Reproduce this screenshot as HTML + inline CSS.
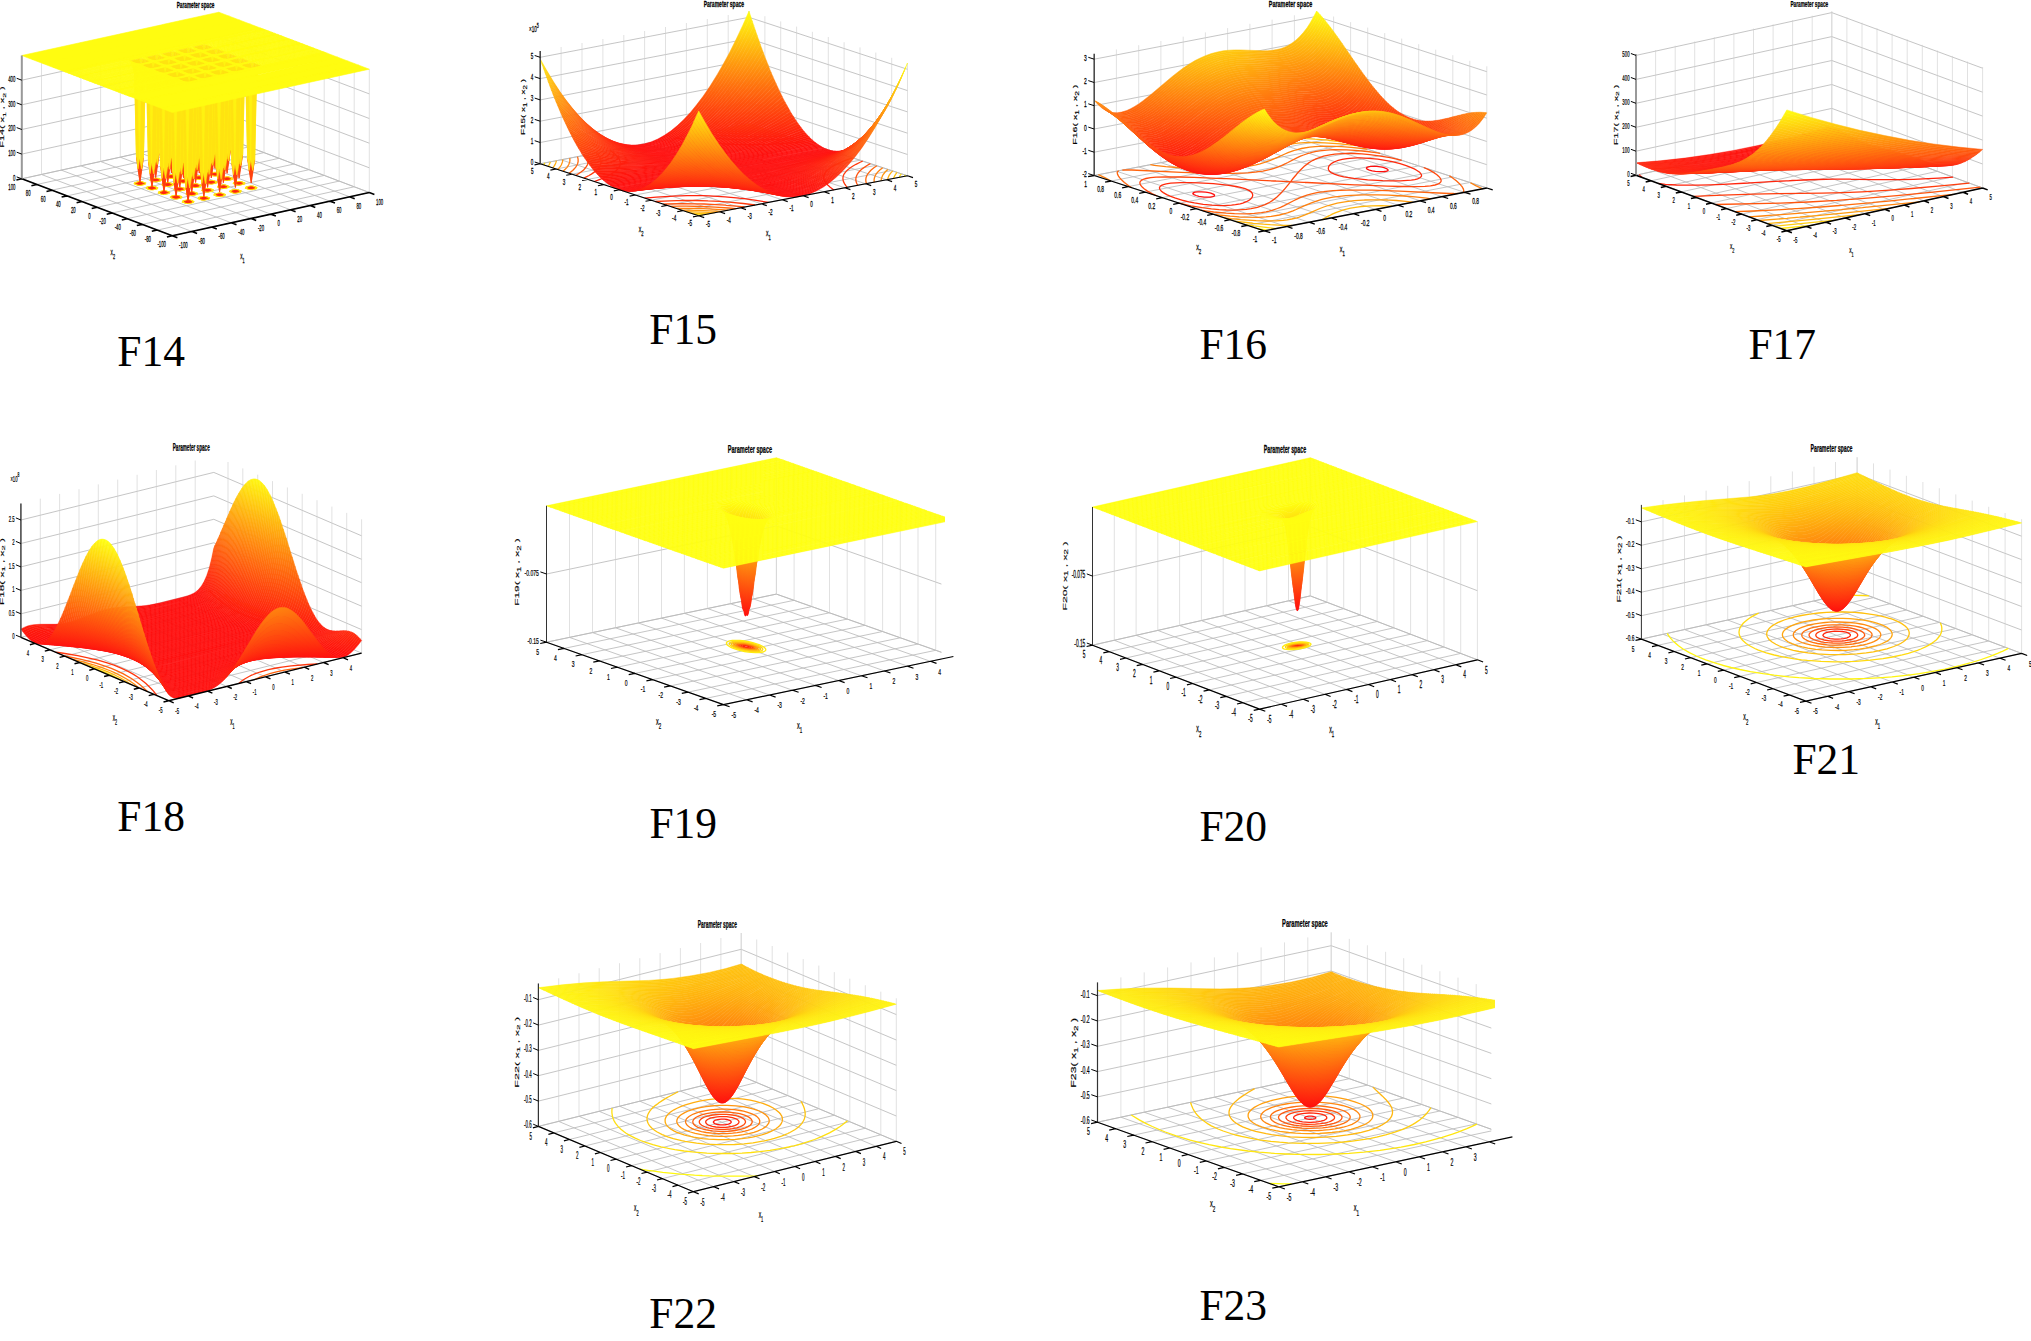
<!DOCTYPE html>
<html><head><meta charset="utf-8"><title>F14-F23</title>
<style>html,body{margin:0;padding:0;background:#fff;overflow:hidden}svg{display:block}
.g{fill:none;stroke:#bbb;stroke-width:.85}.v{fill:none;stroke:#ccc;stroke-width:.6}.a{fill:none;stroke:#000}.t{fill:none;stroke:#000;stroke-width:1}
.k{fill:none;stroke-width:13}path[class^=c]{stroke-width:6;stroke-linejoin:round}
text{font-family:"Liberation Sans",sans-serif;fill:#000;stroke:#000;stroke-width:.25}
.b{font-family:"Liberation Serif",serif;font-size:43.5px;stroke:none}
.c9{fill:#ff3d0e;stroke:#ff3d0e}.c10{fill:#ff420e;stroke:#ff420e}.c11{fill:#ff470e;stroke:#ff470e}.c42{fill:#ffe310;stroke:#ffe310}.c45{fill:#fff210;stroke:#fff210}.c47{fill:#fffc10;stroke:#fffc10}</style></head><body>
<svg width="2031" height="1341" viewBox="0 0 2031 1341">
<defs><linearGradient id="G15" gradientUnits="userSpaceOnUse" x1="6987" y1="2158" x2="6779" y2="1070"><stop offset="0" stop-color="#ff0d0d"/><stop offset="1" stop-color="#ffff10"/></linearGradient><linearGradient id="G16" gradientUnits="userSpaceOnUse" x1="12644" y1="2083" x2="12460" y2="1126"><stop offset="0" stop-color="#ff0d0d"/><stop offset="1" stop-color="#ffff10"/></linearGradient><linearGradient id="G17" gradientUnits="userSpaceOnUse" x1="17868" y1="2307" x2="17616" y2="1154"><stop offset="0" stop-color="#ff0d0d"/><stop offset="1" stop-color="#ffff10"/></linearGradient><linearGradient id="G18" gradientUnits="userSpaceOnUse" x1="1687" y1="7007" x2="1376" y2="5746"><stop offset="0" stop-color="#ff0d0d"/><stop offset="1" stop-color="#ffff10"/></linearGradient><linearGradient id="G19" gradientUnits="userSpaceOnUse" x1="7235" y1="6742" x2="7023" y2="5726"><stop offset="0" stop-color="#ff0d0d"/><stop offset="1" stop-color="#ffff10"/></linearGradient><clipPath id="gF19"><rect x="0" y="0" width="941.4" height="1341"/></clipPath><clipPath id="sF19"><rect x="0" y="0" width="945" height="1341"/></clipPath><linearGradient id="G20" gradientUnits="userSpaceOnUse" x1="12596" y1="6740" x2="12374" y2="5759"><stop offset="0" stop-color="#ff0d0d"/><stop offset="1" stop-color="#ffff10"/></linearGradient><linearGradient id="G21" gradientUnits="userSpaceOnUse" x1="18059" y1="6770" x2="17827" y2="5720"><stop offset="0" stop-color="#ff0d0d"/><stop offset="1" stop-color="#ffff10"/></linearGradient><linearGradient id="G22" gradientUnits="userSpaceOnUse" x1="6935" y1="11724" x2="6645" y2="10559"><stop offset="0" stop-color="#ff0d0d"/><stop offset="1" stop-color="#ffff10"/></linearGradient><linearGradient id="G23" gradientUnits="userSpaceOnUse" x1="12787" y1="11759" x2="12523" y2="10526"><stop offset="0" stop-color="#ff0d0d"/><stop offset="1" stop-color="#ffff10"/></linearGradient><clipPath id="gF23"><rect x="0" y="0" width="1491.3" height="1341"/></clipPath><clipPath id="sF23"><rect x="0" y="0" width="1495" height="1341"/></clipPath></defs>
<g id="F14"><path class="g" d="M172.3 235.8L21.8 178.8M192 231.5L41.5 174.5M211.7 227.1L61.2 170.1M231.4 222.8L80.9 165.8M251.1 218.5L100.6 161.5M270.8 214.2L120.3 157.2M290.5 209.8L140 152.8M310.2 205.5L159.7 148.5M329.9 201.2L179.4 144.2M349.6 196.8L199.1 139.8M369.3 192.5L218.8 135.5M172.3 235.8L369.3 192.5M157.2 230.1L354.2 186.8M142.2 224.4L339.2 181.1M127.2 218.7L324.2 175.4M112.1 213L309.1 169.7M97.1 207.3L294.1 164M82 201.6L279 158.3M67 195.9L264 152.6M51.9 190.2L248.9 146.9M36.8 184.5L233.8 141.2M21.8 178.8L218.8 135.5M21.8 178.8L218.8 135.5M218.8 135.5L369.3 192.5M21.8 154.1L218.8 110.8M218.8 110.8L369.3 167.8M21.8 129.5L218.8 86.2M218.8 86.2L369.3 143.2M21.8 104.8L218.8 61.5M218.8 61.5L369.3 118.5M21.8 80.2L218.8 36.9M218.8 36.9L369.3 93.9"/><path class="v" d="M21.8 178.8L21.8 55.5M41.5 174.5L41.5 51.2M61.2 170.1L61.2 46.8M80.9 165.8L80.9 42.5M100.6 161.5L100.6 38.2M120.3 157.2L120.3 33.9M140 152.8L140 29.5M159.7 148.5L159.7 25.2M179.4 144.2L179.4 20.9M199.1 139.8L199.1 16.5M218.8 135.5L218.8 12.2M369.3 192.5L369.3 69.2M354.2 186.8L354.2 63.5M339.2 181.1L339.2 57.8M324.2 175.4L324.2 52.1M309.1 169.7L309.1 46.4M294.1 164L294.1 40.7M279 158.3L279 35M264 152.6L264 29.3M248.9 146.9L248.9 23.6M233.8 141.2L233.8 17.9M218.8 135.5L218.8 12.2"/><g transform="scale(.1)"><g class="k" stroke-width="6"><path stroke="#ff250d" d="M1894 2022l-30-1 4-9 30 1-4 9M2051 1987l-28-1 4-8 27 1-3 8M2207 1952l-25-1 3-7 25 1-3 7M2364 1917l-23-1 3-7 23 1-3 7M2520 1882l-20-1 3-6 20 1-3 6M1774 1976l-30-1 4-8 29 1-3 8M1930 1941l-27-1 4-8 27 1-4 8M2087 1906l-25-1 3-7 25 1-3 7M2243 1871l-22-1 3-6 22 1-3 6M2399 1836l-19-1 3-5 19 0-3 6M1653 1931l-29-2 4-8 29 1-4 9M1809 1896l-26-2 3-7 27 1-4 8M1966 1860l-24-1 3-6 24 1-3 6M2122 1825l-21 0 3-7 21 1-3 6M2279 1790l-19 0 3-6 18 1-2 5M1532 1885l-28-1 4-9 28 2-4 8M1689 1850l-26-1 3-8 26 1-3 8M1845 1815l-23-1 3-7 23 1-3 7M2002 1780l-21-1 3-6 21 1-3 6M2158 1745l-18-1 2-5 19 0-3 6M1412 1839l-28-1 3-8 28 1-3 8M1568 1804l-25-1 3-7 26 1-4 7M1725 1769l-23-1 3-6 23 0-3 7M1881 1734l-20-1 3-6 20 1-3 6M2038 1699l-18-1 2-5 18 1-2 5"/><path stroke="#ff3d0e" d="M1898 2023l-22 4-17-5-12-6 0-1 40-8 16 5 12 6 0 1-17 4M2055 1989l-23 3-26-10 0-2 16-4 23-3 27 10-17 6M2213 1954l-17 3-7 0-24-10 1-2 14-4 24-2 14 4 10 5-1 2-14 4M2370 1919l-15 3-10 0-12-4-10-5 2-3 13-3 15-3 10 1 12 3 10 5-2 3-13 3M2528 1885l-14 2-12-1-12-3-8-4 2-3 11-4 14-2 12 0 20 8-2 3-11 4M1777 1978l-22 3-16-5-12-6 17-5 22-3 17 5 11 5 0 1-17 5M1935 1943l-23 3-15-5-11-5 0-1 16-5 18-3 20 5 11 5-1 2-15 4M2092 1908l-16 3-8 0-14-4-10-5 1-2 15-4 16-3 8 0 13 4 10 5-1 2-14 4M2250 1874l-15 2-11 0-21-8 1-3 13-4 15-2 11 0 21 8-1 3-13 4M2407 1839l-13 2-13 0-19-7 2-4 11-3 14-3 12 1 11 3 8 4-1 4-12 3M1657 1932l-23 3-15-4-12-6 0-1 17-5 22-3 16 5 12 6-17 5M1814 1897l-23 3-15-4-10-5 0-2 15-4 24-3 15 4 10 6 0 1-16 4M1972 1863l-17 3-8-1-13-4-10-5 1-2 14-4 17-3 8 1 13 4 10 5-1 2-14 4M2129 1828l-15 3-10-1-12-3-9-5 1-3 13-3 15-3 10 1 12 3 9 4-1 4-13 3M2287 1793l-13 3-14-1-10-3-8-4 1-4 12-3 13-2 13 0 19 7-2 4-11 3M1537 1886l-23 4-16-5-11-6 0-1 16-4 23-3 16 4 11 6 0 1-16 4M1694 1852l-24 3-25-10 1-2 15-4 24-3 25 10-1 2-15 4M1851 1817l-16 3-8 0-13-4-10-5 1-3 30-6 8 0 13 4 10 5-1 2-14 4M2009 1782l-15 3-11-1-12-3-8-4 1-3 12-4 15-2 11 0 21 8-2 3-12 3M2166 1748l-13 2-13-1-18-6 1-4 11-3 13-3 14 1 10 3 8 4-2 4-11 3M1416 1841l-23 3-27-10 17-6 23-3 27 10-17 6M1574 1806l-24 3-14-4-11-5 1-2 15-4 17-3 7 0 14 4 10 5-1 2-14 4M1731 1771l-16 3-9 0-13-4-9-5 1-2 13-4 16-3 9 1 23 8-2 3-13 3M1888 1737l-14 2-11 0-20-8 1-3 26-6 12 1 11 3 9 4-2 3-12 4M2046 1702l-13 2-14 0-10-3-8-4 2-4 11-3 12-2 15 0 10 3 7 4-1 4-11 3"/><path stroke="#ff550e" d="M1879 2028l-5 0-30-12 0-1 18-5 26-4 31 12-19 6-21 4M2036 1993l-5 0-17-5-13-6 1-2 18-5 26-3 17 5 13 6-19 6-21 4M2193 1958l-4 0-17-5-13-6 19-6 25-4 17 5 13 7 0 1-18 5-22 3M2351 1924l-4 0-30-12 0-1 19-5 21-4 21 6 13 6-19 6-21 4M2508 1889l-20-5-13-6 0-2 43-8 17 5 13 6 0 1-18 5-22 4M1758 1982l-5 0-17-5-13-6 1-2 18-5 26-3 17 5 13 6 0 2-40 8M1916 1948l-22-6-13-6 19-6 25-4 18 5 13 7-19 6-21 4M2073 1913l-4 0-30-12 0-1 19-5 21-4 21 6 13 6-19 6-21 4M2231 1878l-4 0-17-5-13-6 0-2 43-8 17 5 13 6 0 1-18 5-21 4M2388 1843l-4 0-17-5-13-6 19-6 25-4 30 12-19 6-21 3M1638 1937l-22-6-13-6 19-6 26-4 17 5 13 7-19 6-21 4M1795 1902l-4 0-30-12 0-1 18-5 22-4 21 6 13 6 0 1-19 5-21 4M1953 1867l-4 0-18-5-13-6 1-2 43-8 18 5 13 6-1 2-39 8M2110 1833l-21-6-13-6 19-6 25-4 30 12 0 1-19 5-21 4M2268 1798l-4 0-30-12 0-1 19-5 24-3 17 5 13 6 0 1-18 5-21 4M1517 1891l-4 0-17-5-13-7 0-1 18-5 22-4 21 6 13 6 0 1-19 5-21 4M1675 1856l-5 0-17-5-13-6 1-2 39-8 5 0 17 5 13 6-1 2-18 5-21 3M1832 1822l-21-6-13-6 19-6 25-4 30 12 0 1-19 5-21 4M1990 1787l-4 0-17-5-13-7 0-1 18-5 26-3 17 5 13 6-19 6-21 4M2147 1752l-20-5-13-6 0-1 18-5 25-4 17 5 13 7 0 1-40 8M1397 1845l-5 0-17-5-13-6 1-2 39-8 5 0 17 5 13 6-1 2-18 5-21 3M1554 1811l-4 0-30-12 0-1 19-5 25-4 30 12 0 1-18 5-22 4M1712 1776l-4 0-17-5-13-7 0-1 18-5 26-3 17 5 13 6-19 6-21 4M1869 1741l-21-5-13-6 19-6 25-4 17 5 13 7 0 1-19 5-21 3M2027 1707l-21-6-13-6 19-6 21-4 21 6 13 6-19 6-21 4"/><path stroke="#ff6e0e" d="M1881 2029l-10-1-17-5-13-6 1-3 39-9 10 1 17 5 13 6-1 3-18 5-21 4M2038 1994l-9 0-17-6-14-6 2-3 39-8 10 0 17 5 13 7-1 2-40 9M2196 1959l-10 0-16-5-14-6 1-3 19-5 21-4 9 0 30 12-1 3-39 8M2353 1925l-9-1-17-5-13-6 1-3 19-5 21-3 9 0 16 5 14 6-1 3-40 9M2511 1890l-9 0-30-12 1-2 18-5 21-4 9 0 30 12-1 2-18 5-21 4M1760 1983l-10 0-16-6-14-6 2-3 39-8 10 0 17 5 13 7-1 2-40 9M1918 1948l-10 0-16-5-14-6 1-3 19-5 21-4 9 1 17 5 13 6-1 3-39 8M2075 1914l-9-1-17-5-13-6 1-3 19-5 21-3 9 0 17 5 13 6-1 3-40 9M2233 1879l-9 0-30-12 1-2 18-5 21-4 9 0 30 12-1 2-18 5-21 4M2390 1844l-9 0-16-5-14-6 2-3 18-5 21-4 9 1 16 5 14 6-1 3-40 8M1640 1937l-10 0-17-5-13-6 1-3 40-9 9 1 17 5 14 6-2 3-18 5-21 3M1797 1903l-9-1-17-5-13-6 1-3 18-5 21-3 10 0 17 5 13 6-1 3-40 9M1955 1868l-9 0-31-12 2-2 18-5 21-4 9 0 31 12-2 2-18 5-21 4M2112 1833l-9 0-16-5-14-6 1-3 40-9 9 1 17 5 13 6-1 3-19 5-21 3M2270 1799l-9-1-17-5-13-6 1-3 40-8 8 0 17 5 13 6-1 3-18 5-21 4M1519 1892l-9-1-17-5-13-6 1-3 18-5 21-3 10 0 17 5 13 6-1 3-40 9M1677 1857l-10 0-30-12 2-2 18-5 21-4 10 0 30 12-2 2-18 5-21 4M1834 1822l-9 0-17-5-13-6 1-3 40-9 9 1 17 5 13 6-1 3-19 5-21 3M1992 1788l-9-1-17-5-13-6 1-3 39-8 9 0 17 5 14 7-2 2-18 5-21 4M2149 1753l-8 0-30-12 1-2 18-5 21-4 9 0 30 12-1 2-40 9M1399 1846l-10 0-30-12 2-2 18-5 21-4 10 0 30 12-2 3-39 8M1557 1812l-10-1-17-5-13-6 1-3 40-9 9 1 17 5 13 6-1 3-18 5-21 4M1714 1777l-9-1-17-5-13-6 1-3 39-8 10 0 16 5 14 7-2 2-18 5-21 4M1872 1742l-9 0-31-12 2-2 18-5 21-4 9 1 17 5 13 6-1 3-39 8M2029 1707l-9 0-16-5-14-6 1-3 19-5 21-3 9 0 16 5 14 6-2 3-18 5-21 3"/><path stroke="#ff860e" d="M1883 2029l-15 0-30-12 2-4 19-5 20-3 15 0 30 11-2 5-18 5-21 3M2040 1995l-14-1-17-5-13-6 2-4 18-5 21-4 15 0 30 12-2 4-40 9M2198 1960l-15 0-30-12 2-4 19-5 21-4 14 1 17 5 13 6-2 4-18 5-21 4M2355 1925l-14 0-30-12 2-4 39-8 15 0 30 12-2 4-40 8M2513 1891l-14-1-17-5-13-6 2-4 18-5 21-4 14 1 17 5 13 6-2 4-18 5-21 4M1762 1984l-14-1-17-5-13-6 2-4 18-5 21-4 15 0 30 12-2 4-40 9M1920 1949l-15 0-30-12 2-4 19-5 21-4 14 1 17 5 13 6-2 5-39 8M2078 1915l-15-1-16-5-14-6 2-5 39-8 15 0 30 12-2 4-39 9M2235 1880l-14-1-17-5-13-6 2-4 18-5 21-4 14 1 17 5 13 6-2 4-18 5-21 4M2393 1845l-15 0-30-12 2-4 19-5 21-4 14 1 16 5 14 6-2 5-39 8M1642 1938l-15 0-30-12 2-4 19-5 21-4 14 1 17 5 13 6-2 5-39 8M1800 1904l-15-1-16-5-14-6 2-5 39-8 15 0 30 12-2 4-39 9M1957 1869l-14-1-17-5-13-6 1-4 40-9 14 1 17 5 13 6-1 4-40 9M2115 1834l-15 0-30-12 2-4 19-5 21-4 14 1 16 5 14 6-2 5-39 8M2272 1800l-14-1-16-5-14-6 2-4 19-5 20-4 14 0 30 12-1 4-40 9M1522 1893l-15-1-17-5-13-6 2-5 39-8 15 0 30 12-2 4-39 9M1679 1858l-14-1-17-5-14-6 2-4 19-5 21-4 14 1 17 5 14 6-2 4-40 9M1837 1823l-15 0-30-12 2-4 19-5 21-3 14 0 16 5 14 6-2 5-39 8M1994 1789l-14-1-16-5-14-6 2-4 18-5 21-4 14 0 31 12-2 4-40 9M2152 1754l-14-1-17-5-13-6 1-4 40-9 14 1 16 5 14 6-2 4-39 9M1401 1847l-15-1-16-5-14-6 2-4 19-5 21-4 15 1 16 5 14 6-2 4-40 9M1559 1812l-15 0-30-12 2-4 19-5 20-3 15 0 30 11-2 5-39 8M1716 1778l-14-1-16-5-14-6 2-4 18-5 21-4 15 0 30 12-2 4-40 9M1874 1743l-14-1-17-5-14-6 2-4 19-5 21-4 14 1 16 5 14 6-2 4-18 5-21 4M2031 1708l-14 0-30-12 2-4 39-8 14 0 31 12-2 4-40 8"/><path stroke="#ff9e0f" d="M1885 2030l-20-1-16-5-14-6 3-6 39-8 20 0 30 12-3 6-39 8M2043 1996l-20-1-30-12 2-5 19-5 21-4 20 1 16 5 14 6-3 6-39 9M2200 1961l-20-1-16-5-14-6 3-6 19-5 20-4 20 1 30 12-2 5-40 9M2358 1926l-20 0-30-12 3-6 19-4 20-4 20 1 16 5 14 6-3 6-39 8M2515 1892l-19-1-30-12 2-5 19-5 21-4 19 1 16 5 14 6-2 6-40 9M1765 1985l-20-1-30-12 2-5 19-5 21-4 20 1 16 5 14 6-3 6-39 9M1922 1950l-20-1-16-5-14-6 3-6 39-9 20 1 30 12-2 5-40 9M2080 1915l-20 0-30-12 3-5 19-5 20-4 20 1 16 5 14 6-3 6-39 8M2237 1881l-19-1-30-11 2-6 19-5 21-4 19 1 16 5 14 6-2 6-40 9M2395 1846l-20-1-16-5-14-6 3-6 39-8 20 0 30 12-3 5-39 9M1644 1939l-20-1-16-5-14-6 3-6 39-9 20 1 30 12-2 5-40 9M1802 1904l-20 0-30-12 3-5 19-5 20-4 20 1 16 5 14 6-3 6-39 8M1959 1870l-19-1-30-11 2-6 19-5 21-4 19 1 30 11-2 6-40 9M2117 1835l-20-1-16-5-14-6 3-6 39-8 20 0 30 12-3 5-39 9M2274 1800l-19 0-30-12 3-5 19-5 20-4 19 1 16 5 14 6-2 6-40 8M1524 1893l-20 0-30-12 3-5 18-5 21-4 20 1 16 5 14 6-3 6-39 8M1681 1859l-19-1-16-5-14-6 2-6 19-5 21-4 19 1 30 11-2 6-40 9M1839 1824l-20-1-16-5-14-6 3-6 39-8 20 0 30 12-3 5-39 9M1996 1789l-19 0-30-12 3-5 18-5 21-4 19 1 16 5 14 6-2 6-40 8M2154 1755l-19-1-16-5-14-6 2-6 19-5 21-4 19 1 30 12-3 5-39 9M1403 1848l-19-1-31-11 3-6 19-5 21-4 19 1 31 11-3 6-40 9M1561 1813l-20-1-16-5-14-6 3-6 39-8 20 0 30 12-3 6-39 8M1719 1779l-20-1-30-12 2-5 19-5 21-4 19 1 31 11-3 6-39 9M1876 1744l-19-1-16-5-14-6 2-6 19-5 21-4 19 1 30 12-3 5-18 5-21 4M2034 1709l-20-1-16-5-14-6 3-6 39-8 19 1 17 5 14 6-3 6-39 8"/><path stroke="#ffb60f" d="M1887 2031l-25-1-30-11 4-7 19-5 20-4 25 1 16 5 14 6-3 7-40 9M2045 1996l-25-1-16-5-14-6 3-7 19-5 21-4 24 1 31 12-4 7-39 8M2202 1962l-24-1-31-12 4-7 19-4 20-4 25 1 16 5 14 6-3 7-40 9M2360 1927l-25-1-30-11 3-7 20-5 20-4 25 1 30 11-4 7-39 9M2518 1892l-25 0-30-12 3-7 19-5 20-4 25 1 30 12-3 7-39 8M1767 1986l-25-1-30-12 3-7 19-5 21-4 25 1 30 12-4 7-39 9M1924 1951l-24-1-31-12 4-7 19-4 20-4 25 1 16 5 14 6-3 7-40 9M2082 1916l-25-1-16-5-14-6 3-7 20-5 20-4 25 1 30 11-4 8-39 8M2240 1882l-25-1-30-12 3-7 39-9 25 1 30 12-3 7-39 9M2397 1847l-25-1-30-11 4-8 39-8 25 1 30 11-3 7-40 9M1646 1940l-25-1-30-11 4-8 39-8 25 1 16 5 14 6-3 7-40 9M1804 1905l-25-1-16-5-14-6 3-7 20-5 20-4 25 1 30 11-4 8-39 8M1962 1871l-25-1-30-12 3-7 39-9 25 1 30 12-3 7-39 9M2119 1836l-25-1-30-11 4-8 39-8 25 1 30 11-3 7-40 9M2277 1801l-25-1-16-5-14-6 3-7 19-5 21-4 24 1 30 12-3 7-39 8M1526 1894l-25-1-16-5-14-6 3-7 20-5 20-4 25 1 30 11-4 8-39 8M1684 1860l-25-1-30-12 3-7 39-9 25 1 30 12-3 7-39 9M1841 1825l-25-1-30-11 4-8 39-8 25 1 16 5 14 6-3 7-40 9M1999 1790l-25-1-16-5-14-6 3-7 19-5 21-4 24 1 30 12-3 7-39 8M2156 1756l-24-1-30-12 3-7 19-4 20-4 25 1 16 5 14 6-3 7-40 9M1406 1849l-25-1-30-12 3-7 39-9 25 1 30 12-3 7-39 9M1563 1814l-25-1-30-11 4-8 39-8 25 1 16 5 14 6-3 7-40 9M1721 1779l-25-1-16-5-14-6 3-7 19-5 21-4 24 1 30 12-3 7-39 8M1878 1745l-24-1-30-12 3-7 19-4 20-4 25 1 16 5 14 6-3 7-40 9M2036 1710l-25-1-30-11 4-7 19-5 20-4 24 1 31 11-4 7-39 9"/><path stroke="#ffcf0f" d="M1889 2032l-30-1-30-12 4-8 20-5 20-4 30 1 30 12-4 8-40 9M2047 1997l-30-1-30-11 4-9 39-9 30 2 16 5 14 6-4 9-39 8M2205 1963l-30-2-16-5-14-6 4-9 39-8 30 1 30 11-4 9-39 9M2362 1928l-30-1-30-12 4-8 20-5 20-4 30 1 30 12-4 8-40 9M2520 1893l-30-1-30-11 4-9 39-9 30 2 30 11-4 9-39 8M1769 1986l-30-1-30-11 4-9 39-9 30 2 16 5 14 6-4 9-39 8M1927 1952l-30-1-30-12 4-9 39-8 30 1 30 11-4 9-39 9M2084 1917l-30-1-30-12 4-8 20-5 20-4 30 1 30 12-4 8-40 9M2242 1882l-30-1-16-5-14-6 4-9 39-8 30 1 16 5 14 6-4 9-39 8M2399 1848l-29-1-31-12 4-8 20-5 20-4 30 1 30 11-4 9-40 9M1649 1941l-30-1-30-12 4-9 39-8 30 1 30 11-4 9-39 9M1806 1906l-30-1-30-11 4-9 20-5 20-4 30 1 30 12-4 8-40 9M1964 1871l-30-1-16-5-14-6 4-9 39-8 30 1 16 5 14 6-4 9-39 8M2121 1837l-30-1-30-12 4-8 20-5 20-4 30 1 30 12-4 8-40 9M2279 1802l-30-1-30-11 4-9 39-9 30 1 30 12-4 8-39 9M1528 1895l-30-1-30-11 4-9 20-5 20-4 30 1 30 12-4 8-40 9M1686 1860l-30-1-16-5-14-6 4-9 39-8 30 1 16 5 14 6-4 9-39 8M1843 1826l-30-1-30-12 4-8 20-5 20-4 30 1 30 12-4 8-40 9M2001 1791l-30-1-30-11 4-9 39-9 30 2 16 5 14 6-4 9-39 8M2159 1757l-30-2-16-5-14-6 4-9 39-8 30 1 30 11-4 9-39 9M1408 1850l-30-2-16-5-14-6 4-9 39-8 30 1 16 5 14 6-4 9-39 9M1565 1815l-30-1-30-12 4-8 20-5 20-4 30 1 30 12-4 8-40 9M1723 1780l-30-1-30-11 4-9 39-9 30 2 16 5 14 6-4 9-39 8M1881 1746l-30-2-16-5-14-6 4-9 39-8 30 1 30 11-4 9-39 9M2038 1711l-30-1-30-12 4-8 20-5 20-4 29 1 31 12-4 8-40 9"/><path stroke="#ffe710" d="M1893 2033l-38-1-31-13 6-10 40-8 37 1 31 13-4 8-2 1-39 9M2050 1998l-4 1-29-1-34-12-1-2 4-8 21-6 20-4 34 1 19 6 15 6 0 1-5 10-40 8M2208 1964l-34-1-19-6-15-6 0-1 5-10 44-9 33 2 30 11 1 2-4 8-2 1-39 9M2365 1929l-37-1-31-13 4-8 21-6 20-4 38 1 31 13-6 10-40 8M2523 1895l-34-1-34-13 4-9 2-1 39-9 34 1 19 6 15 7-4 9-2 1-39 9M1772 1988l-33-1-34-12-1-2 4-8 21-6 20-4 34 1 19 6 15 6 0 1-5 10-40 9M1930 1953l-34-1-19-6-15-6 0-1 5-10 44-9 33 2 30 11 1 2-4 8-2 1-39 9M2087 1918l-37-1-31-13 4-8 21-6 20-4 38 1 30 12 1 1-4 9-42 9M2245 1884l-34-1-19-6-15-7 4-9 2-1 39-9 34 1 19 6 15 7-4 9-2 1-39 9M2403 1849l-34-1-19-6-16-7 4-9 2-1 43-9 34 2 31 13-4 8-2 1-39 9M1652 1942l-34-1-19-6-15-6 0-1 5-10 44-9 33 2 30 11 1 2-4 8-2 1-39 9M1809 1907l-4 1-33-2-31-13 4-8 21-6 20-4 38 1 30 12 1 1-4 9-42 9M1967 1873l-34-1-19-6-15-7 4-9 2-1 39-9 34 1 19 6 15 7-4 9-2 1-39 9M2125 1838l-38-1-31-13 4-9 2-1 40-8 37 1 31 13-4 8-2 1-39 9M2282 1803l-4 1-33-2-31-13 4-8 21-6 20-4 34 1 19 6 15 6 0 1-5 10-40 8M1531 1896l-4 1-33-2-31-13 4-8 21-6 20-4 38 1 30 12 1 1-4 9-42 9M1689 1862l-34-1-19-6-15-7 4-9 2-1 39-9 34 1 19 6 15 7-4 9-2 1-39 9M1847 1827l-38-1-31-13 4-9 2-1 40-8 37 1 31 13-4 8-2 1-39 9M2004 1792l-4 1-33-2-30-11-1-2 4-8 21-6 20-4 34 1 19 6 15 6 0 1-5 10-40 8M2162 1758l-34-1-19-6-15-6 0-1 5-10 40-9 34 1 34 13-4 9-2 1-39 9M1411 1851l-34-1-19-6-15-7 4-9 2-1 39-9 34 1 34 13-4 9-2 1-39 9M1569 1816l-38-1-31-13 4-9 2-1 40-8 37 1 31 13-4 8-2 1-39 9M1726 1781l-4 1-33-2-30-11-1-2 4-8 21-6 20-4 34 1 19 6 15 6 0 1-5 10-40 8M1884 1747l-34-1-19-6-15-6 0-1 5-10 44-9 30 1 33 12 1 2-4 8-2 1-39 9M2041 1712l-37-1-31-13 4-8 2-1 39-9 38 1 30 12 0 1-5 9-40 9"/><path stroke="#ff3d0e" d="M1898 2023l-22 4-17-5-12-6 0-1 40-8 16 5 12 6 0 1-17 4M2055 1989l-23 3-26-10 0-2 16-4 23-3 27 10-17 6M2213 1954l-17 3-7 0-24-10 1-2 14-4 24-2 14 4 10 5-1 2-14 4M2370 1919l-15 3-10 0-12-4-10-5 2-3 13-3 15-3 10 1 12 3 10 5-2 3-13 3M2528 1885l-14 2-12-1-12-3-8-4 2-3 11-4 14-2 12 0 20 8-2 3-11 4M1777 1978l-22 3-16-5-12-6 17-5 22-3 17 5 11 5 0 1-17 5M1935 1943l-23 3-15-5-11-5 0-1 16-5 18-3 20 5 11 5-1 2-15 4M2092 1908l-16 3-8 0-14-4-10-5 1-2 15-4 16-3 8 0 13 4 10 5-1 2-14 4M2250 1874l-15 2-11 0-21-8 1-3 13-4 15-2 11 0 21 8-1 3-13 4M2407 1839l-13 2-13 0-19-7 2-4 11-3 14-3 12 1 11 3 8 4-1 4-12 3M1657 1932l-23 3-15-4-12-6 0-1 17-5 22-3 16 5 12 6-17 5M1814 1897l-23 3-15-4-10-5 0-2 15-4 24-3 15 4 10 6 0 1-16 4M1972 1863l-17 3-8-1-13-4-10-5 1-2 14-4 17-3 8 1 13 4 10 5-1 2-14 4M2129 1828l-15 3-10-1-12-3-9-5 1-3 13-3 15-3 10 1 12 3 9 4-1 4-13 3M2287 1793l-13 3-14-1-10-3-8-4 1-4 12-3 13-2 13 0 19 7-2 4-11 3M1537 1886l-23 4-16-5-11-6 0-1 16-4 23-3 16 4 11 6 0 1-16 4M1694 1852l-24 3-25-10 1-2 15-4 24-3 25 10-1 2-15 4M1851 1817l-16 3-8 0-13-4-10-5 1-3 30-6 8 0 13 4 10 5-1 2-14 4M2009 1782l-15 3-11-1-12-3-8-4 1-3 12-4 15-2 11 0 21 8-2 3-12 3M2166 1748l-13 2-13-1-18-6 1-4 11-3 13-3 14 1 10 3 8 4-2 4-11 3M1416 1841l-23 3-27-10 17-6 23-3 27 10-17 6M1574 1806l-24 3-14-4-11-5 1-2 15-4 17-3 7 0 14 4 10 5-1 2-14 4M1731 1771l-16 3-9 0-13-4-9-5 1-2 13-4 16-3 9 1 23 8-2 3-13 3M1888 1737l-14 2-11 0-20-8 1-3 26-6 12 1 11 3 9 4-2 3-12 4M2046 1702l-13 2-14 0-10-3-8-4 2-4 11-3 12-2 15 0 10 3 7 4-1 4-11 3"/><path stroke="#ff250d" d="M1894 2022l-30-1 4-9 30 1-4 9M2051 1987l-28-1 4-8 27 1-3 8M2207 1952l-25-1 3-7 25 1-3 7M2364 1917l-23-1 3-7 23 1-3 7M2520 1882l-20-1 3-6 20 1-3 6M1774 1976l-30-1 4-8 29 1-3 8M1930 1941l-27-1 4-8 27 1-4 8M2087 1906l-25-1 3-7 25 1-3 7M2243 1871l-22-1 3-6 22 1-3 6M2399 1836l-19-1 3-5 19 0-3 6M1653 1931l-29-2 4-8 29 1-4 9M1809 1896l-26-2 3-7 27 1-4 8M1966 1860l-24-1 3-6 24 1-3 6M2122 1825l-21 0 3-7 21 1-3 6M2279 1790l-19 0 3-6 18 1-2 5M1532 1885l-28-1 4-9 28 2-4 8M1689 1850l-26-1 3-8 26 1-3 8M1845 1815l-23-1 3-7 23 1-3 7M2002 1780l-21-1 3-6 21 1-3 6M2158 1745l-18-1 2-5 19 0-3 6M1412 1839l-28-1 3-8 28 1-3 8M1568 1804l-25-1 3-7 26 1-4 7M1725 1769l-23-1 3-6 23 0-3 7M1881 1734l-20-1 3-6 20 1-3 6M2038 1699l-18-1 2-5 18 1-2 5"/></g><path class="c47" d="M218 555l1399-307 19-5 552-121 105 40-1970 433zM323 595l1970-433 106 40-1832 402-138 31zM429 635l1970-433 105 40-1832 402-138 31zM534 675l1970-433 105 40-1832 402-138 31zM639 715l1970-433 15 5-1970 433zM654 720l1833-402 137-31 16 6-592 131-78 19-690 151-59 11-551 121zM670 726l590-129 40-7 729-161 59-15 552-121 15 6-572 126-19 6-40 18-20 6-59 12-19-1-20 1-20 8-19 9-40 10-39 7-40 1-19 7-20 10-59 14-20 3-20-1-19 2-20 7-20 9-19 6-59 12-20-1-20 1-20 8-19 9-59 14-20 3-39-1-40 7-414 90-137 31zM2044 440l20-9 19-6 572-126 15 5-572 127-19 6-20 14z"/><path class="c45" d="M2024 449l20-9 15 11-20 63z"/><path class="c42" d="M1945 467l59-12 20-6 15 65-19 65-20 6-20 3-20-57z"/><path class="c45" d="M1926 466l19 1 15 64-19-54z"/><path class="c47" d="M1886 475l20-8 20-1 15 11-20-3-20 12z"/><path class="c45" d="M1867 484l19-9 15 11-19 63z"/><path class="c42" d="M1788 501l39-7 40-10 15 65-20 65-20 6-19 2-20-56z"/><path class="c45" d="M1768 501l20 0 15 65-20-54z"/><path class="c47" d="M1729 509l19-7 20-1 15 11-20-4-19 13z"/><path class="c45" d="M1709 519l20-10 15 12-20 62z"/><path class="c42" d="M1630 536l20-3 59-14 15 64-20 66-19 6-20 2-20-56z"/><path class="c45" d="M1610 535l20 1 15 65-20-54z"/><path class="c47" d="M1571 544l20-7 19-2 15 12-19-4-20 12z"/><path class="c45" d="M1551 553l20-9 15 11-20 63z"/><path class="c42" d="M1473 571l59-12 19-6 15 65-19 65-20 6-20 3-19-57z"/><path class="c45" d="M1453 570l20 1 15 64-20-54z"/><path class="c47" d="M1413 579l20-8 20-1 15 11-20-4-20 13z"/><path class="c45" d="M1394 588l19-9 15 11-19 63z"/><path class="c42" d="M1315 605l39-7 40-10 15 65-20 65-20 6-19 3-20-57z"/><path class="c45" d="M1295 604l20 1 15 65-20-55z"/><path class="c47" d="M685 732l571-125 20-3 19 0 15 11-19-5-20 2-571 125zM2059 451l20-14 19-6 158-36 276-60 138-31 15 6-572 126-19 6-20 15z"/><path class="c42" d="M2039 514l20-63 15 6-20 123z"/><path class="c45" d="M2020 579l19-65 15 66-19 817z"/><path class="c42" d="M1980 588l20-3 20-6 15 818-20 107-20-98z"/><path class="c45" d="M1960 531l20 57 15 818-20-808z"/><path class="c42" d="M1941 477l19 54 15 67-19-114z"/><path class="c47" d="M1901 486l20-12 20 3 15 7-20-5-20 14z"/><path class="c42" d="M1882 549l19-63 15 7-19 122z"/><path class="c45" d="M1862 614l20-65 15 66-20 824z"/><path class="c42" d="M1823 622l19-2 20-6 15 825-20 109-19-100z"/><path class="c45" d="M1803 566l20 56 15 826-20-815z"/><path class="c42" d="M1783 512l20 54 15 67-20-114z"/><path class="c47" d="M1744 521l19-13 20 4 15 7-20-5-19 13z"/><path class="c42" d="M1724 583l20-62 15 6-20 123z"/><path class="c45" d="M1704 649l20-66 15 67-20 831z"/><path class="c42" d="M1665 657l20-2 19-6 15 832-19 110-20-101z"/><path class="c45" d="M1645 601l20 56 15 833-20-823z"/><path class="c42" d="M1625 547l20 54 15 66-19-114z"/><path class="c47" d="M1586 555l20-12 19 4 16 6-20-4-20 13z"/><path class="c42" d="M1566 618l20-63 15 7-20 123z"/><path class="c45" d="M1547 683l19-65 15 67-19 838z"/><path class="c42" d="M1507 692l20-3 20-6 15 840-20 112-20-103z"/><path class="c45" d="M1488 635l19 57 15 840-19-830z"/><path class="c42" d="M1468 581l20 54 15 67-20-114z"/><path class="c47" d="M1428 590l20-13 20 4 15 7-20-5-19 14z"/><path class="c42" d="M1409 653l19-63 16 7-20 123z"/><path class="c45" d="M1389 718l20-65 15 67-20 845z"/><path class="c42" d="M1350 727l19-3 20-6 15 847-20 114-19-105z"/><path class="c45" d="M1330 670l20 57 15 847-20-837z"/><path class="c42" d="M1310 615l20 55 15 67-20-115z"/><path class="c47" d="M700 737l571-125 20-2 19 5 15 7-19-6-20 2-296 64-275 61zM2074 457l20-15 19-6 572-126 15 6-572 126-19 6-20 15z"/><path class="c42" d="M2035 1397l19-817 20-123 15 6-20 125-19 917z"/><path class="c11" d="M1995 1406l20 98 20-107 15 108-20 132-20-123z"/><path class="c42" d="M1956 484l19 114 20 808 15 108-20-909-19-115z"/><path class="c47" d="M1916 493l20-14 20 5 15 6-20-5-20 13z"/><path class="c42" d="M1877 1439l20-824 19-122 15 5-19 125-20 926z"/><path class="c10" d="M1838 1448l19 100 20-109 15 110-20 134-19-125z"/><path class="c42" d="M1798 519l20 114 20 815 15 110-20-918-20-116z"/><path class="c47" d="M1759 527l19-13 20 5 15 5-19-4-20 13z"/><path class="c42" d="M1719 1481l20-831 20-123 15 6-20 125-20 935z"/><path class="c10" d="M1680 1490l20 101 19-110 15 112-19 136-20-128z"/><path class="c42" d="M1641 553l19 114 20 823 15 111-20-926-19-116z"/><path class="c47" d="M1601 562l20-13 20 4 15 6-20-5-20 14z"/><path class="c42" d="M1562 1523l19-838 20-123 15 6-19 124-20 945z"/><path class="c10" d="M1522 1532l20 103 20-112 15 114-20 139-20-131z"/><path class="c42" d="M1483 588l20 114 19 830 15 113-19-935-20-116z"/><path class="c47" d="M1444 597l19-14 20 5 15 6-20-5-19 13z"/><path class="c42" d="M1404 1565l20-845 20-123 15 5-20 125-20 954z"/><path class="c10" d="M1365 1574l19 105 20-114 15 116-19 141-20-133z"/><path class="c42" d="M1325 622l20 115 20 837 15 115-20-945-20-116z"/><path class="c47" d="M715 743l571-125 20-2 19 6 15 6-19-7-40 7-413 90-138 31zM2089 463l20-15 19-6 572-126 15 6-414 90-158 36-19 6-20 15z"/><path class="c42" d="M2050 1505l19-917 20-125 15 6-20 123-19 817z"/><path class="c11" d="M2010 1514l20 123 35-228-20 106-20-98z"/><path class="c42" d="M1971 490l19 115 20 909 15-97-19-808-20-113z"/><path class="c47" d="M1931 498l20-13 20 5 15 6-20-5-20 13z"/><path class="c42" d="M1892 1549l20-926 19-125 15 6-19 123-20 823z"/><path class="c10" d="M1853 1558l19 125 35-233-20 109-19-100z"/><path class="c42" d="M1813 524l20 116 20 918 15-99-20-815-20-114z"/><path class="c47" d="M1774 533l20-13 19 4 15 6-19-4-20 13z"/><path class="c42" d="M1734 1593l20-935 20-125 15 6-20 123-20 830z"/><path class="c10" d="M1695 1601l20 128 34-237-19 111-20-102z"/><path class="c42" d="M1656 559l19 116 20 926 15-100-20-822-19-114z"/><path class="c47" d="M1616 568l20-14 20 5 15 6-20-5-20 13z"/><path class="c42" d="M1577 1637l20-945 19-124 15 5-19 123-20 839z"/><path class="c10" d="M1537 1645l20 131 35-241-20 112-20-104z"/><path class="c42" d="M1498 594l20 116 19 935 15-102-19-829-20-115z"/><path class="c47" d="M1459 602l19-13 20 5 15 5-20-4-19 13z"/><path class="c42" d="M1419 1681l20-954 20-125 15 6-20 123-20 846z"/><path class="c10" d="M1380 1689l20 133 34-245-19 114-20-105z"/><path class="c42" d="M1340 628l20 116 20 945 15-103-20-838-20-115z"/><path class="c47" d="M730 749l571-125 20-3 34 12-19-6-40 7-413 90-138 31zM2104 469l20-15 19-6 158-36 414-90 15 5-572 127-19 6-20 14z"/><path class="c42" d="M2084 592l20-123 15 5-20 63z"/><path class="c45" d="M2065 1409l19-817 15-55-19 65z"/><path class="c42" d="M2025 1417l20 98 20-106 15-807-20 6-20 3z"/><path class="c45" d="M2006 609l19 808 15-806-19-57z"/><path class="c42" d="M1986 496l20 113 15-55-20-54z"/><path class="c47" d="M1946 504l20-13 35 9-20-3-19 12z"/><path class="c42" d="M1927 627l19-123 16 5-20 63z"/><path class="c45" d="M1907 1450l20-823 15-55-20 65z"/><path class="c42" d="M1868 1459l19 100 20-109 15-813-20 6-19 2z"/><path class="c45" d="M1848 644l20 815 15-814-20-56z"/><path class="c42" d="M1828 530l20 114 15-55-20-54z"/><path class="c47" d="M1789 539l20-13 19 4 15 5-19-4-20 13z"/><path class="c42" d="M1769 662l20-123 15 5-20 62z"/><path class="c45" d="M1749 1492l20-830 15-56-20 66z"/><path class="c42" d="M1710 1501l20 102 19-111 15-820-19 6-20 2z"/><path class="c45" d="M1690 679l20 822 15-821-20-56z"/><path class="c42" d="M1671 565l19 114 15-55-19-54z"/><path class="c47" d="M1631 573l20-13 20 5 15 5-20-4-20 12z"/><path class="c42" d="M1612 696l19-123 15 5-19 63z"/><path class="c45" d="M1592 1535l20-839 15-55-20 65z"/><path class="c42" d="M1552 1543l20 104 20-112 15-829-20 6-19 3z"/><path class="c45" d="M1533 714l19 829 16-828-20-57z"/><path class="c42" d="M1513 599l20 115 15-56-20-54z"/><path class="c47" d="M1474 608l19-13 20 4 15 5-20-3-19 12z"/><path class="c42" d="M1454 731l20-123 15 5-20 63z"/><path class="c45" d="M1434 1577l20-846 15-55-20 65z"/><path class="c42" d="M1395 1586l20 105 19-114 15-836-19 6-20 3z"/><path class="c45" d="M1375 748l20 838 15-836-20-57z"/><path class="c42" d="M1355 633l20 115 15-55-20-55z"/><path class="c47" d="M745 755l571-125 20-3 34 11-19-5-20 2-571 125zM2119 474l20-14 19-6 158-36 276-60 138-31 15 6-571 126-20 6-20 9z"/><path class="c45" d="M2099 537l20-63 15 0-20 10z"/><path class="c42" d="M2021 554l19 57 20-3 20-6 34-118-39 10-39 8z"/><path class="c45" d="M2001 500l20 54 15-52z"/><path class="c47" d="M1962 509l19-12 20 3 15 1-20 1-19 8z"/><path class="c45" d="M1942 572l20-63 15 1-20 9z"/><path class="c42" d="M1863 589l20 56 19-2 20-6 20-65 15-53-59 14-20 3z"/><path class="c45" d="M1843 535l20 54 15-53z"/><path class="c47" d="M1804 544l20-13 19 4 15 1-19 1-20 7z"/><path class="c45" d="M1784 606l20-62 15 0-20 10z"/><path class="c42" d="M1705 624l20 56 20-2 19-6 35-118-59 14-20 3z"/><path class="c45" d="M1686 570l19 54 15-53z"/><path class="c47" d="M1646 578l20-12 20 4 15 0-20 2-20 7z"/><path class="c45" d="M1627 641l19-63 15 1-19 9z"/><path class="c42" d="M1548 658l20 57 19-3 20-6 20-65 15-53-20 6-59 12z"/><path class="c45" d="M1528 604l20 54 15-52z"/><path class="c47" d="M1489 613l19-12 20 3 15 1-20 1-19 8z"/><path class="c45" d="M1469 676l20-63 15 1-20 9z"/><path class="c42" d="M1390 693l20 57 20-3 19-6 20-65 15-53-59 14-20 3z"/><path class="c45" d="M1370 638l20 55 15-53z"/><path class="c47" d="M760 760l571-125 20-2 19 5 16 1-20-1-40 7-551 121zM775 766l571-125 20-3 39 2 20-3 59-14 39-17 20-1 20 1 59-12 20-6 19-9 20-7 20-2 19 1 20-3 59-14 20-10 20-7 39-1 39-7 40-10 39-17 20-1 20 1 78-18 40-19 20-6 571-126 15 6-552 121-78 22-710 156-59 9-433 94-138 31zM790 772l571-125 59-9 710-156 78-22 552-121 15 5-552 122-39 11-20 9-19 10-60 14-19 3-40 1-19 7-20 10-79 17-20-1-19 1-40 17-39 10-39 7-40 1-20 8-19 9-59 14-20 3-20-1-19 2-20 7-20 9-20 6-39 8-20 3-39-1-39 6-552 121zM2164 486l20-9 39-11 552-122 15 6-571 126-20 6-20 14z"/><path class="c45" d="M2145 496l19-10 15 10-19 64z"/><path class="c42" d="M2066 513l19-3 60-14 15 64-20 65-20 6-20 2-19-56z"/><path class="c45" d="M2046 513l20 0 15 64-20-54z"/><path class="c47" d="M2007 521l19-7 20-1 15 10-20-3-19 12z"/><path class="c45" d="M1987 531l20-10 15 11-20 62z"/><path class="c42" d="M1908 548l59-12 20-5 15 63-20 66-19 6-20 2-20-56z"/><path class="c45" d="M1888 547l20 1 15 64-19-54z"/><path class="c47" d="M1849 556l20-8 19-1 16 11-20-4-20 13z"/><path class="c45" d="M1829 565l20-9 15 11-20 62z"/><path class="c42" d="M1751 582l39-7 39-10 15 64-19 65-20 7-20 2-19-57z"/><path class="c45" d="M1731 582l20 0 15 64-20-53z"/><path class="c47" d="M1691 591l20-8 20-1 15 11-20-4-19 12z"/><path class="c45" d="M1672 600l19-9 16 10-20 63z"/><path class="c42" d="M1593 617l20-3 59-14 15 64-20 65-20 6-19 3-20-57z"/><path class="c45" d="M1573 616l20 1 15 64-20-54z"/><path class="c47" d="M1534 625l20-7 19-2 15 11-19-4-20 13z"/><path class="c45" d="M1514 634l20-9 15 11-20 62z"/><path class="c42" d="M1435 651l59-11 20-6 15 64-19 66-20 6-20 2-20-56z"/><path class="c45" d="M1416 650l19 1 15 65-19-55z"/><path class="c47" d="M805 777l552-121 39-6 20 0 15 11-20-5-20 2-571 125zM2179 496l20-14 20-6 571-126 15 6-552 121-39 11-20 15z"/><path class="c42" d="M2160 560l19-64 15 7-19 123z"/><path class="c45" d="M2140 625l20-65 15 66-20 818z"/><path class="c42" d="M2100 633l20-2 20-6 15 819-20 107-19-98z"/><path class="c45" d="M2081 577l19 56 16 820-20-809z"/><path class="c42" d="M2061 523l20 54 15 67-20-114z"/><path class="c47" d="M2022 532l19-12 20 3 15 7-20-5-19 13z"/><path class="c42" d="M2002 594l20-62 15 6-20 123z"/><path class="c45" d="M1982 660l20-66 15 67-20 825z"/><path class="c42" d="M1943 668l20-2 19-6 15 826-19 109-20-100z"/><path class="c45" d="M1923 612l20 56 15 827-20-817z"/><path class="c42" d="M1904 558l19 54 15 66-19-114z"/><path class="c47" d="M1864 567l20-13 20 4 15 6-20-4-20 13z"/><path class="c42" d="M1844 629l20-62 15 6-20 123z"/><path class="c45" d="M1825 694l19-65 15 67-19 832z"/><path class="c42" d="M1785 703l20-2 20-7 15 834-20 111-20-102z"/><path class="c45" d="M1766 646l19 57 15 834-19-824z"/><path class="c42" d="M1746 593l20 53 15 67-20-114z"/><path class="c47" d="M1707 601l19-12 20 4 15 6-20-5-19 14z"/><path class="c42" d="M1687 664l20-63 15 7-20 123z"/><path class="c45" d="M1667 729l20-65 15 67-20 839z"/><path class="c42" d="M1628 738l19-3 20-6 15 841-20 113-19-104z"/><path class="c45" d="M1608 681l20 57 15 841-20-831z"/><path class="c42" d="M1588 627l20 54 15 67-20-114z"/><path class="c47" d="M1549 636l20-13 19 4 15 7-19-5-20 13z"/><path class="c42" d="M1529 698l20-62 15 6-20 123z"/><path class="c45" d="M1510 764l19-66 15 67-19 848z"/><path class="c42" d="M1470 772l20-2 20-6 15 849-20 114-20-106z"/><path class="c45" d="M1450 716l20 56 15 849-20-839z"/><path class="c42" d="M1431 661l19 55 15 66-19-114z"/><path class="c47" d="M820 783l571-125 20-2 20 5 15 7-20-7-39 7-414 90-138 31zM2194 503l20-15 39-11 552-121 15 5-552 122-39 11-20 15z"/><path class="c42" d="M2155 1444l20-818 19-123 15 6-19 124-20 920z"/><path class="c11" d="M2116 1453l19 98 20-107 15 109-20 132-19-124z"/><path class="c42" d="M2076 530l20 114 20 809 15 108-20-910-20-116z"/><path class="c47" d="M2037 538l19-13 20 5 15 5-19-4-20 13z"/><path class="c42" d="M1997 1486l20-825 20-123 15 6-20 124-20 928z"/><path class="c10" d="M1958 1495l20 100 19-109 15 110-19 135-20-126z"/><path class="c42" d="M1919 564l19 114 20 817 15 110-20-919-19-116z"/><path class="c47" d="M1879 573l20-13 20 4 15 6-20-5-20 14z"/><path class="c42" d="M1840 1528l19-832 20-123 15 6-19 124-20 937z"/><path class="c10" d="M1800 1537l20 102 20-111 15 112-20 137-20-128z"/><path class="c42" d="M1761 599l20 114 19 824 15 112-19-928-20-116z"/><path class="c47" d="M1722 608l19-14 20 5 15 6-20-5-19 13z"/><path class="c42" d="M1682 1570l20-839 20-123 15 5-20 125-20 946z"/><path class="c10" d="M1643 1579l19 104 20-113 15 114-19 140-20-131z"/><path class="c42" d="M1603 634l20 114 20 831 15 114-20-938-20-116z"/><path class="c47" d="M1564 642l20-13 34 10-19-4-20 13z"/><path class="c42" d="M1525 1613l19-848 20-123 15 6-20 125-19 955z"/><path class="c9" d="M1485 1621l20 106 20-114 15 115-20 142-20-133z"/><path class="c42" d="M1446 668l19 114 20 839 15 116-20-947-19-117z"/><path class="c47" d="M835 789l571-125 20-3 35 12-20-6-39 6-552 121zM2209 509l20-15 39-11 552-122 15 6-571 126-20 6-20 15z"/><path class="c42" d="M2170 1553l20-920 19-124 15 5-19 123-20 819z"/><path class="c11" d="M2131 1561l19 124 35-229-20 107-19-99z"/><path class="c42" d="M2091 535l20 116 20 910 15-97-20-809-20-114z"/><path class="c47" d="M2052 544l20-13 19 4 15 6-19-4-20 13z"/><path class="c42" d="M2012 1596l20-928 20-124 15 6-20 122-20 826z"/><path class="c10" d="M1973 1605l20 126 19-135 15-98-19 108-20-100z"/><path class="c42" d="M1934 570l19 116 20 919 15-99-20-816-19-114z"/><path class="c47" d="M1894 579l20-14 20 5 15 6-20-5-20 13z"/><path class="c42" d="M1855 1640l20-937 19-124 15 5-19 123-20 833z"/><path class="c10" d="M1815 1649l20 128 35-237-20 110-20-102z"/><path class="c42" d="M1776 605l20 116 19 928 15-101-19-824-20-114z"/><path class="c47" d="M1737 613l19-13 20 5 15 5-20-4-19 13z"/><path class="c42" d="M1697 1684l20-946 20-125 15 6-20 123-20 840z"/><path class="c10" d="M1658 1693l20 131 19-140 15-102-19 112-20-104z"/><path class="c42" d="M1618 639l20 116 20 938 15-103-20-831-20-114z"/><path class="c47" d="M1579 648l20-13 19 4 15 6-19-5-20 14z"/><path class="c42" d="M1540 1728l19-955 20-125 15 6-20 123-19 847z"/><path class="c9" d="M1500 1737l20 133 35-246-20 114-20-105z"/><path class="c42" d="M1461 673l19 117 20 947 15-104-19-839-20-115z"/><path class="c47" d="M850 794l552-121 39-6 20 6 15 6-20-6-20 2-571 125zM2224 514l20-15 20-6 571-126 15 6-571 126-20 6-19 14z"/><path class="c42" d="M2205 637l19-123 16 5-20 63z"/><path class="c45" d="M2185 1456l20-819 15-55-20 66z"/><path class="c42" d="M2146 1464l19 99 20-107 15-808-20 6-19 2z"/><path class="c45" d="M2126 655l20 809 15-808-20-56z"/><path class="c42" d="M2106 541l20 114 15-55-20-54z"/><path class="c47" d="M2067 550l20-13 19 4 15 5-19-4-20 13z"/><path class="c42" d="M2047 672l20-122 15 5-20 62z"/><path class="c45" d="M2027 1498l20-826 15-55-20 65z"/><path class="c42" d="M1988 1506l20 100 19-108 15-816-19 7-20 2z"/><path class="c45" d="M1968 690l20 816 15-815-20-56z"/><path class="c42" d="M1949 576l19 114 15-55-19-54z"/><path class="c47" d="M1909 584l20-13 20 5 15 5-20-4-20 12z"/><path class="c42" d="M1890 707l19-123 15 5-19 63z"/><path class="c45" d="M1870 1540l20-833 15-55-20 65z"/><path class="c42" d="M1830 1548l20 102 20-110 15-823-20 6-19 3z"/><path class="c45" d="M1811 724l19 824 16-822-20-57z"/><path class="c42" d="M1791 610l20 114 15-55-20-54z"/><path class="c47" d="M1752 619l19-13 20 4 15 5-20-3-19 12z"/><path class="c42" d="M1732 742l20-123 15 5-20 63z"/><path class="c45" d="M1712 1582l20-840 15-55-20 65z"/><path class="c42" d="M1673 1590l20 104 19-112 15-830-19 6-20 3z"/><path class="c45" d="M1653 759l20 831 15-829-20-57z"/><path class="c42" d="M1633 645l20 114 15-55-20-54z"/><path class="c47" d="M1594 654l20-14 34 10-19-4-20 13z"/><path class="c42" d="M1574 777l20-123 15 5-20 62z"/><path class="c45" d="M1555 1624l19-847 15-56-19 66z"/><path class="c42" d="M1515 1633l20 105 20-114 15-837-20 6-20 2z"/><path class="c45" d="M1496 794l19 839 15-838-19-57z"/><path class="c42" d="M1476 679l20 115 15-56-20-54z"/><path class="c47" d="M865 800l571-125 20-2 35 11-20-6-39 7-414 90-138 31zM2240 519l19-14 40-11 551-121 15 6-413 90-158 36-20 6-19 9z"/><path class="c45" d="M2220 582l20-63 15 1-20 10z"/><path class="c42" d="M2141 600l20 56 19-2 20-6 35-118-59 14-20 3z"/><path class="c45" d="M2121 546l20 54 15-53z"/><path class="c47" d="M2082 555l20-13 19 4 15 1-19 1-20 7z"/><path class="c45" d="M2062 617l20-62 15 0-20 10z"/><path class="c42" d="M1983 635l20 56 20-2 19-7 35-117-59 14-20 3z"/><path class="c45" d="M1964 581l19 54 15-53z"/><path class="c47" d="M1924 589l20-12 20 4 15 0-20 2-20 7z"/><path class="c45" d="M1905 652l19-63 15 1-19 9z"/><path class="c42" d="M1826 669l20 57 19-3 20-6 20-65 15-53-20 6-59 12z"/><path class="c45" d="M1806 615l20 54 15-52z"/><path class="c47" d="M1767 624l19-12 20 3 15 1-20 1-19 8z"/><path class="c45" d="M1747 687l20-63 15 1-20 9z"/><path class="c42" d="M1668 704l20 57 20-3 19-6 20-65 15-53-59 14-20 3z"/><path class="c45" d="M1648 650l20 54 15-53z"/><path class="c47" d="M1609 659l20-13 19 4 16 1-20 1-20 7z"/><path class="c45" d="M1589 721l20-62 15 0-20 10z"/><path class="c42" d="M1511 738l19 57 20-2 20-6 34-118-78 17z"/><path class="c45" d="M1491 684l20 54 15-52-20-2z"/><path class="c47" d="M880 806l572-125 19-3 20 6 15 0-20 0-39 7-414 90-138 31zM895 812l572-125 19-3 20 0 20 2 59-12 19-5 20-10 20-7 39-1 20-3 59-14 39-17 20-1 20 1 59-12 20-6 19-9 20-7 20-2 19 1 20-3 59-14 20-10 20-7 39-1 20-3 59-14 39-19 40-11 551-121 15 5-591 132-19 6-79 19-670 146-59 9-552 121zM910 817l552-121 59-9 79-16 670-149 19-6 40-10 551-122 15 6-571 126-20 6-39 19-39 10-40 8-20-1-19 1-40 17-39 10-39 7-40 1-20 7-19 10-59 14-20 3-20-1-19 2-20 7-20 9-20 6-59 12-19-1-20 1-20 8-19 9-60 14-19 3-40-2-39 7-552 121zM2285 531l19-9 20-6 571-126 15 6-571 126-20 6-19 14z"/><path class="c45" d="M2265 541l20-10 15 11-20 63z"/><path class="c42" d="M2186 559l40-8 39-10 15 64-20 65-19 7-20 2-20-56z"/><path class="c45" d="M2166 558l20 1 15 64-19-54z"/><path class="c47" d="M2127 567l20-8 19-1 16 11-20-4-20 12z"/><path class="c45" d="M2107 576l20-9 15 10-20 63z"/><path class="c42" d="M2029 593l39-7 39-10 15 64-19 65-20 6-20 3-19-57z"/><path class="c45" d="M2009 593l20 0 15 64-20-54z"/><path class="c47" d="M1969 601l20-7 20-1 15 10-20-3-19 12z"/><path class="c45" d="M1950 611l19-10 16 11-20 63z"/><path class="c42" d="M1871 628l20-3 59-14 15 64-20 65-20 6-19 3-20-57z"/><path class="c45" d="M1851 627l20 1 15 64-20-54z"/><path class="c47" d="M1812 636l20-7 19-2 15 11-19-4-20 13z"/><path class="c45" d="M1792 645l20-9 15 11-20 62z"/><path class="c42" d="M1713 663l59-12 20-6 15 64-19 66-20 6-20 2-20-56z"/><path class="c45" d="M1694 662l19 1 15 64-19-54z"/><path class="c47" d="M1654 671l20-8 20-1 15 11-20-4-20 12z"/><path class="c45" d="M1635 680l19-9 15 10-19 63z"/><path class="c42" d="M1556 697l19-3 60-14 15 64-20 66-20 6-20 2-19-57z"/><path class="c45" d="M1536 696l20 1 15 64-20-54z"/><path class="c47" d="M925 823l572-125 19-3 20 1 15 11-20-6-39 7-414 90-138 31zM2300 542l19-14 40-11 551-121 15 5-571 127-20 6-19 15z"/><path class="c42" d="M2280 605l20-63 15 7-20 123z"/><path class="c45" d="M2260 670l20-65 15 67-20 819z"/><path class="c42" d="M2221 679l20-2 19-7 15 821-19 108-20-99z"/><path class="c45" d="M2201 623l20 56 15 821-20-811z"/><path class="c42" d="M2182 569l19 54 15 66-19-114z"/><path class="c47" d="M2142 577l20-12 20 4 15 6-20-4-20 13z"/><path class="c42" d="M2122 640l20-63 15 7-20 123z"/><path class="c45" d="M2103 705l19-65 15 67-19 826z"/><path class="c42" d="M2063 714l20-3 20-6 15 828-20 109-20-100z"/><path class="c45" d="M2044 657l19 57 15 828-19-818z"/><path class="c42" d="M2024 603l20 54 15 67-20-114z"/><path class="c47" d="M1985 612l19-12 20 3 15 7-20-5-19 14z"/><path class="c42" d="M1965 675l20-63 15 7-20 122z"/><path class="c45" d="M1945 740l20-65 15 66-20 834z"/><path class="c42" d="M1906 749l19-3 20-6 15 835-20 111-19-102z"/><path class="c45" d="M1886 692l20 57 15 835-20-825z"/><path class="c42" d="M1866 638l20 54 15 67-20-114z"/><path class="c47" d="M1827 647l20-13 19 4 15 7-19-5-20 13z"/><path class="c42" d="M1807 709l20-62 15 6-20 123z"/><path class="c45" d="M1788 775l19-66 15 67-19 841z"/><path class="c42" d="M1748 783l20-2 20-6 15 842-20 113-20-104z"/><path class="c45" d="M1728 727l20 56 15 843-20-833z"/><path class="c42" d="M1709 673l19 54 15 66-19-114z"/><path class="c47" d="M1669 681l20-12 20 4 15 6-20-4-20 13z"/><path class="c42" d="M1650 744l19-63 15 7-19 123z"/><path class="c45" d="M1630 810l20-66 15 67-20 849z"/><path class="c42" d="M1590 818l20-2 20-6 15 850-20 114-19-106z"/><path class="c45" d="M1571 761l19 57 16 850-20-840z"/><path class="c42" d="M1551 707l20 54 15 67-20-115z"/><path class="c47" d="M940 829l572-125 19-3 20 6 15 6-20-6-19 2-572 125zM2315 549l19-15 40-11 414-91 137-31 15 6-571 126-19 6-20 15z"/><path class="c42" d="M2275 1491l20-819 20-123 15 5-20 125-20 921z"/><path class="c11" d="M2236 1500l20 99 19-108 15 109-19 133-20-124z"/><path class="c42" d="M2197 575l19 114 20 811 15 109-20-912-19-116z"/><path class="c47" d="M2157 584l20-13 20 4 15 6-20-5-20 14z"/><path class="c42" d="M2118 1533l19-826 20-123 15 6-20 124-19 930z"/><path class="c10" d="M2078 1542l20 100 20-109 15 111-20 135-20-127z"/><path class="c42" d="M2039 610l20 114 19 818 15 110-19-921-20-115z"/><path class="c47" d="M2000 619l19-14 20 5 15 6-20-5-19 13z"/><path class="c42" d="M1960 1575l20-834 20-122 15 5-20 125-20 939z"/><path class="c10" d="M1921 1584l19 102 20-111 15 113-19 137-20-129z"/><path class="c42" d="M1881 645l20 114 20 825 15 112-20-930-20-116z"/><path class="c47" d="M1842 653l20-13 34 10-19-4-20 13z"/><path class="c42" d="M1803 1617l19-841 20-123 15 6-20 125-19 948z"/><path class="c10" d="M1763 1626l20 104 20-113 15 115-20 140-20-132z"/><path class="c42" d="M1724 679l19 114 20 833 15 114-19-939-20-116z"/><path class="c47" d="M1684 688l20-13 20 4 15 6-20-5-20 14z"/><path class="c42" d="M1645 1660l20-849 19-123 15 6-19 124-20 958z"/><path class="c9" d="M1606 1668l19 106 20-114 15 116-20 142-19-134z"/><path class="c42" d="M1566 713l20 115 20 840 15 116-20-948-20-117z"/><path class="c47" d="M955 834l572-125 19-2 20 6 15 6-19-6-20 2-296 64-275 61zM2330 554l20-15 19-6 571-126 16 6-572 126-19 6-20 15z"/><path class="c42" d="M2290 1600l20-921 20-125 15 6-20 123-20 820z"/><path class="c11" d="M2251 1609l20 124 19-133 15-97-19 107-20-99z"/><path class="c42" d="M2212 581l19 116 20 912 15-98-20-810-19-114z"/><path class="c47" d="M2172 590l20-14 20 5 15 6-20-5-20 13z"/><path class="c42" d="M2133 1644l19-930 20-124 15 5-19 123-20 827z"/><path class="c10" d="M2093 1652l20 127 35-234-20 109-20-101z"/><path class="c42" d="M2054 616l20 115 19 921 15-99-19-818-20-114z"/><path class="c47" d="M2015 624l19-13 20 5 15 5-20-4-19 13z"/><path class="c42" d="M1975 1688l20-939 20-125 15 6-20 123-20 834z"/><path class="c10" d="M1936 1696l20 129 34-238-19 111-20-103z"/><path class="c42" d="M1896 650l20 116 20 930 15-101-20-825-20-114z"/><path class="c47" d="M1857 659l20-13 19 4 15 6-19-5-20 14z"/><path class="c42" d="M1818 1732l19-948 20-125 15 6-20 123-19 841z"/><path class="c10" d="M1778 1740l20 132 35-243-20 113-20-104z"/><path class="c42" d="M1739 685l20 116 19 939 15-102-19-833-20-114z"/><path class="c47" d="M1699 694l20-14 20 5 15 6-20-5-20 13z"/><path class="c42" d="M1660 1776l20-958 19-124 15 5-19 123-20 849z"/><path class="c9" d="M1621 1784l19 134 35-247-20 115-19-106z"/><path class="c42" d="M1581 719l20 117 20 948 15-104-20-841-20-114z"/><path class="c47" d="M971 840l571-125 20-2 19 6 15 6-19-7-40 7-414 90-137 31zM2345 560l20-15 19-6 572-126 15 5-572 127-19 6-20 14z"/><path class="c42" d="M2325 683l20-123 15 5-20 63z"/><path class="c45" d="M2305 1503l20-820 15-55-20 65z"/><path class="c42" d="M2266 1511l20 99 19-107 15-810-19 6-20 3z"/><path class="c45" d="M2246 701l20 810 15-809-20-56z"/><path class="c42" d="M2227 587l19 114 15-55-19-54z"/><path class="c47" d="M2187 595l20-13 20 5 15 5-20-4-20 12z"/><path class="c42" d="M2168 718l19-123 15 5-19 63z"/><path class="c45" d="M2148 1545l20-827 15-55-20 65z"/><path class="c42" d="M2108 1553l20 101 20-109 15-817-20 6-19 3z"/><path class="c45" d="M2089 735l19 818 16-816-20-57z"/><path class="c42" d="M2069 621l20 114 15-55-20-54z"/><path class="c47" d="M2030 630l19-13 20 4 15 5-20-3-19 12z"/><path class="c42" d="M2010 753l20-123 15 5-20 63z"/><path class="c45" d="M1990 1587l20-834 15-55-20 65z"/><path class="c42" d="M1951 1595l20 103 19-111 15-824-19 6-20 2z"/><path class="c45" d="M1931 770l20 825 15-824-20-56z"/><path class="c42" d="M1911 656l20 114 15-55-20-54z"/><path class="c47" d="M1872 665l20-14 34 10-19-4-20 13z"/><path class="c42" d="M1852 788l20-123 15 5-20 62z"/><path class="c45" d="M1833 1629l19-841 15-56-19 66z"/><path class="c42" d="M1793 1638l20 104 20-113 15-831-20 6-20 2z"/><path class="c45" d="M1774 805l19 833 15-832-19-56z"/><path class="c42" d="M1754 691l20 114 15-55-20-54z"/><path class="c47" d="M1714 699l20-13 20 5 15 5-20-4-19 12z"/><path class="c42" d="M1695 822l19-123 16 5-20 63z"/><path class="c45" d="M1675 1671l20-849 15-55-20 65z"/><path class="c42" d="M1636 1680l19 106 20-115 15-839-20 6-19 3z"/><path class="c45" d="M1616 839l20 841 15-839-20-57z"/><path class="c42" d="M1596 725l20 114 15-55-20-55z"/><path class="c47" d="M986 846l571-125 20-3 19 7 15 4-19-5-40 6-551 121zM2360 565l20-14 19-6 158-36 276-60 138-31 15 6-572 127-19 5-20 10z"/><path class="c45" d="M2340 628l20-63 15 1-20 9z"/><path class="c42" d="M2261 646l20 56 20-3 19-6 20-65 15-53-19 6-60 12z"/><path class="c45" d="M2242 592l19 54 15-53z"/><path class="c47" d="M2202 600l20-12 20 4 15 0-20 2-20 7z"/><path class="c45" d="M2183 663l19-63 15 1-19 9z"/><path class="c42" d="M2104 680l20 57 19-3 20-6 20-65 15-53-79 18z"/><path class="c45" d="M2084 626l20 54 15-52z"/><path class="c47" d="M2045 635l19-12 20 3 15 1-20 1-19 8z"/><path class="c45" d="M2025 698l20-63 15 1-20 9z"/><path class="c42" d="M1946 715l20 56 20-2 19-6 20-65 15-53-59 14-20 3z"/><path class="c45" d="M1926 661l20 54 15-53z"/><path class="c47" d="M1887 670l20-13 19 4 16 1-20 1-20 7z"/><path class="c45" d="M1867 732l20-62 15 0-20 10z"/><path class="c42" d="M1789 750l19 56 20-2 20-6 34-118-78 17z"/><path class="c45" d="M1769 696l20 54 15-53z"/><path class="c47" d="M1730 704l19-12 20 4 15 0-20 2-19 7z"/><path class="c45" d="M1710 767l20-63 15 1-20 9z"/><path class="c42" d="M1631 784l20 57 19-3 20-6 20-65 15-53-59 14-20 3z"/><path class="c45" d="M1611 729l20 55 15-53z"/><path class="c47" d="M1001 851l551-121 40-6 19 5 15 1-19 0-20 2-296 64-275 61zM1016 857l571-125 20-2 39 1 39-7 40-10 20-9 19-7 20-2 20 1 59-12 19-5 20-10 20-7 39-1 20-3 59-14 39-17 20-1 20 1 79-18 19-9 20-7 20-2 19 1 60-12 19-6 40-19 39-10 552-122 15 6-572 126-39 12-749 165-39 5-433 94-138 31zM1031 863l571-125 39-5 749-165 39-12 572-126 15 6-414 90-158 36-19 6-40 19-59 14-19 3-40 1-20 7-19 10-59 14-20 3-20-1-19 2-20 7-20 9-20 6-59 12-19-1-20 1-20 8-19 9-60 14-19 3-40 1-19 7-20 10-79 17-20-2-19 0-40 7-413 90-138 31zM2405 577l20-9 19-6 158-36 414-90 15 5-552 122-39 11-20 14z"/><path class="c45" d="M2385 587l20-10 15 11-20 63z"/><path class="c42" d="M2307 604l19-3 59-14 15 64-19 65-20 6-20 3-19-57z"/><path class="c45" d="M2287 604l20 0 15 64-20-54z"/><path class="c47" d="M2247 612l20-7 20-1 15 10-20-3-19 12z"/><path class="c45" d="M2228 622l19-10 16 11-20 63z"/><path class="c42" d="M2149 639l20-3 59-14 15 64-20 65-20 6-19 3-20-57z"/><path class="c45" d="M2129 638l20 1 15 64-20-54z"/><path class="c47" d="M2090 647l20-7 19-2 15 11-19-4-20 13z"/><path class="c45" d="M2070 656l20-9 15 11-20 62z"/><path class="c42" d="M1991 674l59-12 20-6 15 64-19 66-20 6-20 2-20-56z"/><path class="c45" d="M1972 673l19 1 15 64-19-54z"/><path class="c47" d="M1932 682l20-8 20-1 15 11-20-4-20 12z"/><path class="c45" d="M1913 691l19-9 15 10-19 63z"/><path class="c42" d="M1834 708l19-3 60-14 15 64-20 65-20 7-20 2-19-57z"/><path class="c45" d="M1814 708l20 0 15 64-20-54z"/><path class="c47" d="M1775 716l19-7 20-1 15 10-20-3-19 12z"/><path class="c45" d="M1755 726l20-10 15 11-20 63z"/><path class="c42" d="M1676 743l59-12 20-5 15 64-20 65-19 6-20 3-20-57z"/><path class="c45" d="M1656 741l20 2 15 64-19-55z"/><path class="c47" d="M1046 869l571-125 20-3 19 0 16 11-20-5-20 2-571 125zM2420 588l20-14 39-11 552-122 15 6-552 121-39 11-20 15z"/><path class="c42" d="M2400 651l20-63 15 6-20 123z"/><path class="c45" d="M2381 716l19-65 15 66-19 821z"/><path class="c42" d="M2341 725l20-3 20-6 15 822-20 108-20-99z"/><path class="c45" d="M2322 668l19 57 15 822-19-812z"/><path class="c42" d="M2302 614l20 54 15 67-20-114z"/><path class="c47" d="M2263 623l19-12 20 3 15 7-20-5-19 14z"/><path class="c42" d="M2243 686l20-63 15 7-20 122z"/><path class="c45" d="M2223 751l20-65 15 66-20 828z"/><path class="c42" d="M2184 760l19-3 20-6 15 829-20 110-19-101z"/><path class="c45" d="M2164 703l20 57 15 829-20-819z"/><path class="c42" d="M2144 649l20 54 15 67-20-114z"/><path class="c47" d="M2105 658l20-13 19 4 15 7-19-5-20 13z"/><path class="c42" d="M2085 720l20-62 15 6-20 123z"/><path class="c45" d="M2066 786l19-66 15 67-19 835z"/><path class="c42" d="M2026 794l20-2 20-6 15 836-20 112-20-103z"/><path class="c45" d="M2006 738l20 56 15 837-20-827z"/><path class="c42" d="M1987 684l19 54 15 66-19-114z"/><path class="c47" d="M1947 692l20-12 20 4 15 6-20-4-20 13z"/><path class="c42" d="M1928 755l19-63 15 7-19 123z"/><path class="c45" d="M1908 820l20-65 15 67-20 843z"/><path class="c42" d="M1868 829l20-2 20-7 15 845-20 113-19-105z"/><path class="c45" d="M1849 772l19 57 16 844-20-834z"/><path class="c42" d="M1829 718l20 54 15 67-20-114z"/><path class="c47" d="M1790 727l19-12 20 3 15 7-20-5-19 14z"/><path class="c42" d="M1770 790l20-63 15 7-20 123z"/><path class="c45" d="M1750 855l20-65 15 67-20 850z"/><path class="c42" d="M1711 864l20-3 19-6 15 852-19 115-20-106z"/><path class="c45" d="M1691 807l20 57 15 852-20-842z"/><path class="c42" d="M1672 752l19 55 15 67-19-115z"/><path class="c47" d="M1061 874l571-125 20-2 20 5 15 7-20-7-40 7-551 121zM2435 594l20-15 39-11 552-121 15 6-552 121-39 11-20 15z"/><path class="c42" d="M2396 1538l19-821 20-123 15 6-20 125-19 923z"/><path class="c11" d="M2356 1547l20 99 20-108 15 110-20 133-20-125z"/><path class="c42" d="M2317 621l20 114 19 812 15 109-19-914-20-115z"/><path class="c47" d="M2278 630l19-14 20 5 15 6-20-5-19 13z"/><path class="c42" d="M2238 1580l20-828 20-122 15 5-20 125-20 931z"/><path class="c10" d="M2199 1589l19 101 20-110 15 111-19 136-20-127z"/><path class="c42" d="M2159 656l20 114 20 819 15 111-20-923-20-116z"/><path class="c47" d="M2120 664l20-13 34 10-19-4-20 13z"/><path class="c42" d="M2081 1622l19-835 20-123 15 6-20 125-19 940z"/><path class="c10" d="M2041 1631l20 103 20-112 15 113-20 138-20-129z"/><path class="c42" d="M2002 690l19 114 20 827 15 113-20-932-19-116z"/><path class="c47" d="M1962 699l20-13 20 4 15 6-20-5-20 14z"/><path class="c42" d="M1923 1665l20-843 19-123 15 6-19 124-20 950z"/><path class="c10" d="M1884 1673l19 105 20-113 15 114-20 141-19-132z"/><path class="c42" d="M1844 725l20 114 20 834 15 115-20-941-20-116z"/><path class="c47" d="M1805 734l19-14 20 5 15 6-19-5-20 13z"/><path class="c42" d="M1765 1707l20-850 20-123 15 5-20 125-20 959z"/><path class="c9" d="M1726 1716l20 106 19-115 15 116-19 143-20-134z"/><path class="c42" d="M1687 759l19 115 20 842 15 116-20-951-19-116z"/><path class="c47" d="M1076 880l571-125 20-3 35 13-20-7-40 7-413 90-138 31zM2450 600l20-15 39-11 552-121 15 5-552 122-39 11-20 15z"/><path class="c42" d="M2411 1648l19-923 20-125 15 6-19 123-20 821z"/><path class="c11" d="M2371 1656l20 125 35-231-20 108-20-100z"/><path class="c42" d="M2332 627l20 115 19 914 15-98-19-812-20-114z"/><path class="c47" d="M2293 635l19-13 20 5 15 5-20-4-19 13z"/><path class="c42" d="M2253 1691l20-931 20-125 15 6-20 123-20 828z"/><path class="c10" d="M2214 1700l20 127 19-136 15-99-19 109-20-101z"/><path class="c42" d="M2174 661l20 116 20 923 15-100-20-819-20-114z"/><path class="c47" d="M2135 670l20-13 19 4 15 6-19-5-20 14z"/><path class="c42" d="M2096 1735l19-940 20-125 15 6-20 122-19 836z"/><path class="c10" d="M2056 1744l20 129 35-239-20 111-20-103z"/><path class="c42" d="M2017 696l19 116 20 932 15-102-19-826-20-114z"/><path class="c47" d="M1977 705l20-14 20 5 15 6-20-5-20 13z"/><path class="c42" d="M1938 1779l20-950 19-124 15 5-19 123-20 843z"/><path class="c10" d="M1899 1788l19 132 35-244-20 113-19-104z"/><path class="c42" d="M1859 731l20 116 20 941 15-103-20-834-20-115z"/><path class="c47" d="M1820 739l20-13 34 10-19-4-20 13z"/><path class="c42" d="M1780 1823l20-959 20-125 15 6-20 123-20 850z"/><path class="c9" d="M1741 1832l20 134 34-248-19 115-20-106z"/><path class="c42" d="M1702 765l19 116 20 951 15-105-20-842-19-115z"/><path class="c47" d="M1091 886l571-125 20-3 35 12-20-6-20 2-571 125zM2465 606l20-15 39-11 552-122 15 6-571 126-20 6-20 14z"/><path class="c42" d="M2446 729l19-123 15 4-19 64z"/><path class="c45" d="M2426 1550l20-821 15-55-20 65z"/><path class="c42" d="M2386 1558l20 100 20-108 15-811-20 6-19 3z"/><path class="c45" d="M2367 746l19 812 16-810-20-57z"/><path class="c42" d="M2347 632l20 114 15-55-20-54z"/><path class="c47" d="M2308 641l19-13 20 4 15 5-20-3-19 12z"/><path class="c42" d="M2288 764l20-123 15 5-20 62z"/><path class="c45" d="M2268 1592l20-828 15-56-20 66z"/><path class="c42" d="M2229 1600l20 101 19-109 15-818-19 6-20 2z"/><path class="c45" d="M2209 781l20 819 15-818-20-56z"/><path class="c42" d="M2189 667l20 114 15-55-19-54z"/><path class="c47" d="M2150 676l20-14 35 10-20-4-20 13z"/><path class="c42" d="M2130 798l20-122 15 5-20 62z"/><path class="c45" d="M2111 1634l19-836 15-55-19 65z"/><path class="c42" d="M2071 1642l20 103 20-111 15-826-20 7-20 2z"/><path class="c45" d="M2052 816l19 826 15-825-19-57z"/><path class="c42" d="M2032 702l20 114 15-56-20-53z"/><path class="c47" d="M1992 710l20-13 20 5 15 5-20-4-19 12z"/><path class="c42" d="M1973 833l19-123 16 5-20 63z"/><path class="c45" d="M1953 1676l20-843 15-55-20 65z"/><path class="c42" d="M1914 1685l19 104 20-113 15-833-20 6-19 3z"/><path class="c45" d="M1894 851l20 834 15-833-20-57z"/><path class="c42" d="M1874 736l20 115 15-56-20-54z"/><path class="c47" d="M1835 745l20-13 19 4 15 5-19-4-20 13z"/><path class="c42" d="M1815 868l20-123 15 5-20 63z"/><path class="c45" d="M1795 1718l20-850 15-55-20 65z"/><path class="c42" d="M1756 1727l20 106 19-115 15-840-19 6-20 3z"/><path class="c45" d="M1736 885l20 842 15-840-20-57z"/><path class="c42" d="M1717 770l19 115 15-55-19-55z"/><path class="c47" d="M1106 891l571-125 20-2 35 11-20-5-20 2-571 125zM2480 610l20-14 20-6 571-126 15 6-552 121-39 11-20 9z"/><path class="c45" d="M2461 674l19-64 15 1-19 10z"/><path class="c42" d="M2382 691l20 57 19-3 20-6 20-65 15-53-79 18z"/><path class="c45" d="M2362 637l20 54 15-52z"/><path class="c47" d="M2323 646l19-12 20 3 15 1-20 1-19 8z"/><path class="c45" d="M2303 708l20-62 15 1-20 9z"/><path class="c42" d="M2224 726l20 56 20-2 19-6 35-118-59 14-20 3z"/><path class="c45" d="M2205 672l19 54 15-53z"/><path class="c47" d="M2165 681l20-13 20 4 15 1-20 1-20 7z"/><path class="c45" d="M2145 743l20-62 15 0-20 10z"/><path class="c42" d="M2067 760l19 57 20-2 20-7 34-117-78 17z"/><path class="c45" d="M2047 707l20 53 15-52z"/><path class="c47" d="M2008 715l19-12 20 4 15 0-20 1-19 8z"/><path class="c45" d="M1988 778l20-63 15 1-20 9z"/><path class="c42" d="M1909 795l20 57 19-3 20-6 20-65 15-53-79 18z"/><path class="c45" d="M1889 741l20 54 15-52z"/><path class="c47" d="M1850 750l20-13 19 4 15 1-19 1-20 8z"/><path class="c45" d="M1830 813l20-63 15 1-20 9z"/><path class="c42" d="M1751 830l20 57 20-3 19-6 20-65 15-53-59 14-20 3z"/><path class="c45" d="M1732 775l19 55 15-53z"/><path class="c47" d="M1121 897l571-125 20-2 20 5 15 1-20-1-39 7-414 90-138 31zM1136 903l571-125 20-3 39 2 20-3 59-14 40-17 19-1 20 1 79-18 39-17 20-1 20 1 59-12 19-5 20-10 20-7 39-1 20-3 59-14 39-17 20-1 20 1 79-18 19-10 20-9 39-11 552-121 15 5-414 91-157 36-59 17-729 159-40 6-157 33-414 91zM1151 908l276-60 138-31 157-33 40-6 729-159 79-22 551-122 15 6-414 91-177 41-20 9-19 10-20 6-59 12-20-1-19 2-20 7-20 9-39 10-40 8-19-1-20 1-20 8-19 9-60 14-19 3-40 1-19 7-20 10-79 17-20-1-19 2-20 7-20 9-39 10-39 7-40-1-20 2-571 125zM2525 622l20-9 40-10 551-122 15 6-571 126-20 6-20 14z"/><path class="c45" d="M2506 632l19-10 15 11-19 63z"/><path class="c42" d="M2427 650l59-12 20-6 15 64-20 66-20 6-19 2-20-56z"/><path class="c45" d="M2407 649l20 1 15 64-20-54z"/><path class="c47" d="M2368 658l20-7 19-2 15 11-19-4-20 13z"/><path class="c45" d="M2348 667l20-9 15 11-20 62z"/><path class="c42" d="M2269 685l40-8 39-10 15 64-20 65-19 7-20 2-20-56z"/><path class="c45" d="M2250 684l19 1 15 64-19-54z"/><path class="c47" d="M2210 693l20-8 20-1 15 11-20-4-20 12z"/><path class="c45" d="M2191 702l19-9 15 10-19 63z"/><path class="c42" d="M2112 719l19-3 60-14 15 64-20 65-20 6-19 3-20-57z"/><path class="c45" d="M2092 719l20 0 15 64-20-54z"/><path class="c47" d="M2053 727l19-7 20-1 15 10-20-3-19 12z"/><path class="c45" d="M2033 737l20-10 15 11-20 63z"/><path class="c42" d="M1954 754l59-12 20-5 15 64-20 65-19 6-20 3-20-57z"/><path class="c45" d="M1934 753l20 1 15 64-19-54z"/><path class="c47" d="M1895 762l20-7 19-2 16 11-20-4-20 13z"/><path class="c45" d="M1875 771l20-9 15 11-20 62z"/><path class="c42" d="M1797 788l39-7 39-10 15 64-19 66-20 6-20 2-19-57z"/><path class="c45" d="M1777 787l20 1 15 64-20-54z"/><path class="c47" d="M1166 914l571-125 20-2 20 0 15 11-20-6-39 7-414 90-138 31zM2540 633l20-14 40-11 551-121 15 6-413 90-158 36-20 6-19 15z"/><path class="c42" d="M2521 696l19-63 16 7-20 123z"/><path class="c45" d="M2501 762l20-66 15 67-20 822z"/><path class="c42" d="M2462 770l19-2 20-6 15 823-20 109-19-100z"/><path class="c45" d="M2442 714l20 56 15 824-20-814z"/><path class="c42" d="M2422 660l20 54 15 66-20-113z"/><path class="c47" d="M2383 669l20-13 19 4 15 7-19-5-20 13z"/><path class="c42" d="M2363 731l20-62 15 6-20 123z"/><path class="c45" d="M2343 796l20-65 15 67-19 829z"/><path class="c42" d="M2304 805l20-2 19-7 16 831-20 110-20-101z"/><path class="c45" d="M2284 749l20 56 15 831-20-821z"/><path class="c42" d="M2265 695l19 54 15 66-19-114z"/><path class="c47" d="M2225 703l20-12 20 4 15 6-20-4-20 13z"/><path class="c42" d="M2206 766l19-63 15 7-19 123z"/><path class="c45" d="M2186 831l20-65 15 67-20 836z"/><path class="c42" d="M2147 840l19-3 20-6 15 838-20 112-19-103z"/><path class="c45" d="M2127 783l20 57 15 838-20-828z"/><path class="c42" d="M2107 729l20 54 15 67-20-114z"/><path class="c47" d="M2068 738l19-12 20 3 15 7-20-5-19 13z"/><path class="c42" d="M2048 801l20-63 15 6-20 123z"/><path class="c45" d="M2028 866l20-65 15 66-20 845z"/><path class="c42" d="M1989 875l20-3 19-6 15 846-19 113-20-105z"/><path class="c45" d="M1969 818l20 57 15 845-20-835z"/><path class="c42" d="M1950 764l19 54 15 67-19-115z"/><path class="c47" d="M1910 773l20-13 20 4 15 6-20-4-20 13z"/><path class="c42" d="M1890 835l20-62 15 6-20 123z"/><path class="c45" d="M1871 901l19-66 15 67-19 852z"/><path class="c42" d="M1831 909l20-2 20-6 15 853-20 115-20-106z"/><path class="c45" d="M1812 852l19 57 15 854-19-844z"/><path class="c42" d="M1792 798l20 54 15 67-20-115z"/><path class="c47" d="M1181 920l571-125 20-3 20 6 15 6-20-6-39 7-414 90-138 31zM2556 640l19-15 40-11 551-121 15 5-571 126-20 6-19 16z"/><path class="c42" d="M2516 1585l20-822 20-123 15 6-20 124-20 925z"/><path class="c10" d="M2477 1594l19 100 20-109 15 110-19 134-20-125z"/><path class="c42" d="M2437 667l20 113 20 814 15 110-20-916-20-116z"/><path class="c47" d="M2398 675l20-13 34 10-19-4-20 13z"/><path class="c42" d="M2359 1627l19-829 20-123 15 6-20 124-19 934z"/><path class="c10" d="M2319 1636l20 101 20-110 15 112-20 136-20-128z"/><path class="c42" d="M2280 701l19 114 20 821 15 111-20-924-19-116z"/><path class="c47" d="M2240 710l20-13 20 4 15 6-20-5-20 13z"/><path class="c42" d="M2201 1669l20-836 19-123 15 5-19 125-20 943z"/><path class="c10" d="M2162 1678l19 103 20-112 15 114-20 138-19-130z"/><path class="c42" d="M2122 736l20 114 20 828 15 113-20-934-20-116z"/><path class="c47" d="M2083 744l19-13 20 5 15 5-19-4-20 13z"/><path class="c42" d="M2043 1712l20-845 20-123 15 6-20 125-20 952z"/><path class="c10" d="M2004 1720l20 105 19-113 15 115-19 141-20-133z"/><path class="c42" d="M1965 770l19 115 20 835 15 115-20-943-19-116z"/><path class="c47" d="M1925 779l20-13 20 4 15 6-20-5-20 14z"/><path class="c42" d="M1886 1754l19-852 20-123 15 6-20 125-19 961z"/><path class="c9" d="M1846 1763l20 106 20-115 15 117-20 144-20-136z"/><path class="c42" d="M1807 804l20 115 19 844 15 116-19-952-20-117z"/><path class="c47" d="M1196 926l572-125 19-3 20 6 15 6-20-6-19 2-572 125zM2571 646l19-16 20-6 571-126 15 6-571 126-20 6-19 15z"/><path class="c42" d="M2531 1695l20-925 20-124 15 5-20 123-20 823z"/><path class="c10" d="M2492 1704l20 125 19-134 15-98-19 108-20-100z"/><path class="c42" d="M2452 672l20 116 20 916 15-99-20-813-20-114z"/><path class="c47" d="M2413 681l20-13 19 4 15 6-19-5-20 13z"/><path class="c42" d="M2374 1739l19-934 20-124 15 5-20 123-19 830z"/><path class="c10" d="M2334 1747l20 128 35-236-20 110-20-102z"/><path class="c42" d="M2295 707l19 116 20 924 15-100-19-821-20-114z"/><path class="c47" d="M2255 715l20-13 20 5 15 5-20-4-20 13z"/><path class="c42" d="M2216 1783l20-943 19-125 15 6-19 123-20 837z"/><path class="c10" d="M2177 1791l19 130 35-240-20 112-19-103z"/><path class="c42" d="M2137 741l20 116 20 934 15-101-20-829-20-114z"/><path class="c47" d="M2098 750l20-13 19 4 15 6-19-5-20 14z"/><path class="c42" d="M2058 1827l20-952 20-125 15 6-20 123-20 844z"/><path class="c10" d="M2019 1835l20 133 34-245-19 114-20-105z"/><path class="c42" d="M1980 776l19 116 20 943 15-103-20-836-19-114z"/><path class="c47" d="M1940 785l20-14 20 5 15 6-20-5-20 13z"/><path class="c42" d="M1901 1871l19-961 20-125 15 5-19 123-20 852z"/><path class="c9" d="M1861 1879l20 136 35-250-20 116-20-107z"/><path class="c42" d="M1822 810l20 117 19 952 15-105-19-843-20-115z"/><path class="c47" d="M1211 931l572-125 19-2 20 6 15 6-20-7-39 7-552 121zM2586 651l19-15 40-11 551-121 15 6-571 126-20 6-19 14z"/><path class="c42" d="M2566 774l20-123 15 5-20 63z"/><path class="c45" d="M2546 1597l20-823 15-55-20 65z"/><path class="c42" d="M2507 1605l20 100 19-108 15-813-19 6-20 3z"/><path class="c45" d="M2487 792l20 813 15-812-20-57z"/><path class="c42" d="M2467 678l20 114 15-56-19-54z"/><path class="c47" d="M2428 686l20-13 35 9-20-3-20 12z"/><path class="c42" d="M2408 809l20-123 15 5-20 63z"/><path class="c45" d="M2389 1639l19-830 15-55-19 65z"/><path class="c42" d="M2349 1647l20 102 20-110 15-820-20 6-20 3z"/><path class="c45" d="M2330 826l19 821 15-819-19-57z"/><path class="c42" d="M2310 712l20 114 15-55-20-54z"/><path class="c47" d="M2270 721l20-13 20 4 15 5-20-4-19 13z"/><path class="c42" d="M2251 844l19-123 16 5-20 62z"/><path class="c45" d="M2231 1681l20-837 15-56-20 66z"/><path class="c42" d="M2192 1690l19 103 20-112 15-827-20 6-19 3z"/><path class="c45" d="M2172 861l20 829 15-827-20-57z"/><path class="c42" d="M2152 747l20 114 15-55-20-54z"/><path class="c47" d="M2113 756l20-14 34 10-19-4-20 12z"/><path class="c42" d="M2093 879l20-123 15 4-20 63z"/><path class="c45" d="M2073 1723l20-844 15-56-20 66z"/><path class="c42" d="M2034 1732l20 105 19-114 15-834-19 6-20 2z"/><path class="c45" d="M2014 896l20 836 15-835-20-57z"/><path class="c42" d="M1995 782l19 114 15-56-19-54z"/><path class="c47" d="M1955 790l20-13 35 9-20-3-20 12z"/><path class="c42" d="M1936 913l19-123 15 5-19 63z"/><path class="c45" d="M1916 1765l20-852 15-55-20 65z"/><path class="c42" d="M1876 1774l20 107 20-116 15-842-20 7-19 2z"/><path class="c45" d="M1857 931l19 843 16-842-20-57z"/><path class="c42" d="M1837 816l20 115 15-56-20-55z"/><path class="c47" d="M1226 937l572-125 19-3 20 7 15 4-20-5-39 7-414 90-138 31zM2601 656l19-14 40-11 551-121 15 5-571 126-20 6-19 9z"/><path class="c45" d="M2581 719l20-63 15 0-20 10z"/><path class="c42" d="M2502 736l20 57 20-3 19-6 20-65 15-53-39 10-40 7z"/><path class="c45" d="M2483 682l19 54 15-53z"/><path class="c47" d="M2443 691l20-12 20 3 15 1-20 1-20 7z"/><path class="c45" d="M2423 754l20-63 15 0-20 10z"/><path class="c42" d="M2345 771l19 57 20-3 20-6 34-118-59 14-19 3z"/><path class="c45" d="M2325 717l20 54 15-53z"/><path class="c47" d="M2286 726l19-13 20 4 15 0-20 1-19 8z"/><path class="c45" d="M2266 788l20-62 15 0-20 9z"/><path class="c42" d="M2187 806l20 57 19-3 20-6 35-119-20 6-59 12z"/><path class="c45" d="M2167 752l20 54 15-53z"/><path class="c47" d="M2128 760l20-12 19 4 15 0-19 1-20 8z"/><path class="c45" d="M2108 823l20-63 15 1-20 9z"/><path class="c42" d="M2029 840l20 57 20-2 19-6 35-119-39 10-40 7z"/><path class="c45" d="M2010 786l19 54 15-53z"/><path class="c47" d="M1970 795l20-12 20 3 15 1-20 1-20 7z"/><path class="c45" d="M1951 858l19-63 15 0-19 10z"/><path class="c42" d="M1872 875l20 57 19-2 20-7 20-65 15-53-79 17z"/><path class="c45" d="M1852 820l20 55 15-53z"/><path class="c47" d="M1241 943l572-125 19-3 20 5 15 1-20-1-39 7-552 121zM1256 948l572-125 19-3 40 2 59-12 20-5 19-10 20-7 39-1 40-7 39-10 40-17 19-1 20 1 59-12 20-6 39-17 20-1 20 1 19-3 59-14 20-10 20-7 39-1 40-7 39-10 39-19 20-6 434-95 137-31 16 6-592 131-78 19-690 151-59 11-551 121zM1272 954l590-129 40-7 729-161 59-15 552-121 15 6-1833 402-137 31zM1287 960l1970-433 15 5-1970 433zM1302 965l1832-402 138-31 105 40-1970 433zM1407 1005l1832-402 138-31 105 40-1970 433zM1512 1045l1832-402 138-31 106 40-1970 433zM1618 1085l1970-433 105 40-1399 307-19 5-552 121z"/></g><path class="a" stroke-width="1.55" d="M172.3 235.8L369.3 192.5M172.3 235.8L21.8 178.8M172.3 235.8l5.1 1.9M192 231.5l5.1 1.9M211.7 227.1l5.1 1.9M231.4 222.8l5.1 1.9M251.1 218.5l5.1 1.9M270.8 214.2l5.1 1.9M290.5 209.8l5.1 1.9M310.2 205.5l5.1 1.9M329.9 201.2l5.1 1.9M349.6 196.8l5.1 1.9M369.3 192.5l5.1 1.9M172.3 235.8l-5.4 1.2M157.2 230.1l-5.4 1.2M142.2 224.4l-5.4 1.2M127.2 218.7l-5.4 1.2M112.1 213l-5.4 1.2M97.1 207.3l-5.4 1.2M82 201.6l-5.4 1.2M67 195.9l-5.4 1.2M51.9 190.2l-5.4 1.2M36.8 184.5l-5.4 1.2M21.8 178.8l-5.4 1.2"/><path fill="none" stroke="#999" stroke-width="2" d="M21.8 178.8L21.8 55.5"/><path class="t" d="M21.8 178.8l-5.1 -1.9M21.8 154.1l-5.1 -1.9M21.8 129.5l-5.1 -1.9M21.8 104.8l-5.1 -1.9M21.8 80.2l-5.1 -1.9"/><text transform="translate(195.55 7.7) scale(.48 1)" font-size="9.84" text-anchor="middle" font-weight="bold">Parameter space</text><text transform="translate(179.1 248) scale(.48 1)" font-size="8.94">-100</text><text transform="translate(198.8 243.67) scale(.48 1)" font-size="8.94">-80</text><text transform="translate(218.5 239.34) scale(.48 1)" font-size="8.94">-60</text><text transform="translate(238.2 235.01) scale(.48 1)" font-size="8.94">-40</text><text transform="translate(257.9 230.68) scale(.48 1)" font-size="8.94">-20</text><text transform="translate(277.6 226.35) scale(.48 1)" font-size="8.94">0</text><text transform="translate(297.3 222.02) scale(.48 1)" font-size="8.94">20</text><text transform="translate(317 217.69) scale(.48 1)" font-size="8.94">40</text><text transform="translate(336.7 213.36) scale(.48 1)" font-size="8.94">60</text><text transform="translate(356.4 209.03) scale(.48 1)" font-size="8.94">80</text><text transform="translate(376.1 204.7) scale(.48 1)" font-size="8.94">100</text><text transform="translate(166 247.2) scale(.48 1)" font-size="8.94" text-anchor="end">-100</text><text transform="translate(150.95 241.5) scale(.48 1)" font-size="8.94" text-anchor="end">-80</text><text transform="translate(135.9 235.8) scale(.48 1)" font-size="8.94" text-anchor="end">-60</text><text transform="translate(120.85 230.1) scale(.48 1)" font-size="8.94" text-anchor="end">-40</text><text transform="translate(105.8 224.4) scale(.48 1)" font-size="8.94" text-anchor="end">-20</text><text transform="translate(90.75 218.7) scale(.48 1)" font-size="8.94" text-anchor="end">0</text><text transform="translate(75.7 213) scale(.48 1)" font-size="8.94" text-anchor="end">20</text><text transform="translate(60.65 207.3) scale(.48 1)" font-size="8.94" text-anchor="end">40</text><text transform="translate(45.6 201.6) scale(.48 1)" font-size="8.94" text-anchor="end">60</text><text transform="translate(30.55 195.9) scale(.48 1)" font-size="8.94" text-anchor="end">80</text><text transform="translate(15.5 190.2) scale(.48 1)" font-size="8.94" text-anchor="end">100</text><text transform="translate(15.3 180.5) scale(.48 1)" font-size="8.94" text-anchor="end">0</text><text transform="translate(15.3 155.84) scale(.48 1)" font-size="8.94" text-anchor="end">100</text><text transform="translate(15.3 131.18) scale(.48 1)" font-size="8.94" text-anchor="end">200</text><text transform="translate(15.3 106.52) scale(.48 1)" font-size="8.94" text-anchor="end">300</text><text transform="translate(15.3 81.86) scale(.48 1)" font-size="8.94" text-anchor="end">400</text><text transform="translate(242.46 258.59) scale(.48 1)" font-size="9.84" text-anchor="middle">x<tspan dy="4.13" font-size="7.87">1</tspan></text><text transform="translate(112.76 255.09) scale(.48 1)" font-size="9.84" text-anchor="middle">x<tspan dy="4.13" font-size="7.87">2</tspan></text><text transform="translate(4.07 117) scale(.48 1) rotate(-90)" font-size="10.82" text-anchor="middle">F14( x<tspan dy="3.25" font-size="8.66">1</tspan><tspan dy="-3.25"> , x</tspan><tspan dy="3.25" font-size="8.66">2</tspan><tspan dy="-3.25"> )</tspan></text><text class="b" x="117.3" y="365.9">F14</text></g>
<g id="F15"><path class="g" d="M698.7 215.8L540.2 163.8M719.6 211.8L561.1 159.8M740.5 207.8L582 155.8M761.3 203.8L602.9 151.8M782.2 199.8L623.8 147.8M803.1 195.8L644.6 143.8M824 191.8L665.5 139.8M844.9 187.8L686.4 135.8M865.7 183.8L707.3 131.8M886.6 179.8L728.2 127.8M907.5 175.8L749 123.8M698.7 215.8L907.5 175.8M682.9 210.6L891.7 170.6M667 205.4L875.8 165.4M651.2 200.2L860 160.2M635.3 195L844.1 155M619.5 189.8L828.3 149.8M603.6 184.6L812.4 144.6M587.8 179.4L796.6 139.4M571.9 174.2L780.7 134.2M556.1 169L764.9 129M540.2 163.8L749 123.8M540.2 163.8L749 123.8M749 123.8L907.5 175.8M540.2 142.5L749 102.5M749 102.5L907.5 154.5M540.2 121.2L749 81.2M749 81.2L907.5 133.2M540.2 99.9L749 59.9M749 59.9L907.5 111.9M540.2 78.6L749 38.6M749 38.6L907.5 90.6M540.2 57.3L749 17.3M749 17.3L907.5 69.3"/><path class="v" d="M540.2 163.8L540.2 51M561.1 159.8L561.1 47M582 155.8L582 43M602.9 151.8L602.9 39M623.8 147.8L623.8 35M644.6 143.8L644.6 31M665.5 139.8L665.5 27M686.4 135.8L686.4 23M707.3 131.8L707.3 19M728.2 127.8L728.2 15M749 123.8L749 11M907.5 175.8L907.5 63M891.7 170.6L891.7 57.8M875.8 165.4L875.8 52.6M860 160.2L860 47.4M844.1 155L844.1 42.2M828.3 149.8L828.3 37M812.4 144.6L812.4 31.8M796.6 139.4L796.6 26.6M780.7 134.2L780.7 21.4M764.9 129L764.9 16.2M749 123.8L749 11"/><g transform="scale(.1)"><g class="k"><path stroke="#ff240d" d="M7686 2024l-140-23-103-14-51-5-1-1-139-13-159-9-70-2-152 0-136 4-171 10-117 10M8526 1578l-33 11-44 17-59 25-52 26-35 21-1 2-28 21-16 17-12 18-6 13-3 13 0 17 2 11 8 20 10 16 10 13 13 14 8 6 11 11 39 29M5942 1815l32-11 52-21 48-22 25-13 0-1 41-24 26-21 18-19 9-14 5-10 5-19-1-22-9-25-9-14-11-14-17-18-19-17-35-26M6754 1379l80 14 6 0 66 11 169 21 125 11 140 8 72 2 177 0 4-1 91-2 87-4 105-7 163-14"/><path stroke="#ff3b0e" d="M7550 2050l-117-15-142-14-97-7-115-5-2-1-125-3-132 0-4 1-48 0-71 2-145 7M8627 1611l-21 9-46 23-30 17-23 15-32 25-18 18-15 21-5 9-6 18-2 17 2 20 5 16 14 26 2 1 6 10 11 13 5 4M5838 1781l52-26 24-14 32-22 19-16 20-20 13-19 8-18 4-15 0-23-2-10-6-17-10-19-13-18-13-14M6889 1353l91 12 80 9 88 8 126 9 119 5 71 2 166 0 145-4 163-9"/><path stroke="#ff520e" d="M7446 2070l-83-9-102-8-2-1-146-9-71-3-72-1-4-1-148-1-156 3-30 2M8704 1636l-30 17-49 33-27 24-18 21-1 3-5 6-10 21-3 13-1 0-2 21 1 0 1 17 3 11 5 13 9 17M5758 1755l52-34 7-7 19-15 19-21 6-8 11-19 4-9 5-21 0-21-1-8-6-20-7-15-1 0-4-7M6993 1333l70 8 129 11 153 9 82 3 105 2 116 0 213-6"/><path stroke="#ff680e" d="M7359 2087l-74-7-132-9-134-6-157-3-67 0-95 2M8769 1658l-30 20-30 25-23 25-15 22-10 25-3 20 1 18 2 12 4 12M5690 1732l3-1 15-11 2-3 17-13 16-16 16-19 11-19 6-13 5-21 0-26-6-23M7081 1316l59 6 93 7 181 9 141 3 116 0 125-3"/><path stroke="#ff7f0e" d="M7282 2102l-69-6-177-9-108-3-47 0-5-1-117 0M8827 1677l-29 23-24 24-13 18-10 18-7 20-3 15 1 27M5631 1713l37-37 9-12 11-19 9-26 2-13-1-25M7158 1302l81 6 131 7 82 3 105 2 165 0 16-1"/><path stroke="#ff960f" d="M7212 2115l-112-7-129-5-158-2M8879 1694l-26 24-23 30-5 9-10 26-3 17 0 8M5577 1695l19-21 10-13 8-13 11-29 3-24M7228 1288l3 1 147 8 85 3 83 1 6 1 134 0"/><path stroke="#ffad0f" d="M7148 2127l-121-6-164-4M8927 1709l-16 17-13 17-5 9-1 0-11 24-5 20M5527 1679l14-17 9-15 8-18 6-22M7292 1276l68 4 104 4 175 3"/><path stroke="#ffc40f" d="M7088 2139l-51-3-128-4M8971 1724l-7 8-18 27-4 10-2 2-4 14M5481 1664l12-19 11-26M7352 1265l162 6 80 1"/><path stroke="#ffdb10" d="M7032 2149l-80-2M9013 1738l-15 22-6 14M5438 1650l10-21M7408 1254l144 4"/><path stroke="#fff110" d="M9052 1751l-7 13M7461 1244l52 1"/></g><g fill="url(#G15)" stroke="url(#G15)" stroke-width="5" stroke-linejoin="round"><path transform="translate(0 -819)" d="M5402 1408l63 112 70 116 62 96 63 88 63 80 69 79 63 64 69 61 63 47 63 40 62 31 70 26 63 14 34 5 35 3 63-2 69-11 63-18 70-30 69-39 63-43 63-52 62-59 70-75 62-76 63-83 70-102 69-112 63-108 63-117 62-124 70-148 62-141 16 50-62 136-70 142-69 133-63 111-63 104-62 97-70 99-63 80-69 81-63 65-63 57-69 55-70 46-62 33-63 25-63 18-69 11-63 2-63-5-69-15-63-21-62-29-70-41-63-44-69-59-63-60-63-69-69-84-63-84-62-91-63-99-70-119z"/><path transform="translate(0 -811)" d="M5418 1447l70 118 63 99 62 92 63 84 69 84 63 68 63 61 69 58 63 45 70 41 62 29 63 21 69 15 63 5 63-2 69-11 63-18 63-26 62-33 70-45 69-55 63-57 63-65 69-81 63-81 70-98 62-97 63-104 63-111 69-133 70-142 62-136 16 49-62 131-70 136-63 116-62 108-63 102-70 104-69 95-63 78-62 70-70 70-63 56-62 48-63 41-70 37-69 28-63 18-69 11-63 3-70-6-62-13-70-22-63-28-62-35-63-43-69-55-63-58-70-72-62-73-63-80-63-88-69-105-63-103z"/><path transform="translate(0 -803)" d="M5434 1484l63 103 69 105 63 87 63 81 62 72 70 73 63 58 69 55 63 43 62 35 63 28 70 22 62 13 70 6 63-3 69-11 63-18 69-28 70-37 63-41 62-48 63-56 70-70 62-71 63-78 69-95 70-104 63-101 62-108 63-116 70-137 62-131 16 49-70 139-62 118-63 112-62 104-70 108-63 90-69 91-63 76-63 68-69 68-63 53-62 47-70 44-63 32-69 28-63 17-63 11-62 3-70-4-62-11-70-20-63-25-62-33-70-44-63-47-69-61-63-61-62-69-63-75-70-92-69-101-63-98z"/><path transform="translate(0 -795)" d="M5450 1521l63 98 69 100 70 92 63 76 62 69 63 61 69 61 63 47 70 44 62 32 63 26 70 20 62 11 70 4 62-4 63-10 63-18 69-27 63-32 70-44 62-47 63-54 69-67 63-69 63-75 69-92 63-89 70-108 62-105 63-111 62-118 70-140 16 47-63 122-69 126-63 108-63 100-62 94-70 97-69 88-63 72-63 66-69 66-63 52-63 45-62 39-70 35-69 27-63 17-70 11-62 4-63-4-63-10-69-18-63-24-69-35-63-38-70-50-62-52-70-65-63-66-62-73-63-79-69-96-63-93z"/><path transform="translate(0 -786)" d="M5466 1557l63 93 69 96 63 79 62 73 63 66 70 65 62 52 70 50 63 38 69 34 63 24 69 19 63 10 63 4 62-4 70-11 63-17 69-27 70-36 62-38 63-46 63-51 69-66 63-66 63-72 69-89 70-96 62-94 63-101 63-107 69-127 63-121 16 46-70 129-63 110-62 103-63 97-62 90-70 93-70 85-62 70-63 64-70 63-62 50-63 44-62 37-70 35-70 26-62 17-70 12-63 3-62-2-70-11-62-16-63-22-70-33-62-35-70-48-63-49-69-62-63-63-62-69-63-75-70-91-62-89z"/><path transform="translate(0 -778)" d="M5482 1592l62 89 70 91 63 75 62 69 63 63 69 62 63 49 70 47 62 36 70 32 63 23 62 16 70 10 62 3 63-4 70-11 62-17 70-27 70-34 62-37 63-44 62-50 70-64 63-63 62-70 70-85 70-93 62-91 63-96 62-103 63-110 70-129 16 46-70 123-63 106-62 99-63 93-70 96-62 80-70 82-62 67-63 62-70 61-62 48-63 43-70 40-62 29-70 26-62 17-63 11-63 4-69-1-63-8-70-17-62-20-63-27-69-38-63-39-70-52-62-52-63-59-63-65-69-79-70-86-62-84z"/><path transform="translate(0 -770)" d="M5498 1627l62 84 70 86 69 79 63 65 63 59 62 52 70 51 63 40 69 37 63 27 62 21 70 16 63 8 69 2 63-4 63-11 62-17 70-26 62-30 70-40 63-42 62-49 70-61 63-61 62-67 70-82 62-80 70-97 63-93 62-99 63-105 70-124 15 45-62 107-70 113-62 95-63 89-63 84-69 86-70 79-63 64-69 66-63 52-62 47-63 41-63 36-69 32-63 23-70 19-62 11-63 5-63-1-69-8-70-14-62-20-70-28-63-32-69-42-63-44-69-55-63-56-63-62-62-68-70-82-63-80z"/><path transform="translate(0 -762)" d="M5513 1660l63 80 70 82 62 68 63 62 63 56 69 55 63 44 69 42 63 32 70 28 62 19 70 15 69 8 63 1 63-5 62-11 70-19 63-23 69-33 63-35 63-41 62-47 63-52 69-66 63-65 70-79 69-86 63-83 63-89 62-96 70-112 62-108 16 44-62 103-70 108-70 101-62 85-63 80-62 74-70 76-63 62-69 63-63 51-63 45-69 44-70 37-62 28-63 22-63 16-69 12-63 4-63 0-69-8-63-12-63-18-69-27-63-29-69-40-63-41-63-47-69-58-63-59-63-64-62-69-70-84z"/><path transform="translate(0 -754)" d="M5529 1693l70 83 62 70 63 64 63 58 69 59 63 47 63 41 69 40 63 29 69 27 63 18 63 12 69 7 63 1 63-5 69-11 63-17 63-22 62-27 70-37 69-44 63-45 63-51 69-63 63-62 70-76 62-74 63-80 62-85 70-101 70-108 62-103 16 42-63 99-69 104-63 87-62 83-63 77-70 79-69 73-63 60-63 55-69 55-63 43-62 39-63 33-70 31-69 24-63 16-63 11-62 6-70 0-62-6-70-12-63-17-69-24-63-28-69-37-63-39-70-49-62-50-63-55-63-60-69-74-63-71z"/><path transform="translate(0 -745)" d="M5545 1724l63 72 69 73 63 61 63 55 62 50 70 49 63 39 69 37 63 28 69 24 63 17 70 12 62 5 70 0 62-5 63-11 63-16 69-25 70-30 63-33 62-39 63-44 69-54 63-55 63-60 69-73 70-80 63-77 62-82 63-88 69-103 63-99 16 42-63 94-69 100-63 84-63 78-62 74-70 77-69 70-63 57-63 53-69 53-63 42-63 37-62 32-70 30-62 22-70 18-70 12-62 5-63 1-70-6-62-10-63-15-69-23-63-26-70-34-62-37-63-41-70-52-62-52-63-57-69-69-63-67z"/><path transform="translate(0 -737)" d="M5561 1755l63 68 69 69 63 57 62 52 70 52 63 41 62 37 70 34 63 26 69 23 63 15 62 10 70 5 63 0 62-5 70-12 70-18 62-22 70-30 62-32 63-37 63-42 69-53 63-53 63-58 69-70 70-76 62-74 63-79 63-84 69-99 63-94 16 40-63 91-69 95-63 80-63 76-62 71-70 73-70 67-62 56-70 56-62 45-63 41-63 36-62 31-70 29-70 23-62 16-70 12-62 6-70 0-63-4-62-9-63-14-70-21-62-24-70-32-62-34-70-43-63-44-62-49-63-54-70-65-62-63z"/><path transform="translate(0 -729)" d="M5577 1786l62 63 70 65 63 54 62 49 63 44 70 43 62 34 70 32 62 24 70 21 63 14 62 9 63 4 70-1 62-5 70-12 62-16 70-23 70-29 62-31 63-36 63-41 62-45 70-57 62-55 70-67 70-73 62-71 63-76 63-80 69-95 63-91 16 40-63 87-70 90-62 77-63 73-63 68-69 70-70 64-62 54-63 48-70 49-62 40-63 34-69 34-63 25-70 22-62 16-63 11-70 7-62 2-70-4-62-8-63-13-70-19-62-22-70-30-63-31-69-41-63-41-62-46-63-50-70-61-62-60z"/><path transform="translate(0 -721)" d="M5593 1815l62 60 70 61 63 50 62 46 63 41 69 40 63 32 70 30 62 22 70 19 63 13 62 8 70 3 62-1 70-7 63-11 62-16 70-23 63-25 69-33 63-35 62-39 70-49 63-49 62-53 70-64 69-71 63-67 63-73 62-77 70-91 63-86 15 39-69 91-63 78-62 74-63 69-70 72-62 60-70 62-63 51-62 47-70 47-62 38-63 34-70 32-62 24-70 22-63 16-62 11-63 7-69 2-63-2-70-7-62-12-63-15-70-22-62-25-70-32-62-34-63-38-63-42-69-52-70-57-63-57z"/><path transform="translate(0 -712)" d="M5608 1843l63 56 70 58 69 52 63 42 63 38 62 33 70 33 62 24 70 23 63 15 62 12 70 7 63 2 69-2 63-7 62-11 63-16 70-22 62-24 70-33 63-33 62-38 70-47 62-47 63-51 70-62 62-60 70-72 63-69 62-74 63-78 69-91 16 38-62 79-70 83-63 70-62 66-63 62-69 64-70 60-63 49-62 45-70 45-63 37-62 32-63 28-69 27-63 20-70 17-69 12-63 7-63 2-62-1-70-7-62-10-70-15-63-19-69-25-63-28-70-35-62-35-63-40-62-44-70-53-63-53z"/><path transform="translate(0 -704)" d="M5624 1871l63 52 70 54 62 44 63 39 62 36 70 35 63 27 69 26 63 18 70 16 62 10 70 7 62 1 63-3 63-6 69-12 70-18 63-19 69-27 63-28 62-33 63-36 70-45 62-45 63-49 70-60 69-64 63-62 62-66 63-71 70-83 62-78 16 37-62 75-70 79-63 67-62 63-63 60-70 61-69 57-63 47-62 43-70 44-63 35-62 31-63 28-70 26-69 21-63 15-69 12-63 7-63 3-62-1-63-4-70-10-69-14-63-17-69-23-63-25-63-29-69-37-63-37-63-40-69-50-63-49z"/><path transform="translate(0 -696)" d="M5640 1898l63 49 69 49 63 41 63 37 69 37 63 29 63 25 69 23 63 17 69 14 70 10 63 4 62 1 63-3 63-7 69-12 63-15 69-22 70-26 63-27 62-31 63-35 70-44 62-43 63-47 69-57 70-61 63-60 62-63 63-67 70-79 62-75 16 36-70 79-62 68-63 64-63 60-62 57-70 59-69 54-63 45-63 42-69 41-63 34-63 30-62 27-70 25-69 21-63 15-70 12-62 7-63 4-63 0-69-4-63-8-69-13-63-15-70-21-62-23-70-30-62-30-63-35-63-37-69-47-63-45z"/><path transform="translate(0 -688)" d="M5656 1924l63 45 69 46 63 38 63 34 62 31 70 30 62 23 70 21 63 15 69 13 63 8 69 4 63 0 63-4 62-7 70-12 63-15 69-21 70-25 62-27 63-30 63-34 69-42 63-41 63-45 69-54 70-59 62-57 63-60 63-64 62-68 70-79 16 35-63 68-69 72-63 61-63 58-62 54-70 56-69 52-63 43-70 44-62 36-63 32-63 29-62 26-70 25-69 20-63 15-63 11-62 8-70 5-63 0-69-3-63-6-69-11-63-14-70-19-62-21-70-28-63-28-62-31-63-35-69-43-63-42z"/><path transform="translate(0 -679)" d="M5672 1949l63 42 69 43 63 35 62 31 63 28 70 27 62 21 70 20 63 13 69 12 63 6 69 3 63 0 70-5 62-8 63-11 63-15 69-20 70-25 62-26 63-29 63-32 62-36 70-44 63-43 69-52 70-57 62-54 63-57 63-61 69-72 63-68 16 34-63 65-70 68-125 113-62 52-70 54-70 49-62 41-63 39-70 38-62 31-70 31-69 28-63 20-63 18-62 15-63 11-70 9-62 5-70 1-62-2-63-6-70-9-62-13-63-15-70-21-69-25-63-25-62-29-63-33-70-39-62-39z"/><path transform="translate(0 -671)" d="M5688 1973l62 39 70 39 63 32 62 29 63 26 69 25 70 21 63 15 62 12 70 10 63 5 62 3 70-2 62-4 70-9 63-11 62-15 63-18 63-21 69-27 70-31 62-31 70-39 63-38 62-41 70-50 70-53 62-52 125-113 70-68 63-65 16 34-70 68-63 58-125 108-63 49-69 51-70 47-62 40-70 40-63 33-62 30-70 30-70 27-62 20-63 17-62 15-63 11-63 9-69 5-63 2-70-1-62-4-70-9-62-10-70-16-63-17-62-20-70-26-63-26-62-29-70-37-62-35z"/><path transform="translate(0 -663)" d="M5704 1996l62 36 70 36 62 30 63 26 70 26 62 20 63 17 70 15 62 11 70 8 62 5 70 1 63-2 69-6 63-8 63-11 62-15 63-17 62-21 70-26 70-30 62-30 63-33 70-40 62-40 70-47 69-51 63-50 125-107 63-58 70-68 15 32-132 120-125 102-70 52-62 44-70 45-63 38-62 35-70 35-62 29-63 26-70 26-62 20-70 20-63 14-62 11-70 10-62 5-70 3-70-1-62-3-63-7-63-9-69-14-63-15-62-18-63-21-63-23-69-30-70-33-63-33z"/><path transform="translate(0 -655)" d="M5719 2019l63 33 70 33 69 29 63 24 63 21 62 18 63 15 69 14 63 9 63 6 62 4 70 1 70-3 62-6 70-9 62-11 63-15 70-19 62-20 70-26 63-26 62-29 70-35 62-35 63-38 70-45 62-44 70-52 125-102 132-120 16 32-132 114-125 97-63 44-70 47-69 43-63 36-62 33-70 34-63 28-62 25-63 23-70 22-69 19-63 14-62 11-63 9-70 7-62 3-63 1-70-3-69-5-63-8-62-11-70-14-63-17-69-20-63-22-63-24-69-30-63-30z"/><path transform="translate(0 -646)" d="M5735 2041l63 29 69 30 63 25 63 21 69 21 63 16 70 15 62 11 63 7 69 6 70 2 63 0 62-3 70-7 63-9 62-12 63-14 69-18 70-22 63-23 62-25 63-28 70-34 62-33 63-37 69-43 70-46 63-45 125-97 132-113 16 30-132 108-125 92-133 87-132 75-63 32-69 33-125 51-63 22-70 21-69 19-63 14-63 11-62 9-70 7-62 4-70 2-63-2-69-4-63-7-70-10-62-11-70-16-62-17-126-41-69-27-63-27z"/><path transform="translate(0 -638)" d="M5751 2061l63 27 69 28 126 41 62 17 70 15 62 12 70 10 63 7 69 4 63 1 70-1 62-4 70-7 62-9 63-12 63-13 69-19 70-21 63-22 125-51 69-33 63-32 132-75 133-87 125-92 132-108 16 30-132 102-126 88-132 82-132 72-132 62-126 49-62 21-70 21-69 18-63 14-125 20-70 8-63 5-69 2-63-1-69-3-63-5-70-8-62-10-63-13-70-16-125-37-132-48z"/><path transform="translate(0 -630)" d="M5767 2082l132 48 125 37 70 16 63 12 62 10 70 9 63 5 69 3 63 1 69-3 63-4 70-8 125-21 63-13 69-18 70-21 62-21 126-50 132-61 132-73 132-82 126-87 132-102 16 29-132 97-126 82-132 78-132 69-132 59-126 47-132 41-132 32-132 22-133 12-125 3-132-6-125-14-133-24-132-34-132-43z"/><path transform="translate(0 -622)" d="M5783 2101l132 43 132 34 133 24 125 14 132 6 125-3 133-13 132-22 132-31 132-41 126-47 132-59 132-69 132-78 126-83 132-96 16 28-133 91-132 82-125 70-132 66-133 56-132 48-132 40-125 29-126 21-132 14-132 5-132-4-133-12-132-21-125-28-132-38z"/><path transform="translate(0 -614)" d="M5799 2119l132 38 125 28 132 21 133 12 132 4 132-5 132-14 126-22 125-29 132-39 132-48 133-56 132-66 125-70 132-82 133-91 15 27-132 86-125 74-132 70-133 63-132 54-125 44-132 38-133 31-132 22-132 14-125 7-133-2-125-8-132-17-132-25-133-33z"/><path transform="translate(0 -605)" d="M5814 2137l133 33 132 25 132 17 125 8 133 1 125-6 132-14 132-23 133-30 132-39 125-44 132-54 133-62 132-70 125-74 132-86 16 26-132 81-125 70-132 67-133 59-132 52-125 42-132 38-133 30-132 22-132 16-125 7-133 1-132-6-125-13-132-21-133-28z"/><path transform="translate(0 -597)" d="M5830 2153l133 29 132 20 125 13 132 7 133-1 125-8 132-15 132-23 133-30 132-37 125-42 132-52 133-59 132-67 125-70 132-81 16 26-132 76-125 66-133 63-132 56-132 50-132 43-133 36-125 28-125 21-132 17-133 10-132 3-125-4-132-10-133-17-132-24z"/><path transform="translate(0 -589)" d="M5846 2169l132 24 133 17 132 10 125 3 132-3 133-9 132-17 125-22 125-28 133-36 132-42 132-50 132-56 133-63 125-66 132-77 16 25-132 72-126 62-132 60-132 53-132 48-126 39-132 35-132 30-125 22-133 17-132 11-132 5-125-1-133-7-132-13-132-20z"/><path transform="translate(0 -581)" d="M5862 2184l132 20 132 13 133 7 125 1 132-5 132-11 133-18 125-22 132-29 132-35 126-40 132-47 132-54 132-59 126-63 132-71 16 23-132 68-126 58-132 57-132 51-125 43-133 40-132 35-132 29-132 23-126 17-132 12-132 7-125 1-133-4-132-9-132-15z"/><path transform="translate(0 -572)" d="M5878 2198l132 16 132 9 133 4 125-1 132-7 132-12 126-17 132-24 132-29 132-34 133-40 125-43 132-51 132-57 126-59 132-67 16 23-133 63-125 56-132 53-132 48-133 44-125 36-132 34-132 28-133 24-132 18-125 13-132 9-133 4-132-2-132-6-125-11z"/><path transform="translate(0 -564)" d="M5894 2212l125 10 132 7 132 1 133-3 132-9 125-13 132-18 133-24 132-28 132-34 125-36 133-44 132-48 132-54 125-55 133-63 16 22-133 59-132 55-125 48-132 46-133 41-125 35-132 33-132 28-126 23-132 19-132 15-132 11-126 5-132 2-132-3-132-8z"/><path transform="translate(0 -556)" d="M5910 2224l132 8 132 3 132-2 126-6 132-10 132-15 132-19 126-23 132-28 132-33 125-35 133-42 132-46 125-47 132-55 133-60 15 21-132 56-125 49-132 48-133 44-132 40-125 34-132 32-133 27-125 23-132 20-132 16-133 12-132 8-125 4-132 0-133-4z"/><path transform="translate(0 -548)" d="M5925 2236l133 4 132 0 125-4 132-8 133-12 132-16 132-20 125-23 133-28 132-32 125-34 132-39 133-44 132-48 125-49 132-56 16 20-132 52-125 47-133 45-132 42-132 38-125 33-133 31-132 27-132 24-132 21-126 16-132 14-125 9-132 7-133 3-132-1z"/><path transform="translate(0 -539)" d="M5941 2247l132 0 133-3 132-6 125-10 132-13 126-16 132-21 132-24 132-27 133-32 125-32 132-39 132-41 133-46 125-46 132-52 16 19-132 49-125 44-133 42-132 40-132 37-125 32-133 30-132 27-132 25-125 20-133 18-132 15-125 11-132 9-133 5-132 3z"/><path transform="translate(0 -531)" d="M5957 2257l132-3 133-6 132-8 125-12 132-15 133-18 125-20 132-24 132-27 133-31 125-31 132-37 132-40 133-43 125-43 132-49 16 18-132 46-126 41-132 41-132 38-132 35-126 30-132 30-132 27-125 23-133 22-132 19-132 17-132 13-133 11-125 8-132 5z"/><path transform="translate(0 -523)" d="M5973 2266l132-6 125-7 133-11 132-14 132-16 132-19 133-22 125-23 132-27 132-30 126-31 132-35 132-38 132-40 126-41 132-46 16 17-258 82-264 75-258 63-264 56-258 46-264 37-258 28-264 18z"/><path transform="translate(0 -515)" d="M5989 2274l264-19 258-27 264-37 258-46 264-56 258-64 264-74 258-82 16 16-265 79-257 70-258 61-264 55-265 47-257 39-265 31-257 23z"/><path transform="translate(0 -506)" d="M6005 2282l257-23 265-32 257-38 265-47 264-55 258-62 257-69 265-79 15 16-264 74-258 66-264 61-258 53-257 47-265 41-257 34-265 27z"/><path transform="translate(0 -498)" d="M6020 2288l265-28 257-33 265-41 257-47 258-53 264-61 258-66 264-74 16 14-257 69-265 65-257 57-265 54-257 47-265 43-257 36-265 32z"/><path transform="translate(0 -490)" d="M6036 2294l265-32 257-36 265-43 257-47 265-54 257-58 265-65 257-68 16 14-257 65-265 62-264 57-258 52-257 48-265 44-257 39-265 35z"/><path transform="translate(0 -482)" d="M6052 2299l265-35 257-39 265-45 257-47 258-52 264-57 265-63 257-64 16 12-264 64-258 58-258 54-264 53-258 48-264 46-258 41-264 38z"/><path transform="translate(0 -474)" d="M6068 2303l264-39 258-41 264-45 258-48 264-53 258-55 258-58 264-63 16 12-258 59-264 57-258 54-264 52-258 48-264 47-258 43-264 42z"/><path transform="translate(0 -465)" d="M6084 2306l264-41 258-43 264-47 258-48 264-52 258-54 264-57 258-59 16 11-522 112-522 104-522 96-522 89z"/><path transform="translate(0 -457)" d="M6100 2309l522-89 522-96 522-104 522-112 16 10-522 108-522 103-522 98-522 92z"/><path transform="translate(0 -449)" d="M6116 2310l522-92 522-97 522-103 522-108 15 9-522 105-522 102-522 98-522 95z"/><path transform="translate(0 -441)" d="M6131 2311l522-95 522-98 522-102 522-105 16 8-1044 204-1044 196z"/><path transform="translate(0 -432)" d="M6147 2311l1044-196 1044-204 16 7-1044 202-1044 198z"/><path transform="translate(0 -424)" d="M6163 2310l1044-198 1044-202 16 6-2088 400z"/><path transform="translate(0 -416)" d="M6179 2308l2088-400 16 6-2088 400z"/><path transform="translate(0 -408)" d="M6195 2306l2088-400 16 4-2088 400z"/><path transform="translate(0 -399)" d="M6211 2302l2088-400 15 4-1044 202-1044 198z"/><path transform="translate(0 -391)" d="M6226 2298l1044-198 1044-202 16 3-1044 204-1044 196z"/><path transform="translate(0 -383)" d="M6242 2293l1044-196 1044-205 16 3-522 105-522 102-522 98-522 95z"/><path transform="translate(0 -375)" d="M6258 2287l522-95 522-98 522-102 522-106 16 1-522 109-522 103-522 97-522 92z"/><path transform="translate(0 -366)" d="M6274 2280l522-92 522-98 522-102 522-109 16 0-522 112-522 105-522 96-522 89z"/><path transform="translate(0 -358)" d="M6290 2272l522-88 522-97 522-104 522-112 16-1-258 59-264 58-258 53-264 53-265 49-257 46-265 44-257 40z"/><path transform="translate(0 -350)" d="M6306 2264l257-40 265-45 257-45 265-50 264-52 258-53 264-58 258-59 16-1-258 61-264 60-258 55-264 53-258 47-264 46-265 42-257 38z"/><path transform="translate(0 -342)" d="M6322 2255l257-38 265-42 264-46 258-48 264-52 258-55 264-60 258-62 15-2-257 65-265 62-257 56-265 54-264 48-258 43-257 39-265 36z"/><path transform="translate(0 -334)" d="M6337 2244l265-35 257-39 258-43 264-49 265-53 257-56 265-62 257-65 16-4-257 69-265 65-257 58-265 54-257 47-265 42-264 38-258 31z"/><path transform="translate(0 -325)" d="M6353 2233l258-31 264-37 265-43 257-47 265-54 257-57 265-65 257-69 16-4-257 72-265 68-257 60-265 54-264 48-258 40-257 34-265 28z"/><path transform="translate(0 -317)" d="M6369 2222l265-28 257-34 258-40 264-48 265-54 257-60 265-68 257-72 16-6-258 77-264 72-258 61-264 55-258 47-264 39-265 31-257 23z"/><path transform="translate(0 -309)" d="M6385 2209l257-23 265-31 264-40 258-46 264-55 258-62 264-71 258-77 16-6-258 82-264 75-258 63-264 56-265 47-257 36-265 28-257 19z"/><path transform="translate(0 -301)" d="M6401 2195l257-18 265-28 257-36 265-47 264-56 258-64 264-74 258-82 16-7-133 46-125 41-132 41-132 37-133 36-125 30-132 30-132 27-126 23-132 22-132 19-132 17-133 13-125 10-132 9-132 5z"/><path transform="translate(0 -292)" d="M6417 2181l132-6 132-8 125-10 133-14 132-16 132-19 132-22 126-23 132-27 132-30 125-31 133-35 132-38 132-40 125-41 133-46 15-8-132 49-125 43-132 43-133 40-132 37-125 31-132 31-133 27-125 23-132 22-132 18-133 15-125 11-132 9-132 5-133 3z"/><path transform="translate(0 -284)" d="M6432 2166l133-3 132-5 132-9 125-12 133-15 132-18 132-21 125-23 133-27 132-31 125-32 132-36 133-40 132-43 125-43 132-49 16-9-132 52-125 46-132 46-133 41-132 39-125 32-132 32-133 27-132 24-132 21-125 16-133 13-125 10-132 7-132 3-133-1z"/><path transform="translate(0 -276)" d="M6448 2150l133 0 132-3 132-6 125-10 133-13 125-16 132-21 132-24 133-28 132-31 125-33 132-38 133-42 132-45 125-46 132-52 16-10-132 56-132 51-133 48-125 41-132 40-125 34-133 32-132 28-125 23-132 20-133 16-132 12-125 8-132 4-133 0-132-4z"/><path transform="translate(0 -268)" d="M6464 2133l132 4 133 0 132-4 125-8 132-12 133-16 132-20 125-23 132-28 133-32 125-34 132-40 125-41 133-48 132-52 132-55 16-11-132 59-126 53-132 50-132 46-132 42-133 37-132 33-125 26-125 23-133 19-132 15-132 11-125 5-133 2-132-3-132-8z"/><path transform="translate(0 -259)" d="M6480 2115l132 8 132 3 133-2 125-6 132-10 132-15 133-19 125-23 125-27 132-32 133-37 132-42 132-46 132-51 126-52 132-59 16-12-132 64-126 55-132 53-132 49-132 43-126 37-132 34-132 28-132 24-133 18-132 14-125 8-132 3-133-1-125-6-132-11z"/><path transform="translate(0 -251)" d="M6496 2097l132 11 125 6 133 1 132-3 125-9 132-13 133-19 132-23 132-29 132-33 126-37 132-43 132-49 132-53 126-56 132-63 16-12-133 67-125 59-132 56-132 51-133 46-125 38-132 34-132 29-126 22-132 18-132 13-132 7-133 1-132-4-125-9-132-16z"/><path transform="translate(0 -243)" d="M6512 2077l132 15 125 10 132 4 133-1 132-7 132-13 132-18 126-22 132-29 132-35 125-37 133-46 132-51 132-56 125-59 133-68 15-13-132 72-125 62-132 60-133 54-132 47-125 39-132 36-133 29-125 22-132 17-132 12-133 5-125-1-132-7-132-13-133-20z"/><path transform="translate(0 -235)" d="M6527 2057l133 19 132 13 132 7 125 1 133-5 132-11 132-17 125-22 133-30 132-35 125-39 132-48 133-53 132-60 125-62 132-72 16-14-132 76-125 66-132 63-133 56-132 50-125 41-132 36-133 30-125 22-132 16-132 10-133 3-125-3-132-10-132-17-133-24z"/><path transform="translate(0 -226)" d="M6543 2036l133 24 132 16 132 11 125 3 133-3 132-10 132-16 125-22 133-30 132-36 125-41 132-50 133-56 132-63 125-66 132-77 16-15-132 81-125 70-133 67-132 59-132 52-132 45-133 37-125 28-125 22-132 15-133 9-132 1-132-7-132-14-126-20-132-28z"/><path transform="translate(0 -218)" d="M6559 2014l132 28 126 20 132 14 132 6 132-1 133-8 132-16 125-21 125-29 133-37 132-44 132-52 132-59 133-67 125-70 132-81 16-16-132 86-125 74-133 70-132 63-132 54-125 44-133 38-132 31-132 22-125 14-133 7-132-1-125-9-132-17-133-25-132-33z"/><path transform="translate(0 -210)" d="M6575 1991l132 33 133 25 132 17 125 9 132 1 133-7 125-14 132-22 132-31 133-38 125-44 132-55 132-62 133-70 125-74 132-86 16-17-132 91-126 78-132 74-132 66-132 57-126 45-132 40-132 31-132 22-133 14-125 4-132-3-132-12-126-20-132-29-132-38z"/><path transform="translate(0 -202)" d="M6591 1968l132 38 132 29 126 19 132 13 132 3 125-5 133-13 132-22 132-31 132-40 126-46 132-56 132-66 132-74 126-78 132-91 16-18-133 96-125 83-132 78-132 69-133 59-125 48-132 40-132 32-126 21-132 13-132 3-132-5-133-16-132-24-125-32-132-44z"/><path transform="translate(0 -194)" d="M6607 1943l132 43 125 32 132 25 133 15 132 6 132-3 132-13 126-21 132-32 132-41 125-47 133-59 132-69 132-78 125-83 133-96 16-19-133 102-125 87-132 83-132 72-133 62-125 49-63 21-69 21-70 18-62 14-126 21-69 7-63 5-70 2-62 0-70-4-62-5-70-8-63-10-69-14-63-15-125-36-132-49z"/><path transform="translate(0 -185)" d="M6623 1918l132 48 125 37 63 15 69 14 63 10 70 8 62 5 70 3 62 1 70-3 63-4 69-8 126-20 62-14 70-18 69-21 63-21 125-50 133-62 132-72 132-82 125-87 133-102 15-20-132 108-125 92-132 87-133 75-62 32-70 33-125 51-70 24-62 19-70 19-63 14-69 12-63 9-69 7-63 4-63 1-62-2-70-4-63-6-62-9-63-12-69-15-63-17-63-19-69-24-70-27-63-27z"/><path transform="translate(0 -177)" d="M6638 1892l63 27 70 27 69 24 63 19 63 17 69 15 63 11 62 9 63 7 70 4 62 2 63-2 63-3 69-7 63-9 69-13 63-14 70-18 62-19 70-24 125-51 70-33 62-32 133-76 132-86 125-92 132-108 16-21-132 114-125 97-63 45-70 46-69 43-63 36-69 37-63 31-63 28-62 25-63 23-70 22-69 19-63 14-62 11-63 9-70 7-62 3-70 1-63-3-62-5-70-8-69-12-63-13-63-16-69-21-63-22-63-24-69-30-63-30z"/><path transform="translate(0 -169)" d="M6654 1865l63 30 69 30 63 24 63 22 69 20 63 16 63 14 69 12 70 8 62 5 63 2 70 0 62-3 70-7 63-9 62-12 63-14 69-18 70-23 63-22 62-25 63-28 63-31 69-37 63-36 69-43 70-46 63-45 125-97 132-114 16-21-132 120-125 102-63 47-70 48-69 46-63 38-70 38-62 32-63 29-62 26-63 24-70 22-69 19-63 15-70 12-62 8-63 6-69 3-63-1-63-3-69-7-63-9-70-14-62-15-63-18-62-21-63-23-70-30-69-33-63-33z"/><path transform="translate(0 -161)" d="M6670 1837l63 33 69 33 70 29 63 24 62 21 63 18 62 15 70 14 63 9 69 7 63 3 63 1 69-3 63-6 62-8 70-13 63-14 69-19 70-23 63-23 62-26 63-29 62-32 70-39 63-37 69-46 70-48 63-47 125-103 132-120 16-22-63 62-69 65-126 107-62 49-70 51-69 48-63 39-70 41-62 33-63 30-70 30-69 26-63 21-62 17-63 15-63 11-62 8-70 6-63 2-69-1-63-4-69-9-63-10-70-16-62-17-63-20-70-26-62-26-63-29-69-37-63-35z"/><path transform="translate(0 -152)" d="M6686 1808l63 36 69 36 63 30 62 26 70 26 63 20 62 17 70 15 63 11 69 8 63 5 69 1 63-2 70-6 62-8 63-12 63-14 62-18 63-20 69-26 70-30 63-30 62-33 70-41 63-39 69-48 70-51 62-49 126-108 69-65 63-61 16-23-63 64-69 69-126 113-62 51-70 54-70 50-62 41-70 42-62 35-63 31-63 28-62 25-70 24-70 20-62 15-63 11-62 8-70 5-63 2-69-2-63-6-63-8-69-14-70-17-62-19-70-25-63-25-62-29-63-32-70-40-62-39z"/><path transform="translate(0 -144)" d="M6702 1779l62 39 70 39 63 32 62 29 63 26 70 25 62 19 70 17 69 13 63 9 63 5 69 3 63-2 70-5 62-8 63-12 62-14 70-20 70-24 62-25 63-28 63-32 62-34 70-42 62-42 70-49 70-54 62-52 126-112 69-69 63-65 16-24-63 68-70 72-62 61-63 58-63 54-69 56-70 52-62 43-70 44-63 36-62 33-63 29-63 26-69 24-70 21-62 14-70 13-63 7-62 5-70 0-69-4-63-6-63-11-62-13-70-20-63-20-69-28-63-28-62-31-63-35-70-43-62-42z"/><path transform="translate(0 -136)" d="M6718 1749l62 42 70 43 63 35 62 31 63 28 69 27 63 21 70 19 62 14 63 10 63 7 69 4 70-1 62-4 63-7 70-13 62-15 70-20 69-25 63-25 63-29 62-33 63-36 70-44 62-43 70-52 69-56 63-54 63-58 62-61 70-72 63-68 15-25-62 72-70 75-62 64-63 60-63 57-69 59-70 54-63 45-69 46-63 38-62 34-63 30-63 26-69 26-70 20-63 15-69 13-63 7-62 4-63 0-70-5-62-7-70-13-63-15-69-21-63-23-62-27-63-30-63-34-69-42-70-46-63-45z"/><path transform="translate(0 -128)" d="M6733 1718l63 45 70 46 69 42 63 34 63 30 62 26 63 23 69 22 63 15 70 13 62 7 70 4 63 0 62-3 63-8 69-12 63-15 70-21 69-25 63-26 63-31 62-33 63-38 69-46 63-45 70-54 69-59 63-57 63-60 62-64 70-76 62-71 16-26-62 75-70 79-63 67-62 64-63 59-69 61-70 57-63 47-69 48-63 39-63 35-62 32-63 27-69 26-70 21-63 15-62 12-63 7-70 4-62-1-70-5-62-9-70-14-63-17-69-23-63-25-70-33-62-33-63-37-62-41-70-49-63-49z"/><path transform="translate(0 -119)" d="M6749 1686l63 48 70 50 62 41 63 37 62 33 70 32 63 25 69 24 63 16 70 15 62 9 70 5 62 1 70-4 63-8 62-11 63-15 70-21 69-26 63-28 62-31 63-35 63-39 69-48 63-47 70-57 69-61 63-60 62-63 63-67 70-79 62-75 16-27-62 79-70 83-63 70-62 66-63 62-70 65-69 59-63 49-62 45-70 45-63 37-62 32-63 29-70 26-69 22-63 15-69 12-63 7-63 3-69-2-63-6-70-11-62-15-63-18-69-26-63-27-70-35-62-36-63-39-63-44-69-54-63-52z"/><path transform="translate(0 -111)" d="M6765 1653l63 52 69 54 63 43 63 40 62 36 70 35 63 27 69 25 63 19 62 14 70 12 63 6 69 2 63-3 63-7 69-12 63-15 69-22 70-27 63-28 62-32 63-37 70-45 62-45 63-49 69-60 70-64 63-62 62-66 63-71 70-83 62-78 16-28-63 82-69 87-70 82-62 69-63 64-63 60-69 62-63 51-70 52-62 42-63 38-69 37-70 32-63 24-62 20-63 15-70 12-62 7-63 2-69-3-63-7-63-11-69-18-63-20-70-27-62-30-63-33-69-43-63-42-63-47-62-52-70-62z"/><path transform="translate(0 -103)" d="M6781 1619l70 62 62 51 63 47 63 43 69 42 63 34 62 29 70 28 63 20 69 18 63 11 63 7 69 3 63-2 62-7 70-12 63-15 62-20 63-24 70-32 69-37 63-38 62-42 70-52 63-51 69-62 63-60 63-65 62-68 70-82 69-87 63-82 16-29-63 86-69 91-63 77-63 73-62 68-70 70-69 64-63 54-63 48-69 49-63 40-63 34-62 31-70 28-69 23-63 15-63 11-62 7-70 2-63-3-69-9-63-12-69-19-63-22-70-30-62-32-63-36-70-45-62-46-63-50-69-61-63-60z"/><path transform="translate(0 -95)" d="M6797 1585l63 59 69 61 63 51 62 45 70 46 63 36 62 32 70 29 63 22 69 20 63 12 69 9 63 3 70-2 62-7 63-11 63-16 69-22 70-29 62-30 63-35 63-39 69-49 63-49 63-53 69-64 70-71 62-68 63-72 63-77 69-91 63-86 16-30-63 91-70 95-62 80-63 76-62 71-70 73-70 67-62 56-70 56-63 45-62 41-63 36-62 31-70 29-70 23-62 16-70 12-63 6-62 1-70-5-69-10-63-14-63-19-62-24-70-32-63-34-69-44-63-44-62-48-63-54-70-65-62-64z"/><path transform="translate(0 -86)" d="M6813 1549l62 64 70 65 63 53 62 49 63 44 69 43 63 34 70 33 62 23 63 20 63 14 69 10 70 5 62-1 63-6 70-12 62-16 70-23 70-29 62-31 63-36 62-41 63-46 70-56 62-55 70-67 70-74 62-71 63-75 62-81 70-95 63-90 16-31-63 95-70 99-62 84-63 79-63 74-69 76-70 71-62 57-63 53-70 53-62 42-63 37-63 32-69 30-70 24-62 16-63 11-63 6-69 1-63-5-70-11-62-15-70-23-62-25-70-35-63-36-69-46-63-47-63-52-62-57-70-69-62-68z"/><path transform="translate(0 -78)" d="M6829 1513l62 68 70 69 62 57 63 52 63 46 69 47 63 36 70 34 62 26 70 23 62 15 70 11 63 5 69-1 63-6 63-11 62-16 70-24 69-30 63-32 63-37 62-42 70-53 63-53 62-58 70-70 69-76 63-74 63-79 62-84 70-99 63-95 15-31-62 99-70 103-62 88-63 82-63 77-69 80-70 73-63 60-69 60-63 49-62 44-63 39-63 33-69 31-70 24-63 16-69 12-63 5-62 0-70-6-63-12-62-16-70-25-63-27-69-37-63-39-69-49-63-50-63-55-62-61-70-73-63-72z"/><path transform="translate(0 -70)" d="M6844 1476l63 72 70 73 62 60 63 55 63 50 69 50 63 38 69 37 63 28 70 24 62 17 63 11 70 7 62 0 63-5 69-12 63-16 70-25 69-30 63-34 63-38 62-44 63-49 69-60 63-61 70-73 69-79 63-77 63-82 62-88 70-104 62-98 16-33-62 103-70 108-63 92-62 86-63 80-70 83-69 76-63 62-62 57-70 57-63 45-62 40-63 34-70 32-69 25-63 16-62 11-63 5-63 0-69-6-70-14-63-18-69-26-63-30-69-39-63-42-63-46-62-53-63-58-70-70-69-78-63-76z"/><path transform="translate(0 -62)" d="M6860 1438l63 76 69 77 70 71 63 58 62 52 63 47 63 41 69 40 63 29 69 27 63 18 70 13 69 7 63 0 63-5 62-11 63-17 69-24 70-32 63-34 62-40 63-45 70-57 62-57 63-63 69-76 70-82 63-81 62-85 63-92 70-108 62-103 16-33-63 107-69 113-63 95-62 90-63 83-70 86-69 79-63 65-70 65-62 53-63 47-62 41-63 36-70 32-69 25-63 17-70 12-62 4-70-2-62-8-63-13-63-20-69-28-63-32-70-41-62-44-63-50-69-62-63-62-63-67-69-82-63-80z"/><path transform="translate(0 -54)" d="M6876 1399l63 80 69 82 63 68 63 62 69 62 63 49 62 44 70 42 63 32 69 28 63 20 63 13 62 8 70 2 62-5 70-11 63-17 69-25 70-33 63-35 62-41 63-47 62-53 70-65 63-65 69-79 70-86 63-84 62-89 63-95 69-113 63-107 16-34-63 112-69 117-63 99-63 93-62 87-70 89-69 82-63 68-70 68-62 54-63 49-63 42-62 37-70 33-69 26-63 17-63 11-62 4-70-1-63-8-69-17-63-20-69-31-63-33-70-45-62-46-70-59-63-59-62-66-63-71-69-87-63-84z"/><path transform="translate(0 -45)" d="M6892 1360l63 84 69 87 63 71 62 65 63 60 70 58 62 47 70 44 63 34 69 30 63 21 69 16 63 8 70 2 62-5 63-10 63-17 69-26 70-33 62-37 63-42 63-49 62-55 70-67 63-68 69-82 70-89 62-87 63-93 63-99 69-118 63-111 16-35-63 116-69 122-63 103-63 97-62 90-70 93-70 86-62 69-63 64-69 63-63 51-63 43-62 38-70 34-63 24-69 20-70 11-62 4-70-3-63-10-69-18-63-23-63-30-62-35-70-48-62-49-70-62-63-62-62-69-63-76-70-91-62-88z"/><path transform="translate(0 -37)" d="M6908 1320l62 88 70 91 63 75 62 69 63 63 70 62 62 49 70 47 62 36 63 30 63 23 69 18 63 10 70 3 62-4 70-11 69-20 63-24 70-34 62-38 63-44 63-50 69-63 63-64 62-70 70-85 70-93 62-90 63-97 63-103 69-122 63-117 16-36-63 122-70 127-62 107-63 100-63 94-69 97-70 88-62 73-63 66-70 65-62 52-63 45-63 39-69 35-70 27-62 18-70 11-63 4-62-4-63-10-69-18-63-24-70-35-62-38-70-50-63-51-62-59-63-65-63-72-69-88-70-95-62-93z"/><path transform="translate(0 -29)" d="M6924 1278l62 94 70 95 69 88 63 72 63 65 62 58 63 52 70 50 62 38 70 34 63 24 69 19 63 10 62 3 63-3 70-11 62-18 70-27 69-35 63-39 63-45 62-52 70-65 63-66 62-73 70-88 69-97 63-94 63-100 62-108 70-127 63-121 15-36-62 125-70 132-62 112-63 104-63 98-69 100-70 92-63 75-62 68-70 68-62 54-63 46-63 40-69 36-70 28-63 18-69 11-63 3-69-5-63-11-63-19-62-26-70-36-63-40-69-53-63-55-69-68-63-70-63-76-62-83-70-101-63-97z"/><path transform="translate(0 -21)" d="M6939 1236l63 98 70 101 62 83 63 76 63 69 69 69 63 55 69 53 63 40 70 36 62 26 63 18 63 12 69 5 63-3 69-12 63-17 70-28 69-36 63-40 63-47 62-53 70-68 62-68 63-76 70-91 69-101 63-97 63-105 62-111 70-132 62-126 16-37-62 130-70 137-63 116-62 109-63 101-69 104-70 95-63 78-62 70-70 71-63 55-62 48-63 41-69 38-70 28-63 18-69 11-63 3-70-6-62-13-70-22-62-28-63-35-63-43-69-55-63-58-70-72-62-73-63-80-62-87-70-106-63-102z"/><path transform="translate(0 -12)" d="M6955 1193l63 103 70 105 62 88 63 80 62 72 70 73 63 57 69 56 63 42 63 36 62 27 70 23 62 13 70 5 63-2 69-12 63-17 70-29 69-37 63-41 62-48 63-56 70-70 62-70 63-78 70-96 69-104 63-101 62-108 63-116 70-137 62-131 16-38-62 136-70 142-63 120-62 112-63 105-70 108-69 99-63 80-62 74-70 72-63 57-62 50-63 42-70 39-69 29-63 18-69 11-63 2-63-5-69-15-70-24-63-30-62-37-63-45-69-58-63-61-70-76-62-76-63-84-63-91-69-111-63-107z"/><path transform="translate(0 -4)" d="M6971 1150l63 107 69 110 63 92 63 84 62 76 70 76 63 61 69 58 63 45 62 37 63 30 70 24 69 14 63 6 63-2 69-12 63-18 69-29 70-38 63-42 62-50 63-57 70-73 62-73 63-81 69-98 70-108 63-105 62-112 63-120 70-143 62-135 16-40-63 141-69 148-63 124-63 117-62 108-70 112-69 102-63 84-63 75-69 75-63 60-63 51-62 44-70 39-62 27-70 21-63 10-62 3-35-2-35-5-63-14-69-24-63-31-69-43-63-47-70-61-62-64-70-79-62-80-63-88-63-96-69-115-63-113z"/></g></g><path class="a" stroke-width="1.15" d="M698.7 215.8L907.5 175.8M698.7 215.8L540.2 163.8M698.7 215.8l5.5 1.8M719.6 211.8l5.5 1.8M740.5 207.8l5.5 1.8M761.3 203.8l5.5 1.8M782.2 199.8l5.5 1.8M803.1 195.8l5.5 1.8M824 191.8l5.5 1.8M844.9 187.8l5.5 1.8M865.7 183.8l5.5 1.8M886.6 179.8l5.5 1.8M907.5 175.8l5.5 1.8M698.7 215.8l-5.7 1.1M682.9 210.6l-5.7 1.1M667 205.4l-5.7 1.1M651.2 200.2l-5.7 1.1M635.3 195l-5.7 1.1M619.5 189.8l-5.7 1.1M603.6 184.6l-5.7 1.1M587.8 179.4l-5.7 1.1M571.9 174.2l-5.7 1.1M556.1 169l-5.7 1.1M540.2 163.8l-5.7 1.1"/><path fill="none" stroke="#444" stroke-width="1.5" d="M540.2 163.8L540.2 51"/><path class="t" d="M540.2 163.8l-5.5 -1.8M540.2 142.5l-5.5 -1.8M540.2 121.2l-5.5 -1.8M540.2 99.9l-5.5 -1.8M540.2 78.6l-5.5 -1.8M540.2 57.3l-5.5 -1.8"/><text transform="translate(723.88 6.88) scale(.56 1)" font-size="9.01" text-anchor="middle" font-weight="bold">Parameter space</text><text transform="translate(705.89 226.98) scale(.56 1)" font-size="8.19">-5</text><text transform="translate(726.77 222.98) scale(.56 1)" font-size="8.19">-4</text><text transform="translate(747.65 218.98) scale(.56 1)" font-size="8.19">-3</text><text transform="translate(768.53 214.98) scale(.56 1)" font-size="8.19">-2</text><text transform="translate(789.41 210.98) scale(.56 1)" font-size="8.19">-1</text><text transform="translate(810.29 206.98) scale(.56 1)" font-size="8.19">0</text><text transform="translate(831.17 202.98) scale(.56 1)" font-size="8.19">1</text><text transform="translate(852.05 198.98) scale(.56 1)" font-size="8.19">2</text><text transform="translate(872.93 194.98) scale(.56 1)" font-size="8.19">3</text><text transform="translate(893.81 190.98) scale(.56 1)" font-size="8.19">4</text><text transform="translate(914.69 186.98) scale(.56 1)" font-size="8.19">5</text><text transform="translate(692.04 226.24) scale(.56 1)" font-size="8.19" text-anchor="end">-5</text><text transform="translate(676.2 221.04) scale(.56 1)" font-size="8.19" text-anchor="end">-4</text><text transform="translate(660.35 215.84) scale(.56 1)" font-size="8.19" text-anchor="end">-3</text><text transform="translate(644.51 210.64) scale(.56 1)" font-size="8.19" text-anchor="end">-2</text><text transform="translate(628.66 205.44) scale(.56 1)" font-size="8.19" text-anchor="end">-1</text><text transform="translate(612.82 200.24) scale(.56 1)" font-size="8.19" text-anchor="end">0</text><text transform="translate(596.97 195.04) scale(.56 1)" font-size="8.19" text-anchor="end">1</text><text transform="translate(581.13 189.84) scale(.56 1)" font-size="8.19" text-anchor="end">2</text><text transform="translate(565.28 184.64) scale(.56 1)" font-size="8.19" text-anchor="end">3</text><text transform="translate(549.44 179.44) scale(.56 1)" font-size="8.19" text-anchor="end">4</text><text transform="translate(533.59 174.24) scale(.56 1)" font-size="8.19" text-anchor="end">5</text><text transform="translate(533.38 165.36) scale(.56 1)" font-size="8.19" text-anchor="end">0</text><text transform="translate(533.38 144.06) scale(.56 1)" font-size="8.19" text-anchor="end">1</text><text transform="translate(533.38 122.77) scale(.56 1)" font-size="8.19" text-anchor="end">2</text><text transform="translate(533.38 101.47) scale(.56 1)" font-size="8.19" text-anchor="end">3</text><text transform="translate(533.38 80.18) scale(.56 1)" font-size="8.19" text-anchor="end">4</text><text transform="translate(533.38 58.88) scale(.56 1)" font-size="8.19" text-anchor="end">5</text><text transform="translate(768.35 236.35) scale(.56 1)" font-size="9.01" text-anchor="middle">x<tspan dy="3.78" font-size="7.21">1</tspan></text><text transform="translate(641.15 231.95) scale(.56 1)" font-size="9.01" text-anchor="middle">x<tspan dy="3.78" font-size="7.21">2</tspan></text><text transform="translate(525.36 107) scale(.56 1) rotate(-90)" font-size="9.91" text-anchor="middle">F15( x<tspan dy="2.97" font-size="7.93">1</tspan><tspan dy="-2.97"> , x</tspan><tspan dy="2.97" font-size="7.93">2</tspan><tspan dy="-2.97"> )</tspan></text><text transform="translate(529.1 31.5) scale(.56 1)" font-size="8.19">×10<tspan dy="-3.69" font-size="6.55">5</tspan></text><text class="b" x="649.2" y="344">F15</text></g>
<g id="F16"><path class="g" d="M1264.4 230.8L1094.2 175.5M1286.6 226.5L1116.4 171.2M1308.9 222.2L1138.7 166.9M1331.1 218L1160.9 162.7M1353.4 213.7L1183.2 158.4M1375.6 209.4L1205.4 154.1M1397.8 205.1L1227.6 149.8M1420.1 200.8L1249.9 145.5M1442.3 196.6L1272.1 141.3M1464.6 192.3L1294.4 137M1486.8 188L1316.6 132.7M1264.4 230.8L1486.8 188M1247.4 225.3L1469.8 182.5M1230.4 219.7L1452.8 176.9M1213.3 214.2L1435.7 171.4M1196.3 208.7L1418.7 165.9M1179.3 203.2L1401.7 160.3M1162.3 197.6L1384.7 154.8M1145.3 192.1L1367.7 149.3M1128.2 186.6L1350.6 143.8M1111.2 181L1333.6 138.2M1094.2 175.5L1316.6 132.7M1094.2 175.5L1316.6 132.7M1316.6 132.7L1486.8 188M1094.2 152.2L1316.6 109.4M1316.6 109.4L1486.8 164.7M1094.2 129L1316.6 86.2M1316.6 86.2L1486.8 141.5M1094.2 105.7L1316.6 62.9M1316.6 62.9L1486.8 118.2M1094.2 82.5L1316.6 39.7M1316.6 39.7L1486.8 95M1094.2 59.2L1316.6 16.4M1316.6 16.4L1486.8 71.7"/><path class="v" d="M1094.2 175.5L1094.2 53.8M1116.4 171.2L1116.4 49.5M1138.7 166.9L1138.7 45.2M1160.9 162.7L1160.9 41M1183.2 158.4L1183.2 36.7M1205.4 154.1L1205.4 32.4M1227.6 149.8L1227.6 28.1M1249.9 145.5L1249.9 23.8M1272.1 141.3L1272.1 19.6M1294.4 137L1294.4 15.3M1316.6 132.7L1316.6 11M1486.8 188L1486.8 66.3M1469.8 182.5L1469.8 60.8M1452.8 176.9L1452.8 55.2M1435.7 171.4L1435.7 49.7M1418.7 165.9L1418.7 44.2M1401.7 160.3L1401.7 38.6M1384.7 154.8L1384.7 33.1M1367.7 149.3L1367.7 27.6M1350.6 143.8L1350.6 22.1M1333.6 138.2L1333.6 16.5M1316.6 132.7L1316.6 11"/><g transform="scale(.1)"><g class="k"><path stroke="#ff0f0d" d="M13848 1715l-14 2-40 0-40-3-32-5-29-8-21-9-7-7 0-6 4-5 15-6 23-4 15-1 47 1 53 8 18 5 24 9 11 6 5 5 1 6-4 4-10 5-7 2-12 1M12088 1972l-47-1-53-8-27-8-21-9-10-8-1-6 4-4 10-5 7-2 26-3 40 0 40 3 32 5 20 5 30 12 7 7 0 6-4 5-15 6-23 4-15 1"/><path stroke="#ff2b0d" d="M14113 1802l-110 7-98 0-78-2-151-9-138-14-100-16-51-12-43-14-32-16-17-14-8-12-3-8-1-10 5-18 7-10 11-11 16-12 24-13 19-8 17-6 40-10 47-8 26-3 75-4 37 0 82 4 89 9 88 14 56 11 79 20 61 19 32 12 49 21 23 13 30 21 16 19 3 12 0 6-2 5-13 13-24 11-28 7-35 6M12354 2047l-39 5-75 4-37 0-82-4-89-9-88-14-56-11-54-13-86-26-47-18-34-15-34-20-19-14-16-19-2-6-1-12 5-9 15-12 19-8 28-7 45-7 100-6 98 0 78 2 151 9 138 14 89 14 43 9 46 13 23 9 25 13 17 14 8 12 4 13 0 5-3 13-2 5-7 10-11 11-16 12-24 13-36 14-26 7-48 9"/><path stroke="#ff480e" d="M14237 1675l49 22 53 29 30 21 19 17 14 16 7 14 0 3 2 4 0 9-2 7-3 5-14 13-2 0-12 7-8 3-19 5-47 8-55 5-98 3-127-1-154-4-228-9-74-4-22 0-475-23-19 0-2-1-17 0-108-6-3 1-17-1-63 78-4 3-8 9-2 4-6 5-9 11-46 44-44 34-22 14-22 12-28 14-15 6-62 21-63 14-49 7-113 7-87-1-71-4-77-7-93-12-112-19-116-26M11573 1960l-49-22-53-29-30-21-19-17-14-16-7-14 0-3-2-4 0-9 2-7 3-5 14-13 2 0 12-7 8-3 19-5 47-8 55-5 98-3 127 1 154 4 228 9 74 4 22 0 475 23 19 0 2 1 17 0 108 6 3-1 17 2 25-33 30-35 8-11 4-3 8-9 2-4 6-5 9-11 46-44 44-34 22-14 22-12 28-14 15-6 62-21 63-14 49-7 113-7 87 1 71 4 77 7 93 12 112 19 65 14 51 13"/><path stroke="#ff640e" d="M14587 1934l-44 2-9-1-41 0-497-24-274-9-247-1-145 6-88 8 0 1-61 8-65 14-47 13-42 15-31 13-37 17 0 1-28 13-89 46-37 17-31 12-53 18-14 3-15 5-32 7-46 8-71 8-69 4-129-1-84-5-125-12-61-9-7 0-60-10M14494 1759l26 16 46 35 29 27 15 17 3 5 4 3 8 12 8 16 1 0 4 19-1 5-3 5-4 4-8 4M11316 1876l-26-16-46-35-29-27-15-17-3-5-4-3-8-12-8-16-1 0-4-19 1-5 3-5 4-4 8-4M11223 1701l44-2 9 1 41 0 497 24 274 9 247 1 145-6 88-8 0-1 61-8 65-14 47-13 42-15 31-13 37-17 0-1 28-13 89-46 37-17 31-12 53-18 14-3 15-5 32-7 46-8 71-8 69-4 129 1 84 5 125 12 61 9 7 0 60 10"/><path stroke="#ff800e" d="M14306 1988l-39-6-115-13-113-9-152-8-112-3-137 0-73 2-106 6-43 4-87 11-78 15-41 10-38 11-58 20-79 33-74 34-31 13-49 18-27 9-59 15-82 14-54 5-77 4-127-1-63-3-92-7-114-12-50-7M14704 1827l53 29 48 23 22 9M11106 1808l-53-29-48-23-22-9M11504 1647l39 6 115 13 113 9 152 8 112 3 137 0 73-2 106-6 43-4 87-11 78-15 41-10 38-11 58-20 79-33 74-34 31-13 49-18 27-9 59-15 82-14 54-5 77-4 127 1 63 3 92 7 114 12 50 7"/><path stroke="#ff9d0f" d="M14128 2022l-71-9-92-8-69-4-20 0-1-1-77-2-71 0-80 2-2 1-15 0-88 6-78 9-92 16-89 23-45 15-39 15-77 33-29 14-48 20-53 19-23 7-51 12-47 8-38 5-72 5-84 2-115-3-158-11-90-9-69-9M11682 1613l71 9 92 8 69 4 20 0 1 1 77 2 71 0 80-2 2-1 15 0 88-6 78-9 92-16 89-23 45-15 39-15 77-33 29-14 48-20 53-19 23-7 51-12 47-8 38-5 72-5 84-2 115 3 158 11 90 9 69 9"/><path stroke="#ffb90f" d="M12921 2255l-104-2-114-6-44-4-25-1-101-9-21-3-9 0-155-18M13920 2062l-100-5-107 1-98 7-26 3-83 14-41 9-39 11-47 16-28 11-29 13-28 15-14 6 0 1-62 34M11890 1573l100 5 107-1 98-7 26-3 83-14 41-9 39-11 47-16 28-11 29-13 28-15 14-6 0-1 62-34M12889 1380l104 2 114 6 44 4 25 1 101 9 21 3 9 0 155 18"/><path stroke="#ffd50f" d="M12759 2286l-220-28-24-4-30-3 0-1-31-4M13051 1349l220 28 24 4 30 3 0 1 31 4"/><path stroke="#fff210" d="M12675 2302l-100-16M13135 1333l100 16"/></g><g fill="url(#G16)" stroke="url(#G16)" stroke-width="5" stroke-linejoin="round"><path transform="translate(0 -876)" d="M10942 1879l37 42 37 33 37 24 37 16 37 8 45 2 44-7 52-16 37-17 37-21 45-28 44-32 82-65 207-175 60-47 59-44 59-39 52-31 52-26 52-23 59-21 60-16 59-12 59-6 52-3 59 0 223 9 52-1 44-4 45-7 37-9 37-13 37-17 44-27 37-28 37-35 38-41 37-48 29-45 37-65 30-58 17 18-37 72-37 62-37 53-37 46-37 38-45 37-44 29-52 25-37 13-37 9-45 7-44 4-82 0-207-9-60 0-59 4-59 8-52 11-52 14-52 19-59 26-60 32-59 36-59 41-111 86-223 186-52 41-44 31-45 29-37 20-37 17-37 12-44 9-37 2-37-5-38-12-37-19-29-21-37-35-30-34z"/><path transform="translate(0 -867)" d="M10959 1879l30 35 37 34 29 21 37 20 38 11 37 5 37-2 44-8 37-13 37-17 37-20 45-28 44-32 52-40 223-187 111-86 59-41 59-36 60-32 59-26 52-18 52-15 52-11 59-8 59-4 60 0 207 9 82 0 44-4 45-7 37-9 37-13 52-24 44-29 45-38 37-38 37-45 37-54 37-62 37-72 17 19-30 58-37 64-29 44-37 49-37 41-38 34-37 28-44 26-37 17-37 12-37 9-45 7-44 4-52 0-223-11-59 0-52 2-59 6-59 11-60 15-59 21-52 23-52 26-52 30-59 39-59 43-60 46-207 174-82 64-44 32-45 28-37 20-37 17-52 16-44 6-45-2-37-9-37-16-37-24-37-33-37-43z"/><path transform="translate(0 -859)" d="M10976 1880l37 42 37 33 37 24 37 16 37 9 45 2 44-6 52-16 37-17 37-20 45-28 44-32 82-64 207-173 60-47 59-43 59-39 52-30 52-26 52-23 59-20 60-16 59-10 59-7 52-2 59 1 223 10 52 0 44-4 45-7 37-9 37-12 37-17 44-26 37-28 38-34 37-41 37-48 29-45 37-64 30-58 17 19-37 72-37 62-37 53-37 45-37 38-45 37-44 28-52 25-37 12-37 9-45 7-44 3-82 0-207-12-60 0-59 4-59 7-52 11-52 14-52 18-59 26-60 31-59 35-59 41-111 85-223 185-52 39-44 32-45 28-37 20-37 16-37 12-44 9-37 1-37-5-38-12-37-19-29-22-37-35-30-34z"/><path transform="translate(0 -850)" d="M10993 1881l30 35 37 34 29 22 37 19 38 12 37 5 37-1 44-8 37-13 37-16 37-20 45-28 44-31 52-40 223-185 111-85 59-40 59-36 60-31 59-26 52-18 52-14 52-11 59-7 59-3 60 0 207 11 82 0 44-3 45-7 37-9 37-12 52-24 44-29 45-37 37-38 37-45 37-53 37-62 37-71 17 19-30 58-37 64-29 44-37 48-37 41-37 34-38 27-44 26-37 16-37 13-37 8-45 7-44 3-52 0-222-12-60-1-52 1-59 6-59 10-60 15-59 20-52 22-52 26-52 30-59 38-59 43-60 46-207 172-82 63-44 31-45 28-37 20-37 16-52 16-44 6-45-3-37-9-37-16-37-25-37-33-37-43z"/><path transform="translate(0 -841)" d="M11010 1882l37 43 37 33 37 25 37 16 37 9 45 3 44-6 52-16 37-16 37-20 45-27 44-32 82-63 207-172 60-46 59-42 59-39 52-30 52-26 52-22 59-20 60-15 59-10 59-5 52-2 60 1 222 12 52 0 44-3 45-6 37-9 37-12 37-17 44-26 38-27 37-34 37-41 37-48 29-44 37-64 30-57 17 20-37 71-37 62-37 52-37 45-37 38-45 36-44 29-52 24-37 12-37 8-45 7-44 2-82-1-207-13-60 0-59 3-59 7-52 10-52 13-52 18-59 25-60 31-59 35-59 40-111 84-223 183-52 40-44 31-45 27-37 20-37 16-37 12-44 8-37 1-37-6-37-12-38-19-29-22-37-35-30-35z"/><path transform="translate(0 -832)" d="M11027 1885l30 35 37 35 29 22 38 19 37 13 37 5 37-1 44-8 37-12 37-16 37-20 45-27 44-31 52-40 223-183 111-84 59-40 59-35 60-30 59-26 52-17 52-14 52-10 59-7 59-3 60 1 207 13 82 1 44-3 45-7 37-8 37-12 52-24 44-28 45-37 37-38 37-44 37-53 37-62 37-71 17 21-37 71-37 61-37 53-37 45-37 37-45 37-44 28-52 23-37 12-37 9-45 6-44 3-82-2-207-14-60 0-59 2-59 7-52 10-52 13-52 18-59 25-59 30-60 35-59 39-111 84-223 182-52 39-44 31-45 28-37 19-37 16-37 12-44 8-37 0-37-5-37-12-38-20-29-22-37-35-30-36z"/><path transform="translate(0 -823)" d="M11044 1888l30 35 37 35 29 22 38 20 37 12 37 6 37-1 44-8 37-12 37-16 37-19 45-28 44-30 52-40 223-182 111-83 59-40 60-35 59-30 59-25 52-18 52-13 52-10 59-7 59-2 60 1 207 13 82 2 44-3 45-6 37-8 37-12 52-24 44-28 45-37 37-37 37-45 37-52 37-62 37-71 17 22-37 71-37 61-37 52-37 45-37 37-45 36-44 28-52 24-37 11-37 9-45 6-44 2-82-2-207-14-60-1-59 2-59 7-52 9-52 13-52 18-59 24-59 30-60 35-59 39-111 84-223 181-52 39-44 30-45 28-37 19-37 16-37 12-44 7-37 1-37-6-37-12-37-20-30-22-37-36-30-35z"/><path transform="translate(0 -815)" d="M11061 1891l30 35 37 36 30 22 37 20 37 12 37 6 37-1 44-7 37-12 37-16 37-19 45-27 44-31 52-39 223-181 111-83 59-40 60-34 59-30 59-25 52-17 52-14 52-9 59-7 59-2 60 1 207 15 82 1 44-2 45-6 37-8 37-12 52-24 44-28 45-36 37-37 37-45 37-52 37-61 37-71 17 22-29 57-38 63-29 44-37 47-37 40-37 34-37 27-45 25-37 15-37 12-37 8-45 6-44 2-52 0-222-17-60-2-52 1-59 5-59 9-60 14-59 19-52 21-52 25-52 29-59 38-59 41-59 45-208 169-82 62-44 30-45 27-37 19-37 16-52 15-44 5-45-3-37-10-37-17-37-25-37-34-37-43z"/><path transform="translate(0 -806)" d="M11078 1895l37 43 37 34 37 25 37 17 37 10 45 3 44-5 52-15 37-15 37-20 45-27 44-30 82-62 208-169 59-44 59-42 59-37 52-29 52-25 52-22 59-19 60-14 59-9 59-5 52 0 60 2 222 16 52 0 44-2 45-6 37-8 37-11 37-16 45-25 37-27 37-33 37-40 37-48 29-44 38-63 29-57 17 22-37 71-37 61-37 52-37 44-37 37-45 36-44 28-52 23-37 11-37 8-45 6-44 2-82-3-207-16-60-2-59 2-59 6-52 9-52 13-52 17-59 24-59 30-60 34-59 39-111 82-223 179-52 39-44 30-44 27-38 19-37 16-37 11-44 7-37 1-37-6-37-13-37-21-30-22-37-36-30-35z"/><path transform="translate(0 -797)" d="M11095 1899l30 36 37 35 30 23 37 20 37 13 37 6 37 0 44-8 37-11 37-16 38-19 44-27 44-30 52-38 223-180 111-82 59-39 60-34 59-29 59-25 52-17 52-12 52-9 59-6 59-2 60 1 207 17 82 2 44-2 45-6 37-8 37-11 52-23 44-28 45-36 37-37 37-44 37-52 37-61 37-70 17 22-29 57-38 63-29 44-37 47-37 40-37 32-37 27-45 25-37 15-37 12-37 7-45 6-44 2-52-1-222-19-60-2-52 1-59 4-59 8-59 14-60 18-52 21-52 25-51 28-60 37-59 41-59 45-208 166-82 62-44 30-44 26-38 19-37 16-52 14-44 5-44-4-38-10-37-17-37-26-37-34-37-43z"/><path transform="translate(0 -788)" d="M11112 1904l37 43 37 34 37 26 37 17 38 10 44 4 44-5 52-14 37-15 38-19 44-27 44-30 82-62 208-166 59-44 59-42 60-36 51-29 52-25 52-20 60-19 59-14 59-8 59-4 52-1 60 3 222 18 52 1 44-2 45-5 37-8 37-11 37-16 45-25 37-26 37-33 37-40 37-47 29-44 38-62 29-57 17 23-37 70-37 61-37 52-37 43-37 37-45 36-44 27-52 22-37 11-37 8-45 5-44 2-82-3-207-18-59-2-60 1-59 6-52 8-52 13-52 16-59 24-59 29-60 34-59 38-111 81-223 178-52 38-44 30-44 26-38 19-37 15-37 11-44 7-37 0-37-6-37-13-37-21-30-22-37-37-30-35z"/><path transform="translate(0 -779)" d="M11129 1909l30 36 37 36 30 22 37 21 37 13 37 6 37 0 44-7 37-11 37-15 38-19 44-26 44-30 52-38 223-177 111-82 59-38 60-34 59-29 59-24 52-16 52-12 52-9 59-6 60-1 59 2 207 18 82 3 44-2 45-5 37-7 37-11 52-23 44-27 45-36 37-36 37-44 37-52 37-61 37-70 17 24-29 56-37 63-30 43-37 47-37 39-37 33-37 26-45 25-37 15-37 11-37 7-45 5-44 2-52-2-222-20-60-3-52 0-59 4-59 8-59 13-60 18-52 21-52 24-51 28-60 36-59 41-59 44-208 165-81 60-45 30-44 26-38 19-37 15-51 14-45 4-44-4-37-10-38-18-37-26-37-34-37-44z"/><path transform="translate(0 -770)" d="M11146 1914l37 44 37 35 37 25 38 18 37 10 44 4 45-4 51-14 37-15 38-19 44-26 45-30 81-60 208-165 59-44 59-41 60-36 51-28 52-24 52-21 60-18 59-13 59-8 59-4 52 0 60 3 222 20 52 2 44-2 45-5 37-7 37-11 37-15 45-25 37-26 37-33 37-39 37-47 30-43 37-62 29-57 17 24-37 69-37 61-37 51-37 44-37 36-45 35-44 27-52 22-37 11-37 7-45 5-44 2-82-4-207-20-59-2-60 0-59 5-52 9-52 12-52 16-59 23-59 28-60 34-59 37-111 81-223 175-51 38-45 30-44 26-37 18-38 15-37 11-44 6-37 0-37-7-37-13-37-21-30-23-37-36-30-36z"/><path transform="translate(0 -762)" d="M11163 1920l30 36 37 36 30 23 37 21 37 13 37 7 37 1 44-7 37-11 38-15 37-18 44-26 45-30 51-37 223-176 111-80 59-38 60-34 59-28 59-23 52-16 52-12 52-8 59-5 60-1 59 2 207 20 82 4 44-2 45-4 37-8 37-10 52-23 44-27 45-35 37-36 37-44 37-51 37-60 37-70 17 24-37 69-37 61-37 51-37 44-37 36-45 35-44 26-52 22-37 11-37 7-45 5-44 1-82-4-207-21-59-3-60 1-59 5-52 8-52 11-52 16-59 23-59 28-60 33-59 38-111 80-223 175-51 37-45 29-44 26-37 19-38 14-37 11-44 6-37 0-37-7-37-14-37-21-30-23-37-36-30-36z"/><path transform="translate(0 -753)" d="M11180 1926l30 36 37 37 30 22 37 22 37 13 37 7 37 1 44-7 37-10 38-15 37-19 44-25 45-30 51-37 223-175 111-80 59-37 60-33 59-29 59-23 52-15 52-12 52-8 59-5 60-1 59 3 207 21 82 4 44-1 45-5 37-7 37-11 52-22 44-26 45-35 37-36 37-44 37-51 37-60 37-70 17 24-37 70-37 60-37 51-37 43-37 36-45 35-44 27-52 21-37 11-37 7-45 4-44 1-82-4-207-22-59-3-60 1-59 4-52 8-52 11-52 16-59 23-59 28-60 33-59 37-111 79-223 174-51 37-45 29-44 26-37 18-38 15-37 10-44 7-37-1-37-7-37-14-37-21-30-23-37-37-30-36z"/><path transform="translate(0 -744)" d="M11197 1932l30 36 37 37 30 23 37 21 37 14 37 7 37 1 44-6 37-11 38-15 37-18 44-25 45-30 51-37 223-173 111-80 59-37 60-33 59-28 59-23 52-15 52-12 52-8 59-4 60-1 59 3 207 22 82 4 44-1 45-4 37-7 37-10 52-22 44-27 45-34 37-36 37-44 37-51 37-60 37-70 17 25-37 69-37 60-37 51-37 43-37 36-44 35-45 26-52 22-37 10-37 7-44 4-45 1-82-5-207-22-59-4-60 1-59 4-52 7-52 12-52 15-59 23-59 27-60 33-59 37-111 79-223 173-51 37-45 29-44 25-37 18-37 15-38 10-44 6-37-1-37-7-37-14-37-21-30-23-37-37-30-37z"/><path transform="translate(0 -735)" d="M11214 1938l30 37 37 37 30 23 37 21 37 14 37 7 37 1 44-6 38-10 37-15 37-18 44-25 45-29 51-37 223-173 111-79 59-37 60-33 59-27 59-23 52-15 52-11 52-8 59-4 60 0 59 3 207 22 82 5 45-1 44-4 37-7 37-10 52-22 45-26 44-34 37-36 37-43 37-52 37-59 37-70 17 25-37 69-37 60-37 51-37 43-37 35-44 35-45 26-52 21-37 10-37 7-44 4-45 1-81-5-208-24-59-3-60 0-59 4-52 7-52 11-52 15-59 22-59 28-60 32-59 37-111 79-222 171-52 37-45 29-44 25-37 18-37 14-38 11-44 5-37-1-37-7-37-14-37-21-30-24-37-37-30-36z"/><path transform="translate(0 -726)" d="M11231 1945l30 36 37 38 30 23 37 21 37 14 37 8 37 1 44-6 38-10 37-15 37-17 44-26 45-29 52-36 222-172 111-79 59-37 60-32 59-27 59-23 52-15 52-11 52-7 59-4 60 0 59 3 208 24 81 5 45-1 44-4 37-6 37-11 52-21 45-26 44-34 37-36 37-43 37-51 37-60 37-69 17 25-29 56-37 61-30 43-37 46-37 38-37 32-37 25-45 23-37 15-37 10-37 6-44 4-45 1-52-3-222-26-60-4-51-2-60 3-59 6-59 12-60 16-52 19-51 23-52 27-60 35-59 39-59 43-208 159-81 59-45 29-44 25-37 17-37 14-52 13-45 3-44-5-37-11-37-19-38-26-37-36-37-45z"/><path transform="translate(0 -718)" d="M11248 1952l37 44 37 36 38 26 37 19 37 11 44 6 45-4 52-12 37-14 37-18 44-25 45-29 81-59 208-159 59-43 59-39 60-35 52-26 51-23 52-19 60-17 59-12 59-6 60-2 51 1 60 4 222 26 52 3 45-1 44-4 37-6 37-10 37-14 45-24 37-25 37-32 37-38 37-46 30-43 37-61 29-56 17 25-37 69-37 59-37 51-37 42-37 36-44 34-45 25-52 21-37 10-37 7-44 3-45 0-81-5-208-25-59-4-60-1-59 4-52 6-52 11-52 15-59 22-59 26-60 32-59 37-111 77-222 170-52 37-45 28-44 25-37 18-37 13-38 10-44 6-37-2-37-7-37-14-37-22-30-24-37-37-30-37z"/><path transform="translate(0 -709)" d="M11265 1958l30 37 37 37 30 24 37 22 37 14 37 8 37 1 44-6 38-9 37-14 37-18 44-25 45-28 52-37 222-169 111-78 59-36 60-32 59-27 59-22 52-15 52-10 52-7 59-4 60 1 59 4 208 25 81 6 45-1 44-3 37-7 37-10 52-21 45-25 44-34 37-36 37-42 37-51 37-59 37-69 17 25-29 55-37 62-30 42-37 46-37 38-37 31-37 25-45 23-37 14-37 10-37 6-44 3-45 0-52-3-222-27-59-5-52-2-60 2-59 6-59 11-60 16-51 19-52 22-52 27-60 34-59 39-59 41-208 158-81 58-45 29-44 24-37 18-37 14-52 12-45 3-44-6-37-12-37-19-37-26-38-36-37-45z"/><path transform="translate(0 -700)" d="M11282 1965l37 45 38 36 37 27 37 19 37 11 44 6 45-3 52-12 37-14 37-17 44-25 45-28 81-58 208-158 59-42 59-39 60-34 52-27 52-22 51-19 60-16 59-11 59-6 60-2 52 2 59 5 222 27 52 4 45 0 44-4 37-6 37-10 37-14 45-23 37-25 37-31 37-38 37-46 30-42 37-61 29-56 17 25-37 68-37 59-37 51-37 42-37 35-44 34-45 25-52 20-37 10-37 6-44 3-45 0-81-6-208-27-59-4-60-2-59 3-52 7-52 10-52 14-59 22-59 26-59 31-60 36-111 77-222 168-52 36-45 28-44 25-37 17-37 14-37 9-45 5-37-2-37-7-37-15-37-22-30-24-37-38-30-37z"/><path transform="translate(0 -691)" d="M11299 1972l30 37 37 37 30 24 37 22 37 15 37 8 37 1 45-5 37-9 37-14 37-17 44-25 45-28 52-36 222-168 111-77 60-35 59-32 59-26 59-21 52-15 52-10 52-6 59-3 60 1 59 4 208 27 81 7 45 0 44-4 37-6 37-9 52-21 45-25 44-34 37-35 37-42 37-51 37-59 37-68 17 24-29 56-37 61-30 42-37 45-37 38-37 31-37 25-45 22-37 14-37 9-37 6-44 3-45 0-52-3-222-30-59-5-52-2-60 1-59 5-59 11-60 16-51 18-52 22-52 26-60 34-59 38-59 41-208 156-81 58-45 28-44 24-37 17-37 14-52 11-45 3-44-6-37-12-37-19-37-28-37-36-38-45z"/><path transform="translate(0 -682)" d="M11316 1978l38 46 37 36 37 27 37 19 37 12 44 6 45-2 52-12 37-14 37-17 44-24 45-28 81-57 208-157 59-41 59-38 60-34 52-26 52-22 51-18 60-16 59-10 59-6 60-1 52 2 59 5 222 30 52 3 45 1 44-3 37-6 37-10 37-13 45-23 37-25 37-31 37-37 37-46 30-42 37-61 29-55 17 24-29 56-37 60-30 42-37 46-37 37-37 31-37 25-45 22-37 13-37 10-37 5-44 3-45 0-52-4-222-30-59-6-52-2-60 1-59 5-59 10-60 16-51 18-52 22-52 25-60 34-59 38-59 41-208 155-81 57-45 28-44 24-37 17-37 13-52 12-45 2-44-6-37-12-37-19-37-28-37-36-38-46z"/><path transform="translate(0 -674)" d="M11333 1985l38 45 37 36 37 28 37 19 37 12 44 6 45-2 52-11 37-14 37-17 44-24 45-28 81-57 208-155 59-41 59-38 60-34 52-25 52-22 51-18 60-15 59-11 59-5 60-1 52 2 59 6 222 30 52 4 45 1 44-3 37-6 37-9 37-14 45-22 37-25 37-31 37-37 37-45 30-42 37-61 29-56 17 25-29 55-37 61-30 42-37 45-37 37-37 31-37 24-45 22-37 14-37 9-37 5-44 3-45 0-52-5-222-31-59-6-52-2-60 1-59 5-59 10-60 15-51 18-52 21-52 26-60 33-59 38-59 41-208 154-81 57-45 27-44 24-37 17-37 13-52 12-45 2-44-7-37-12-37-20-37-27-37-36-38-46z"/><path transform="translate(0 -665)" d="M11350 1991l38 46 37 36 37 28 37 19 37 13 44 6 45-2 52-12 37-13 37-17 44-24 45-27 81-57 208-154 59-41 59-38 60-33 52-26 52-21 51-18 60-15 59-10 59-5 60-1 52 3 59 5 222 32 52 4 45 0 44-2 37-6 37-9 37-13 45-23 37-24 37-31 37-37 37-45 30-42 37-61 29-55 17 24-29 56-37 60-30 42-37 45-37 37-37 30-37 25-45 22-37 13-37 9-37 5-44 3-45-1-52-4-222-32-59-7-52-2-60 0-59 5-59 10-60 15-51 17-52 22-52 25-59 33-60 37-59 41-208 154-81 56-45 27-44 24-37 17-37 13-52 11-45 2-44-7-37-12-37-20-37-28-37-36-37-46z"/><path transform="translate(0 -656)" d="M11368 1997l37 46 37 37 37 27 37 20 37 13 44 6 45-2 52-11 37-13 37-17 44-24 45-27 81-56 208-154 59-40 60-38 59-33 52-25 52-22 51-17 60-15 59-10 59-5 60 0 52 3 59 6 222 32 52 4 45 1 44-3 37-5 37-9 37-13 45-22 37-24 37-31 37-37 37-45 30-42 37-60 29-55 18 24-30 55-37 60-30 42-37 44-37 37-37 31-37 24-45 22-37 13-37 9-37 5-44 2-45-1-52-4-222-33-59-7-52-3-60 0-59 5-59 10-59 14-52 18-52 21-52 25-59 33-60 37-59 40-208 153-81 56-45 27-44 24-37 16-37 13-52 11-45 2-44-7-37-13-37-19-37-28-37-37-37-46z"/><path transform="translate(0 -647)" d="M11385 2003l37 46 37 37 37 28 37 20 37 12 44 7 45-2 52-11 37-13 37-16 44-24 45-27 81-56 208-153 59-40 60-37 59-33 52-25 52-21 52-17 59-15 59-10 59-4 60-1 52 4 59 6 222 33 52 4 45 1 44-2 37-5 37-9 37-13 45-22 37-24 37-30 37-37 37-45 30-42 37-60 30-55 17 24-38 67-37 59-37 49-37 41-37 35-44 32-45 24-52 19-37 9-37 5-44 2-45-1-81-8-208-32-59-6-59-3-60 2-52 5-52 9-51 13-60 19-59 25-59 30-60 35-111 74-222 162-52 35-45 27-44 23-37 16-37 13-37 9-45 4-37-3-37-9-37-15-37-23-30-25-37-38-29-38z"/><path transform="translate(0 -638)" d="M11402 2009l29 38 37 38 30 25 37 23 37 15 37 9 37 3 45-4 37-9 37-12 37-17 44-23 45-27 52-35 222-162 111-74 60-35 59-29 59-25 60-20 51-13 52-9 52-5 60-2 59 3 59 6 208 32 81 8 45 2 44-3 37-5 37-8 52-20 45-24 44-32 37-34 37-42 37-49 37-58 38-68 17 23-38 68-37 58-37 49-37 42-37 34-44 32-45 24-52 19-37 8-37 5-44 2-45-1-81-9-208-33-59-6-59-3-60 1-52 5-52 9-51 13-60 19-59 25-59 30-60 34-111 73-222 162-52 34-45 27-44 23-37 16-37 13-37 8-45 4-37-3-37-9-37-15-37-24-30-24-37-39-29-38z"/><path transform="translate(0 -630)" d="M11419 2014l29 38 37 39 30 25 37 23 37 16 37 9 37 2 45-3 37-9 37-12 37-17 44-23 45-27 52-34 222-162 111-73 60-34 59-30 59-25 60-19 51-13 52-9 52-4 60-2 59 3 59 6 208 33 81 9 45 2 44-3 37-4 37-9 52-19 45-24 44-32 37-34 37-42 37-49 37-58 38-67 17 23-37 67-38 58-37 49-37 41-37 34-44 32-45 24-52 19-37 8-37 5-44 2-45-2-81-9-208-34-59-6-59-3-60 1-52 4-52 9-51 13-60 19-59 24-59 30-60 33-111 74-222 160-52 34-45 27-44 23-37 16-37 12-37 9-45 3-37-3-37-9-37-16-37-23-30-25-37-39-29-38z"/><path transform="translate(0 -621)" d="M11436 2019l29 38 37 39 30 25 37 24 37 15 37 10 37 2 45-3 37-8 37-13 37-16 44-23 45-26 52-35 222-160 111-73 60-34 59-30 59-24 60-19 51-13 52-8 52-5 60-1 59 3 59 6 208 34 81 9 45 2 44-2 37-5 37-8 52-19 45-24 44-32 37-33 37-42 37-49 38-58 37-67 17 23-37 67-38 58-37 49-37 41-37 33-44 32-45 24-52 19-37 8-37 4-44 2-45-2-81-9-208-35-59-7-59-3-60 1-52 4-52 9-51 12-60 19-59 24-59 29-60 34-111 72-222 160-52 34-45 26-44 23-37 16-37 12-37 9-45 3-37-3-37-9-37-16-37-24-30-25-37-39-29-38z"/><path transform="translate(0 -612)" d="M11453 2024l29 38 37 39 30 25 37 24 37 16 37 9 37 3 45-3 37-8 37-13 37-15 44-23 45-27 52-34 222-159 111-73 60-34 59-29 59-24 60-19 51-12 52-8 52-5 60-1 59 4 59 6 208 35 81 9 45 2 44-1 37-5 37-8 52-19 45-23 44-32 37-34 37-41 37-49 38-58 37-67 17 23-30 54-37 59-30 41-37 44-37 37-37 29-37 24-45 21-37 12-37 8-37 4-44 2-45-2-52-6-222-37-59-8-52-4-59-1-60 3-59 8-59 14-52 16-52 20-52 24-59 32-60 36-59 39-208 148-81 54-45 27-44 22-37 16-37 12-52 10-45 1-44-8-37-13-37-21-37-28-37-38-37-47z"/><path transform="translate(0 -603)" d="M11470 2029l37 46 37 38 37 28 37 21 37 13 44 8 45-1 52-10 37-12 37-15 44-23 45-26 81-55 208-148 59-39 60-36 59-32 52-24 52-20 52-16 59-13 59-9 60-3 59 1 52 4 59 8 222 37 52 6 45 2 44-1 37-5 37-8 37-12 45-21 37-24 37-29 37-36 37-44 30-41 37-60 30-54 17 22-37 67-37 57-38 49-37 40-37 34-44 31-45 24-52 18-37 8-37 4-44 1-45-2-81-10-208-37-59-7-59-4-60 1-52 4-51 8-52 12-60 18-59 24-59 28-60 33-111 72-222 158-52 33-45 26-44 23-37 16-37 11-37 8-45 3-37-3-37-10-37-16-37-24-30-25-37-39-29-39z"/><path transform="translate(0 -594)" d="M11487 2032l29 39 37 39 30 25 37 24 37 17 37 9 37 4 45-4 37-7 37-12 37-16 44-22 45-26 52-34 222-158 111-71 60-33 59-29 59-24 60-18 52-12 51-8 52-4 60 0 59 3 59 8 208 36 81 10 45 2 44-1 37-4 37-8 52-18 45-23 44-32 37-33 37-41 38-49 37-57 37-67 17 22-30 54-37 59-30 41-37 43-37 36-37 30-37 23-44 20-38 12-37 8-37 4-44 1-45-2-52-6-222-40-59-8-52-4-59-2-60 3-59 8-59 13-52 15-52 20-52 24-59 31-60 35-59 39-208 146-81 54-45 26-44 22-37 15-37 12-52 10-45 0-44-8-37-13-37-21-37-29-37-38-37-47z"/><path transform="translate(0 -586)" d="M11504 2036l37 47 37 38 37 29 37 21 37 13 44 8 45 0 52-10 37-11 37-16 44-22 45-26 81-53 208-147 59-39 60-35 59-31 52-24 52-19 52-16 59-13 59-8 60-3 59 2 52 4 59 8 222 40 52 6 45 2 44-1 37-4 37-8 38-12 44-20 37-23 37-29 37-37 37-43 30-41 37-59 30-54 17 21-37 66-37 58-38 48-37 40-37 33-44 31-45 23-52 18-37 8-37 4-44 1-45-3-81-11-208-38-59-8-59-4-60 0-52 3-51 8-52 11-60 18-59 23-59 29-60 32-111 71-222 156-52 33-45 26-44 22-37 15-37 12-37 7-45 3-37-4-37-10-37-16-37-25-30-25-37-40-29-38z"/><path transform="translate(0 -577)" d="M11521 2039l29 39 37 39 30 26 37 24 37 16 37 10 37 4 45-3 37-7 37-12 37-15 44-22 45-26 52-33 222-156 111-71 60-32 59-28 59-24 60-18 52-11 51-7 52-4 60 0 59 4 59 8 208 38 81 11 45 3 44-1 37-4 37-8 52-17 45-23 44-32 37-33 37-40 38-48 37-57 37-67 17 21-37 66-37 57-38 48-37 40-37 33-44 31-45 23-51 17-38 8-37 4-44 0-45-2-81-12-208-39-59-7-59-5-60 0-52 3-51 7-52 11-60 18-59 23-59 28-60 32-111 71-222 155-52 33-45 25-44 22-37 15-37 11-37 8-45 2-37-4-37-10-37-16-37-25-30-25-37-40-29-39z"/><path transform="translate(0 -568)" d="M11538 2041l29 39 37 40 30 25 37 25 37 17 37 10 37 4 45-3 37-7 37-12 37-15 44-22 45-25 52-33 222-155 111-70 60-33 59-28 59-23 60-17 52-12 51-7 52-3 60 0 59 5 59 8 208 39 81 11 45 3 44-1 37-4 38-7 51-18 45-23 44-31 37-32 37-41 38-48 37-57 37-66 17 20-37 66-37 57-37 48-38 40-37 33-44 31-45 22-51 17-38 8-37 3-44 1-45-3-81-12-208-40-59-8-59-5-60 0-51 3-52 7-52 11-60 17-59 23-59 28-60 32-111 70-222 154-52 33-44 25-45 22-37 14-37 12-37 7-45 2-37-4-37-10-37-17-37-24-30-26-37-40-29-39z"/><path transform="translate(0 -559)" d="M11555 2043l29 39 37 40 30 26 37 24 37 17 37 10 37 4 45-2 37-7 37-11 37-15 45-22 44-25 52-33 222-154 111-70 60-32 59-28 59-22 60-18 52-11 52-7 51-3 60 1 59 4 59 9 208 39 81 12 45 3 44-1 37-3 38-8 51-17 45-22 44-31 37-33 38-40 37-48 37-57 37-66 17 20-37 66-37 56-37 48-38 40-37 33-44 30-45 23-51 17-38 7-37 3-44 1-45-3-81-12-208-41-59-9-59-5-60-1-51 3-52 7-52 11-60 17-59 23-59 27-59 32-112 69-222 153-52 33-44 25-45 22-37 14-37 11-37 8-45 2-37-5-37-10-37-17-37-25-30-25-37-40-29-40z"/><path transform="translate(0 -550)" d="M11572 2045l29 39 37 40 30 26 37 24 37 17 37 11 37 4 45-2 37-7 37-11 37-15 45-22 44-25 52-32 222-153 112-70 59-32 59-27 59-23 60-17 52-11 52-6 51-3 60 1 59 5 59 8 208 41 81 12 45 3 44-1 37-3 38-7 51-17 45-23 44-30 37-33 38-40 37-48 37-56 37-66 17 19-37 66-37 56-37 48-38 39-37 33-44 30-45 22-51 17-37 7-38 4-44 0-45-3-81-13-208-41-59-9-59-5-60-1-51 2-52 7-52 10-60 17-59 23-59 27-59 31-112 69-222 152-52 33-44 25-45 21-37 15-37 11-37 7-45 1-37-4-37-10-37-18-37-24-30-26-37-41-29-39z"/><path transform="translate(0 -542)" d="M11589 2045l29 40 37 40 30 26 37 25 37 17 37 10 37 5 45-2 37-7 37-11 37-15 45-21 44-25 52-32 222-152 112-69 59-32 59-27 59-22 60-17 52-11 52-7 51-2 60 1 59 5 59 9 208 41 81 13 45 3 44 0 38-4 37-7 51-16 45-22 44-31 37-32 38-40 37-48 37-56 37-66 17 18-37 66-37 56-37 48-37 39-38 33-44 30-45 22-51 16-37 7-38 3-44 0-45-3-81-13-208-42-59-9-59-6-60-1-51 3-52 6-52 10-60 17-59 22-59 27-59 31-112 69-222 151-52 32-44 25-45 21-37 14-37 11-37 7-45 2-37-5-37-10-37-18-37-25-30-26-37-40-29-40z"/><path transform="translate(0 -533)" d="M11606 2046l29 39 37 40 30 26 37 25 37 18 37 10 37 5 45-2 37-7 37-11 37-14 45-21 44-25 52-32 222-151 112-69 59-31 59-27 59-22 60-17 52-10 52-6 51-3 60 2 59 5 59 9 208 43 81 12 45 4 44 0 38-4 37-6 51-17 45-22 44-30 38-32 37-40 37-48 37-56 37-66 17 18-30 53-37 58-30 40-37 43-37 35-37 28-37 22-44 19-37 11-37 7-38 3-44-1-44-3-52-8-223-46-59-10-52-6-59-3-60 1-59 6-59 11-52 15-52 18-52 22-59 29-59 34-60 37-207 140-82 52-44 24-45 21-37 14-37 11-52 8-44-1-45-9-37-15-37-22-37-30-37-39-37-48z"/><path transform="translate(0 -524)" d="M11623 2045l37 48 37 39 37 30 37 22 37 15 45 9 44 1 52-8 37-10 37-15 45-21 44-24 82-51 207-141 60-37 59-34 59-29 52-22 52-18 52-14 59-12 59-6 60-1 59 3 52 6 59 10 223 46 52 8 44 4 44 0 38-3 37-7 37-11 44-19 37-22 37-28 37-35 37-43 30-40 37-58 30-53 17 17-37 66-37 56-37 47-37 39-38 32-44 30-44 21-52 17-37 6-37 3-45 0-44-4-82-13-208-45-59-9-59-6-59-2-52 2-52 6-52 10-59 16-60 22-59 26-59 31-112 67-222 150-52 31-44 25-45 21-37 14-37 10-37 7-45 1-37-5-37-11-37-17-37-26-29-26-38-41-29-39z"/><path transform="translate(0 -515)" d="M11640 2044l29 40 38 40 29 26 37 26 37 18 37 11 37 4 45-1 37-7 37-10 37-14 45-21 44-24 52-32 222-149 112-68 59-31 59-26 60-22 59-16 52-10 52-6 52-2 59 2 59 6 59 10 208 44 82 13 44 4 45 0 37-3 37-6 52-16 44-22 44-30 38-32 37-39 37-47 37-56 37-66 17 17-37 65-37 56-37 47-37 39-37 32-45 29-44 22-52 16-37 6-37 3-45-1-44-4-82-13-208-45-59-10-59-6-59-3-52 2-52 6-52 10-59 16-60 21-59 26-59 31-112 67-222 148-52 32-44 24-45 21-37 13-37 11-37 6-45 1-37-5-37-11-37-18-37-25-29-26-38-41-29-40z"/><path transform="translate(0 -506)" d="M11657 2042l29 40 38 41 29 26 37 26 37 17 37 12 37 5 45-2 37-6 37-10 37-14 45-21 44-24 52-32 222-148 112-67 59-31 59-26 60-21 59-16 52-10 52-5 52-2 59 2 59 6 59 10 208 45 82 14 44 4 45 0 37-3 37-6 52-16 44-21 45-30 37-32 37-39 37-47 37-56 37-65 17 15-30 53-37 58-30 39-37 43-37 34-37 28-37 21-44 19-37 10-37 6-37 3-45-1-44-4-52-8-223-49-59-11-52-6-59-4-60 0-59 5-59 11-52 13-52 18-52 21-59 29-59 33-60 36-207 138-82 50-44 24-45 21-37 14-37 10-52 7-44-1-45-10-37-15-37-23-37-30-37-40-37-48z"/><path transform="translate(0 -498)" d="M11674 2040l37 48 37 40 37 30 37 23 37 15 45 10 44 1 52-7 37-10 37-14 45-21 44-24 82-50 207-138 60-36 59-33 59-28 52-22 52-17 52-14 59-10 59-6 60 0 59 4 52 7 59 10 223 49 52 8 44 5 45 0 37-2 37-7 37-10 44-19 37-21 37-28 37-34 37-42 30-40 37-57 30-53 17 15-30 52-37 58-29 39-38 42-37 34-37 28-37 21-44 19-37 10-37 6-37 3-45-1-44-5-52-8-223-50-59-11-52-7-59-4-60 0-59 5-59 10-52 14-52 17-52 21-59 29-59 32-60 36-207 137-82 50-44 24-45 20-37 14-37 10-52 7-44-2-45-10-37-15-37-23-37-30-37-40-37-49z"/><path transform="translate(0 -489)" d="M11691 2037l37 48 37 40 37 31 37 22 37 16 45 10 44 1 52-7 37-10 37-14 45-20 44-24 82-50 207-137 60-36 59-32 59-29 52-21 52-17 52-13 59-11 59-5 60 0 59 4 52 7 59 11 223 50 52 8 44 5 45 1 37-3 37-6 37-10 44-18 37-22 37-27 37-35 38-42 29-39 37-57 30-53 17 14-37 65-37 55-37 47-37 38-37 32-45 29-44 21-52 15-37 6-37 2-45-1-44-4-82-15-207-48-60-10-59-7-59-3-52 1-52 5-52 9-59 15-60 21-59 25-59 30-112 66-222 146-52 30-44 24-45 20-37 13-37 10-37 6-44 1-38-6-37-11-37-19-37-25-29-27-37-41-30-41z"/><path transform="translate(0 -480)" d="M11708 2033l30 40 37 41 29 27 37 26 37 18 37 12 38 5 44-1 37-5 37-10 37-14 45-20 44-24 52-30 222-146 112-66 59-29 59-26 60-20 59-16 52-9 52-5 52-1 59 3 59 7 60 10 207 48 82 15 44 4 45 2 37-3 37-6 52-15 44-21 45-29 37-31 37-39 37-47 37-55 37-65 17 14-30 52-37 57-29 39-38 42-37 34-37 27-37 21-44 19-37 9-37 6-37 2-45-1-44-5-52-9-223-51-59-12-52-7-59-5-59 0-60 4-59 10-52 13-52 17-52 21-59 28-59 32-60 35-207 136-82 49-44 23-45 20-37 13-37 10-52 7-44-2-45-11-37-15-37-23-37-31-37-40-37-49z"/><path transform="translate(0 -471)" d="M11725 2028l37 49 37 40 37 31 37 23 37 16 45 10 44 2 52-7 37-9 37-14 45-20 44-23 82-49 207-136 60-35 59-32 59-28 52-21 52-17 52-13 59-9 60-5 59 0 59 5 52 8 59 11 223 52 52 8 44 5 45 2 37-3 37-5 37-10 44-18 37-21 37-28 37-34 38-41 29-40 37-57 30-52 17 13-37 64-37 55-37 47-37 38-37 31-45 29-44 20-52 15-37 6-37 2-45-2-44-5-82-15-207-50-60-11-59-7-59-3-52 0-52 5-52 9-59 14-60 20-59 25-59 30-111 64-223 144-52 30-44 24-45 19-37 14-37 9-37 6-44 0-37-6-38-12-37-18-37-27-29-26-37-42-30-40z"/><path transform="translate(0 -462)" d="M11742 2023l30 40 37 42 29 27 37 26 37 19 38 11 37 6 44 0 37-6 37-9 37-13 45-20 44-23 52-31 223-143 111-65 59-30 59-24 60-20 59-15 52-9 52-4 52-1 59 3 59 8 60 11 207 49 82 15 44 5 45 2 37-2 37-6 52-15 44-20 45-29 37-31 37-38 37-47 37-55 37-64 17 12-37 64-37 55-37 46-37 39-37 30-45 29-44 20-52 15-37 5-37 2-45-2-44-5-82-15-207-51-60-11-59-8-59-3-52 0-52 5-52 8-59 15-60 19-59 25-59 29-111 64-223 143-52 30-44 23-45 20-37 13-37 9-37 6-44 0-37-6-38-12-37-19-37-26-29-27-37-42-30-41z"/><path transform="translate(0 -453)" d="M11759 2017l30 40 37 42 29 27 37 26 37 19 38 12 37 6 44 0 37-5 37-10 37-13 45-19 44-23 52-31 223-142 111-65 59-29 59-24 60-20 59-15 52-8 52-4 52-1 59 4 59 7 60 12 207 50 82 16 44 5 45 1 37-1 37-6 52-15 44-20 45-28 37-31 37-38 37-47 37-55 37-64 17 11-30 53-37 56-29 39-37 41-38 34-37 26-37 21-44 18-37 9-37 5-37 2-45-2-44-5-52-10-223-54-59-12-52-8-59-6-59-1-60 4-59 9-52 12-52 16-52 20-59 28-59 31-60 35-207 133-82 48-44 22-45 20-37 13-37 9-52 6-44-3-45-10-37-17-37-23-37-32-37-40-37-49z"/><path transform="translate(0 -445)" d="M11776 2010l37 50 37 40 37 31 37 24 37 16 45 11 44 2 52-6 37-9 37-13 45-19 44-23 82-48 207-133 60-35 59-31 59-27 52-20 52-17 52-12 59-9 60-4 59 1 59 6 52 8 59 12 223 54 52 10 44 5 45 2 37-2 37-5 37-9 44-18 37-20 37-27 38-34 37-41 29-39 37-56 30-52 17 10-37 64-37 55-37 46-37 38-37 30-45 28-44 20-52 14-37 6-37 1-45-2-44-6-82-16-207-52-60-12-59-8-59-4-52 0-52 4-52 8-59 14-60 19-59 25-59 28-111 63-223 141-52 30-44 23-45 19-37 13-37 9-37 5-44 0-37-7-37-12-38-19-37-27-29-27-37-42-30-41z"/><path transform="translate(0 -436)" d="M11793 2002l30 41 37 42 29 27 37 27 38 19 37 13 37 6 44 0 37-5 37-9 37-13 45-19 44-23 52-29 223-141 111-64 59-28 59-24 60-20 59-14 52-8 52-4 52 0 59 4 59 9 60 11 207 52 82 17 44 5 45 2 37-1 37-5 52-15 44-20 45-28 37-30 37-38 37-46 37-55 37-64 17 10-30 52-37 56-29 39-37 41-37 33-38 26-37 21-44 17-37 9-37 5-37 1-45-2-44-6-52-10-223-56-59-12-52-9-59-6-59-1-60 3-59 8-52 12-52 16-52 20-59 26-59 31-60 34-207 131-82 48-44 22-45 19-37 13-37 9-52 5-44-3-45-11-37-16-37-24-37-32-37-40-37-50z"/><path transform="translate(0 -427)" d="M11810 1994l37 50 37 40 37 32 37 24 37 16 45 12 44 3 52-6 37-9 37-12 45-19 44-23 82-47 207-131 60-35 59-30 59-27 52-20 52-16 52-11 59-9 60-3 59 1 59 6 52 9 59 12 223 57 52 10 44 5 45 3 37-2 37-5 37-9 44-17 37-20 38-27 37-33 37-41 29-38 37-57 30-52 17 9-30 52-37 56-29 39-37 40-37 34-38 26-37 20-44 17-37 9-37 5-37 1-45-2-44-6-52-11-223-57-59-13-52-8-59-7-59-1-60 3-59 8-52 12-52 15-52 20-59 26-59 31-60 34-207 130-82 47-44 22-45 19-37 12-37 9-52 6-44-4-45-11-37-17-37-24-37-31-37-41-37-50z"/><path transform="translate(0 -418)" d="M11827 1985l37 50 37 41 37 32 37 24 37 16 45 12 44 3 52-6 37-8 37-13 45-19 44-22 82-47 207-130 60-34 59-31 59-26 52-20 52-15 52-12 59-8 60-3 59 2 59 6 52 9 59 12 223 58 52 10 44 6 45 2 37-1 37-5 37-9 44-17 37-20 38-26 37-33 37-41 29-39 37-56 30-51 17 8-30 52-37 56-29 38-37 40-37 33-38 26-37 20-44 17-37 9-37 5-37 1-45-3-44-6-52-10-223-58-59-13-52-9-59-7-59-2-60 3-59 8-52 11-52 16-52 19-59 26-59 30-60 34-207 129-82 47-44 22-45 19-37 12-37 9-52 5-44-3-45-12-37-17-37-24-37-32-37-41-37-50z"/><path transform="translate(0 -409)" d="M11844 1975l37 50 37 41 37 32 37 24 37 17 45 12 44 3 52-5 37-9 37-12 45-19 44-22 82-46 207-130 60-33 59-31 59-26 52-19 52-16 52-11 59-8 60-3 59 2 59 7 52 9 59 13 223 58 52 10 44 6 45 3 37-1 37-5 37-8 44-17 37-20 38-26 37-33 37-41 29-38 37-56 30-52 17 8-37 63-37 54-37 45-37 38-37 30-45 27-44 19-52 14-37 4-37 1-45-3-44-6-82-18-207-55-60-13-59-9-59-5-52-1-52 3-52 7-59 13-60 18-59 24-59 27-111 62-223 137-52 29-44 22-45 18-37 12-37 9-37 4-44-1-37-7-37-13-37-19-38-28-29-28-37-42-30-42z"/><path transform="translate(0 -401)" d="M11861 1965l30 41 37 43 29 27 38 28 37 19 37 13 37 7 44 1 37-4 37-9 37-12 45-18 44-22 52-29 223-137 111-62 59-27 59-23 60-19 59-13 52-7 52-3 52 1 59 5 59 9 60 13 207 55 82 18 44 6 45 3 37-1 37-4 52-14 44-19 45-27 37-30 37-37 37-46 37-54 37-63 17 7-30 51-37 56-29 38-37 40-37 33-37 26-38 19-44 17-37 8-37 5-37 0-45-3-44-6-52-11-222-60-60-14-52-9-59-7-59-2-60 2-59 7-52 11-52 15-52 19-59 26-59 30-60 33-207 127-82 46-44 22-45 18-37 12-37 9-52 4-44-3-45-12-37-17-37-25-37-32-37-41-37-51z"/><path transform="translate(0 -392)" d="M11878 1953l37 51 37 41 37 32 37 25 37 17 45 12 44 4 52-5 37-8 37-12 45-19 44-21 82-46 207-128 60-33 59-30 59-26 52-19 52-14 52-11 59-8 60-2 59 2 59 7 52 10 60 13 222 60 52 11 44 7 45 3 37-1 37-5 37-8 44-17 38-19 37-26 37-33 37-40 29-38 37-56 30-51 17 6-37 63-37 54-37 45-37 37-37 29-45 27-44 19-52 13-37 4-37 1-45-3-44-7-82-18-207-58-60-13-59-9-59-6-52-1-52 2-52 7-59 13-59 17-60 23-59 27-111 61-223 135-52 29-44 21-45 18-37 12-37 8-37 4-44-1-37-7-37-13-37-21-38-27-29-28-37-43-30-42z"/><path transform="translate(0 -383)" d="M11895 1941l30 42 37 43 29 28 38 28 37 20 37 13 37 7 44 1 37-4 37-8 37-12 45-18 44-21 52-29 223-135 111-61 59-27 60-22 59-18 59-13 52-6 52-3 52 1 59 6 59 10 60 13 207 57 82 18 44 7 45 3 37 0 37-5 52-13 44-18 45-27 37-30 37-37 37-45 37-54 37-63 17 6-37 63-37 53-37 45-37 37-37 29-45 27-44 19-52 12-37 4-37 1-45-3-44-7-82-19-207-58-60-13-59-11-59-5-52-2-52 3-52 6-59 12-59 18-60 22-59 27-111 60-223 135-52 28-44 21-45 18-37 12-37 8-37 4-44-2-37-7-37-13-37-21-37-28-30-28-37-43-30-41z"/><path transform="translate(0 -374)" d="M11912 1929l30 41 37 44 30 28 37 27 37 21 37 13 37 7 44 2 37-4 37-8 37-12 45-18 44-21 52-28 223-134 111-61 59-26 60-23 59-17 59-13 52-6 52-3 52 2 59 6 59 10 60 13 207 58 82 19 44 7 45 3 37 0 37-4 52-13 44-19 45-27 37-29 37-37 37-45 37-53 37-63 17 5-29 51-38 55-29 38-37 39-37 33-37 25-37 19-45 16-37 8-37 4-37 0-45-3-44-7-52-12-222-63-60-14-52-10-59-8-59-3-60 2-59 6-52 11-52 14-52 18-59 25-59 29-59 33-208 125-82 45-44 21-45 17-37 12-37 8-52 4-44-4-45-13-37-18-37-24-37-33-37-42-37-51z"/><path transform="translate(0 -365)" d="M11929 1915l37 51 37 42 37 33 37 25 37 17 45 13 44 4 52-4 37-8 37-11 45-18 44-21 82-45 208-125 59-33 59-29 59-25 52-18 52-14 52-10 59-7 60-2 59 3 59 8 52 10 60 15 222 62 52 12 44 7 45 3 37 0 37-4 37-8 45-16 37-19 37-25 37-32 37-40 29-38 38-55 29-51 17 4-29 51-38 55-29 37-37 40-37 32-37 25-37 19-45 16-37 8-37 4-37 0-45-4-44-7-52-12-222-64-60-14-52-10-59-8-59-4-60 1-59 7-52 10-52 14-51 18-60 25-59 29-59 32-208 124-82 45-44 21-45 17-37 11-37 8-52 4-44-4-44-13-38-18-37-25-37-33-37-42-37-51z"/><path transform="translate(0 -357)" d="M11946 1901l37 52 37 41 37 33 37 25 38 18 44 13 44 4 52-4 37-7 37-12 45-17 44-21 82-45 208-124 59-32 59-29 60-25 51-18 52-14 52-10 59-6 60-2 59 4 59 8 52 10 60 15 222 63 52 12 44 7 45 4 37 0 37-4 37-8 45-15 37-20 37-25 37-32 37-39 29-38 38-55 29-51 17 3-37 63-37 53-37 44-37 37-37 29-45 26-44 18-52 12-37 4-37 0-45-4-44-8-82-19-207-61-60-14-59-11-59-7-52-2-52 2-52 6-59 11-59 17-60 22-59 26-111 59-223 131-52 28-44 21-44 17-38 11-37 8-37 3-44-2-37-8-37-13-37-21-37-28-30-29-37-44-30-42z"/><path transform="translate(0 -348)" d="M11963 1887l30 41 37 44 30 29 37 28 37 21 37 14 37 7 44 2 37-3 37-8 38-11 44-17 44-21 52-27 223-132 111-59 59-26 60-22 59-16 59-12 52-6 52-2 52 3 59 6 59 11 60 14 207 61 82 20 44 7 45 4 37 0 37-4 52-12 44-18 45-26 37-29 37-36 37-45 37-53 37-62 17 2-29 51-37 55-30 37-37 39-37 32-37 25-37 19-45 15-37 8-37 3-37 0-45-4-44-8-52-12-222-66-60-15-52-10-59-9-59-4-59 1-60 6-52 10-52 13-51 18-60 24-59 28-59 32-208 123-81 44-45 20-44 17-38 11-37 8-51 3-45-5-44-13-38-18-37-25-37-33-37-42-37-52z"/><path transform="translate(0 -339)" d="M11980 1871l37 52 37 42 37 33 37 25 38 18 44 14 45 4 51-3 37-7 38-11 44-18 45-20 81-44 208-123 59-31 59-29 60-24 51-17 52-14 52-10 60-6 59-1 59 5 59 8 52 11 60 15 222 65 52 12 44 8 45 4 37 0 37-3 37-8 45-15 37-19 37-25 37-31 37-40 30-37 37-55 29-50 17 2-37 62-37 53-37 44-37 36-37 28-45 26-44 18-52 12-37 3-37 0-45-5-44-8-82-20-207-62-59-15-60-11-59-7-52-3-52 1-52 6-59 11-59 16-60 21-59 26-52 26-59 32-223 130-51 27-45 20-44 17-38 11-37 7-37 3-44-2-37-8-37-14-37-21-37-29-30-29-37-44-30-42z"/><path transform="translate(0 -330)" d="M11997 1855l30 42 37 44 30 29 37 29 37 21 37 14 37 8 44 2 37-3 37-7 38-11 44-17 45-20 51-27 223-130 59-32 52-26 59-25 60-22 59-16 59-11 52-5 52-2 52 3 59 7 60 11 59 15 207 62 82 21 44 7 45 5 37 0 37-3 52-12 44-18 45-25 37-29 37-36 37-44 37-53 37-62 17 1-29 51-37 54-30 37-37 39-37 32-37 24-37 19-45 15-37 7-37 3-37 0-45-5-44-8-52-12-222-68-60-15-52-12-59-9-59-4-59 0-60 6-52 9-52 13-51 17-60 24-59 28-59 31-208 121-81 43-45 20-44 17-37 11-38 7-51 3-45-5-44-14-37-18-38-26-37-33-37-43-37-52z"/><path transform="translate(0 -321)" d="M12014 1839l37 51 37 43 37 33 38 26 37 18 44 14 45 5 51-3 38-7 37-11 44-17 45-20 81-43 208-121 59-31 59-28 60-24 51-17 52-13 52-9 60-6 59 0 59 5 59 9 52 11 60 15 222 68 52 12 44 8 45 5 37 0 37-3 37-7 45-15 37-19 37-24 37-32 37-39 30-37 37-54 29-51 17 1-29 51-37 54-30 37-37 39-37 31-37 24-37 19-45 15-37 7-37 3-37-1-45-5-44-8-52-13-222-68-60-16-51-11-60-9-59-5-59 0-60 5-52 9-52 13-51 17-60 24-59 27-59 31-208 120-81 43-45 20-44 16-37 11-38 7-51 3-45-6-44-13-37-19-38-26-37-33-37-43-37-52z"/><path transform="translate(0 -313)" d="M12031 1821l37 52 37 43 37 34 38 25 37 19 44 14 45 5 51-3 38-7 37-10 44-17 45-20 81-43 208-120 59-31 59-27 60-24 51-17 52-13 52-9 60-5 59 0 59 5 60 9 51 11 60 16 222 69 52 12 44 8 45 5 37 1 37-3 37-7 45-15 37-18 37-25 37-31 37-39 30-37 37-54 29-50 17 0-29 50-37 54-30 37-37 39-37 31-37 24-37 18-45 15-37 7-37 3-37-1-44-5-45-8-52-13-222-70-60-16-51-11-60-10-59-5-59 0-60 5-52 9-51 13-52 16-60 23-59 28-59 31-208 118-81 43-45 20-44 16-37 11-38 7-51 2-45-5-44-14-37-19-37-26-38-34-37-42-37-53z"/><path transform="translate(0 -304)" d="M12048 1804l37 52 37 42 38 34 37 26 37 19 44 14 45 5 51-2 38-7 37-10 44-17 45-20 81-42 208-119 59-31 59-27 60-24 52-16 51-13 52-9 60-5 59 0 59 5 60 10 51 11 60 16 222 70 52 13 45 8 44 5 37 1 37-3 37-7 45-15 37-18 37-24 37-31 37-39 30-37 37-54 29-50 17 0-29 50-37 54-30 37-37 38-37 31-37 24-37 18-45 15-37 6-37 3-37-1-44-5-45-8-52-14-222-70-60-16-51-12-60-10-59-5-59 0-60 4-52 9-51 13-52 16-60 23-59 27-59 31-208 118-81 42-45 20-44 16-37 10-37 7-52 2-45-6-44-14-37-19-37-26-38-34-37-43-37-52z"/><path transform="translate(0 -295)" d="M12065 1785l37 53 37 42 38 34 37 27 37 18 44 14 45 6 52-2 37-7 37-10 44-16 45-20 81-42 208-118 59-31 59-27 60-23 52-16 51-13 52-8 60-5 59 0 59 6 60 9 51 12 60 16 222 71 52 13 45 8 44 5 37 1 37-2 37-7 45-15 37-18 37-24 37-31 37-38 30-37 37-54 29-50 17-1-29 50-37 54-30 37-37 38-37 31-37 24-37 18-45 14-37 6-37 3-37-1-44-5-45-9-52-13-222-72-60-16-51-12-60-10-59-6-59 0-60 4-52 9-51 12-52 16-60 23-59 27-59 30-208 117-81 42-45 20-44 16-37 10-37 6-52 2-45-6-44-14-37-19-37-26-38-34-37-43-37-53z"/><path transform="translate(0 -286)" d="M12082 1766l37 53 37 43 38 34 37 26 37 19 44 14 45 6 52-2 37-6 37-10 44-16 45-20 81-42 208-117 59-30 59-27 60-23 52-16 51-12 52-9 60-4 59 1 59 5 60 10 51 12 60 17 222 71 52 13 45 9 44 5 37 1 37-2 37-7 45-14 37-18 37-24 37-31 37-38 30-37 37-53 29-50 17-2-29 50-37 54-30 36-37 38-37 31-37 24-37 18-45 14-37 6-37 2-37-1-44-5-45-9-52-14-222-72-60-17-51-12-60-10-59-6-59-1-60 5-52 8-51 12-52 16-60 22-59 27-59 30-208 116-81 42-45 19-44 16-37 10-37 6-52 2-45-6-44-14-37-20-37-26-38-34-37-43-37-53z"/><path transform="translate(0 -277)" d="M12099 1747l37 53 37 43 38 34 37 27 37 19 44 14 45 6 52-2 37-6 37-10 44-16 45-19 81-42 208-116 59-30 59-27 60-22 52-16 51-12 52-8 60-5 59 1 59 6 60 10 51 13 60 16 222 72 52 14 45 9 44 5 37 2 37-3 37-6 45-14 37-18 37-24 37-30 37-39 30-36 37-54 29-49 17-2-37 61-37 52-37 43-37 34-37 28-44 25-45 16-52 10-37 2-37-1-44-6-45-9-81-23-208-68-59-16-60-13-59-9-52-4-52 0-52 3-59 10-59 14-60 20-59 24-52 24-59 30-222 123-52 26-45 19-44 16-37 10-37 6-37 2-45-4-37-9-37-15-37-22-37-30-30-30-37-45-30-43z"/><path transform="translate(0 -269)" d="M12116 1727l30 43 37 45 30 30 37 30 37 22 37 15 37 9 45 4 37-2 37-6 37-10 44-16 45-19 52-25 222-124 59-30 52-24 59-24 60-19 59-15 59-9 52-4 52 0 52 4 59 9 60 13 59 16 208 69 81 23 45 9 44 5 37 2 37-3 52-10 45-16 44-25 37-27 37-35 37-43 37-52 37-61 17-2-37 61-37 51-37 43-37 35-37 27-44 25-45 16-52 10-37 2-37-2-44-5-45-10-81-23-208-69-59-17-60-13-59-9-52-4-52-1-52 4-59 9-59 14-60 19-59 24-52 24-59 30-222 123-52 25-45 19-44 15-37 10-37 6-37 2-45-4-37-9-37-16-37-22-37-30-30-30-37-45-30-43z"/><path transform="translate(0 -260)" d="M12133 1707l30 43 37 46 30 29 37 30 37 22 37 16 37 9 45 4 37-2 37-6 37-10 44-15 45-19 52-25 222-123 59-30 52-24 59-23 60-20 59-14 59-9 52-4 52 1 52 4 59 9 60 13 59 17 208 69 81 24 45 9 44 6 37 1 37-2 52-10 45-16 44-24 37-28 37-35 37-42 37-52 37-61 17-2-37 61-37 51-37 42-37 35-37 27-44 25-45 16-52 9-37 2-37-2-44-6-45-9-81-24-208-70-59-17-60-13-59-9-52-5-52 0-52 3-59 9-59 14-60 19-59 23-52 24-59 30-222 121-52 25-45 19-44 15-37 10-37 6-37 2-45-5-37-9-37-16-37-22-37-30-30-30-37-45-30-44z"/><path transform="translate(0 -251)" d="M12150 1687l30 43 37 45 30 30 37 30 37 22 37 16 37 10 45 4 37-2 37-6 37-9 44-16 45-18 52-26 222-121 59-30 52-24 59-23 60-19 59-14 59-9 52-3 52 0 52 5 59 9 60 14 59 16 208 71 81 23 45 10 44 6 37 1 37-1 52-10 45-16 44-24 37-28 37-34 37-43 37-51 37-61 17-3-37 61-37 51-37 42-37 35-37 27-44 24-45 16-52 9-37 2-37-2-44-6-45-10-81-24-208-71-59-17-60-13-59-10-52-5-52-1-52 4-59 8-59 14-59 19-60 23-52 23-59 30-222 121-52 24-45 19-44 15-37 9-37 6-37 2-45-5-37-9-37-16-37-23-37-30-30-30-37-45-30-44z"/><path transform="translate(0 -242)" d="M12167 1666l30 43 37 46 30 30 37 30 37 22 37 16 37 10 45 4 37-2 37-5 37-10 44-15 45-18 52-25 222-121 59-29 52-24 60-23 59-19 59-14 59-8 52-3 52 0 52 5 59 10 60 13 59 18 208 71 81 24 45 9 44 6 37 2 37-2 52-9 45-16 44-24 37-27 37-34 37-43 37-51 37-61 17-3-37 61-37 51-37 42-37 34-37 27-44 24-45 16-52 9-37 2-37-3-44-6-45-10-81-24-208-72-59-17-60-14-59-10-52-5-52-1-52 3-59 8-59 14-59 18-60 23-52 24-59 29-222 120-52 24-45 19-44 14-37 10-37 5-37 2-45-5-37-10-37-16-37-22-37-31-30-30-37-45-30-44z"/><path transform="translate(0 -233)" d="M12184 1644l30 44 37 46 30 30 37 30 37 23 37 16 37 9 45 5 37-2 37-5 37-9 44-15 45-19 52-24 222-120 59-29 52-24 60-22 59-19 59-13 59-9 52-3 52 1 52 5 59 10 60 14 59 17 208 72 81 25 45 9 44 7 37 2 37-2 52-9 45-16 44-24 37-27 37-34 37-42 37-51 37-61 17-3-37 60-37 51-37 42-37 34-37 27-44 24-45 15-52 9-37 2-37-2-44-7-45-10-81-25-208-72-59-18-60-14-59-10-52-5-52-2-52 3-59 8-59 14-59 18-60 22-52 23-59 30-222 118-52 25-45 18-44 15-37 9-37 5-37 1-45-4-37-10-37-16-37-23-37-31-30-30-37-46-30-43z"/><path transform="translate(0 -225)" d="M12201 1623l30 43 37 46 30 30 37 31 37 23 37 16 37 10 45 5 37-2 37-5 37-9 44-15 45-18 52-25 222-118 59-29 52-23 60-23 59-18 59-14 59-8 52-2 52 1 52 5 59 10 60 14 59 18 208 73 81 24 45 10 44 7 37 2 37-1 52-9 45-16 44-24 37-27 37-34 37-42 37-51 37-60 17-4-37 60-37 51-37 42-37 34-37 27-44 23-45 16-52 8-37 2-37-3-44-6-45-11-81-24-208-74-59-18-60-14-59-11-52-5-52-2-52 3-59 8-59 13-59 18-60 22-52 23-59 29-222 118-52 24-45 18-44 14-37 9-37 6-37 1-45-5-37-10-37-16-37-24-37-30-30-31-37-46-29-43z"/><path transform="translate(0 -216)" d="M12219 1601l29 44 37 46 30 30 37 31 37 23 37 16 37 10 45 5 37-1 37-6 37-8 44-15 45-18 52-24 222-118 59-29 52-23 60-22 59-18 59-13 59-8 52-2 52 1 52 5 59 11 60 14 59 18 208 74 81 25 45 10 44 7 37 2 37-1 52-9 45-15 44-24 37-27 37-34 37-42 37-50 37-61 18-4-30 49-37 53-30 35-37 37-37 30-37 22-37 17-45 12-37 5-37 1-37-2-44-7-45-10-52-16-222-79-59-19-52-14-60-12-59-8-59-3-59 3-52 6-52 10-52 14-59 21-60 25-59 28-208 109-81 39-45 18-44 14-37 9-37 5-52 0-45-8-44-15-37-21-37-28-37-35-37-44-37-54z"/><path transform="translate(0 -207)" d="M12236 1579l37 54 37 44 37 36 37 27 37 21 44 16 45 7 52 0 37-5 37-9 44-14 45-18 81-39 208-109 59-28 60-25 59-20 52-15 52-10 52-6 59-3 59 3 59 8 60 12 52 14 59 19 222 80 52 15 45 10 44 7 37 3 37-1 37-6 45-12 37-17 37-22 37-30 37-37 30-35 37-52 30-49 17-4-38 60-37 50-37 42-37 33-37 27-44 23-45 15-52 8-37 1-37-3-44-7-45-10-81-26-208-75-59-19-59-15-60-11-52-5-52-2-51 2-60 7-59 13-59 17-60 22-52 23-59 28-222 116-52 24-45 17-44 15-37 8-37 5-37 1-45-5-37-11-37-16-37-24-37-31-30-30-37-47-29-44z"/><path transform="translate(0 -198)" d="M12253 1557l29 44 37 46 30 31 37 31 37 23 37 16 37 11 45 5 37-1 37-5 37-8 44-14 45-18 52-24 222-116 59-28 52-23 60-21 59-18 59-12 60-8 51-2 52 2 52 6 60 11 59 15 59 18 208 75 81 26 45 10 44 8 37 2 37-1 52-8 45-15 44-23 37-27 37-33 37-42 37-50 38-60 17-4-38 59-37 51-37 41-37 34-37 26-44 23-45 14-52 9-37 0-37-2-44-8-45-10-81-26-208-77-59-18-59-15-60-12-52-5-52-3-51 2-60 7-59 13-59 17-60 22-52 22-59 28-222 115-52 23-45 18-44 14-37 8-37 5-37 1-45-6-37-10-37-17-37-23-37-32-30-30-37-47-29-44z"/><path transform="translate(0 -189)" d="M12270 1534l29 44 37 47 30 31 37 31 37 23 37 17 37 10 45 6 37-1 37-5 37-8 44-14 45-17 52-24 222-115 59-28 52-22 60-22 59-17 59-12 60-8 51-1 52 2 52 6 60 11 59 15 59 19 208 76 81 26 45 11 44 7 37 3 37-1 52-8 45-15 44-23 37-26 37-34 37-41 37-51 38-59 17-5-37 60-38 50-37 41-37 34-37 26-44 23-45 14-52 8-37 1-37-3-44-8-45-11-81-26-208-77-59-19-59-15-60-12-52-6-52-2-51 1-60 7-59 12-59 17-60 22-52 22-59 28-222 114-52 23-45 17-44 14-37 8-37 5-37 0-45-5-37-11-37-17-37-23-37-32-30-30-37-47-29-44z"/><path transform="translate(0 -181)" d="M12287 1512l29 44 37 47 30 31 37 31 37 23 37 17 37 11 45 6 37-1 37-5 37-8 44-14 45-17 52-23 222-114 59-28 52-22 60-21 59-17 59-12 60-7 51-2 52 2 52 6 60 12 59 15 59 19 208 77 81 27 45 11 44 7 37 3 37-1 52-8 45-14 44-23 37-26 37-33 37-42 38-50 37-59 17-5-30 49-37 51-30 35-37 37-37 28-37 22-37 16-45 12-37 5-37 0-37-3-44-8-45-11-52-16-222-83-59-20-52-15-59-13-60-9-59-4-59 2-52 5-52 10-52 13-59 19-60 24-59 27-208 106-81 38-45 17-44 13-37 8-37 5-52-1-45-8-44-17-37-21-37-28-37-36-37-45-37-55z"/><path transform="translate(0 -172)" d="M12304 1489l37 55 37 45 37 36 37 28 37 21 44 17 45 8 52 1 37-5 37-8 44-13 45-17 81-38 208-106 59-27 60-23 59-20 52-13 52-10 52-5 59-2 59 4 60 9 59 13 52 15 59 20 222 83 52 16 45 11 44 8 37 3 37 0 37-5 45-12 37-15 37-22 37-29 37-37 30-35 37-51 30-49 17-4-30 48-37 52-30 35-37 36-37 28-37 22-37 16-44 12-38 4-37 0-37-3-44-8-45-11-52-17-222-84-59-20-52-15-59-13-60-9-59-4-59 1-52 5-52 9-52 13-59 20-60 23-59 27-208 105-81 37-45 17-44 13-37 8-37 5-52-1-45-9-44-17-37-21-37-28-37-37-37-45-37-54z"/><path transform="translate(0 -163)" d="M12321 1467l37 54 37 46 37 36 37 28 37 21 44 17 45 9 52 1 37-5 37-7 44-14 45-17 81-37 208-105 59-27 60-23 59-19 52-14 52-9 52-5 59-1 59 4 60 9 59 13 52 15 59 20 222 85 52 16 45 11 44 8 37 3 37 0 38-4 44-12 37-16 37-21 37-29 37-36 30-35 37-52 30-48 17-4-30 48-37 51-30 35-37 36-37 28-37 22-37 16-44 11-38 4-37 1-37-4-44-8-45-11-52-17-222-85-59-20-52-16-59-13-60-10-59-4-59 1-52 5-52 9-52 13-59 19-60 23-59 27-208 104-81 37-45 16-44 14-37 7-37 4-52-1-45-8-44-17-37-22-37-28-37-37-37-45-37-55z"/><path transform="translate(0 -154)" d="M12338 1444l37 55 37 45 37 37 37 28 37 22 44 17 45 8 52 2 37-5 37-7 44-14 45-16 81-37 208-104 59-27 60-23 59-19 52-13 52-9 52-5 59-1 59 5 60 9 59 14 52 15 59 20 222 85 52 17 45 11 44 8 37 4 37 0 38-5 44-11 37-16 37-21 37-29 37-36 30-35 37-51 30-48 17-4-37 59-37 49-38 41-37 32-37 26-44 22-45 14-52 7-37 0-37-4-44-8-45-12-81-27-208-81-59-20-59-16-60-13-52-7-51-3-52 1-60 6-59 11-59 16-60 20-51 21-60 27-222 111-52 22-45 17-44 13-37 7-37 4-37 0-45-6-37-11-37-18-37-24-37-32-30-31-37-48-29-44z"/><path transform="translate(0 -145)" d="M12355 1422l29 45 37 47 30 31 37 32 37 24 37 18 37 11 45 6 37 1 37-4 37-8 44-13 45-17 52-22 222-110 60-27 51-21 60-21 59-16 59-11 60-6 52-1 51 4 52 7 60 12 59 16 59 20 208 81 81 28 45 11 44 8 37 4 37 0 52-7 45-14 44-22 37-25 37-33 38-41 37-49 37-59 17-5-37 59-37 50-38 40-37 33-37 25-44 22-45 14-52 6-37 0-37-3-44-9-45-12-81-28-208-81-59-20-59-17-60-13-52-7-51-3-52 0-60 6-59 11-59 15-60 21-51 21-60 26-222 110-52 22-45 16-44 13-37 7-37 4-37 0-45-6-37-12-37-18-37-24-37-32-30-31-37-48-29-45z"/><path transform="translate(0 -136)" d="M12372 1399l29 45 37 48 30 31 37 32 37 25 37 17 37 12 45 6 37 1 37-4 37-8 44-13 45-16 52-22 222-110 60-26 51-21 60-20 59-16 59-11 60-5 52-1 51 3 52 8 60 12 59 17 59 20 208 81 81 28 45 12 44 9 37 3 37 1 52-7 45-14 44-22 37-25 37-33 38-40 37-49 37-59 17-4-30 47-37 51-30 35-37 35-37 28-37 21-37 15-44 11-37 4-38 0-37-4-44-9-45-12-51-17-223-88-59-21-52-16-59-14-60-10-59-5-59 0-52 4-52 9-52 12-59 18-60 23-59 25-207 102-82 36-44 16-45 13-37 7-37 4-52-2-44-10-45-17-37-22-37-29-37-37-37-46-37-55z"/><path transform="translate(0 -128)" d="M12389 1377l37 55 37 46 37 37 37 29 37 22 45 18 44 9 52 2 37-4 37-7 45-13 44-16 82-36 207-101 59-26 60-23 59-18 52-12 52-9 52-4 59 0 59 5 60 10 59 14 52 16 59 21 223 88 51 18 45 12 44 8 37 4 38 0 37-3 44-11 37-15 37-22 37-28 37-35 30-34 37-52 30-47 17-4-37 58-37 49-37 41-38 32-37 25-44 21-45 14-51 6-38 0-37-4-44-9-45-12-81-29-208-83-59-21-59-17-60-13-51-8-52-4-52 0-60 6-59 10-59 15-60 20-51 20-60 26-222 108-52 22-44 16-45 12-37 7-37 4-37-1-45-7-37-11-37-18-37-25-37-32-30-32-37-48-29-45z"/><path transform="translate(0 -119)" d="M12406 1355l29 45 37 48 30 32 37 32 37 25 37 18 37 12 45 6 37 1 37-4 37-7 45-12 44-16 52-22 222-107 60-27 51-20 60-20 59-15 59-10 60-5 52-1 52 4 51 8 60 13 59 17 59 21 208 83 81 29 45 12 44 9 37 4 38 0 51-6 45-13 44-22 37-25 38-32 37-40 37-49 37-59 17-4-37 59-37 49-37 40-38 32-37 25-44 21-45 13-51 6-38 0-37-5-44-9-45-12-81-29-208-84-59-21-59-17-60-14-51-8-52-4-52 0-60 5-59 10-59 15-59 20-52 20-60 26-222 106-52 22-44 16-45 12-37 7-37 3-37 0-45-7-37-12-37-18-37-25-37-33-30-32-37-48-29-45z"/><path transform="translate(0 -110)" d="M12423 1333l29 46 37 47 30 32 37 33 37 25 37 18 37 12 45 7 37 1 37-4 37-7 45-12 44-16 52-22 222-106 60-26 52-20 59-20 59-15 59-10 60-5 52 0 52 5 51 7 60 14 59 17 59 21 208 84 81 29 45 13 44 9 37 4 38 0 51-6 45-13 44-21 37-25 38-32 37-40 37-49 37-58 17-4-37 58-37 49-37 40-38 32-37 25-44 21-45 13-51 6-37-1-38-5-44-9-45-12-81-30-208-85-59-21-59-17-60-14-51-8-52-4-52-1-60 5-59 10-59 14-59 20-52 20-60 25-222 106-52 21-44 16-45 12-37 7-37 3-37-1-45-7-37-12-37-18-37-25-37-33-30-32-37-48-29-45z"/><path transform="translate(0 -101)" d="M12440 1312l29 45 37 48 30 32 37 33 37 25 37 18 37 12 45 8 37 0 37-3 37-7 45-12 44-15 52-22 222-105 60-26 52-20 59-19 59-15 59-10 60-4 52 0 52 4 51 8 60 14 59 17 59 22 208 85 81 29 45 12 44 10 38 4 37 1 51-6 45-13 44-21 37-25 38-32 37-40 37-49 37-58 17-3-37 58-37 49-37 40-37 31-38 25-44 21-45 12-51 6-37-1-38-4-44-10-44-12-82-30-208-86-59-21-59-18-60-14-51-8-52-5-52 0-60 4-59 10-59 14-59 19-52 20-60 25-222 105-52 21-44 16-45 12-37 6-37 3-37-1-45-7-37-12-37-19-37-25-37-33-29-32-38-48-29-46z"/><path transform="translate(0 -92)" d="M12457 1291l29 45 38 48 29 32 37 33 37 25 37 19 37 12 45 7 37 2 37-4 37-6 45-12 44-16 52-21 222-105 60-25 52-20 59-19 59-14 59-10 60-4 52 0 52 5 51 8 60 14 59 18 59 21 208 86 82 30 44 13 44 9 38 4 37 1 51-5 45-13 44-21 38-24 37-32 37-40 37-49 37-58 17-3-37 58-37 49-37 39-37 32-38 25-44 20-44 13-52 5-37-1-38-5-44-9-44-13-82-30-208-87-59-21-59-18-60-15-51-8-52-5-52-1-60 5-59 9-59 14-59 19-52 19-60 26-222 103-52 21-44 16-45 11-37 7-37 3-37-1-45-8-37-13-37-18-37-25-37-33-29-33-38-48-29-46z"/><path transform="translate(0 -84)" d="M12474 1270l29 45 38 49 29 32 37 33 37 25 37 19 37 12 45 8 37 1 37-3 37-7 45-11 44-15 52-21 222-104 60-25 52-20 59-19 59-14 59-9 60-4 52 0 52 5 51 9 60 14 59 18 59 21 208 87 82 30 44 13 44 10 38 4 37 1 52-5 44-13 44-20 38-25 37-31 37-40 37-48 37-58 17-3-30 47-37 50-30 34-37 35-37 27-37 20-37 14-44 10-37 3-37-2-38-4-44-10-44-13-52-19-223-93-59-23-52-17-59-16-60-11-59-7-59-1-52 3-52 7-52 11-59 17-59 20-60 25-207 96-82 34-44 15-45 11-37 7-37 3-52-4-44-10-45-19-37-22-37-30-37-38-37-47-37-56z"/><path transform="translate(0 -75)" d="M12491 1249l37 56 37 47 37 38 37 30 37 23 45 18 44 11 52 3 37-3 37-6 45-12 44-15 82-34 207-96 60-24 59-21 59-17 52-11 52-7 52-3 59 1 59 7 60 11 59 16 52 17 59 23 223 93 52 19 44 13 44 10 38 5 37 1 37-3 44-10 37-14 37-20 37-27 37-35 30-33 37-51 30-47 17-2-37 58-37 48-37 39-37 32-37 24-45 20-44 12-52 5-37-1-37-5-45-10-44-13-82-31-208-88-59-22-59-19-59-15-52-9-52-5-52-1-59 4-60 9-59 13-59 18-52 20-60 24-222 102-52 21-44 15-45 11-37 6-37 3-37-2-45-8-37-12-37-19-37-26-37-33-29-33-38-48-29-46z"/><path transform="translate(0 -66)" d="M12508 1229l29 46 38 48 29 33 37 33 37 26 37 19 37 12 45 9 37 1 37-3 37-6 45-11 44-15 52-21 222-102 60-24 52-19 59-19 59-13 60-9 59-4 52 1 52 6 52 9 59 14 59 19 59 22 208 88 82 31 44 13 45 10 37 5 37 2 52-5 44-13 45-20 37-24 37-31 37-40 37-48 37-57 17-2-37 57-37 48-37 40-37 31-37 24-45 20-44 12-52 5-37-2-37-5-45-10-44-14-82-31-208-89-59-22-59-19-59-15-52-9-52-6-52-1-59 3-60 9-59 13-59 18-52 19-60 25-222 101-52 20-44 15-45 11-37 6-37 2-37-1-44-8-38-13-37-19-37-26-37-33-29-33-37-49-30-46z"/><path transform="translate(0 -57)" d="M12525 1209l30 46 37 49 29 33 37 33 37 26 37 19 38 13 44 8 37 2 37-3 37-6 45-11 44-15 52-20 222-101 60-24 52-19 59-18 59-14 60-8 59-4 52 2 52 5 52 9 59 15 59 19 59 22 208 90 82 31 44 13 45 10 37 5 37 2 52-5 44-12 45-20 37-24 37-31 37-39 37-48 37-58 17-1-37 57-37 48-37 39-37 31-37 24-45 20-44 12-52 4-37-1-37-6-45-10-44-14-82-31-208-90-59-23-59-19-59-15-52-9-52-6-52-2-59 4-60 8-59 13-59 18-52 19-60 24-222 100-52 20-44 14-45 11-37 6-37 3-37-2-44-9-38-13-37-19-37-26-37-33-29-33-37-49-30-46z"/><path transform="translate(0 -48)" d="M12542 1190l30 46 37 49 29 33 37 33 37 26 37 20 38 13 44 8 37 2 37-2 37-6 45-11 44-15 52-20 222-100 60-24 52-19 59-18 59-13 60-8 59-3 52 1 52 6 52 9 59 15 59 20 59 22 208 90 82 32 44 13 45 11 37 5 37 2 52-5 44-12 45-20 37-24 37-31 37-39 37-47 37-58 17 0-37 57-37 47-37 39-37 31-37 24-45 20-44 11-52 5-37-2-37-6-45-10-44-14-82-32-208-91-59-23-59-19-59-15-52-10-52-6-52-2-59 3-60 8-59 13-59 18-52 18-60 24-222 99-52 20-44 15-45 10-37 6-37 2-37-2-44-8-38-13-37-20-37-26-37-34-29-32-37-50-30-46z"/><path transform="translate(0 -40)" d="M12559 1171l30 47 37 49 29 33 37 33 37 26 37 20 38 13 44 9 37 2 37-3 37-5 45-11 44-15 52-19 222-100 60-24 52-18 59-17 59-13 60-8 59-3 52 1 52 6 52 10 59 15 59 20 59 22 208 91 82 32 44 14 45 11 37 5 37 2 52-5 44-11 45-20 37-24 37-30 37-39 37-48 37-57 17 0-30 46-37 50-29 33-38 33-37 27-37 19-37 14-44 8-37 2-37-2-37-5-45-11-44-14-52-20-223-98-59-23-52-19-59-17-59-13-60-7-59-3-52 2-52 6-52 10-59 15-59 20-60 23-207 92-82 32-44 14-45 11-37 6-37 2-52-5-44-11-45-20-37-23-37-31-37-39-37-47-37-57z"/><path transform="translate(0 -31)" d="M12576 1153l37 57 37 48 37 38 37 31 37 24 45 19 44 11 52 5 37-2 37-6 45-11 44-14 82-32 207-92 60-23 59-19 59-16 52-10 52-6 52-2 59 3 60 8 59 12 59 18 52 18 59 23 223 99 52 19 44 14 45 11 37 6 37 2 37-2 44-9 37-14 37-19 37-26 38-34 29-33 37-50 30-46 17 1-37 56-37 48-37 38-37 31-37 23-45 20-44 11-52 4-37-2-37-6-45-11-44-14-82-33-207-92-60-24-59-20-59-15-52-11-52-6-52-2-59 2-60 8-59 12-59 17-52 18-59 24-223 97-52 20-44 14-45 10-37 5-37 2-37-2-44-9-37-13-38-20-37-27-37-34-29-33-37-49-30-47z"/><path transform="translate(0 -22)" d="M12593 1136l30 46 37 50 29 33 37 34 37 26 38 20 37 13 44 9 37 3 37-2 37-6 45-10 44-14 52-20 223-97 59-23 52-18 59-17 59-13 60-7 59-3 52 2 52 7 52 10 59 16 59 20 60 23 207 93 82 32 44 14 45 11 37 6 37 2 52-4 44-11 45-20 37-23 37-30 37-39 37-47 37-57 17 1-37 57-37 47-37 38-37 31-37 23-45 19-44 11-52 4-37-3-37-5-45-11-44-15-82-33-207-93-60-24-59-20-59-16-52-10-52-7-52-2-59 2-60 7-59 12-59 17-52 18-59 23-223 96-52 20-44 13-45 11-37 5-37 2-37-3-44-9-37-14-38-19-37-27-37-34-29-33-37-50-30-47z"/><path transform="translate(0 -13)" d="M12610 1119l30 46 37 50 29 33 37 34 37 27 38 20 37 13 44 9 37 3 37-2 37-5 45-10 44-14 52-19 223-97 59-23 52-18 59-16 59-13 60-7 59-2 52 2 52 7 52 10 59 16 59 20 60 24 207 94 82 32 44 15 45 11 37 6 37 2 52-4 44-11 45-19 37-23 37-31 37-38 37-47 37-57 17 2-30 46-37 49-29 32-37 34-38 26-37 19-37 12-44 9-37 1-37-2-37-6-45-11-44-15-52-20-223-101-59-25-52-19-59-18-59-13-60-9-59-3-52 1-52 6-52 9-59 15-59 19-60 22-207 89-82 31-44 14-45 10-37 5-37 2-52-5-44-12-45-20-37-24-37-31-37-40-37-47-37-58z"/><path transform="translate(0 -4)" d="M12627 1102l37 58 37 48 37 39 37 31 37 24 45 20 44 12 52 5 37-2 37-5 45-10 44-13 82-31 207-90 60-22 59-19 59-15 52-9 52-5 52-2 59 4 60 8 59 14 59 18 52 18 59 25 223 101 52 20 44 15 45 11 37 6 37 3 37-2 44-8 37-13 37-19 38-26 37-33 29-33 37-49 30-46 17 2-37 57-37 47-37 38-37 30-37 23-45 19-44 10-52 4-37-3-37-6-45-12-44-14-82-34-207-95-60-24-59-21-59-17-52-10-52-7-52-3-59 2-60 6-59 12-59 16-52 18-59 22-223 95-52 19-44 13-45 10-37 5-37 1-37-2-44-10-37-14-37-20-38-27-37-34-29-34-37-50-30-47z"/></g></g><path class="a" stroke-width="1.3" d="M1264.4 230.8L1486.8 188M1264.4 230.8L1094.2 175.5M1264.4 230.8l5.9 1.9M1286.6 226.5l5.9 1.9M1308.9 222.2l5.9 1.9M1331.1 218l5.9 1.9M1353.4 213.7l5.9 1.9M1375.6 209.4l5.9 1.9M1397.8 205.1l5.9 1.9M1420.1 200.8l5.9 1.9M1442.3 196.6l5.9 1.9M1464.6 192.3l5.9 1.9M1486.8 188l5.9 1.9M1264.4 230.8l-6.1 1.2M1247.4 225.3l-6.1 1.2M1230.4 219.7l-6.1 1.2M1213.3 214.2l-6.1 1.2M1196.3 208.7l-6.1 1.2M1179.3 203.2l-6.1 1.2M1162.3 197.6l-6.1 1.2M1145.3 192.1l-6.1 1.2M1128.2 186.6l-6.1 1.2M1111.2 181l-6.1 1.2M1094.2 175.5l-6.1 1.2"/><path fill="none" stroke="#444" stroke-width="1.5" d="M1094.2 175.5L1094.2 53.8"/><path class="t" d="M1094.2 175.5l-5.9 -1.9M1094.2 152.2l-5.9 -1.9M1094.2 129l-5.9 -1.9M1094.2 105.7l-5.9 -1.9M1094.2 82.5l-5.9 -1.9M1094.2 59.2l-5.9 -1.9"/><text transform="translate(1290.5 6.58) scale(.56 1)" font-size="9.67" text-anchor="middle" font-weight="bold">Parameter space</text><text transform="translate(1272.08 242.79) scale(.56 1)" font-size="8.79">-1</text><text transform="translate(1294.32 238.51) scale(.56 1)" font-size="8.79">-0.8</text><text transform="translate(1316.56 234.23) scale(.56 1)" font-size="8.79">-0.6</text><text transform="translate(1338.8 229.95) scale(.56 1)" font-size="8.79">-0.4</text><text transform="translate(1361.04 225.67) scale(.56 1)" font-size="8.79">-0.2</text><text transform="translate(1383.28 221.39) scale(.56 1)" font-size="8.79">0</text><text transform="translate(1405.52 217.11) scale(.56 1)" font-size="8.79">0.2</text><text transform="translate(1427.76 212.83) scale(.56 1)" font-size="8.79">0.4</text><text transform="translate(1450 208.55) scale(.56 1)" font-size="8.79">0.6</text><text transform="translate(1472.24 204.27) scale(.56 1)" font-size="8.79">0.8</text><text transform="translate(1257.28 242.01) scale(.56 1)" font-size="8.79" text-anchor="end">-1</text><text transform="translate(1240.26 236.48) scale(.56 1)" font-size="8.79" text-anchor="end">-0.8</text><text transform="translate(1223.24 230.95) scale(.56 1)" font-size="8.79" text-anchor="end">-0.6</text><text transform="translate(1206.22 225.42) scale(.56 1)" font-size="8.79" text-anchor="end">-0.4</text><text transform="translate(1189.2 219.89) scale(.56 1)" font-size="8.79" text-anchor="end">-0.2</text><text transform="translate(1172.18 214.36) scale(.56 1)" font-size="8.79" text-anchor="end">0</text><text transform="translate(1155.16 208.83) scale(.56 1)" font-size="8.79" text-anchor="end">0.2</text><text transform="translate(1138.14 203.3) scale(.56 1)" font-size="8.79" text-anchor="end">0.4</text><text transform="translate(1121.12 197.77) scale(.56 1)" font-size="8.79" text-anchor="end">0.6</text><text transform="translate(1104.1 192.24) scale(.56 1)" font-size="8.79" text-anchor="end">0.8</text><text transform="translate(1087.08 186.71) scale(.56 1)" font-size="8.79" text-anchor="end">1</text><text transform="translate(1086.86 177.17) scale(.56 1)" font-size="8.79" text-anchor="end">-2</text><text transform="translate(1086.86 153.92) scale(.56 1)" font-size="8.79" text-anchor="end">-1</text><text transform="translate(1086.86 130.66) scale(.56 1)" font-size="8.79" text-anchor="end">0</text><text transform="translate(1086.86 107.41) scale(.56 1)" font-size="8.79" text-anchor="end">1</text><text transform="translate(1086.86 84.15) scale(.56 1)" font-size="8.79" text-anchor="end">2</text><text transform="translate(1086.86 60.9) scale(.56 1)" font-size="8.79" text-anchor="end">3</text><text transform="translate(1342.33 252.08) scale(.56 1)" font-size="9.67" text-anchor="middle">x<tspan dy="4.06" font-size="7.74">1</tspan></text><text transform="translate(1198.73 249.98) scale(.56 1)" font-size="9.67" text-anchor="middle">x<tspan dy="4.06" font-size="7.74">2</tspan></text><text transform="translate(1077.28 114.7) scale(.56 1) rotate(-90)" font-size="10.64" text-anchor="middle">F16( x<tspan dy="3.19" font-size="8.51">1</tspan><tspan dy="-3.19"> , x</tspan><tspan dy="3.19" font-size="8.51">2</tspan><tspan dy="-3.19"> )</tspan></text><text class="b" x="1199.4" y="358.9">F16</text></g>
<g id="F17"><path class="g" d="M1786.8 230.8L1636 175.2M1806.4 226.5L1655.6 170.9M1826 222.2L1675.2 166.6M1845.5 218L1694.7 162.4M1865.1 213.7L1714.3 158.1M1884.7 209.4L1733.9 153.8M1904.3 205.1L1753.5 149.5M1923.9 200.8L1773.1 145.2M1943.4 196.6L1792.6 141M1963 192.3L1812.2 136.7M1982.6 188L1831.8 132.4M1786.8 230.8L1982.6 188M1771.7 225.2L1967.5 182.4M1756.6 219.7L1952.4 176.9M1741.6 214.1L1937.4 171.3M1726.5 208.6L1922.3 165.8M1711.4 203L1907.2 160.2M1696.3 197.4L1892.1 154.6M1681.2 191.9L1877 149.1M1666.2 186.3L1862 143.5M1651.1 180.8L1846.9 138M1636 175.2L1831.8 132.4M1636 175.2L1831.8 132.4M1831.8 132.4L1982.6 188M1636 151.2L1831.8 108.4M1831.8 108.4L1982.6 164M1636 127.3L1831.8 84.5M1831.8 84.5L1982.6 140.1M1636 103.3L1831.8 60.5M1831.8 60.5L1982.6 116.1M1636 79.4L1831.8 36.6M1831.8 36.6L1982.6 92.2M1636 55.4L1831.8 12.6M1831.8 12.6L1982.6 68.2"/><path class="v" d="M1636 175.2L1636 54.2M1655.6 170.9L1655.6 50M1675.2 166.6L1675.2 45.7M1694.7 162.4L1694.7 41.4M1714.3 158.1L1714.3 37.1M1733.9 153.8L1733.9 32.8M1753.5 149.5L1753.5 28.6M1773.1 145.2L1773.1 24.3M1792.6 141L1792.6 20M1812.2 136.7L1812.2 15.7M1831.8 132.4L1831.8 11.4M1982.6 188L1982.6 67M1967.5 182.4L1967.5 61.5M1952.4 176.9L1952.4 55.9M1937.4 171.3L1937.4 50.4M1922.3 165.8L1922.3 44.8M1907.2 160.2L1907.2 39.2M1892.1 154.6L1892.1 33.7M1877 149.1L1877 28.1M1862 143.5L1862 22.6M1846.9 138L1846.9 17M1831.8 132.4L1831.8 11.4"/><g transform="scale(.1)"><g class="k"><path stroke="#ff250d" d="M19531 1771l-141 10-109 6-144 6-117 3-210 1-6-1-80 0-143-3-68 0-8-1-164 0-163 3-143 5-67 3-2 1-42 1-41 3-19 0-361 20-19 2-255 13-126 5-117 3-129 1-9-1-84-1-111-7-71-9M16422 1775l-20-19-9-11"/><path stroke="#ff3d0e" d="M19694 1831l-259 26-319 28-255 19-241 14-183 8-218 6-438 5-249 5-306 10-291 12"/><path stroke="#ff550e" d="M19804 1872l-499 52-335 32-327 28-131 10-13 0-129 9-2 1-284 16-282 11-648 14"/><path stroke="#ff6d0e" d="M19533 1944l-390 41-49 4-234 24-124 11-12 2-257 23-57 4-13 2-188 15-239 17-14 0-188 12-235 11-185 6"/><path stroke="#ff850e" d="M19196 2018l-350 36-49 4-122 13-9 0-41 5-198 18-12 2-174 15-1 1-263 22-237 18-13 0-106 8-134 8"/><path stroke="#ff9d0f" d="M18894 2084l-462 47-186 17-74 8-163 14-12 2-113 9-13 2-281 22"/><path stroke="#ffb50f" d="M18616 2144l-458 47-486 45"/><path stroke="#ffcd0f" d="M18359 2201l-617 61"/><path stroke="#ffe510" d="M18118 2253l-31 4-49 4-233 24"/><path stroke="#fffd10" d="M17890 2303l-28 3"/></g><g fill="url(#G17)" stroke="url(#G17)" stroke-width="5" stroke-linejoin="round"><path transform="translate(0 -881)" d="M16360 2509l241-20 249-27 248-36 241-41 241-49 248-58 242-64 248-73 15 9-241 71-248 65-242 56-248 50-248 43-241 34-248 27-242 19z"/><path transform="translate(0 -872)" d="M16375 2507l242-20 248-27 241-34 248-42 248-51 242-56 248-65 241-71 15 8-248 73-241 63-242 56-248 50-241 41-248 35-248 27-242 19z"/><path transform="translate(0 -863)" d="M16390 2504l242-19 248-27 248-34 241-42 248-50 242-56 241-63 248-72 15 8-248 72-241 63-248 58-242 48-241 41-248 35-242 26-248 19z"/><path transform="translate(0 -855)" d="M16405 2502l248-19 242-26 248-35 241-41 242-48 248-57 241-63 248-73 15 9-248 72-241 63-248 57-242 48-248 42-241 33-248 26-242 19z"/><path transform="translate(0 -846)" d="M16420 2500l242-18 248-27 241-33 248-42 242-48 248-57 241-63 248-72 15 8-248 72-241 63-248 57-242 47-248 42-241 33-242 26-248 19z"/><path transform="translate(0 -837)" d="M16435 2498l248-19 242-26 241-33 248-41 242-48 248-57 241-63 248-71 15 8-248 72-241 62-248 56-242 48-241 40-248 34-242 26-248 18z"/><path transform="translate(0 -828)" d="M16450 2495l248-18 242-26 248-34 241-40 242-47 248-57 241-62 248-72 16 9-248 71-242 62-248 56-241 48-248 41-242 32-241 25-248 19z"/><path transform="translate(0 -819)" d="M16466 2493l248-19 241-25 242-32 248-41 241-48 248-56 242-62 248-71 15 8-248 71-242 62-241 55-248 48-242 40-248 33-248 25-241 18z"/><path transform="translate(0 -810)" d="M16481 2490l241-17 248-26 248-33 242-40 248-48 241-55 242-62 248-71 15 9-242 69-248 63-248 55-241 47-242 40-248 32-241 25-248 18z"/><path transform="translate(0 -801)" d="M16496 2487l248-18 241-24 248-33 242-40 241-46 248-56 248-63 242-69 15 8-248 70-242 62-248 55-241 46-248 40-242 32-241 24-248 18z"/><path transform="translate(0 -793)" d="M16511 2484l248-18 241-24 242-32 248-40 241-46 248-55 242-61 248-71 15 8-242 69-248 62-241 54-248 47-248 40-242 31-248 25-241 16z"/><path transform="translate(0 -784)" d="M16526 2480l241-16 248-25 242-31 248-40 248-47 241-54 248-62 242-68 15 7-248 70-242 61-241 53-248 47-248 39-242 31-248 24-241 16z"/><path transform="translate(0 -775)" d="M16541 2477l241-17 248-24 242-31 248-39 248-47 241-53 242-61 248-69 15 7-248 70-241 60-248 54-242 45-241 38-248 32-242 23-248 16z"/><path transform="translate(0 -766)" d="M16556 2473l248-17 242-23 248-32 241-38 242-45 248-54 241-60 248-69 15 7-241 67-248 62-242 52-248 47-248 38-241 30-248 24-242 15z"/><path transform="translate(0 -757)" d="M16571 2468l242-15 248-24 241-30 248-38 248-47 242-52 248-61 241-68 15 8-248 68-241 60-242 52-248 46-241 37-248 30-248 23-242 15z"/><path transform="translate(0 -748)" d="M16586 2464l242-15 248-23 248-31 241-37 248-46 242-52 241-60 248-68 15 7-248 68-241 59-248 53-242 44-241 37-248 30-242 22-248 15z"/><path transform="translate(0 -740)" d="M16601 2459l248-15 242-23 248-30 241-37 242-44 248-53 241-59 248-68 15 7-248 68-241 58-242 52-248 45-241 36-248 30-242 22-248 14z"/><path transform="translate(0 -731)" d="M16616 2453l248-14 242-22 248-30 241-36 248-45 242-51 241-59 248-67 15 6-248 68-241 58-248 52-242 43-241 36-248 29-248 22-242 14z"/><path transform="translate(0 -722)" d="M16631 2448l242-14 248-22 248-29 241-36 242-43 248-52 241-58 248-67 16 6-248 67-242 57-248 52-241 43-242 35-248 29-241 21-248 14z"/><path transform="translate(0 -713)" d="M16647 2442l248-14 241-21 248-29 242-35 241-43 248-51 242-58 248-67 15 7-248 66-242 57-248 51-241 42-242 35-248 29-248 20-241 13z"/><path transform="translate(0 -704)" d="M16662 2435l241-12 248-21 248-29 242-35 241-42 248-51 242-57 248-66 15 6-242 64-248 58-241 50-248 43-248 35-242 27-248 20-241 13z"/><path transform="translate(0 -695)" d="M16677 2429l241-13 248-20 242-27 248-35 248-43 241-50 248-58 242-64 15 6-248 65-242 56-248 50-241 42-248 34-242 27-241 19-248 13z"/><path transform="translate(0 -686)" d="M16692 2422l248-13 241-19 242-26 248-35 241-42 248-50 242-56 248-65 15 6-248 64-242 56-241 48-248 42-248 35-242 26-241 18-248 12z"/><path transform="translate(0 -678)" d="M16707 2414l248-11 241-19 242-26 248-35 248-42 241-48 242-55 248-65 15 5-242 63-248 57-241 47-248 42-248 34-242 25-248 19-241 10z"/><path transform="translate(0 -669)" d="M16722 2407l241-11 248-19 242-25 248-34 248-42 241-47 248-57 242-62 15 5-248 63-241 55-249 48-241 40-241 32-249 26-241 18-248 10z"/><path transform="translate(0 -660)" d="M16737 2398l248-10 241-18 249-25 241-33 241-40 249-48 241-54 248-64 15 5-248 63-241 54-248 48-242 39-241 32-248 25-242 17-248 10z"/><path transform="translate(0 -651)" d="M16752 2390l248-10 242-17 248-25 241-32 242-39 248-48 241-54 248-63 15 5-248 62-241 54-248 47-242 39-241 31-248 24-248 17-242 9z"/><path transform="translate(0 -642)" d="M16767 2381l242-9 248-16 248-25 241-31 242-39 248-47 241-53 248-63 15 5-248 62-241 52-242 46-248 39-241 31-248 24-248 16-242 8z"/><path transform="translate(0 -633)" d="M16782 2372l242-8 248-16 248-24 241-31 248-39 242-45 241-53 248-62 15 5-248 61-241 52-242 45-248 38-248 31-241 23-242 15-248 8z"/><path transform="translate(0 -624)" d="M16797 2363l248-8 242-15 241-23 248-31 248-38 242-45 241-52 248-61 15 4-248 61-241 51-248 45-242 37-248 30-241 22-242 15-248 7z"/><path transform="translate(0 -616)" d="M16812 2354l248-8 242-15 241-22 248-30 242-36 248-46 241-51 248-61 15 5-241 58-248 52-242 44-248 37-248 29-241 22-248 14-242 7z"/><path transform="translate(0 -607)" d="M16827 2344l242-7 248-14 241-21 248-30 248-37 242-44 248-52 241-58 16 4-248 59-242 50-241 43-248 37-242 28-248 21-241 13-248 7z"/><path transform="translate(0 -598)" d="M16843 2334l248-6 241-14 248-21 242-28 248-37 241-43 242-50 248-59 15 4-248 58-242 50-241 42-248 36-242 28-248 20-241 13-248 5z"/><path transform="translate(0 -589)" d="M16858 2324l248-6 241-13 248-20 242-28 248-36 241-42 242-49 248-59 15 4-242 56-248 51-241 41-248 35-242 27-248 20-241 12-248 5z"/><path transform="translate(0 -580)" d="M16873 2313l248-5 241-12 248-20 242-26 248-36 241-41 248-50 242-57 15 4-248 57-242 48-248 42-241 34-242 26-248 19-248 11-241 4z"/><path transform="translate(0 -571)" d="M16888 2302l241-3 248-12 248-19 242-26 241-34 248-41 242-49 248-57 15 4-248 57-242 47-248 41-241 33-242 25-248 19-241 10-248 3z"/><path transform="translate(0 -562)" d="M16903 2292l248-4 241-10 248-19 242-25 241-33 248-41 242-47 248-57 15 4-248 56-242 46-248 41-241 32-242 24-248 18-248 10-241 3z"/><path transform="translate(0 -554)" d="M16918 2281l241-3 248-10 248-17 242-25 241-32 248-40 242-47 248-56 15 4-248 55-241 46-242 39-248 32-241 24-248 17-242 9-248 1z"/><path transform="translate(0 -545)" d="M16933 2270l248-2 242-9 248-17 241-24 248-32 242-39 241-46 248-55 15 4-241 53-248 46-248 39-242 31-241 23-248 16-242 8-248 1z"/><path transform="translate(0 -536)" d="M16948 2258l248-1 242-8 248-16 241-23 242-31 248-38 248-47 241-53 15 4-248 53-241 45-242 37-248 31-248 22-241 15-242 8-248 0z"/><path transform="translate(0 -527)" d="M16963 2247l248 0 242-8 241-14 248-23 248-31 242-37 241-44 248-54 15 4-241 51-248 45-242 37-248 29-248 22-241 14-248 7-242 0z"/><path transform="translate(0 -518)" d="M16978 2236l242 0 248-6 241-14 248-22 248-30 242-36 248-45 241-51 15 4-241 50-248 44-248 36-242 28-241 21-248 14-242 6-248-2z"/><path transform="translate(0 -509)" d="M16993 2224l248 2 242-6 248-14 241-21 242-28 248-36 248-44 241-50 15 4-248 50-241 42-242 35-248 28-241 20-248 13-242 5-248-2z"/><path transform="translate(0 -500)" d="M17008 2213l248 2 242-5 248-13 241-20 248-28 242-34 241-42 248-51 16 4-248 50-242 41-241 34-248 27-242 19-248 12-241 4-248-3z"/><path transform="translate(0 -492)" d="M17024 2201l248 3 241-4 248-12 242-19 248-27 241-34 242-41 248-50 15 4-242 48-248 42-241 33-248 26-242 18-248 11-241 4-248-4z"/><path transform="translate(0 -483)" d="M17039 2190l248 4 241-4 248-11 242-18 248-26 241-33 248-42 242-47 15 4-248 48-242 39-248 33-241 25-242 17-248 10-241 3-248-5z"/><path transform="translate(0 -474)" d="M17054 2178l248 5 241-2 248-11 242-17 241-25 248-32 242-40 248-48 15 5-242 46-248 39-248 32-241 24-242 16-248 10-241 1-248-6z"/><path transform="translate(0 -465)" d="M17069 2167l248 5 241-1 248-10 242-16 241-24 248-32 248-39 242-46 15 4-242 45-248 39-248 31-241 23-242 15-248 9-241 1-248-7z"/><path transform="translate(0 -456)" d="M17084 2155l248 7 241-1 248-8 242-16 241-23 248-31 248-39 242-45 15 5-248 45-242 37-241 29-248 23-242 15-248 7-241 0-248-8z"/><path transform="translate(0 -447)" d="M17099 2143l248 8 241 0 248-7 242-15 248-23 241-29 242-37 248-45 15 5-241 43-249 37-248 29-241 21-248 14-241 6-249-1-241-9z"/><path transform="translate(0 -438)" d="M17114 2132l241 8 249 1 241-6 248-14 241-21 248-29 249-37 241-43 15 5-241 42-248 36-242 28-248 20-248 13-241 5-248-2-242-9z"/><path transform="translate(0 -430)" d="M17129 2120l242 9 248 3 241-6 248-13 248-20 242-28 248-36 241-42 15 5-241 41-248 35-248 27-242 19-241 12-248 5-242-3-248-11z"/><path transform="translate(0 -421)" d="M17144 2108l248 11 242 3 248-5 241-11 242-20 248-27 248-35 241-41 15 5-248 41-241 33-242 26-248 19-241 10-248 4-242-4-248-12z"/><path transform="translate(0 -412)" d="M17159 2096l248 12 242 4 248-3 241-11 248-19 242-26 241-32 248-42 15 5-241 40-248 33-248 25-242 17-241 10-248 2-242-5-248-13z"/><path transform="translate(0 -403)" d="M17174 2085l248 12 242 5 248-2 241-10 242-17 248-25 248-33 241-40 15 6-241 38-248 32-242 23-248 17-241 9-248 1-242-6-248-13z"/><path transform="translate(0 -394)" d="M17189 2073l248 13 242 6 248-1 241-9 248-17 242-23 248-32 241-38 15 5-248 38-241 30-248 23-242 15-241 8-248 0-242-7-248-14z"/><path transform="translate(0 -385)" d="M17204 2061l248 14 242 7 248 0 241-8 242-15 248-23 241-30 248-38 16 5-248 37-242 29-248 22-241 14-242 7-248-1-241-8-248-16z"/><path transform="translate(0 -376)" d="M17220 2049l248 15 241 8 248 1 242-7 241-14 248-22 242-28 248-38 15 6-248 36-242 27-241 21-248 13-248 6-242-2-241-9-248-17z"/><path transform="translate(0 -368)" d="M17235 2036l248 17 241 9 242 2 248-6 248-13 241-20 242-28 248-36 15 5-242 34-248 28-241 19-248 12-242 5-248-3-248-10-241-18z"/><path transform="translate(0 -359)" d="M17250 2024l241 18 248 10 248 3 242-5 248-12 241-19 248-28 242-34 15 5-248 34-242 26-241 18-248 11-242 4-248-4-248-12-241-19z"/><path transform="translate(0 -350)" d="M17265 2011l241 19 248 12 248 4 242-4 248-11 241-18 242-26 248-34 15 5-242 32-248 26-241 17-248 10-248 2-242-5-241-12-248-20z"/><path transform="translate(0 -341)" d="M17280 1999l248 20 241 12 242 5 248-2 248-10 241-17 248-26 242-31 15 4-248 32-242 23-241 16-248 9-242 2-248-6-241-14-248-21z"/><path transform="translate(0 -332)" d="M17295 1986l248 21 241 14 248 6 242-1 248-9 241-16 242-24 248-31 15 4-241 30-248 23-242 15-248 8-241 0-248-7-242-15-248-23z"/><path transform="translate(0 -323)" d="M17310 1973l248 22 242 15 248 7 241 0 248-8 242-15 248-23 241-29 15 4-248 29-241 22-248 14-242 6-241-1-248-9-248-16-242-23z"/><path transform="translate(0 -314)" d="M17325 1959l242 23 248 17 248 8 241 1 242-6 248-14 241-21 248-30 15 5-248 28-241 20-248 13-242 5-241-2-248-10-242-17-248-25z"/><path transform="translate(0 -306)" d="M17340 1945l248 25 242 17 248 10 241 2 242-5 248-13 241-20 248-28 15 4-248 27-241 19-248 11-242 4-241-3-248-11-242-18-248-26z"/><path transform="translate(0 -297)" d="M17355 1931l248 26 242 18 248 11 241 4 242-4 248-12 241-19 248-27 15 4-241 25-248 19-248 10-242 3-248-5-241-12-242-19-248-28z"/><path transform="translate(0 -288)" d="M17370 1917l248 27 242 19 241 12 248 5 242-3 248-10 248-18 241-25 15 3-241 24-248 17-248 9-242 2-241-6-248-13-242-21-248-28z"/><path transform="translate(0 -279)" d="M17385 1902l248 28 242 21 248 13 241 6 242-2 248-9 248-17 241-24 16 4-248 23-242 15-241 8-248 0-242-7-248-14-248-23-241-29z"/><path transform="translate(0 -270)" d="M17401 1886l241 30 248 22 248 15 242 7 248-1 241-8 242-15 248-23 15 3-248 22-242 14-241 6-248 0-242-9-248-16-241-22-248-32z"/><path transform="translate(0 -261)" d="M17416 1871l248 31 241 23 248 16 242 8 248 1 241-7 242-14 248-22 15 3-242 20-248 13-241 5-248-2-248-9-242-17-248-25-241-32z"/><path transform="translate(0 -252)" d="M17431 1854l241 32 248 25 242 17 248 10 248 2 241-6 248-13 242-20 15 2-242 19-248 12-241 4-248-3-242-11-248-19-241-25-248-34z"/><path transform="translate(0 -244)" d="M17446 1837l248 34 241 26 248 18 242 11 248 3 241-4 248-12 242-18 15 1-242 18-248 10-241 3-248-4-242-12-248-20-248-28-241-34z"/><path transform="translate(0 -235)" d="M17461 1820l241 34 248 28 248 20 242 12 248 4 241-2 248-11 242-17 15 1-248 17-242 8-241 2-248-6-242-13-248-22-241-28-248-36z"/><path transform="translate(0 -226)" d="M17476 1802l248 37 241 28 248 21 242 13 248 6 241-1 242-9 248-17 15 1-241 15-248 8-249 0-241-7-241-15-249-22-241-30-248-38z"/><path transform="translate(0 -217)" d="M17491 1784l248 37 241 30 249 22 241 15 241 7 249 0 248-8 241-15 15 1-248 14-241 6-248-1-242-9-241-16-248-24-242-31-248-39z"/><path transform="translate(0 -208)" d="M17506 1764l248 40 242 30 248 24 241 16 242 9 248 1 241-6 248-14 15 0-248 12-241 5-242-2-248-10-241-18-248-25-242-32-248-40z"/><path transform="translate(0 -199)" d="M17521 1745l248 40 242 32 248 25 241 18 248 10 242 2 241-4 248-13 15-1-241 11-248 4-242-4-248-11-241-19-248-27-242-33-248-42z"/><path transform="translate(0 -190)" d="M17536 1724l248 42 242 33 248 27 241 19 248 11 242 4 248-3 241-11 15-2-241 10-248 2-242-5-248-13-248-21-241-27-242-35-248-43z"/><path transform="translate(0 -182)" d="M17551 1703l248 43 242 35 241 28 248 20 248 13 242 5 248-2 241-9 15-2-241 8-248 1-242-7-248-14-241-21-248-30-242-36-248-45z"/><path transform="translate(0 -173)" d="M17566 1681l248 45 242 36 248 30 241 21 248 14 242 7 248-1 241-8 15-2-241 7-248-1-242-8-248-16-248-23-241-31-242-37-248-46z"/><path transform="translate(0 -164)" d="M17581 1659l248 46 242 37 241 31 248 23 248 16 242 8 248 1 241-7 16-3-242 5-248-2-241-9-248-17-242-25-248-32-241-39-248-48z"/><path transform="translate(0 -155)" d="M17597 1635l248 48 241 39 248 33 242 24 248 17 241 9 248 3 242-6 15-3-242 4-248-4-241-11-248-19-242-25-248-34-241-41-248-49z"/><path transform="translate(0 -146)" d="M17612 1612l248 49 241 40 248 34 242 26 248 18 241 11 248 4 242-4 15-4-248 2-242-5-241-12-248-20-242-27-248-36-241-42-248-50z"/><path transform="translate(0 -137)" d="M17627 1587l248 50 241 42 248 36 242 27 248 20 241 12 242 5 248-2 15-5-242 1-248-6-248-15-241-21-242-28-248-37-241-44-248-52z"/><path transform="translate(0 -128)" d="M17642 1561l248 52 241 44 248 37 242 28 241 22 248 14 248 6 242-1 15-5-248-1-242-8-241-15-248-23-242-30-248-39-241-44-248-54z"/><path transform="translate(0 -120)" d="M17657 1535l248 54 241 45 248 38 242 30 248 23 241 16 242 8 248 0 15-6-242-2-248-9-241-17-248-25-242-31-248-40-241-47-248-55z"/><path transform="translate(0 -111)" d="M17672 1508l248 55 241 47 248 40 242 31 248 25 241 17 248 9 242 2 15-6-241-4-248-11-242-18-248-26-241-33-248-42-242-48-248-57z"/><path transform="translate(0 -102)" d="M17687 1481l248 56 242 48 248 42 241 33 248 26 242 18 248 12 241 3 15-7-241-5-248-13-242-20-248-28-241-34-248-43-242-50-248-58z"/><path transform="translate(0 -93)" d="M17702 1452l248 59 242 49 248 43 241 35 248 27 242 20 248 13 241 5 15-8-241-6-248-15-242-21-248-29-241-37-248-44-242-51-248-60z"/><path transform="translate(0 -84)" d="M17717 1423l248 60 242 51 248 45 241 36 248 29 242 22 248 14 241 6 15-8-241-8-248-16-242-23-248-31-241-38-248-46-242-52-248-62z"/><path transform="translate(0 -75)" d="M17732 1393l248 62 242 52 248 46 241 38 248 31 242 23 248 16 241 8 15-9-241-9-248-18-242-24-248-33-241-39-248-48-242-54-248-63z"/><path transform="translate(0 -66)" d="M17747 1363l248 63 242 54 248 48 241 39 248 33 242 24 248 18 241 10 15-10-241-11-248-19-242-27-248-34-248-42-241-48-242-56-248-65z"/><path transform="translate(0 -58)" d="M17762 1332l248 64 242 56 241 48 248 42 248 35 242 26 248 19 241 11 16-10-248-13-242-21-241-27-248-36-242-43-248-51-248-59-241-65z"/><path transform="translate(0 -49)" d="M17778 1300l241 64 248 59 248 51 242 43 248 36 241 27 242 21 248 13 15-10-242-15-248-22-241-30-248-37-242-44-248-53-241-59-248-68z"/><path transform="translate(0 -40)" d="M17793 1267l248 68 241 59 248 53 242 44 248 37 241 30 248 22 242 15 15-11-242-17-248-24-241-31-248-39-242-46-248-54-241-61-248-69z"/><path transform="translate(0 -31)" d="M17808 1234l248 69 241 61 248 54 242 46 248 39 241 31 248 25 242 16 15-12-242-18-248-26-241-32-248-41-242-48-248-56-241-62-248-71z"/><path transform="translate(0 -22)" d="M17823 1200l248 71 241 62 248 56 242 48 248 41 241 32 248 26 242 18 15-12-242-20-248-27-241-34-248-43-242-49-248-58-241-64-248-73z"/><path transform="translate(0 -13)" d="M17838 1165l248 73 241 64 248 58 242 49 248 43 241 34 248 28 242 19 15-13-248-22-242-28-241-36-248-45-242-50-248-60-241-65-248-75z"/><path transform="translate(0 -4)" d="M17853 1130l248 75 241 65 248 60 242 51 248 44 241 36 242 29 248 21 15-13-241-23-249-31-241-37-248-47-248-53-241-60-249-69-241-75z"/></g></g><path class="a" stroke-width="1.5" d="M1786.8 230.8L1982.6 188M1786.8 230.8L1636 175.2M1786.8 230.8l5.1 1.9M1806.4 226.5l5.1 1.9M1826 222.2l5.1 1.9M1845.5 218l5.1 1.9M1865.1 213.7l5.1 1.9M1884.7 209.4l5.1 1.9M1904.3 205.1l5.1 1.9M1923.9 200.8l5.1 1.9M1943.4 196.6l5.1 1.9M1963 192.3l5.1 1.9M1982.6 188l5.1 1.9M1786.8 230.8l-5.4 1.2M1771.7 225.2l-5.4 1.2M1756.6 219.7l-5.4 1.2M1741.6 214.1l-5.4 1.2M1726.5 208.6l-5.4 1.2M1711.4 203l-5.4 1.2M1696.3 197.4l-5.4 1.2M1681.2 191.9l-5.4 1.2M1666.2 186.3l-5.4 1.2M1651.1 180.8l-5.4 1.2M1636 175.2l-5.4 1.2"/><path fill="none" stroke="#999" stroke-width="2" d="M1636 175.2L1636 54.2"/><path class="t" d="M1636 175.2l-5.1 -1.9M1636 151.2l-5.1 -1.9M1636 127.3l-5.1 -1.9M1636 103.3l-5.1 -1.9M1636 79.4l-5.1 -1.9M1636 55.4l-5.1 -1.9"/><text transform="translate(1809.3 7.04) scale(.49 1)" font-size="9.65" text-anchor="middle" font-weight="bold">Parameter space</text><text transform="translate(1793.58 242.77) scale(.49 1)" font-size="8.77">-5</text><text transform="translate(1813.16 238.49) scale(.49 1)" font-size="8.77">-4</text><text transform="translate(1832.74 234.21) scale(.49 1)" font-size="8.77">-3</text><text transform="translate(1852.32 229.93) scale(.49 1)" font-size="8.77">-2</text><text transform="translate(1871.9 225.65) scale(.49 1)" font-size="8.77">-1</text><text transform="translate(1891.48 221.37) scale(.49 1)" font-size="8.77">0</text><text transform="translate(1911.06 217.09) scale(.49 1)" font-size="8.77">1</text><text transform="translate(1930.64 212.81) scale(.49 1)" font-size="8.77">2</text><text transform="translate(1950.22 208.53) scale(.49 1)" font-size="8.77">3</text><text transform="translate(1969.8 204.25) scale(.49 1)" font-size="8.77">4</text><text transform="translate(1989.38 199.97) scale(.49 1)" font-size="8.77">5</text><text transform="translate(1780.52 241.99) scale(.49 1)" font-size="8.77" text-anchor="end">-5</text><text transform="translate(1765.44 236.43) scale(.49 1)" font-size="8.77" text-anchor="end">-4</text><text transform="translate(1750.36 230.87) scale(.49 1)" font-size="8.77" text-anchor="end">-3</text><text transform="translate(1735.28 225.31) scale(.49 1)" font-size="8.77" text-anchor="end">-2</text><text transform="translate(1720.2 219.75) scale(.49 1)" font-size="8.77" text-anchor="end">-1</text><text transform="translate(1705.12 214.19) scale(.49 1)" font-size="8.77" text-anchor="end">0</text><text transform="translate(1690.04 208.63) scale(.49 1)" font-size="8.77" text-anchor="end">1</text><text transform="translate(1674.96 203.07) scale(.49 1)" font-size="8.77" text-anchor="end">2</text><text transform="translate(1659.88 197.51) scale(.49 1)" font-size="8.77" text-anchor="end">3</text><text transform="translate(1644.8 191.95) scale(.49 1)" font-size="8.77" text-anchor="end">4</text><text transform="translate(1629.72 186.39) scale(.49 1)" font-size="8.77" text-anchor="end">5</text><text transform="translate(1629.52 176.87) scale(.49 1)" font-size="8.77" text-anchor="end">0</text><text transform="translate(1629.52 152.92) scale(.49 1)" font-size="8.77" text-anchor="end">100</text><text transform="translate(1629.52 128.97) scale(.49 1)" font-size="8.77" text-anchor="end">200</text><text transform="translate(1629.52 105.02) scale(.49 1)" font-size="8.77" text-anchor="end">300</text><text transform="translate(1629.52 81.07) scale(.49 1)" font-size="8.77" text-anchor="end">400</text><text transform="translate(1629.52 57.12) scale(.49 1)" font-size="8.77" text-anchor="end">500</text><text transform="translate(1851.46 252.78) scale(.49 1)" font-size="9.65" text-anchor="middle">x<tspan dy="4.05" font-size="7.72">1</tspan></text><text transform="translate(1732.16 249.08) scale(.49 1)" font-size="9.65" text-anchor="middle">x<tspan dy="4.05" font-size="7.72">2</tspan></text><text transform="translate(1617.67 114.8) scale(.49 1) rotate(-90)" font-size="10.62" text-anchor="middle">F17( x<tspan dy="3.18" font-size="8.49">1</tspan><tspan dy="-3.18"> , x</tspan><tspan dy="3.18" font-size="8.49">2</tspan><tspan dy="-3.18"> )</tspan></text><text class="b" x="1748.4" y="358.9">F17</text></g>
<g id="F18"><path class="g" d="M168.7 700.7L20.9 637.3M188.1 695.9L40.3 632.5M207.4 691.1L59.6 627.7M226.8 686.4L79 623M246.1 681.6L98.3 618.2M265.5 676.8L117.7 613.4M284.9 672L137.1 608.6M304.2 667.2L156.4 603.8M323.6 662.5L175.8 599.1M343 657.7L195.2 594.3M168.7 700.7L361.6 653.1M153.9 694.3L346.7 646.7M139 688L331.9 640.4M124.2 681.6L317 634M109.3 675.2L302.2 627.6M94.5 668.9L287.4 621.3M79.7 662.5L272.5 614.9M64.8 656.1L257.7 608.5M50 649.8L242.8 602.2M35.1 643.4L228 595.8M20.9 637.3L213.8 589.7M213.8 589.7L361.6 653.1M20.9 613.8L213.8 566.2M213.8 566.2L361.6 629.6M20.9 590.4L213.8 542.8M213.8 542.8L361.6 606.2M20.9 566.9L213.8 519.3M213.8 519.3L361.6 582.7M20.9 543.5L213.8 495.9M213.8 495.9L361.6 559.3M20.9 520L213.8 472.4M213.8 472.4L361.6 535.8"/><path class="v" d="M20.9 637.3L20.9 503.5M40.3 632.5L40.3 498.7M59.6 627.7L59.6 493.9M79 623L79 489.2M98.3 618.2L98.3 484.4M117.7 613.4L117.7 479.6M137.1 608.6L137.1 474.8M156.4 603.8L156.4 470M175.8 599.1L175.8 465.3M195.2 594.3L195.2 460.5M361.6 653.1L361.6 519.3M346.7 646.7L346.7 512.9M331.9 640.4L331.9 506.6M317 634L317 500.2M302.2 627.6L302.2 493.8M287.4 621.3L287.4 487.5M272.5 614.9L272.5 481.1M257.7 608.5L257.7 474.7M242.8 602.2L242.8 468.4M228 595.8L228 462"/><g transform="scale(.1)"><g class="k"><path stroke="#ff370e" d="M3173 6640l-96 5-165 14-93 12-55 9-82 17-83 23-58 21-7 4-18 7-26 13-39 22-24 16-37 30M1572 6958l-11-15-22-25-2-4-22-24-53-52-18-16-29-23-35-26-45-29-49-28-69-33-76-31-77-26-84-24-56-14-147-31-129-22-65-10-27-3M2094 5908l59 60 13 12 4 2 5 6 48 38 53 37 60 35 53 27 28 13 61 25 32 12 9 2 42 15 54 17 77 21 61 15 141 30 110 20 99 16"/><path stroke="#ff620e" d="M3024 6677l-56 6-57 8-66 11-81 17-57 15-36 11-73 27-45 21M1474 6915l-42-40-32-27-29-23-53-37-84-49-69-33-52-22-48-18-105-34-57-16-102-25-155-31M2158 5906l17 17 63 54 30 23 32 22 53 33 36 20 39 20 57 26 94 37 9 2 51 18 74 22 108 28 85 19 88 17"/><path stroke="#ff8c0f" d="M1391 6880l-53-42-59-40-73-42-61-30-37-16-94-36-88-29-95-26-82-20-25-5M2245 5943l11 10 40 30 60 40 61 35 33 17 14 6 6 4 73 32 96 36 62 20 58 17 75 20 72 17"/><path stroke="#ffb70f" d="M1309 6845l-31-22-77-46-53-27-56-26-57-23-105-37-73-22-54-14M2332 5980l25 18 23 14 74 42 69 33 37 15 7 4 113 42 89 28 50 13"/><path stroke="#ffe110" d="M1211 6803l-34-20-33-17-48-23-44-19-84-32-46-16-24-7M2441 6027l25 14 54 26 2 2 33 15 76 31 79 28"/></g><g fill="url(#G18)" stroke="url(#G18)" stroke-width="5" stroke-linejoin="round"><path transform="translate(0 -994)" d="M209 7285l32-17 32-13 32-9 33-5 57-4 161 0 52-4 51-9 45-11 45-13 219-83 57-18 52-14 51-10 58-8 225-13 58-6 51-8 90-19 219-55 45-13 32-12 26-12 19-11 32-26 32-39 26-44 26-58 26-78 25-102 20-96 14-31-19 102-26 109-25 83-26 64-26 47-32 42-32 29-19 13-26 13-39 15-45 13-225 56-83 18-110 16-218 20-58 9-51 11-52 13-51 16-206 73-45 13-45 11-51 8-52 5-161 3-64 6-38 8-33 10-32 13-38 21z"/><path transform="translate(0 -984)" d="M224 7294l38-21 32-13 33-10 38-8 64-6 161-3 52-5 51-8 45-11 45-13 206-73 51-16 52-13 51-11 58-9 218-20 110-16 83-18 225-56 45-13 39-15 26-13 19-13 32-29 32-42 26-47 26-64 25-83 26-109 19-102 15-32-19 108-26 116-26 89-25 68-13 27-20 35-32 42-19 19-19 15-39 22-38 15-45 14-225 56-77 18-110 18-218 26-58 9-52 11-96 27-199 66-90 23-45 7-45 6-180 7-39 3-38 7-33 8-32 12-32 15-38 22z"/><path transform="translate(0 -974)" d="M239 7303l38-22 32-15 32-12 33-8 38-7 39-3 180-7 45-5 45-8 90-23 199-66 96-27 52-11 58-9 218-26 110-18 77-18 225-56 45-14 38-15 39-22 19-15 19-19 32-42 20-35 13-27 25-68 26-89 26-116 19-108 15-33-19 114-26 123-26 95-26 72-12 30-20 37-32 46-19 21-19 16-39 25-39 16-45 14-302 75-109 20-225 31-103 21-90 24-186 59-90 22-90 14-187 11-38 4-39 7-38 11-33 13-38 18-39 23z"/><path transform="translate(0 -964)" d="M253 7311l39-23 38-18 33-13 38-11 39-7 38-4 187-11 90-14 90-22 186-59 90-24 103-21 225-31 109-20 302-75 45-14 39-16 39-25 19-16 19-21 32-46 20-37 12-30 26-72 26-95 26-123 19-114 15-34-20 120-25 130-26 100-13 42-19 52-13 30-19 37-33 47-19 21-19 16-39 25-38 16-45 15-257 64-129 28-225 35-96 19-97 25-193 57-77 19-96 16-187 14-38 4-39 8-45 12-38 16-39 19-45 26z"/><path transform="translate(0 -954)" d="M268 7318l45-26 39-19 38-16 45-12 39-7 38-5 187-14 96-16 77-19 193-57 97-25 96-19 225-35 129-27 257-65 45-14 38-17 39-25 19-16 19-21 33-47 19-37 13-30 19-52 13-42 26-100 25-130 20-120 14-34-19 126-26 136-25 107-13 44-19 55-13 32-20 40-32 50-19 23-19 18-39 27-38 18-45 15-258 65-135 30-212 37-96 19-97 24-186 53-71 17-96 17-193 17-77 13-45 13-39 15-45 22-51 30z"/><path transform="translate(0 -944)" d="M283 7324l51-30 45-22 39-15 45-13 77-13 193-17 96-17 71-17 186-53 97-24 96-19 212-37 135-30 258-65 45-15 38-18 39-27 19-18 19-23 32-50 20-40 13-32 19-55 13-44 25-107 26-136 19-126 15-35-19 132-26 143-26 112-12 47-20 59-13 34-19 42-32 54-19 24-20 20-19 16-26 17-38 18-45 15-251 64-135 31-218 41-90 19-328 86-103 18-199 21-77 14-45 13-39 15-45 22-64 35z"/><path transform="translate(0 -934)" d="M298 7328l64-35 45-22 39-15 45-13 77-14 199-21 103-18 328-86 90-19 218-41 135-31 251-63 45-16 38-18 26-17 19-16 20-20 19-24 32-54 19-42 13-34 20-59 12-47 26-112 26-143 19-132 15-35-19 138-26 150-26 118-32 111-32 81-32 58-19 26-20 21-19 17-26 18-25 14-33 14-38 12-52 14-289 71-257 52-90 20-296 76-109 21-199 23-45 7-39 9-45 13-45 18-116 58z"/><path transform="translate(0 -924)" d="M312 7331l116-58 45-18 45-13 39-9 45-7 199-23 109-21 296-76 90-20 257-52 289-71 52-14 38-12 33-14 25-14 26-18 19-17 20-21 19-26 32-58 32-81 32-111 26-118 26-150 19-138 15-34-20 143-25 156-26 124-32 117-32 85-32 62-20 28-19 22-26 24-25 19-26 14-32 13-39 13-51 14-290 71-334 72-283 71-109 22-206 26-77 15-45 13-45 17-135 64z"/><path transform="translate(0 -914)" d="M327 7332l135-64 45-17 45-13 77-15 206-26 109-22 283-71 334-72 290-71 51-14 39-13 32-13 26-14 25-19 26-23 19-23 20-28 32-62 32-85 32-117 26-124 25-156 20-143 15-35-20 149-25 162-26 129-32 123-32 90-20 42-19 34-19 28-20 23-19 18-26 20-45 24-57 21-335 84-308 68-251 62-84 19-96 18-180 24-77 16-45 13-39 14-115 53-39 14z"/><path transform="translate(0 -904)" d="M342 7330l39-14 115-53 39-14 45-13 77-16 180-24 96-18 84-19 251-62 308-68 335-84 57-21 45-24 26-20 19-18 20-23 19-28 19-34 20-42 32-90 32-123 26-129 25-162 20-149 14-34-25 199-26 160-26 127-32 121-32 89-19 41-20 34-19 27-19 23-20 19-25 19-45 25-65 23-327 82-296 66-322 78-102 19-180 27-77 16-71 23-135 57-45 14z"/><path transform="translate(0 -894)" d="M357 7327l45-14 135-57 71-23 77-16 180-27 102-19 322-78 296-66 327-82 65-23 45-25 25-19 20-19 19-23 19-27 20-34 19-41 32-89 32-121 26-127 26-160 25-199 15-34-26 207-25 165-26 132-32 126-32 93-20 44-19 35-19 30-19 24-26 25-26 20-45 24-64 23-322 81-289 67-308 74-103 20-180 28-77 17-84 26-135 55-26 8-25 4z"/><path transform="translate(0 -884)" d="M372 7322l25-4 26-8 135-55 84-26 77-17 180-28 103-20 308-74 289-67 322-81 64-23 45-24 26-20 26-25 19-24 19-30 19-35 20-44 32-93 32-126 26-132 25-165 26-207 15-32-26 212-26 171-25 137-32 131-33 98-19 45-19 38-19 31-20 25-25 27-26 21-32 20-32 14-45 16-58 16-283 71-540 128-103 21-193 32-77 16-84 25-147 57-32 8-33 2z"/><path transform="translate(0 -874)" d="M386 7314l33-2 32-8 147-57 84-25 77-16 193-32 103-21 540-128 283-71 58-16 45-16 32-14 32-20 26-21 25-27 20-25 19-31 19-38 19-45 33-98 32-131 25-137 26-171 26-212 15-32-26 218-26 177-32 172-32 128-32 96-19 44-20 37-19 31-19 25-26 27-26 21-32 19-38 18-45 15-71 19-277 69-507 121-116 24-193 34-64 14-77 22-123 46-45 14-32 5-32-2z"/><path transform="translate(0 -864)" d="M401 7304l32 2 32-5 45-14 123-46 77-22 64-14 193-34 116-24 507-121 277-69 71-19 45-15 38-18 32-19 26-21 26-27 19-25 19-31 20-37 19-44 32-96 32-128 32-172 26-177 26-218 14-31-25 224-26 182-32 177-32 134-32 99-20 46-19 39-19 32-20 27-25 28-26 22-39 24-38 17-52 18-83 22-264 65-482 115-96 21-193 36-77 16-77 22-129 47-39 11-25 5-20 1-19-2-19-6z"/><path transform="translate(0 -854)" d="M416 7291l19 6 19 2 20-1 25-5 39-11 129-47 77-22 77-16 193-36 96-20 482-116 264-65 83-22 52-17 38-18 39-24 26-22 25-28 20-27 19-32 19-39 20-46 32-99 32-134 32-177 26-182 25-224 15-30-26 230-25 187-32 182-33 138-32 103-19 49-19 40-20 33-25 36-26 28-26 22-32 20-38 19-45 16-52 14-308 77-450 108-103 23-199 38-78 17-77 22-122 43-38 11-33 5-25 0-26-5-19-9z"/><path transform="translate(0 -844)" d="M431 7276l19 9 26 5 25 0 33-5 38-11 122-43 77-22 78-17 199-38 103-23 450-108 308-77 52-14 45-16 38-19 32-20 26-22 26-28 25-36 20-33 19-40 19-49 32-103 33-138 32-182 25-187 26-230 15-28-26 236-25 191-33 187-32 142-32 107-19 50-19 42-20 34-25 38-26 29-26 23-32 21-39 20-45 17-57 16-309 77-431 104-103 23-192 38-78 17-77 21-122 42-38 11-39 6-32-1-26-8-26-16z"/><path transform="translate(0 -834)" d="M445 7258l26 16 26 8 32 1 39-6 38-11 122-42 77-21 78-17 192-38 103-23 431-104 309-77 57-16 45-17 39-19 32-22 26-23 26-29 25-38 20-34 19-42 19-50 32-107 32-142 33-187 25-191 26-236 15-26-26 240-26 195-32 193-32 145-19 70-20 59-19 48-19 41-19 34-26 37-26 29-26 22-32 21-38 20-45 16-58 17-309 77-405 98-379 81-71 20-122 40-45 12-45 6-32-4-19-7-13-7-26-21z"/><path transform="translate(0 -824)" d="M460 7237l26 21 13 7 19 7 32 4 45-6 45-12 122-40 71-20 379-81 405-98 309-77 58-17 45-16 38-20 32-21 26-22 26-29 26-37 19-34 19-41 19-48 20-59 19-70 32-145 32-193 26-195 26-240 15-24-26 244-32 243-32 186-33 142-19 67-19 57-19 48-20 39-19 33-26 36-25 28-26 22-32 22-39 19-45 16-58 17-694 171-373 81-71 19-128 40-45 12-45 5-19-1-20-5-19-8-13-8-19-17-13-15z"/><path transform="translate(0 -814)" d="M475 7214l13 15 19 17 13 8 19 8 20 5 19 1 45-5 45-12 128-40 71-19 373-81 694-171 58-17 45-16 39-19 32-22 26-22 25-28 26-35 19-34 20-39 19-48 19-57 19-67 33-142 32-186 32-243 26-244 14-23-25 249-33 247-32 190-32 145-19 69-19 58-20 49-19 41-19 35-26 37-26 29-25 23-33 22-38 20-45 17-64 19-669 165-379 84-64 17-129 39-45 12-26 4-25 1-26-2-19-6-20-10-19-15-19-20-13-18z"/><path transform="translate(0 -804)" d="M490 7189l13 18 19 20 19 15 20 10 19 6 26 2 25-1 26-4 45-12 129-39 64-17 379-84 669-165 64-19 45-17 38-20 33-22 25-23 26-29 26-37 19-34 19-42 20-49 19-58 19-69 32-145 32-190 33-247 25-249 15-20-26 252-32 251-32 194-32 148-19 71-20 59-19 51-19 42-19 35-26 38-26 31-32 28-32 22-39 20-45 17-64 19-649 160-373 84-77 20-122 37-45 11-33 4-25 1-26-5-19-7-20-11-19-16-19-23-19-30z"/><path transform="translate(0 -794)" d="M505 7161l19 30 19 23 19 16 20 11 19 7 26 5 25-1 33-4 45-11 122-37 77-20 373-84 649-160 64-19 45-17 39-20 32-22 32-28 26-30 26-39 19-35 19-42 19-51 20-59 19-71 32-148 32-194 32-251 26-252 15-18-26 255-32 255-32 197-32 150-20 73-19 61-19 51-26 56-19 35-26 37-26 29-32 28-32 22-38 19-45 17-65 19-630 155-372 85-78 21-122 35-51 12-32 3-26-1-26-5-25-12-20-15-19-20-19-26-20-35z"/><path transform="translate(0 -784)" d="M519 7131l20 35 19 26 19 20 20 15 25 12 26 5 26 1 32-3 51-12 122-35 78-21 372-84 630-156 65-19 45-17 38-19 32-22 32-28 26-29 26-37 19-34 26-57 19-51 19-61 20-73 32-150 32-197 32-255 26-255 15-16-26 258-32 258-32 200-32 153-20 74-19 62-19 53-26 57-19 35-26 38-26 30-32 29-38 26-39 19-45 17-64 19-611 151-366 84-206 57-52 11-32 3-32-2-26-7-25-14-26-22-19-24-20-31-19-40z"/><path transform="translate(0 -774)" d="M534 7098l19 40 20 31 19 24 26 22 25 14 26 7 32 2 32-3 52-11 206-57 366-84 611-151 64-19 45-17 39-19 38-26 32-29 26-30 26-38 19-35 26-57 19-53 19-62 20-74 32-153 32-200 32-258 26-258 14-14-25 261-32 261-33 202-19 98-19 84-19 70-20 60-19 51-26 55-19 34-26 37-25 29-33 28-38 25-39 19-45 17-64 19-591 146-360 84-206 55-64 14-39 2-32-5-26-10-25-17-26-27-19-28-20-36-19-45z"/><path transform="translate(0 -764)" d="M549 7063l19 45 20 36 19 28 26 27 25 17 26 10 32 5 39-2 64-13 206-56 360-84 591-146 64-19 45-17 39-19 38-25 33-28 25-29 26-37 19-34 26-55 19-51 20-60 19-70 19-84 19-98 33-202 32-261 25-261 15-11-25 263-33 263-32 204-19 100-19 84-20 72-19 61-19 52-26 56-19 34-26 38-26 30-32 29-38 25-39 20-51 19-65 19-572 141-366 86-206 55-58 12-38 1-32-4-33-14-25-18-26-29-19-29-26-52-19-51z"/><path transform="translate(0 -754)" d="M564 7026l19 51 26 52 19 29 26 29 25 19 33 13 32 4 38-1 58-12 206-55 366-86 572-141 65-19 51-19 39-20 38-25 32-29 26-30 26-38 19-34 26-56 19-52 19-61 20-72 19-84 19-100 32-204 33-263 25-262 15-9-26 264-32 265-32 206-19 101-20 85-19 73-19 61-19 53-26 57-26 45-26 36-25 29-32 28-39 25-39 19-51 19-64 19-553 137-367 86-199 53-38 8-33 5-38 1-19-3-20-5-32-17-26-23-25-33-20-33-25-58-20-57z"/><path transform="translate(0 -744)" d="M578 6987l20 57 25 58 20 33 25 33 26 23 32 17 20 5 19 3 38-1 33-5 38-8 199-53 367-86 553-137 64-19 51-19 39-19 39-25 32-28 25-29 26-36 26-45 26-57 19-53 19-61 19-73 20-85 19-101 32-206 32-265 26-264 15-5-26 265-32 266-32 208-20 101-19 86-19 73-19 63-20 52-25 58-26 46-26 37-32 36-32 27-39 24-38 18-52 19-70 20-534 133-360 85-193 51-45 9-38 5-39 0-19-3-19-7-33-18-25-24-26-34-26-48-25-65-20-63z"/><path transform="translate(0 -734)" d="M593 6946l20 63 25 65 26 48 26 34 25 24 33 18 19 7 19 3 39 1 38-6 45-9 193-51 360-85 534-133 70-20 52-19 38-18 39-24 32-27 32-36 26-37 26-46 25-58 20-52 19-63 19-73 19-86 20-101 32-208 32-266 26-265 15-3-33 325-32 254-32 198-19 96-19 83-20 70-19 59-19 51-26 55-26 44-25 35-33 34-32 26-38 24-39 18-51 18-71 20-521 129-347 83-199 52-52 11-38 4-39-2-19-4-19-7-32-19-20-18-13-15-25-39-26-54-26-72-19-68z"/><path transform="translate(0 -724)" d="M608 6904l19 68 26 72 26 54 25 39 13 15 20 18 32 19 19 7 19 4 39 2 38-4 52-11 199-51 347-84 521-129 71-20 51-18 39-18 38-24 32-26 33-34 25-35 26-44 26-55 19-51 19-59 20-70 19-83 19-96 32-198 32-254 33-325 14 0-32 325-32 255-32 198-19 97-20 83-19 70-19 60-20 51-25 55-26 45-26 36-32 34-32 26-39 24-45 21-51 18-71 20-501 125-347 83-193 50-58 12-45 4-38-3-20-4-19-8-32-20-19-19-13-16-20-29-12-24-26-59-26-79-19-74z"/><path transform="translate(0 -714)" d="M623 6860l19 74 26 79 26 59 12 24 20 29 13 16 19 19 32 20 19 8 20 5 38 2 45-4 58-12 193-50 347-83 501-125 71-20 51-18 45-21 39-24 32-26 32-34 26-36 26-45 25-55 20-51 19-60 19-70 20-83 19-97 32-198 32-255 32-325 15 4-32 324-32 255-32 198-20 97-19 83-19 70-26 78-19 49-26 53-26 42-25 34-32 33-33 25-38 23-45 20-58 20-71 20-823 202-192 49-65 13-51 3-39-5-19-6-19-9-20-13-12-11-20-22-13-18-19-32-13-26-25-66-26-85-19-80z"/><path transform="translate(0 -704)" d="M638 6815l19 80 26 85 25 66 13 26 19 32 13 18 20 22 12 11 20 13 19 9 19 6 39 5 51-3 65-13 192-49 823-202 71-20 58-20 45-20 38-23 33-25 32-33 25-34 26-42 26-53 19-49 26-78 19-70 19-83 20-97 32-198 32-255 32-324 15 5-32 324-32 254-33 199-19 96-19 83-19 71-26 78-19 48-26 53-26 43-32 42-32 31-32 24-39 22-45 20-58 19-77 22-990 244-70 14-52 2-26-3-19-4-19-8-19-11-20-15-13-13-19-24-13-20-19-36-13-29-26-71-25-92-20-86z"/><path transform="translate(0 -694)" d="M652 6769l20 86 25 92 26 71 13 29 19 36 13 20 19 24 13 13 20 15 19 11 19 8 19 5 26 2 52-2 70-14 990-244 77-22 58-19 45-20 39-22 32-24 32-31 32-42 26-43 26-53 19-48 26-78 19-71 19-83 19-96 33-199 32-254 32-323 15 8-32 323-33 253-19 124-19 107-19 92-20 78-19 67-26 74-19 46-26 50-25 41-33 39-32 30-32 23-38 21-52 22-58 18-83 23-958 236-71 14-32 3-26-1-25-3-20-5-19-8-19-12-20-15-19-21-19-27-13-22-19-39-13-32-26-77-26-99-19-93z"/><path transform="translate(0 -684)" d="M667 6721l19 93 26 99 26 77 13 32 19 39 13 22 19 27 19 21 20 15 19 12 19 8 20 5 25 3 26 1 32-3 71-14 958-236 83-23 58-18 52-22 38-21 32-23 32-30 33-39 25-41 26-50 19-46 26-74 19-67 20-78 19-92 19-107 19-124 33-253 32-323 14 12-32 320-32 252-19 124-19 106-20 92-19 78-19 66-26 74-19 46-26 50-26 40-32 40-32 30-39 27-45 23-51 20-64 20-97 25-912 225-45 10-39 5-32 2-26-1-26-5-19-6-19-10-19-13-20-18-13-15-19-27-13-22-19-40-13-32-26-78-25-100-26-128z"/><path transform="translate(0 -674)" d="M682 6673l26 128 25 100 26 78 13 32 19 40 13 22 19 27 13 15 20 18 19 13 19 10 19 6 26 5 26 1 32-2 39-5 45-10 912-225 97-25 64-20 51-20 45-23 39-27 32-30 32-40 26-40 26-50 19-46 26-74 19-66 19-78 20-92 19-106 19-124 32-252 32-320 15 15-32 317-32 250-19 123-20 106-19 91-19 77-19 67-26 73-26 59-26 47-25 38-32 38-33 28-38 26-45 22-58 22-71 21-115 29-868 214-45 9-39 5-32 2-26-2-25-5-20-7-19-10-19-13-20-18-19-24-19-30-13-24-19-44-13-34-26-84-26-107-25-135z"/><path transform="translate(0 -664)" d="M697 6625l25 135 26 107 26 84 13 34 19 44 13 24 19 30 19 24 20 18 19 13 19 10 20 7 25 5 26 2 32-2 39-5 45-9 868-214 115-29 71-21 58-22 45-22 38-26 33-28 32-38 25-38 26-47 26-59 26-73 19-67 19-77 19-91 20-106 19-123 32-250 32-317 15 17-32 315-19 155-20 135-19 116-19 100-20 85-19 73-19 62-26 69-26 56-25 44-26 36-32 35-32 27-39 25-32 16-39 15-45 15-64 18-913 226-70 17-52 8-38 3-39-3-26-7-19-8-19-11-19-16-20-20-19-26-19-33-13-26-19-47-13-36-26-90-26-113-25-144z"/><path transform="translate(0 -654)" d="M712 6576l25 144 26 113 26 90 13 36 19 47 13 26 19 33 19 26 20 20 19 16 19 11 19 8 26 7 39 3 38-3 52-8 70-17 913-226 64-18 45-15 39-15 32-16 39-25 32-27 32-35 26-36 25-44 26-56 26-69 19-62 19-73 20-85 19-100 19-116 20-135 19-155 32-315 15 20-32 311-20 154-19 133-19 115-19 99-20 84-19 72-19 62-26 68-26 55-25 44-26 36-32 35-39 31-38 24-33 15-38 15-109 32-900 223-71 16-52 8-38 2-39-3-25-7-26-11-19-13-20-17-19-23-19-28-20-35-12-29-33-89-25-95-26-120-26-152z"/><path transform="translate(0 -644)" d="M726 6527l26 152 26 120 25 95 33 89 12 29 20 35 19 28 19 23 20 17 19 13 26 11 25 7 39 3 38-2 52-8 71-16 900-223 109-32 38-15 33-15 38-24 39-31 32-35 26-36 25-44 26-55 26-68 19-62 19-72 20-84 19-99 19-115 19-133 20-154 32-311 15 23-33 307-19 152-19 132-19 113-20 97-19 83-19 72-20 61-25 67-26 54-26 44-32 43-32 33-39 29-38 22-32 15-39 14-109 32-894 221-70 16-52 7-38 1-39-5-26-8-19-9-26-18-19-19-19-24-19-31-20-38-13-30-32-95-25-101-26-127-26-159z"/><path transform="translate(0 -634)" d="M741 6479l26 159 26 127 25 101 32 95 13 30 20 38 19 31 19 24 19 19 26 18 19 9 26 8 39 5 38-1 52-7 70-16 894-221 109-32 39-14 32-15 38-22 39-29 32-33 32-43 26-44 26-54 25-67 20-61 19-72 19-83 20-97 19-113 19-132 19-152 33-307 14 25-32 303-19 150-19 129-20 112-19 96-19 82-26 91-19 57-26 63-26 51-32 49-32 38-32 29-39 27-38 20-71 27-103 29-887 220-71 14-51 7-39 0-38-6-26-10-19-10-26-21-19-20-19-26-20-33-19-41-13-32-32-101-26-106-25-134-26-167z"/><path transform="translate(0 -624)" d="M756 6430l26 167 25 134 26 106 32 101 13 32 19 41 20 33 19 26 19 20 26 21 19 10 26 10 38 6 39 0 51-7 71-14 887-220 103-29 71-27 38-20 39-27 32-29 32-38 32-49 26-51 26-63 19-57 26-91 19-82 19-96 20-112 19-129 19-150 32-303 15 28-32 298-19 147-20 128-19 109-19 94-19 81-26 90-19 56-26 62-26 50-32 49-32 37-39 33-38 25-45 22-71 26-103 28-874 216-64 13-52 6-45-1-38-7-26-11-19-12-26-22-19-22-20-28-19-35-32-78-32-106-26-112-26-140-25-174z"/><path transform="translate(0 -614)" d="M771 6383l25 174 26 140 26 112 32 106 32 78 19 35 20 28 19 22 26 22 19 12 26 11 38 7 45 1 52-6 64-13 874-216 103-28 71-26 45-22 38-25 39-33 32-37 32-49 26-50 26-62 19-56 26-90 19-81 19-94 19-109 20-128 19-147 32-298 15 30-32 293-20 145-19 124-19 108-26 120-19 75-26 84-26 68-25 54-26 44-32 43-32 33-32 25-39 24-51 23-71 24-103 28-861 212-65 12-51 6-39-1-38-8-26-11-19-11-26-22-19-22-19-28-20-35-32-77-32-105-32-142-26-147-26-181z"/><path transform="translate(0 -604)" d="M785 6336l26 181 26 147 32 142 32 105 32 77 20 35 19 28 19 22 26 22 19 11 26 11 38 8 39 1 51-6 65-12 861-212 103-28 71-24 51-23 39-24 32-25 32-33 32-43 26-44 25-54 26-68 26-84 19-75 26-120 19-108 19-124 20-145 32-293 15 33-32 287-20 141-19 123-19 105-26 118-19 73-26 82-26 66-25 53-26 43-32 42-39 38-38 28-45 24-52 21-71 22-102 27-843 207-64 12-51 4-39-1-38-10-26-12-19-12-26-24-19-24-20-29-19-37-32-81-32-110-32-149-26-152-26-189z"/><path transform="translate(0 -594)" d="M800 6290l26 189 26 152 32 149 32 110 32 81 19 37 20 29 19 24 26 24 19 12 26 12 38 10 39 1 51-4 64-12 843-207 102-27 71-22 52-21 45-24 38-28 39-38 32-42 26-43 25-53 26-66 26-82 19-73 26-118 19-105 19-123 20-141 32-287 14 35-19 176-19 153-19 132-20 113-19 98-26 109-19 69-26 75-25 61-26 50-32 48-32 37-39 33-39 25-51 24-58 21-70 20-116 30-694 171-110 26-64 11-51 4-39-3-39-10-25-13-20-14-25-25-20-26-19-31-19-39-32-85-32-115-33-155-25-158-26-196z"/><path transform="translate(0 -584)" d="M815 6245l26 196 25 158 33 155 32 115 32 85 19 39 19 31 20 26 25 25 20 14 25 13 39 10 39 3 51-4 64-11 110-26 694-171 116-30 70-20 58-21 51-24 39-25 39-33 32-37 32-48 26-50 25-61 26-75 19-69 26-109 19-98 20-113 19-132 19-153 19-176 15 37-19 172-19 149-20 128-19 111-19 96-26 106-26 87-25 69-26 57-32 55-32 42-39 38-38 28-45 24-52 21-71 22-270 69-572 141-109 25-64 11-52 3-38-4-39-12-26-14-19-15-26-27-19-26-19-33-19-41-33-89-32-120-32-161-26-164-25-203z"/><path transform="translate(0 -574)" d="M830 6201l25 203 26 164 32 161 32 120 33 89 19 41 19 33 19 26 26 27 19 15 26 14 39 12 38 4 52-3 64-11 109-25 572-141 270-69 71-22 52-21 45-24 38-28 39-38 32-42 32-55 26-57 25-69 26-87 26-106 19-96 19-111 20-128 19-149 19-172 15 38-26 219-25 180-33 180-32 140-32 108-19 52-19 44-20 38-19 32-19 27-26 31-39 34-45 30-51 24-64 23-155 42-674 166-116 28-71 15-58 7-45 0-38-7-20-7-19-10-32-24-32-37-32-54-26-59-26-76-25-97-26-122-19-112-26-179-19-161z"/><path transform="translate(0 -564)" d="M845 6159l19 161 26 179 19 112 26 122 25 97 26 76 26 59 32 54 32 37 32 24 19 10 20 7 38 7 45 0 58-7 71-15 116-28 674-166 155-42 64-23 51-24 45-30 39-34 26-31 19-27 19-32 20-38 19-44 19-52 32-108 32-140 33-180 25-180 26-219 15 40-26 213-26 175-32 175-32 136-32 104-19 51-20 43-19 36-26 41-19 25-26 27-38 32-45 28-52 23-70 23-225 59-617 152-116 27-64 12-52 4-38-2-39-10-32-15-32-26-32-39-26-44-26-57-26-74-25-95-20-87-19-103-19-121-19-142-20-166z"/><path transform="translate(0 -554)" d="M859 6119l20 166 19 142 19 121 19 103 20 87 25 95 26 74 26 57 26 44 32 39 32 26 32 15 39 10 38 2 52-4 64-12 116-27 617-152 225-59 70-23 52-23 45-27 38-33 26-27 19-25 26-41 19-36 20-43 19-51 32-104 32-136 32-175 26-175 26-213 15 42-26 207-26 169-32 170-32 131-32 101-20 49-19 42-19 35-26 39-19 24-26 27-38 31-45 26-58 25-71 23-161 42-649 160-109 26-64 13-58 8-45 0-39-6-32-12-32-20-32-32-26-37-26-49-25-63-20-59-25-98-20-90-19-106-19-125-20-146-19-170z"/><path transform="translate(0 -544)" d="M874 6081l19 170 20 146 19 125 19 106 20 90 25 98 20 59 25 63 26 49 26 37 32 32 32 20 32 12 39 6 45 0 58-8 64-13 109-26 649-160 161-42 71-23 58-25 45-26 38-31 26-27 19-24 26-39 19-35 19-42 20-49 32-101 32-131 32-170 26-169 26-207 14 43-25 200-26 165-32 164-32 126-20 62-19 52-19 45-19 38-20 32-25 35-20 22-25 25-39 28-45 25-58 23-71 22-180 46-655 162-103 24-64 11-52 4-38-2-39-10-32-16-32-26-26-30-26-41-25-54-26-70-19-65-26-106-19-98-20-115-19-135-32-277z"/><path transform="translate(0 -534)" d="M889 6045l32 277 19 135 20 115 19 98 26 106 19 65 26 70 25 54 26 41 26 30 32 26 32 16 39 10 38 2 52-4 64-11 103-24 655-162 180-46 71-22 58-23 45-25 39-28 25-25 20-22 25-35 20-32 19-38 19-45 19-52 20-62 32-126 32-164 26-165 25-200 15 45-26 193-25 159-32 158-33 122-32 94-19 45-19 38-20 33-25 36-26 29-26 23-38 27-52 27-58 22-70 21-206 53-636 157-103 23-64 10-52 1-38-5-33-10-32-19-32-29-26-34-25-45-26-60-26-77-19-71-19-84-20-100-19-118-19-139-32-283z"/><path transform="translate(0 -524)" d="M904 6011l32 283 19 139 19 118 20 100 19 84 19 71 26 77 26 60 25 45 26 34 32 29 32 19 33 10 38 5 52-1 64-10 103-23 636-157 206-53 70-21 58-22 52-26 38-28 26-23 26-29 25-36 20-33 19-38 19-45 32-94 33-122 32-158 25-159 26-193 15 45-26 187-25 152-33 153-32 117-32 90-19 43-19 37-20 31-25 34-20 22-25 23-39 28-51 26-58 22-77 23-238 61-617 152-97 21-71 10-45-1-38-6-32-13-32-21-33-34-25-37-26-50-19-47-26-79-19-73-20-87-19-102-19-121-19-141-33-290z"/><path transform="translate(0 -514)" d="M918 5979l33 290 19 141 19 121 19 102 20 87 19 73 26 79 19 47 26 50 25 37 33 34 32 21 32 13 38 6 45 1 71-10 97-21 617-152 238-61 77-23 58-22 51-26 39-28 25-23 20-22 25-34 20-31 19-37 19-43 32-90 32-117 33-153 25-152 26-187 15 46-26 180-26 147-32 146-32 112-32 86-19 41-20 35-19 30-26 33-19 20-26 23-38 26-52 26-58 21-77 23-257 65-598 147-103 22-70 9-39-1-38-7-33-13-32-23-32-34-26-39-25-51-19-48-26-81-19-74-20-89-19-104-19-123-20-145-32-294z"/><path transform="translate(0 -504)" d="M933 5951l32 294 20 145 19 123 19 104 20 89 19 74 26 81 19 48 25 51 26 39 32 34 32 23 33 13 38 7 39 1 70-9 103-22 598-147 257-65 77-23 58-21 52-26 38-26 26-23 19-20 26-33 19-30 20-35 19-41 32-86 32-112 32-146 26-147 26-180 15 47-26 172-26 141-32 140-32 107-32 82-20 40-19 33-19 28-26 32-19 19-26 21-38 25-52 25-64 23-84 23-283 72-572 141-103 21-38 5-32 1-39-3-38-10-33-17-32-28-25-31-26-43-26-56-19-53-19-63-20-76-19-90-19-107-20-125-19-147-32-300z"/><path transform="translate(0 -494)" d="M948 5924l32 300 19 147 20 125 19 107 19 90 20 76 19 63 19 53 26 56 26 43 25 31 32 28 33 17 38 10 39 3 32-1 38-5 103-21 572-141 283-72 84-23 64-23 52-25 38-25 26-21 19-19 26-32 19-28 19-33 20-40 32-82 32-107 32-140 26-141 26-172 14 47-25 165-26 135-32 133-32 103-33 77-19 38-19 32-19 26-26 30-19 18-26 21-45 27-52 23-64 21-96 27-296 74-546 135-103 20-39 4-32 1-39-4-38-13-32-19-26-24-26-32-25-43-26-57-19-54-20-64-19-78-19-91-20-108-19-128-19-149-32-304z"/><path transform="translate(0 -484)" d="M963 5901l32 304 19 149 19 128 20 108 19 91 19 78 20 64 19 54 26 57 25 43 26 32 26 24 32 19 38 13 39 4 32-1 39-4 103-20 546-135 296-74 96-27 64-21 52-23 45-27 26-21 19-18 26-30 19-26 19-32 19-38 33-77 32-103 32-133 26-135 25-165 15 47-26 158-25 129-33 127-32 97-32 74-19 35-19 30-20 25-25 28-20 18-25 19-45 26-58 24-71 22-122 33-810 200-103 20-38 4-33 0-38-6-32-11-32-20-26-24-26-33-26-44-25-57-20-55-19-65-19-79-19-93-20-109-19-129-19-151-32-309z"/><path transform="translate(0 -474)" d="M978 5880l32 309 19 151 19 129 20 109 19 93 19 79 19 65 20 55 25 57 26 45 26 32 26 24 32 20 32 11 38 6 33 0 38-4 103-20 810-200 122-33 71-22 58-24 45-26 25-19 20-18 25-28 20-25 19-30 19-35 32-74 32-97 33-127 25-129 26-158 15 47-26 151-26 122-25 99-32 97-33 74-19 35-19 30-19 26-26 27-19 18-26 19-52 29-64 25-83 25-161 42-765 189-97 17-38 3-32-1-39-7-32-13-32-22-26-26-26-36-25-47-26-63-19-59-20-70-19-84-19-99-19-118-33-242-32-312z"/><path transform="translate(0 -464)" d="M992 5862l32 312 33 242 19 118 19 99 19 84 20 70 19 59 26 63 25 47 26 36 26 26 32 22 32 13 39 7 32 1 38-3 97-17 765-189 161-42 83-25 64-25 52-29 26-19 19-18 26-27 19-26 19-29 19-36 33-74 32-97 25-99 26-122 26-151 15 47-26 143-26 116-26 94-32 92-32 70-19 33-19 28-20 24-19 20-26 22-25 18-26 15-32 15-77 28-110 30-237 61-656 161-90 15-39 3-32-2-38-8-33-15-32-24-25-29-26-39-19-37-26-64-19-59-20-71-19-84-19-101-20-118-32-245-32-315z"/><path transform="translate(0 -454)" d="M1007 5847l32 315 32 245 20 118 19 101 19 84 20 71 19 59 26 64 19 37 26 39 25 29 32 24 33 15 38 8 32 2 39-3 90-15 656-161 237-61 110-30 77-28 32-15 26-15 25-18 26-22 19-20 20-24 19-28 19-33 32-70 32-92 26-94 26-116 26-143 14 47-25 136-26 109-26 89-32 86-32 66-19 31-20 26-38 41-26 21-26 17-32 17-32 14-83 28-187 50-283 71-424 105-109 25-52 10-38 4-32 1-33-2-32-8-32-14-32-25-26-29-25-39-20-38-25-63-20-60-19-71-19-85-20-102-19-119-32-246-32-318z"/><path transform="translate(0 -444)" d="M1022 5835l32 318 32 246 19 119 20 102 19 85 19 71 20 60 25 63 20 38 25 39 26 29 32 25 32 14 32 8 33 2 32-1 38-4 52-10 109-25 424-105 283-71 187-50 83-28 32-14 32-17 26-17 26-21 38-41 20-26 19-31 32-66 32-86 26-89 26-109 25-136 15 46-26 128-25 104-26 83-32 81-32 61-20 29-19 25-38 38-26 20-26 16-38 19-39 15-116 35-302 78-546 135-103 24-71 13-51 4-45-3-32-9-32-17-33-26-25-32-26-42-19-40-26-68-19-64-20-76-19-91-32-189-32-248-32-319z"/><path transform="translate(0 -434)" d="M1037 5827l32 319 32 248 32 189 19 91 20 76 19 64 26 68 19 40 26 42 25 32 33 26 32 17 32 9 45 3 51-4 71-13 103-24 546-135 302-78 116-35 39-15 38-19 26-16 26-20 38-38 19-25 20-29 32-61 32-81 26-83 25-104 26-128 15 45-26 121-25 97-26 78-32 76-32 57-20 27-19 23-39 36-45 29-38 19-39 15-122 36-302 79-546 135-103 25-71 13-51 4-45-3-33-9-32-16-32-27-26-31-25-42-20-41-25-68-20-64-19-76-19-91-32-190-32-248-33-321z"/><path transform="translate(0 -424)" d="M1051 5821l33 321 32 248 32 190 19 91 19 76 20 64 25 68 20 41 25 42 26 31 32 27 32 16 33 9 45 3 51-4 71-13 103-24 546-136 302-79 122-36 39-15 38-19 45-29 39-36 19-23 20-27 32-57 32-76 26-78 25-97 26-121 15 44-26 114-26 91-25 73-33 71-32 53-19 25-19 21-39 33-45 28-38 17-45 17-142 40-289 76-566 140-90 20-64 11-51 3-39-5-32-9-32-18-26-22-26-31-25-42-20-40-25-68-20-64-19-76-19-91-32-190-33-249-32-322z"/><path transform="translate(0 -415)" d="M1066 5818l32 322 33 249 32 190 19 91 19 76 20 64 25 68 20 40 25 42 26 31 26 22 32 18 32 9 39 5 51-3 64-11 90-20 566-140 289-76 142-40 45-17 38-17 45-28 39-33 19-21 19-25 32-53 33-71 25-73 26-91 26-114 15 44-20 81-25 90-26 72-32 70-32 52-33 39-38 34-26 17-26 14-45 20-51 18-199 55-251 66-553 136-90 20-58 9-51 2-39-5-32-10-32-20-26-24-25-33-26-45-19-42-20-53-19-63-19-76-20-91-32-190-32-249-32-321z"/><path transform="translate(0 -405)" d="M1081 5819l32 321 32 249 32 190 20 91 19 76 19 63 20 53 19 42 26 45 25 33 26 24 32 20 32 10 39 5 51-2 58-9 90-20 553-136 251-66 199-55 51-18 45-20 26-14 26-17 38-34 33-39 32-52 32-70 26-72 25-90 20-81 14 41-19 77-26 83-25 67-33 64-32 48-32 36-38 32-26 16-26 13-45 19-58 19-263 73-206 52-534 132-83 19-58 9-51 3-39-5-32-11-32-19-26-23-26-33-25-44-20-42-19-52-19-63-19-76-20-90-32-189-32-249-32-321z"/><path transform="translate(0 -395)" d="M1096 5822l32 321 32 249 32 189 20 90 19 76 19 63 19 52 20 42 25 44 26 33 26 23 32 20 32 10 39 5 51-3 58-9 83-19 534-132 206-52 263-73 58-19 45-19 26-13 26-16 38-32 32-36 32-48 33-64 25-67 26-83 19-77 15 41-19 71-26 77-26 62-32 59-32 44-32 33-39 29-45 25-45 18-57 19-290 80-193 49-540 134-77 17-58 9-51 2-39-6-32-11-32-21-26-25-25-34-26-47-19-45-20-55-19-67-19-79-19-95-33-199-32-261-25-262z"/><path transform="translate(0 -385)" d="M1111 5829l25 262 32 261 33 199 19 95 19 79 19 67 20 55 19 45 26 47 25 34 26 25 32 21 32 11 39 6 51-2 58-9 77-17 540-134 193-49 290-80 57-19 45-18 45-25 39-29 32-33 32-44 32-59 26-62 26-77 19-71 15 38-19 66-26 72-26 57-32 54-32 40-32 31-39 26-45 23-45 17-64 20-309 86-173 44-547 135-77 17-58 8-45 1-38-6-32-13-26-17-26-24-26-34-25-46-20-44-19-55-19-65-19-79-20-94-32-198-32-259-26-261z"/><path transform="translate(0 -375)" d="M1125 5838l26 261 32 259 32 198 20 94 19 79 19 66 19 54 20 44 25 46 26 34 26 24 26 17 32 13 38 6 45-1 58-8 77-17 547-135 173-44 309-86 64-20 45-17 45-23 39-26 32-31 32-40 32-54 26-57 26-72 19-66 15 37-20 61-25 66-26 52-26 41-32 39-32 29-39 26-45 22-45 17-57 18-328 92-714 177-77 18-58 8-45 1-38-5-33-12-25-16-26-24-26-33-25-45-20-44-19-53-19-65-20-78-19-93-32-195-32-257-26-260z"/><path transform="translate(0 -365)" d="M1140 5850l26 260 32 257 32 195 19 93 20 78 19 65 19 53 20 44 25 45 26 33 26 24 25 16 33 12 38 5 45-1 58-8 77-17 714-178 328-92 57-18 45-17 45-22 39-26 32-29 32-39 26-41 26-52 25-66 20-61 14 35-19 56-26 61-25 47-26 37-32 36-32 26-39 24-45 20-103 34-334 95-714 177-77 17-58 9-45 1-38-6-32-13-26-17-26-25-19-25-26-44-19-43-19-52-20-64-19-77-19-92-32-193-32-254-26-258z"/><path transform="translate(0 -355)" d="M1155 5865l26 258 32 254 32 193 19 92 19 77 20 64 19 52 19 43 26 44 19 25 26 25 26 17 32 13 38 6 45-1 58-9 77-17 714-177 334-95 103-34 45-20 39-24 32-26 32-36 26-37 25-47 26-61 19-56 15 33-19 51-26 56-26 43-25 34-32 32-33 24-38 21-45 19-103 33-334 96-714 178-77 17-58 9-45 2-38-6-32-12-26-16-26-24-19-24-26-43-19-42-19-51-20-62-19-76-19-90-32-191-33-251-25-255z"/><path transform="translate(0 -345)" d="M1170 5883l25 255 33 251 32 191 19 90 19 76 20 62 19 51 19 42 26 43 19 24 26 24 26 16 32 12 38 6 45-2 58-9 77-17 714-178 334-96 103-33 45-19 38-21 33-24 32-32 25-34 26-43 26-56 19-51 15 31-19 47-26 50-26 39-25 31-26 23-32 24-39 20-45 19-64 21-212 63-167 48-720 179-78 17-57 9-45 1-39-6-32-12-26-18-26-25-19-25-26-45-19-44-19-53-19-65-33-140-32-187-32-248-26-252z"/><path transform="translate(0 -335)" d="M1184 5903l26 252 32 248 32 187 33 140 19 65 19 53 19 44 26 45 19 25 26 25 26 18 32 12 39 6 45-1 57-9 78-17 720-179 167-48 212-63 64-21 45-19 39-20 32-24 26-23 25-31 26-39 26-50 19-47 15 29-20 42-25 46-26 35-26 27-25 22-33 21-38 19-45 17-289 89-148 43-739 183-78 17-51 8-45 1-39-7-32-13-25-18-26-26-19-27-20-34-19-42-19-52-20-63-32-137-32-184-32-244-26-248z"/><path transform="translate(0 -325)" d="M1199 5926l26 248 32 244 32 184 32 137 20 63 19 52 19 42 20 34 19 27 26 26 25 18 32 13 39 7 45-1 51-8 78-17 739-183 148-43 289-89 45-17 38-19 33-21 25-22 26-27 26-35 25-46 20-42 15 27-20 38-25 41-26 31-26 25-26 19-32 19-38 18-45 16-296 93-135 38-739 184-77 18-58 9-45 2-39-5-32-13-26-17-25-25-20-25-19-33-19-40-20-51-19-62-32-133-32-180-32-240-26-244z"/><path transform="translate(0 -315)" d="M1214 5951l26 244 32 240 32 180 32 133 19 62 20 51 19 40 19 33 20 25 25 25 26 17 32 13 39 5 45-2 58-9 77-18 739-184 135-38 296-93 45-16 38-18 32-19 26-19 26-25 26-31 25-41 20-38 14 25-19 34-26 36-25 28-26 22-26 17-32 18-39 16-51 18-283 90-135 39-752 187-77 18-58 9-45 2-38-6-26-9-26-16-26-24-19-24-19-31-19-40-20-48-19-60-32-130-32-176-32-235-26-239z"/><path transform="translate(0 -305)" d="M1229 5979l26 239 32 235 32 176 32 130 19 60 20 48 19 40 19 31 19 24 26 24 26 16 26 9 38 6 45-2 58-9 77-18 752-187 135-39 283-90 51-18 39-16 32-18 26-17 26-22 25-28 26-36 19-34 15 22-26 39-32 37-38 31-39 22-32 15-45 16-315 103-96 29-103 28-746 183-51 11-45 5-33 1-32-5-25-8-26-15-26-22-19-23-19-30-20-37-19-47-19-58-20-71-12-55-33-172-32-229-25-235z"/><path transform="translate(0 -295)" d="M1244 6008l25 235 32 229 33 172 12 55 20 71 19 58 19 47 20 37 19 30 19 23 26 22 26 15 25 8 32 5 33 0 45-6 51-11 746-183 103-28 96-29 315-103 45-16 32-14 39-23 38-31 32-37 26-39 15 20-26 35-32 32-32 24-39 21-70 28-360 120-161 44-765 189-51 10-39 5-32 0-32-5-26-9-26-15-25-23-20-23-19-31-19-39-20-48-19-60-19-73-13-57-32-177-26-184-26-230z"/><path transform="translate(0 -285)" d="M1258 6039l26 230 26 184 32 177 13 57 19 73 19 60 20 48 19 39 19 31 20 23 25 23 26 15 26 9 32 5 32 0 39-5 51-10 765-189 161-44 360-120 70-28 39-21 32-24 32-32 26-35 15 18-26 30-32 29-32 21-39 20-51 19-283 98-109 35-142 39-778 192-45 9-38 5-32 1-33-3-25-8-26-14-26-21-19-22-19-30-20-37-19-46-19-57-19-71-13-55-32-172-26-179-26-224z"/><path transform="translate(0 -275)" d="M1273 6072l26 224 26 179 32 172 13 55 19 71 19 57 19 46 20 37 19 30 19 22 26 21 26 14 25 8 33 3 32-1 38-5 45-9 778-192 142-39 109-35 283-98 51-19 39-20 32-21 32-29 26-30 14 15-25 27-26 21-32 20-39 19-347 124-116 37-115 31-245 59-552 138-45 9-39 5-32 2-32-4-26-8-26-14-25-22-20-23-19-30-19-38-19-47-13-38-20-68-12-53-33-167-25-174-26-218z"/><path transform="translate(0 -265)" d="M1288 6106l26 218 25 174 33 167 12 53 20 68 13 38 19 47 19 38 19 30 20 23 25 22 26 14 26 8 32 4 32-2 39-5 45-9 552-138 245-59 115-31 116-37 347-124 39-19 32-20 26-21 25-27 15 14-19 18-26 20-32 19-32 14-174 63-180 67-122 40-96 26-257 61-270 69-302 74-45 9-39 5-32 1-26-4-26-8-25-14-20-16-19-21-19-29-19-35-20-46-13-36-19-65-13-51-32-161-26-168-25-212z"/><path transform="translate(0 -255)" d="M1303 6142l25 212 26 168 32 161 13 51 19 65 13 36 20 46 19 35 19 29 19 21 20 16 25 14 26 8 26 4 32-1 39-5 45-9 302-74 270-69 257-61 96-26 122-40 180-67 174-63 32-14 32-19 26-20 19-18 15 11-19 16-26 17-26 14-32 14-154 56-199 78-123 40-102 27-264 62-270 70-302 74-45 10-32 4-32 1-26-2-26-7-26-13-19-14-19-20-19-26-20-34-19-43-13-35-19-62-13-49-19-86-13-68-26-163-25-206z"/><path transform="translate(0 -245)" d="M1318 6178l25 206 26 163 13 68 19 86 13 49 19 62 13 35 19 43 20 34 19 26 19 20 19 14 26 13 26 7 26 2 32-1 32-4 45-10 302-74 270-70 264-62 102-27 123-40 199-78 154-56 32-14 26-14 26-17 19-16 15 10-39 25-51 24-154 58-206 82-64 23-58 18-97 25-270 62-283 75-302 74-45 10-32 4-32 2-26-3-25-7-26-13-19-14-20-20-19-27-19-34-20-44-12-35-20-64-13-50-25-122-26-157-26-199z"/><path transform="translate(0 -235)" d="M1332 6216l26 199 26 157 25 122 13 50 20 64 12 35 20 44 19 34 19 27 20 20 19 14 26 13 25 7 26 3 32-2 32-4 45-10 302-74 283-75 270-62 97-25 58-18 64-23 206-82 154-58 51-24 39-25 15 7-33 20-45 20-147 56-213 88-64 24-64 20-97 25-270 61-295 78-302 75-45 10-33 5-25 1-26-1-26-6-25-11-20-13-19-19-19-24-20-32-19-42-13-33-19-60-13-48-26-117-25-151-26-191z"/><path transform="translate(0 -225)" d="M1347 6255l26 192 25 150 26 117 13 48 19 60 13 33 19 42 20 32 19 24 19 19 20 13 25 11 26 6 26 1 25-1 33-5 45-10 302-75 295-78 270-61 97-25 64-20 64-24 213-88 147-56 45-20 33-20 14 6-51 26-154 60-206 90-71 26-70 23-97 25-186 39-90 21-309 84-308 77-71 13-26 2-26-2-25-5-26-11-19-14-20-18-19-25-13-21-19-38-13-32-19-57-13-45-26-111-25-145-26-184z"/><path transform="translate(0 -215)" d="M1362 6294l26 184 25 145 26 111 13 45 19 57 13 32 19 38 13 21 19 25 20 18 19 14 26 11 25 5 26 2 26-2 71-13 308-77 309-84 90-21 186-39 97-25 70-22 71-27 206-90 154-60 51-26 15 4-45 21-148 59-218 99-65 25-64 20-96 25-187 37-96 23-322 89-308 77-64 12-26 3-26 0-26-5-25-9-20-12-19-16-19-23-13-19-19-36-13-30-19-53-13-43-26-106-26-138-25-177z"/><path transform="translate(0 -205)" d="M1377 6333l25 177 26 138 26 106 13 43 19 53 13 30 19 36 13 19 19 23 19 16 20 12 25 9 26 5 26 0 26-3 64-12 308-77 322-89 96-23 187-37 96-25 64-20 65-25 218-99 148-59 45-21 15 3-174 72-225 106-64 26-58 19-96 24-199 38-97 22-90 24-244 72-315 78-64 13-45 1-26-4-26-9-19-12-19-16-20-23-13-20-19-36-13-29-19-55-13-43-26-107-25-141-20-131z"/><path transform="translate(0 -195)" d="M1391 6372l20 131 25 141 26 107 13 43 19 55 13 29 19 36 13 20 20 23 19 16 19 12 26 9 26 4 45-1 64-13 315-78 244-72 90-24 97-22 199-38 96-24 58-19 64-26 225-106 174-72 15 2-155 64-173 88-58 27-64 26-58 19-97 24-192 34-90 19-97 26-218 66-116 32-277 68-45 8-38 1-26-4-19-6-19-10-20-15-19-21-13-17-19-34-13-27-19-51-13-40-26-102-26-133-19-125z"/><path transform="translate(0 -185)" d="M1406 6412l19 125 26 133 26 102 13 40 19 51 13 27 19 34 13 17 19 21 20 15 19 10 19 6 26 4 38-1 45-8 277-68 116-32 218-66 97-26 90-19 192-34 97-24 58-19 64-26 58-27 173-88 155-64 14 1-83 34-58 26-174 92-57 28-58 24-58 20-52 14-51 11-199 33-103 21-97 27-205 66-109 31-290 72-45 8-38 3-26-2-19-5-20-9-19-13-19-18-13-16-19-31-13-25-19-47-13-38-26-96-26-126-19-119z"/><path transform="translate(0 -175)" d="M1421 6451l19 119 26 126 26 96 13 38 19 47 13 25 19 31 13 16 19 18 19 13 20 9 19 5 26 2 38-3 45-8 290-72 109-31 205-66 97-27 103-21 199-33 51-11 52-14 58-19 58-25 57-28 174-92 58-26 83-34 15 0-70 30-58 27-167 93-58 30-58 25-58 21-51 14-52 11-212 30-103 21-103 29-205 69-110 33-302 75-45 9-32 2-26-2-19-5-19-8-20-13-19-18-13-16-19-31-13-25-26-66-25-90-26-119-19-112z"/><path transform="translate(0 -165)" d="M1436 6490l19 112 26 119 25 90 26 66 13 25 19 31 13 16 19 18 20 13 19 8 19 5 26 2 32-2 45-9 302-75 110-33 205-69 103-29 103-21 212-30 52-11 51-14 58-21 58-25 58-30 167-93 58-27 70-30 15 0-64 28-52 26-160 93-65 35-58 26-57 21-52 14-51 10-219 27-58 10-51 11-103 30-212 75-103 33-302 76-45 9-32 3-26 0-19-4-19-7-20-11-19-16-13-14-19-28-13-23-26-60-25-84-26-112-19-106z"/><path transform="translate(0 -155)" d="M1451 6528l19 106 26 112 25 84 26 60 13 23 19 28 13 14 19 16 20 11 19 7 19 4 26 0 32-3 45-9 302-76 103-33 212-75 103-30 51-11 58-10 219-27 51-10 52-14 57-21 58-26 65-35 160-93 52-26 64-28 15-1-52 23-51 28-161 98-58 33-57 28-58 21-52 14-51 10-58 7-174 16-57 9-58 12-52 15-51 16-212 81-103 34-71 19-238 60-45 9-32 4-26 0-19-4-19-6-13-7-19-14-13-12-19-25-13-21-26-56-26-77-25-105-20-100z"/><path transform="translate(0 -145)" d="M1465 6565l20 100 25 105 26 77 26 56 13 21 19 25 13 12 19 14 13 7 19 6 19 4 26 0 32-4 45-9 238-60 71-19 103-34 212-81 51-16 52-15 58-12 57-9 174-16 58-7 51-10 52-14 58-21 57-28 58-33 161-98 51-28 52-23 15-1-45 22-52 29-148 96-58 35-57 29-58 23-52 14-58 10-57 6-180 11-58 7-58 12-52 15-57 19-213 87-102 36-84 24-231 58-39 8-32 5-26 1-19-2-19-5-20-9-19-13-13-13-25-34-26-51-26-71-26-98-19-94z"/><path transform="translate(0 -135)" d="M1480 6601l19 94 26 98 26 71 26 51 25 34 13 13 19 13 20 9 19 5 19 2 26-1 32-5 39-8 231-58 84-24 102-36 213-87 57-19 52-15 58-12 58-7 180-11 57-6 58-10 52-14 58-23 57-29 58-35 148-96 52-29 45-22 14-1-38 21-45 27-142 97-57 37-65 34-58 22-51 14-58 9-58 3-180 5-64 7-58 11-58 17-58 21-218 96-103 38-84 25-231 58-39 9-32 5-25 1-20-2-32-9-19-12-13-11-26-30-25-46-26-65-26-91-19-88z"/><path transform="translate(0 -125)" d="M1495 6636l19 88 26 91 26 65 25 46 26 30 13 11 19 12 32 9 20 2 25-1 32-5 39-9 231-58 84-25 103-38 218-96 58-21 58-17 58-11 64-7 180-5 58-3 58-9 51-14 58-22 65-34 57-37 142-97 45-27 38-21 15 0-71 43-135 99-57 38-65 36-58 23-51 14-58 8-64 3-129-4-58 1-64 5-64 13-58 17-58 22-58 26-167 81-51 22-52 19-51 16-58 16-225 56-51 10-26 2-19-1-33-9-19-11-13-11-25-30-26-45-19-47-26-83-19-82z"/><path transform="translate(0 -115)" d="M1510 6670l19 82 26 83 19 47 26 45 25 30 13 11 19 11 33 9 19 1 26-2 51-10 225-56 58-16 51-16 52-19 51-22 167-81 58-26 58-22 58-17 64-13 64-5 58-1 129 4 64-3 58-8 51-14 58-23 65-36 57-38 135-99 71-43 15 0-64 43-123 95-57 41-65 37-57 25-58 15-58 6-64 0-135-10-58-2-65 4-64 11-58 18-64 26-58 28-167 89-58 26-51 21-52 17-51 14-232 58-45 10-25 2-20 0-32-6-19-9-13-9-26-26-25-40-20-42-25-77-20-75z"/><path transform="translate(0 -105)" d="M1524 6703l20 75 25 77 20 42 25 40 26 26 13 9 19 9 32 6 20 0 25-2 45-10 232-58 51-14 52-17 51-21 58-26 167-89 58-28 64-26 58-18 64-11 65-4 58 2 135 10 64 0 58-6 58-15 57-25 65-37 57-41 123-95 64-43 15 1-52 38-122 99-58 43-32 21-32 18-58 24-26 8-32 6-58 5-64-4-135-18-64-5-39 0-32 3-64 11-58 19-64 28-58 31-174 100-58 29-51 22-51 18-52 15-238 60-38 8-39 4-32-4-19-7-13-7-26-23-26-35-25-53-20-55-19-69z"/><path transform="translate(0 -95)" d="M1539 6734l19 69 20 55 25 53 26 35 26 23 13 7 19 7 32 4 39-4 38-8 238-60 52-15 51-18 51-22 58-29 174-100 58-31 64-28 58-19 64-11 32-3 39 0 64 5 135 18 64 4 58-5 32-6 26-8 58-24 32-18 32-21 58-43 122-99 52-38 14 2-51 42-109 94-52 40-32 22-32 19-32 15-26 10-26 8-32 6-32 3-32 0-64-6-142-28-64-9-38-1-33 1-32 4-32 7-32 9-32 12-64 31-58 34-180 114-58 31-52 24-51 19-51 15-277 69-38 5-33-4-19-6-13-7-25-21-26-35-19-37-20-49-19-64z"/><path transform="translate(0 -85)" d="M1554 6763l19 64 20 49 19 37 26 35 25 21 13 7 19 6 33 4 38-5 277-68 51-16 51-19 52-24 58-31 180-114 58-34 64-31 32-12 32-9 32-7 32-4 33-1 38 1 64 9 142 28 64 6 32 0 32-3 32-6 26-8 26-9 32-16 32-19 32-22 52-40 109-94 51-42 15 4-141 127-52 43-32 23-32 20-32 16-26 11-25 7-33 6-32 3-32-1-32-4-39-7-141-39-64-12-39-4-32 0-39 3-32 6-32 10-32 12-64 32-65 41-180 127-57 34-52 26-51 21-58 19-270 68-45 6-32-2-26-9-26-17-25-30-20-33-19-45-19-58z"/><path transform="translate(0 -75)" d="M1569 6790l19 58 19 45 20 33 25 30 26 17 26 9 32 2 45-6 270-68 58-19 51-21 52-26 57-34 180-127 65-41 64-32 32-12 32-10 32-6 39-3 32 0 39 4 64 13 141 38 39 7 32 4 32 1 32-3 33-6 25-7 26-11 32-16 32-20 32-23 52-43 141-127 15 5-122 117-58 51-32 24-32 20-32 16-26 10-26 7-32 5-32 1-32-2-32-6-39-10-148-53-64-17-39-6-38-1-39 3-32 6-32 10-32 14-32 16-39 23-64 46-122 97-58 43-58 38-51 28-52 23-58 19-270 69-38 7-32 0-26-6-26-15-26-25-19-29-19-40-19-52z"/><path transform="translate(0 -65)" d="M1584 6816l19 52 19 40 19 29 26 25 26 15 26 6 32 0 38-7 270-69 58-19 52-23 51-28 58-38 58-43 122-97 64-46 39-23 32-16 32-14 32-10 32-6 39-3 38 1 39 6 64 17 148 53 39 10 32 6 32 2 32-1 32-5 26-7 26-10 32-16 32-20 32-24 58-51 122-117 15 6-116 118-38 36-33 26-38 26-32 17-32 12-33 8-25 3-32-1-33-4-32-8-58-22-147-66-39-14-39-9-38-5-39 0-32 4-38 11-26 10-32 16-32 19-33 22-64 52-122 107-51 43-58 42-58 35-58 27-58 21-263 67-39 7-32 1-26-5-26-14-19-17-19-25-19-34-20-47z"/><path transform="translate(0 -55)" d="M1598 6840l20 47 19 34 19 25 19 17 26 14 26 5 32-1 39-7 263-67 58-21 58-27 58-35 58-42 51-43 122-107 64-52 33-22 32-19 32-16 26-10 38-11 32-4 39 0 38 5 39 9 39 14 147 66 58 22 32 8 33 4 32 1 25-3 33-8 32-12 32-17 38-26 33-26 38-36 116-118 15 9-97 104-64 60-32 25-32 19-33 15-25 8-26 5-32 2-32-4-32-7-33-12-38-18-142-79-64-30-38-12-33-6-38-3-32 3-32 7-39 15-32 17-39 25-38 29-39 34-160 156-78 67-45 33-38 24-39 19-45 19-64 20-122 30-103 27-39 8-32 1-19-2-19-7-20-12-12-12-13-15-13-19-26-52z"/><path transform="translate(0 -45)" d="M1613 6862l26 52 13 19 13 15 12 12 20 12 19 7 19 2 32-1 39-8 103-27 122-30 64-20 45-18 39-20 38-24 45-33 78-67 160-156 39-34 38-29 39-25 32-17 39-15 32-7 32-3 38 3 33 6 38 12 64 30 142 79 38 18 33 12 32 7 32 4 32-2 26-5 25-8 33-15 32-19 32-25 64-60 97-104 14 10-64 74-38 41-39 37-32 26-39 24-32 15-32 9-32 3-26-2-32-7-26-8-32-15-58-34-141-96-39-22-32-15-38-13-39-6-39 0-32 6-32 11-32 15-32 20-32 25-39 33-38 38-155 167-70 70-39 33-39 28-38 24-45 23-45 17-52 15-115 28-110 29-25 5-26 3-19-1-20-5-19-9-13-10-13-12-12-17-26-46z"/><path transform="translate(0 -35)" d="M1628 6881l26 46 12 17 13 12 13 10 19 9 20 5 19 1 26-3 25-5 110-29 115-28 52-15 45-17 45-23 38-24 39-28 39-33 70-70 155-167 38-38 39-33 32-25 32-20 32-15 32-11 32-6 39 0 39 6 38 13 32 15 39 22 141 96 58 34 32 15 26 8 32 7 26 2 32-3 32-9 32-15 39-24 32-26 39-37 38-41 64-74 15 12-51 62-39 44-38 38-33 26-38 25-32 13-32 8-33 1-25-3-32-10-26-11-32-18-58-41-142-116-38-27-39-22-38-16-39-9-38-1-39 7-32 12-32 17-32 22-39 33-32 32-39 42-154 186-71 78-38 37-39 32-38 28-39 22-51 23-52 16-128 31-103 28-26 6-26 3-32-3-19-7-13-7-13-11-13-13-12-18-13-22z"/><path transform="translate(0 -25)" d="M1643 6899l13 22 12 18 13 14 13 10 13 7 19 7 32 3 26-3 26-6 103-27 128-32 52-16 51-23 39-22 38-28 39-32 38-37 71-78 154-186 39-42 32-32 39-33 32-22 32-17 32-12 39-7 38 1 39 9 38 16 39 22 38 27 142 116 58 41 32 18 26 11 32 10 25 3 33-1 32-8 32-13 38-25 33-26 38-38 39-44 51-62 15 15-45 56-39 44-38 38-32 26-39 23-32 11-32 5-32-2-26-7-32-13-26-15-32-23-58-50-141-137-39-32-38-27-39-19-39-12-38-3-39 6-32 12-38 22-33 25-38 36-39 43-38 47-148 200-71 88-38 42-39 36-32 27-39 26-51 27-58 21-148 36-96 27-39 7-32 0-19-4-13-6-13-8-13-11-13-15-13-19z"/><path transform="translate(0 -15)" d="M1657 6915l13 19 13 15 13 11 13 8 13 6 19 4 32 0 39-7 96-27 148-36 58-21 51-27 39-26 32-27 39-36 38-42 71-88 148-200 38-47 39-43 38-36 33-25 38-22 32-12 39-6 38 3 39 12 39 19 38 27 39 32 141 137 58 50 32 23 26 15 32 13 26 7 32 2 32-5 32-11 39-23 32-26 38-38 39-44 45-56 15 16-39 50-38 45-39 37-32 25-32 18-32 10-33 3-32-5-25-9-33-17-25-18-32-27-58-59-142-162-38-38-39-33-45-28-38-15-20-4-19-1-19 1-20 4-32 12-38 23-39 32-38 41-39 47-39 53-154 233-64 89-39 47-38 42-32 30-39 29-26 17-32 17-58 23-45 13-109 26-90 25-32 7-32 2-19-2-13-4-26-15-13-13-13-16z"/><path transform="translate(0 -5)" d="M1672 6928l13 16 13 13 26 15 13 4 19 2 32-2 32-7 90-25 109-26 45-13 58-23 32-17 26-17 39-29 32-30 38-42 39-47 64-89 154-233 39-53 39-47 38-41 39-32 38-23 32-12 20-4 19-1 19 2 20 3 38 15 45 28 39 33 38 38 142 162 58 59 32 27 25 18 33 17 25 9 32 5 33-3 32-10 32-18 32-25 39-37 38-45 39-50 15 17-39 51-39 44-32 30-32 24-32 15-32 7-32-1-32-9-26-13-32-22-26-23-32-33-58-71-141-188-39-45-39-38-25-20-20-13-38-19-26-6-19-1-19 1-20 4-32 14-38 25-39 36-39 45-38 53-39 59-154 260-71 110-38 52-32 39-33 34-38 34-26 19-32 20-26 13-32 13-45 14-116 27-115 32-32 4-33-3-25-11-13-10-13-13z"/></g></g><path class="a" stroke-width="1.4" d="M168.7 700.7L361.6 653.1M168.7 700.7L20.9 637.3M168.7 700.7l5 2.1M188.1 695.9l5 2.1M207.4 691.1l5 2.1M226.8 686.4l5 2.1M246.1 681.6l5 2.1M265.5 676.8l5 2.1M284.9 672l5 2.1M304.2 667.2l5 2.1M323.6 662.5l5 2.1M343 657.7l5 2.1M168.7 700.7l-5.2 1.3M153.9 694.3l-5.2 1.3M139 688l-5.2 1.3M124.2 681.6l-5.2 1.3M109.3 675.2l-5.2 1.3M94.5 668.9l-5.2 1.3M79.7 662.5l-5.2 1.3M64.8 656.1l-5.2 1.3M50 649.8l-5.2 1.3M35.1 643.4l-5.2 1.3"/><path fill="none" stroke="#444" stroke-width="1.5" d="M20.9 637.3L20.9 503.5"/><path class="t" d="M20.9 637.3l-5 -2.1M20.9 613.8l-5 -2.1M20.9 590.4l-5 -2.1M20.9 566.9l-5 -2.1M20.9 543.5l-5 -2.1M20.9 520l-5 -2.1"/><text transform="translate(191.22 450.97) scale(.43 1)" font-size="10.77" text-anchor="middle" font-weight="bold">Parameter space</text><text transform="translate(175.37 714.06) scale(.43 1)" font-size="9.79">-5</text><text transform="translate(194.73 709.28) scale(.43 1)" font-size="9.79">-4</text><text transform="translate(214.09 704.5) scale(.43 1)" font-size="9.79">-3</text><text transform="translate(233.45 699.72) scale(.43 1)" font-size="9.79">-2</text><text transform="translate(252.82 694.94) scale(.43 1)" font-size="9.79">-1</text><text transform="translate(272.18 690.16) scale(.43 1)" font-size="9.79">0</text><text transform="translate(291.54 685.38) scale(.43 1)" font-size="9.79">1</text><text transform="translate(310.9 680.61) scale(.43 1)" font-size="9.79">2</text><text transform="translate(330.27 675.83) scale(.43 1)" font-size="9.79">3</text><text transform="translate(349.63 671.05) scale(.43 1)" font-size="9.79">4</text><text transform="translate(162.52 713.18) scale(.43 1)" font-size="9.79" text-anchor="end">-5</text><text transform="translate(147.68 706.82) scale(.43 1)" font-size="9.79" text-anchor="end">-4</text><text transform="translate(132.85 700.45) scale(.43 1)" font-size="9.79" text-anchor="end">-3</text><text transform="translate(118.01 694.09) scale(.43 1)" font-size="9.79" text-anchor="end">-2</text><text transform="translate(103.17 687.72) scale(.43 1)" font-size="9.79" text-anchor="end">-1</text><text transform="translate(88.33 681.36) scale(.43 1)" font-size="9.79" text-anchor="end">0</text><text transform="translate(73.49 674.99) scale(.43 1)" font-size="9.79" text-anchor="end">1</text><text transform="translate(58.65 668.62) scale(.43 1)" font-size="9.79" text-anchor="end">2</text><text transform="translate(43.81 662.26) scale(.43 1)" font-size="9.79" text-anchor="end">3</text><text transform="translate(28.97 655.89) scale(.43 1)" font-size="9.79" text-anchor="end">4</text><text transform="translate(14.53 639.16) scale(.43 1)" font-size="9.79" text-anchor="end">0</text><text transform="translate(14.53 615.7) scale(.43 1)" font-size="9.79" text-anchor="end">0.5</text><text transform="translate(14.53 592.24) scale(.43 1)" font-size="9.79" text-anchor="end">1</text><text transform="translate(14.53 568.78) scale(.43 1)" font-size="9.79" text-anchor="end">1.5</text><text transform="translate(14.53 545.31) scale(.43 1)" font-size="9.79" text-anchor="end">2</text><text transform="translate(14.53 521.85) scale(.43 1)" font-size="9.79" text-anchor="end">2.5</text><text transform="translate(232.37 724.74) scale(.43 1)" font-size="10.77" text-anchor="middle">x<tspan dy="4.52" font-size="8.62">1</tspan></text><text transform="translate(114.97 720.54) scale(.43 1)" font-size="10.77" text-anchor="middle">x<tspan dy="4.52" font-size="8.62">2</tspan></text><text transform="translate(3.54 571.5) scale(.43 1) rotate(-90)" font-size="11.85" text-anchor="middle">F18( x<tspan dy="3.55" font-size="9.48">1</tspan><tspan dy="-3.55"> , x</tspan><tspan dy="3.55" font-size="9.48">2</tspan><tspan dy="-3.55"> )</tspan></text><text transform="translate(10.4 481.8) scale(.43 1)" font-size="9.79">×10<tspan dy="-4.41" font-size="7.83">8</tspan></text><text class="b" x="117.3" y="830.9">F18</text></g>
<g id="F19"><g clip-path="url(#gF19)"><path class="g" d="M723.5 704.6L546.5 642.2M746.5 699.8L569.5 637.4M769.5 695L592.5 632.6M792.5 690.2L615.5 627.8M815.5 685.4L638.5 623M838.5 680.5L661.5 618.1M861.4 675.7L684.4 613.3M884.4 670.9L707.4 608.5M907.4 666.1L730.4 603.7M930.4 661.3L753.4 598.9M953.4 656.5L776.4 594.1M723.5 704.6L953.4 656.5M705.8 698.4L935.7 650.3M688.1 692.1L918 644M670.4 685.9L900.3 637.8M652.7 679.6L882.6 631.5M635 673.4L864.9 625.3M617.3 667.2L847.2 619.1M599.6 660.9L829.5 612.8M581.9 654.7L811.8 606.6M564.2 648.4L794.1 600.3M546.5 642.2L776.4 594.1M546.5 642.2L776.4 594.1M776.4 594.1L953.4 656.5M546.5 574L776.4 525.9M776.4 525.9L953.4 588.3"/><path class="v" d="M546.5 642.2L546.5 505.8M569.5 637.4L569.5 501M592.5 632.6L592.5 496.2M615.5 627.8L615.5 491.4M638.5 623L638.5 486.6M661.5 618.1L661.5 481.8M684.4 613.3L684.4 476.9M707.4 608.5L707.4 472.1M730.4 603.7L730.4 467.3M753.4 598.9L753.4 462.5M776.4 594.1L776.4 457.7M953.4 656.5L953.4 520.1M935.7 650.3L935.7 513.9M918 644L918 507.6M900.3 637.8L900.3 501.4M882.6 631.5L882.6 495.1M864.9 625.3L864.9 488.9M847.2 619.1L847.2 482.7M829.5 612.8L829.5 476.4M811.8 606.6L811.8 470.2M794.1 600.3L794.1 463.9M776.4 594.1L776.4 457.7"/></g><g clip-path="url(#sF19)"><g transform="scale(.1)"><g class="k"><path stroke="#ff1b0d" d="M7482 6474l-25-1-10-3-9-3-6-4-1-5 15-3 27 4 9 3 7 4 3 4 0 1-10 3"/><path stroke="#ff2f0d" d="M7497 6480l-17 0-31-4-22-7-8-4-4-3-4-6 6-5 12-2 21 1 34 7 17 6 10 8-3 6-11 3"/><path stroke="#ff440e" d="M7494 6485l-33-3-34-8-22-10-7-6-1-3 1-4 7-4 12-2 18 0 24 2 23 5 20 6 20 11 3 4 0 4-1 2-4 2-11 3-15 1"/><path stroke="#ff590e" d="M7505 6489l-26-1-28-4-22-6-26-9-13-7-4-4-2-5 2-6 8-4 12-2 39 1 23 3 13 3 44 15 10 8 3 4 0 6-7 4-11 3-15 1"/><path stroke="#ff6e0e" d="M7516 6493l-19 0-28-3-37-7-20-6-16-6-14-8-9-8-2-4 0-3 5-5 8-3 12-2 36-1 32 4 44 11 17 6 14 7 8 6 4 7-1 5-9 6-25 4"/><path stroke="#ff820e" d="M7541 6495l-14 2-38-1-42-6-12-3-39-12-22-10-6-4-8-8-1-3 1-6 5-4 9-4 27-3 19 0 39 4 56 13 25 10 13 7 5 4 4 6 1 7-4 5-7 4-11 2"/><path stroke="#ff970f" d="M7551 6499l-30 2-27-1-20-2-47-9-39-12-22-10-12-8-6-6-3-7 3-6 15-8 27-3 51 2 51 9 48 15 27 14 5 5 5 8-1 6-5 5-20 6"/><path stroke="#ffac0f" d="M7550 6505l-53-1-56-8-33-8-28-9-23-10-22-16-3-4-1-8 4-5 7-5 9-3 12-2 32-2 45 3 33 5 39 9 28 9 24 10 16 10 6 5 3 5 2 4 0 3-2 6-4 3-22 7-13 2"/><path stroke="#ffc10f" d="M7576 6508l-29 2-48-1-50-7-40-9-38-12-24-10-13-7-15-12-3-5-1-9 1-3 5-4 7-4 10-3 12-3 29-2 56 3 29 4 47 10 39 12 24 10 13 7 16 13 4 8 0 7-4 5-6 4-8 3-13 3"/><path stroke="#ffd50f" d="M7565 6517l-33 0-54-5-60-11-36-10-39-14-28-14-15-12-5-9-1-5 2-5 6-7 9-4 22-6 28-2 44 1 32 3 41 6 15 4 9 1 32 9 28 9 31 13 13 7 11 8 10 13 1 7-2 5-5 5-7 4-21 6-28 3"/><path stroke="#ffea10" d="M7590 6525l-35 1-43-2-27-3-39-6-68-16-45-15-24-10-19-11-20-16-5-9-1-8 5-8 10-7 8-3 10-3 25-4 32-2 45 2 48 5 51 9 37 9 61 20 29 14 22 16 10 12 1 10-3 6-9 7-17 7-24 4-15 1"/></g><g fill="url(#G19)" stroke="url(#G19)" stroke-width="5" stroke-linejoin="round"><path transform="translate(0 -989)" d="M5465 6047l2299-481 18 7-2299 481z"/><path transform="translate(0 -979)" d="M5483 6044l2299-481 17 6-2299 481z"/><path transform="translate(0 -969)" d="M5500 6040l2299-481 18 6-2299 481z"/><path transform="translate(0 -960)" d="M5518 6036l2299-481 18 6-2299 481z"/><path transform="translate(0 -950)" d="M5536 6033l2299-481 17 6-2298 481z"/><path transform="translate(0 -940)" d="M5554 6029l2298-481 18 6-2299 481z"/><path transform="translate(0 -930)" d="M5571 6025l2299-481 18 6-2299 481z"/><path transform="translate(0 -920)" d="M5589 6021l2299-481 18 7-2299 481z"/><path transform="translate(0 -910)" d="M5607 6018l2299-481 17 6-2299 481z"/><path transform="translate(0 -900)" d="M5624 6014l2299-481 18 6-2299 481z"/><path transform="translate(0 -890)" d="M5642 6010l2299-481 18 7-2299 481z"/><path transform="translate(0 -880)" d="M5660 6007l2299-481 17 6-2299 481z"/><path transform="translate(0 -870)" d="M5677 6003l2299-481 18 6-2299 481z"/><path transform="translate(0 -860)" d="M5695 5999l2299-481 18 6-2299 481z"/><path transform="translate(0 -850)" d="M5713 5996l2299-481 18 6-2300 481z"/><path transform="translate(0 -840)" d="M5730 5992l2300-481 17 6-2299 481z"/><path transform="translate(0 -830)" d="M5748 5988l2299-481 18 6-2299 481z"/><path transform="translate(0 -820)" d="M5766 5984l2299-481 18 7-2299 481z"/><path transform="translate(0 -810)" d="M5784 5981l2299-481 17 6-2299 481z"/><path transform="translate(0 -800)" d="M5801 5977l2299-481 18 6-2299 481z"/><path transform="translate(0 -790)" d="M5819 5973l2299-481 18 7-2299 481z"/><path transform="translate(0 -781)" d="M5837 5970l2299-481 17 6-2299 481z"/><path transform="translate(0 -771)" d="M5854 5966l2299-481 18 6-2299 481z"/><path transform="translate(0 -761)" d="M5872 5962l2299-481 18 6-2299 481z"/><path transform="translate(0 -751)" d="M5890 5958l2299-481 17 7-2298 481z"/><path transform="translate(0 -741)" d="M5908 5955l2298-481 18 6-2299 481z"/><path transform="translate(0 -731)" d="M5925 5951l2299-481 18 6-2299 481z"/><path transform="translate(0 -721)" d="M5943 5947l2299-481 18 7-2299 481z"/><path transform="translate(0 -711)" d="M5961 5944l2299-481 17 6-2299 481z"/><path transform="translate(0 -701)" d="M5978 5940l2299-481 18 6-2299 481z"/><path transform="translate(0 -691)" d="M5996 5936l2299-481 18 6-2299 481z"/><path transform="translate(0 -681)" d="M6014 5933l2299-481 17 6-973 203-145 33-154 30-1027 215z"/><path transform="translate(0 -671)" d="M6031 5929l1027-215 154-30 145-32 973-204 18 6-973 204-146 35-153 27-1027 215z"/><path transform="translate(0 -661)" d="M6049 5925l1027-215 153-27 146-35 973-204 18 6-973 204-54 13-92 29-31 5-69 6-53 10-1027 214z"/><path transform="translate(0 -651)" d="M6067 5921l1027-214 53-10 69-6 31-5 92-29 54-13 973-204 18 7-974 204-53 15-69 30-23 8-31 3-69-1-54 7-1027 215z"/><path transform="translate(0 -641)" d="M6084 5918l1027-215 54-7 69 1 31-3 23-8 69-30 53-15 974-204 17 6-973 204-31 9-23 10-23 13-46 32-23 10-15 2-15-1-46-13-23-3-23 0-31 4-1027 214z"/><path transform="translate(0 -631)" d="M6102 5914l1027-214 31-4 23 0 23 3 46 13 15 1 15-2 23-10 46-32 23-13 23-10 31-9 973-204 18 6-973 205-31 11-23 13-23 20-46 50-15 11-8 3-15 2-16-5-46-31-23-10-23-4-30 3-1027 213z"/><path transform="translate(0 -621)" d="M6120 5910l1027-213 30-2 23 3 23 10 46 31 16 5 15-2 8-3 15-11 46-50 23-20 23-13 31-11 973-205 18 7-905 189-69 16-30 14-23 19-23 31-46 77-16 17-7 5-8 1-8-1-15-11-46-58-23-21-23-9-31-1-61 11-965 202z"/><path transform="translate(0 -612)" d="M6138 5907l965-202 61-11 31 1 23 9 23 21 46 58 15 11 8 1 8-1 7-5 16-17 46-77 23-31 23-19 30-14 69-16 905-189 17 6-904 189-46 11-23 7-15 7-16 11-23 28-23 45-46 118-15 26-8 6-7 1-8-3-15-19-46-98-23-37-8-7-15-11-15-4-16-1-61 10-966 202z"/><path transform="translate(0 -602)" d="M6155 5903l966-202 61-10 16 1 15 4 15 11 8 8 23 36 46 98 15 19 8 3 7-1 8-6 15-25 46-119 23-45 23-28 16-11 15-7 23-7 46-11 904-189 18 6-897 188-53 12-23 9-16 9-15 15-15 23-8 16-23 67-46 172-15 37-8 8-8 2-7-6-8-12-8-18-45-154-23-56-8-13-15-17-16-8-15-3-23 1-38 7-966 202z"/><path transform="translate(0 -592)" d="M6173 5899l966-202 38-7 23-1 15 3 16 8 15 17 8 13 23 57 45 153 8 18 8 12 7 6 8-2 8-8 15-37 46-172 23-67 8-16 15-23 15-15 16-9 23-9 53-12 897-188 18 6-897 188-54 13-23 10-15 12-15 20-16 31-7 22-23 92-46 241-15 50-8 12-8 1-7-8-8-18-8-26-46-222-23-82-7-19-16-25-15-13-15-6-23 0-39 7-965 201z"/><path transform="translate(0 -582)" d="M6191 5896l965-202 39-7 23 0 15 6 15 13 16 25 7 19 23 82 46 222 8 26 8 18 7 8 8-1 8-12 15-50 46-241 23-92 7-22 16-31 15-20 15-12 23-10 54-13 897-187 17 6-889 186-53 13-16 5-15 9-15 14-15 26-16 41-7 29-23 121-46 318-8 39-8 27-7 15-8 1-8-12-7-24-8-35-46-300-23-111-8-25-15-35-15-19-16-8-23-2-38 6-966 202z"/><path transform="translate(0 -572)" d="M6208 5892l966-202 38-6 23 2 16 8 15 19 15 35 8 25 23 111 46 300 8 35 7 24 8 12 8-1 7-15 8-27 8-39 46-318 23-121 7-29 16-41 15-25 15-15 15-9 16-5 53-13 889-186 18 6-889 187-53 13-16 6-15 10-15 17-16 31-15 51-8 36-23 151-46 398-7 47-8 34-8 18-7 2-8-16-8-31-7-44-46-379-23-141-8-32-15-45-16-25-15-11-23-3-38 5-966 202z"/><path transform="translate(0 -562)" d="M6226 5888l966-202 38-5 23 3 15 11 16 25 15 45 8 32 23 141 46 379 7 44 8 32 8 15 7-1 8-19 8-34 7-47 46-398 23-151 8-36 15-51 16-31 15-17 15-10 16-6 53-13 889-187 18 6-881 185-62 16-15 6-15 11-16 20-15 36-15 60-8 42-23 178-46 469-8 56-7 40-8 21-8 2-7-19-8-37-8-53-46-450-23-168-7-39-16-53-15-30-15-13-8-3-15-2-39 5-965 201z"/><path transform="translate(0 -552)" d="M6244 5884l965-201 39-5 15 2 8 3 15 13 15 30 16 53 7 39 23 168 46 450 8 53 8 37 7 19 8-2 8-21 7-40 8-56 46-469 23-178 8-42 15-60 15-35 16-20 15-12 15-6 62-16 881-185 17 7-873 183-69 18-15 7-16 12-15 22-15 39-16 67-7 46-23 198-46 521-8 63-8 44-7 24-8 1-8-21-7-41-8-60-46-503-23-187-8-44-15-60-15-33-16-15-7-4-16-3-38 5-965 202z"/><path transform="translate(0 -542)" d="M6262 5881l965-202 38-5 16 3 7 4 16 15 15 33 15 60 8 44 23 188 46 502 8 60 7 41 8 21 8-1 7-24 8-44 8-63 46-521 23-198 7-46 16-67 15-39 15-22 16-12 15-7 69-18 873-183 18 6-866 182-76 20-16 7-15 12-15 23-16 41-15 70-8 48-23 208-46 547-7 65-8 47-8 24-7 2-8-22-8-44-7-62-46-529-23-197-8-46-15-63-16-35-15-16-8-4-15-3-38 4-966 202z"/><path transform="translate(0 -532)" d="M6279 5877l966-202 38-4 15 3 8 4 15 16 16 35 15 63 8 46 23 197 46 529 7 62 8 44 8 22 7-2 8-24 8-47 7-65 46-547 23-208 8-48 15-70 16-41 15-23 15-12 16-7 76-20 866-182 18 6-858 180-85 22-15 7-15 12-16 23-15 41-15 69-8 48-23 205-46 541-8 64-7 46-8 25-8 1-7-22-8-43-8-62-46-522-23-195-7-45-16-62-15-35-15-16-8-4-15-3-39 4-965 202z"/><path transform="translate(0 -522)" d="M6297 5873l965-201 39-5 15 3 8 4 15 16 15 35 16 62 7 45 23 195 46 522 8 62 8 43 7 22 8-1 8-25 7-46 8-64 46-541 23-205 8-48 15-69 15-41 16-22 15-13 15-7 85-22 858-180 18 7-851 178-92 23-15 7-16 12-15 21-15 38-16 64-7 45-23 191-46 505-8 60-8 43-7 23-8 1-8-20-7-40-8-57-46-486-23-182-8-41-15-58-15-32-16-15-7-4-16-2-38 5-965 202z"/><path transform="translate(0 -512)" d="M6315 5870l965-202 38-5 16 2 7 4 16 15 15 32 15 58 8 42 23 181 46 486 8 57 7 40 8 20 8-1 7-23 8-43 8-60 46-505 23-191 7-45 16-64 15-38 15-21 16-12 15-6 92-24 851-178 17 6-850 178-92 24-16 6-15 10-15 19-16 34-15 57-8 39-23 168-46 444-7 53-8 38-8 20-7 1-8-17-8-35-7-50-46-425-23-158-8-37-15-50-15-28-16-13-7-2-16-2-38 5-966 202z"/><path transform="translate(0 -502)" d="M6332 5866l966-202 38-5 16 2 7 3 16 12 15 28 15 50 8 37 23 158 46 425 7 50 8 35 8 17 7-1 8-20 8-38 7-53 46-444 23-168 8-39 15-57 16-34 15-18 15-11 16-6 92-24 850-178 18 6-843 177-100 24-15 6-15 9-16 17-15 28-15 47-8 33-23 140-46 368-8 44-7 31-8 17-8 2-7-15-8-28-7-41-46-349-23-130-8-30-15-41-16-22-15-10-23-3-38 5-966 202z"/><path transform="translate(0 -492)" d="M6350 5862l966-202 38-5 23 3 15 10 16 22 15 41 8 30 23 130 46 349 7 41 8 29 7 14 8-2 8-17 7-31 8-44 46-368 23-140 8-33 15-47 15-28 16-16 15-10 15-5 100-25 843-177 18 6-843 177-100 24-31 13-15 13-15 23-16 38-7 25-23 110-46 288-8 35-7 25-8 13-8 2-7-11-8-22-8-31-46-270-23-100-7-22-16-32-15-16-15-7-23-2-39 7-965 201z"/><path transform="translate(0 -482)" d="M6368 5858l965-201 39-7 23 2 15 7 15 16 16 32 7 22 23 100 46 270 8 31 8 22 7 11 8-2 8-13 7-25 8-35 46-288 23-110 7-25 16-38 15-23 15-13 31-13 100-24 843-177 17 7-835 175-100 23-38 13-15 11-15 17-16 28-7 20-23 81-46 214-16 44-7 11-8 1-8-7-7-16-8-23-46-194-23-72-8-17-15-22-15-11-16-4-23 0-38 7-966 202z"/><path transform="translate(0 -472)" d="M6385 5855l966-202 38-7 23 0 16 4 15 11 15 22 8 17 23 72 46 194 8 23 7 16 8 7 8-1 7-11 16-44 46-214 23-81 7-20 16-28 15-17 15-11 38-13 100-23 835-175 18 6-835 175-107 24-31 10-15 8-16 13-15 21-8 14-23 57-46 151-15 31-8 8-7 1-8-4-8-10-7-16-46-131-23-48-8-11-15-14-16-7-15-2-23 2-38 7-966 202z"/><path transform="translate(0 -462)" d="M6403 5851l966-202 38-7 23-2 15 2 16 7 15 14 8 11 23 48 46 131 7 16 8 10 8 5 7-2 8-8 15-31 46-151 23-57 8-14 15-21 16-13 15-8 31-9 107-25 835-175 18 6-828 174-107 23-38 11-16 6-15 10-23 24-23 39-46 101-15 21-8 6-8 1-7-2-16-15-46-82-23-30-7-6-16-8-15-4-15 0-62 10-965 202z"/><path transform="translate(0 -452)" d="M6421 5847l965-202 62-10 15 0 15 4 16 8 7 6 23 30 46 82 16 15 7 2 8-1 8-6 15-21 46-101 23-39 23-24 15-10 16-6 38-11 107-23 828-174 18 7-828 173-146 33-30 12-23 16-23 26-46 66-16 14-7 4-8 2-8-1-15-8-46-47-23-16-23-7-31 0-61 12-966 202z"/><path transform="translate(0 -442)" d="M6438 5844l966-202 61-12 31 0 23 7 23 16 46 47 15 8 8 1 8-2 7-4 16-14 46-66 23-26 23-16 30-12 146-33 828-173 17 6-973 205-31 10-23 11-23 17-46 42-23 13-15 1-15-3-46-23-23-7-23-2-31 3-1027 214z"/><path transform="translate(0 -433)" d="M6456 5840l1027-214 31-3 23 2 23 7 46 23 15 3 15-1 23-13 46-42 23-17 23-11 31-10 973-205 18 6-973 205-31 8-23 8-23 12-46 27-23 9-15 2-16 0-46-8-23-2-23 1-30 5-1027 214z"/><path transform="translate(0 -423)" d="M6474 5836l1027-214 30-5 23-1 23 2 46 8 16 0 15-2 23-9 46-27 23-12 23-8 31-8 973-205 18 7-981 205-54 15-61 24-23 7-31 4-69 3-54 8-1026 215z"/><path transform="translate(0 -413)" d="M6492 5833l1026-215 54-8 69-3 31-4 23-7 61-24 54-15 981-205 17 6-981 205-53 13-85 24-99 14-54 10-1027 215z"/><path transform="translate(0 -403)" d="M6509 5829l1027-215 54-10 99-14 85-24 53-13 981-205 18 6-981 205-138 33-153 28-1027 215z"/><path transform="translate(0 -393)" d="M6527 5825l1027-215 153-28 138-32 981-206 18 6-981 206-138 30-153 31-1027 214z"/><path transform="translate(0 -383)" d="M6545 5821l1027-214 153-31 138-30 981-206 17 7-2299 481z"/><path transform="translate(0 -373)" d="M6562 5818l2299-481 18 6-2299 481z"/><path transform="translate(0 -363)" d="M6580 5814l2299-481 18 6-2299 481z"/><path transform="translate(0 -353)" d="M6598 5810l2299-481 17 7-2298 481z"/><path transform="translate(0 -343)" d="M6616 5807l2298-481 18 6-2299 481z"/><path transform="translate(0 -333)" d="M6633 5803l2299-481 18 6-2299 481z"/><path transform="translate(0 -323)" d="M6651 5799l2299-481 18 6-2299 481z"/><path transform="translate(0 -313)" d="M6669 5796l2299-481 17 6-2299 481z"/><path transform="translate(0 -303)" d="M6686 5792l2299-481 18 6-2299 481z"/><path transform="translate(0 -293)" d="M6704 5788l2299-481 18 6-2299 481z"/><path transform="translate(0 -283)" d="M6722 5784l2299-481 17 7-2299 481z"/><path transform="translate(0 -273)" d="M6739 5781l2299-481 18 6-2299 481z"/><path transform="translate(0 -263)" d="M6757 5777l2299-481 18 6-2299 481z"/><path transform="translate(0 -254)" d="M6775 5773l2299-481 18 7-2300 481z"/><path transform="translate(0 -244)" d="M6792 5770l2300-481 17 6-2299 481z"/><path transform="translate(0 -234)" d="M6810 5766l2299-481 18 6-2299 481z"/><path transform="translate(0 -224)" d="M6828 5762l2299-481 18 6-2299 481z"/><path transform="translate(0 -214)" d="M6846 5758l2299-481 17 7-2299 481z"/><path transform="translate(0 -204)" d="M6863 5755l2299-481 18 6-2299 481z"/><path transform="translate(0 -194)" d="M6881 5751l2299-481 18 6-2299 481z"/><path transform="translate(0 -184)" d="M6899 5747l2299-481 17 7-2299 481z"/><path transform="translate(0 -174)" d="M6916 5744l2299-481 18 6-2299 481z"/><path transform="translate(0 -164)" d="M6934 5740l2299-481 18 6-2299 481z"/><path transform="translate(0 -154)" d="M6952 5736l2299-481 17 7-2298 481z"/><path transform="translate(0 -144)" d="M6970 5733l2298-481 18 6-2299 481z"/><path transform="translate(0 -134)" d="M6987 5729l2299-481 18 6-2299 481z"/><path transform="translate(0 -124)" d="M7005 5725l2299-481 18 6-2299 481z"/><path transform="translate(0 -114)" d="M7023 5721l2299-481 17 7-2299 481z"/><path transform="translate(0 -104)" d="M7040 5718l2299-481 18 6-2299 481z"/><path transform="translate(0 -94)" d="M7058 5714l2299-481 18 6-2299 481z"/><path transform="translate(0 -85)" d="M7076 5710l2299-481 17 7-2299 481z"/><path transform="translate(0 -75)" d="M7093 5707l2299-481 18 6-2299 481z"/><path transform="translate(0 -65)" d="M7111 5703l2299-481 18 6-2299 481z"/><path transform="translate(0 -55)" d="M7129 5699l2299-481 18 6-2300 481z"/><path transform="translate(0 -45)" d="M7146 5696l2300-481 17 6-2299 481z"/><path transform="translate(0 -35)" d="M7164 5692l2299-481 18 6-2299 481z"/><path transform="translate(0 -25)" d="M7182 5688l2299-481 18 6-2299 481z"/><path transform="translate(0 -15)" d="M7200 5684l2299-481 17 7-2299 481z"/><path transform="translate(0 -5)" d="M7217 5681l2299-481 18 6-2299 481z"/></g></g></g><path class="a" stroke-width="1.2" d="M723.5 704.6L953.4 656.5M723.5 704.6L546.5 642.2M723.5 704.6l6.1 2.1M746.5 699.8l6.1 2.1M769.5 695l6.1 2.1M792.5 690.2l6.1 2.1M815.5 685.4l6.1 2.1M838.5 680.5l6.1 2.1M861.4 675.7l6.1 2.1M884.4 670.9l6.1 2.1M907.4 666.1l6.1 2.1M930.4 661.3l6.1 2.1M723.5 704.6l-6.3 1.3M705.8 698.4l-6.3 1.3M688.1 692.1l-6.3 1.3M670.4 685.9l-6.3 1.3M652.7 679.6l-6.3 1.3M635 673.4l-6.3 1.3M617.3 667.2l-6.3 1.3M599.6 660.9l-6.3 1.3M581.9 654.7l-6.3 1.3M564.2 648.4l-6.3 1.3M546.5 642.2l-6.3 1.3"/><path fill="none" stroke="#333" stroke-width="1" d="M546.5 642.2L546.5 505.8"/><path class="t" d="M546.5 642.2l-6.1 -2.1M546.5 574l-6.1 -2.1"/><text transform="translate(749.95 452.73) scale(.51 1)" font-size="10.86" text-anchor="middle" font-weight="bold">Parameter space</text><text transform="translate(731.46 718.07) scale(.51 1)" font-size="9.88">-5</text><text transform="translate(754.45 713.26) scale(.51 1)" font-size="9.88">-4</text><text transform="translate(777.44 708.45) scale(.51 1)" font-size="9.88">-3</text><text transform="translate(800.43 703.64) scale(.51 1)" font-size="9.88">-2</text><text transform="translate(823.42 698.83) scale(.51 1)" font-size="9.88">-1</text><text transform="translate(846.41 694.02) scale(.51 1)" font-size="9.88">0</text><text transform="translate(869.4 689.21) scale(.51 1)" font-size="9.88">1</text><text transform="translate(892.39 684.4) scale(.51 1)" font-size="9.88">2</text><text transform="translate(915.38 679.59) scale(.51 1)" font-size="9.88">3</text><text transform="translate(938.37 674.78) scale(.51 1)" font-size="9.88">4</text><text transform="translate(716.12 717.19) scale(.51 1)" font-size="9.88" text-anchor="end">-5</text><text transform="translate(698.42 710.95) scale(.51 1)" font-size="9.88" text-anchor="end">-4</text><text transform="translate(680.72 704.71) scale(.51 1)" font-size="9.88" text-anchor="end">-3</text><text transform="translate(663.02 698.47) scale(.51 1)" font-size="9.88" text-anchor="end">-2</text><text transform="translate(645.32 692.23) scale(.51 1)" font-size="9.88" text-anchor="end">-1</text><text transform="translate(627.62 685.99) scale(.51 1)" font-size="9.88" text-anchor="end">0</text><text transform="translate(609.92 679.75) scale(.51 1)" font-size="9.88" text-anchor="end">1</text><text transform="translate(592.22 673.51) scale(.51 1)" font-size="9.88" text-anchor="end">2</text><text transform="translate(574.52 667.27) scale(.51 1)" font-size="9.88" text-anchor="end">3</text><text transform="translate(556.82 661.03) scale(.51 1)" font-size="9.88" text-anchor="end">4</text><text transform="translate(539.12 654.79) scale(.51 1)" font-size="9.88" text-anchor="end">5</text><text transform="translate(538.89 644.08) scale(.51 1)" font-size="9.88" text-anchor="end">-0.15</text><text transform="translate(538.89 575.88) scale(.51 1)" font-size="9.88" text-anchor="end">-0.075</text><text transform="translate(799.72 728.84) scale(.51 1)" font-size="10.86" text-anchor="middle">x<tspan dy="4.56" font-size="8.69">1</tspan></text><text transform="translate(658.72 724.64) scale(.51 1)" font-size="10.86" text-anchor="middle">x<tspan dy="4.56" font-size="8.69">2</tspan></text><text transform="translate(519.44 572) scale(.51 1) rotate(-90)" font-size="11.95" text-anchor="middle">F19( x<tspan dy="3.58" font-size="9.56">1</tspan><tspan dy="-3.58"> , x</tspan><tspan dy="3.58" font-size="9.56">2</tspan><tspan dy="-3.58"> )</tspan></text><text class="b" x="649.4" y="837.9">F19</text></g>
<g id="F20"><path class="g" d="M1259.6 709.1L1092.5 645.2M1281.4 704.2L1114.3 640.3M1303.2 699.2L1136.1 635.3M1324.9 694.3L1157.8 630.4M1346.7 689.4L1179.6 625.5M1368.5 684.5L1201.4 620.6M1390.3 679.5L1223.2 615.6M1412.1 674.6L1245 610.7M1433.8 669.7L1266.7 605.8M1455.6 664.7L1288.5 600.8M1477.4 659.8L1310.3 595.9M1259.6 709.1L1477.4 659.8M1242.9 702.7L1460.7 653.4M1226.2 696.3L1444 647M1209.5 689.9L1427.3 640.6M1192.8 683.5L1410.6 634.2M1176 677.2L1393.9 627.8M1159.3 670.8L1377.1 621.5M1142.6 664.4L1360.4 615.1M1125.9 658L1343.7 608.7M1109.2 651.6L1327 602.3M1092.5 645.2L1310.3 595.9M1092.5 645.2L1310.3 595.9M1310.3 595.9L1477.4 659.8M1092.5 576.1L1310.3 526.8M1310.3 526.8L1477.4 590.7"/><path class="v" d="M1092.5 645.2L1092.5 507M1114.3 640.3L1114.3 502.1M1136.1 635.3L1136.1 497.1M1157.8 630.4L1157.8 492.2M1179.6 625.5L1179.6 487.3M1201.4 620.6L1201.4 482.4M1223.2 615.6L1223.2 477.4M1245 610.7L1245 472.5M1266.7 605.8L1266.7 467.6M1288.5 600.8L1288.5 462.6M1310.3 595.9L1310.3 457.7M1477.4 659.8L1477.4 521.6M1460.7 653.4L1460.7 515.2M1444 647L1444 508.8M1427.3 640.6L1427.3 502.4M1410.6 634.2L1410.6 496M1393.9 627.8L1393.9 489.6M1377.1 621.5L1377.1 483.3M1360.4 615.1L1360.4 476.9M1343.7 608.7L1343.7 470.5M1327 602.3L1327 464.1M1310.3 595.9L1310.3 457.7"/><g transform="scale(.1)"><g class="k"><path stroke="#ff110d" d="M12970 6458l-5 0 0-2 10-3 9 1-2 2-12 2"/><path stroke="#ff270d" d="M12966 6464l-18-2-4-4 10-6 24-4 23 2 1 5-11 5-25 4"/><path stroke="#ff3c0e" d="M12986 6464l-9 2-26 1-13-3-5-4 6-7 9-3 29-5 22 0 12 3 3 4-1 3-7 4-20 5"/><path stroke="#ff520e" d="M12964 6469l-23 0-12-3-6-3 1-6 10-6 20-5 37-4 18 1 10 3 5 4 0 2-3 4-10 5-21 5-26 3"/><path stroke="#ff680e" d="M12983 6470l-29 2-22-1-12-3-6-3 0-5 1-3 8-5 27-8 12-2 29-2 26 1 11 3 5 4-2 7-15 8-33 7"/><path stroke="#ff7d0e" d="M12974 6473l-36 1-15-1-11-3-5-2-3-6 5-7 8-4 18-6 23-5 31-3 37 2 10 3 5 4 1 5-1 2-12 8-30 9-25 3"/><path stroke="#ff930f" d="M12992 6473l-10 2-32 2-22 0-25-5-7-3-2-6 2-5 13-8 21-7 42-7 48-1 14 2 10 3 6 4 2 6-4 5-14 8-19 6-23 4"/><path stroke="#ffa80f" d="M12971 6479l-15 1-39-1-14-2-17-6-3-4 1-6 8-7 14-7 34-9 34-5 15-1 24 0 30 3 10 3 7 4 2 4-2 7-8 6-13 6-20 6-48 8"/><path stroke="#ffbe0f" d="M12977 6481l-45 3-20-1-21-3-16-6-4-5 0-5 4-6 17-10 28-9 11-2 37-6 29-2 28 0 29 4 16 6 4 5 0 5-7 7-6 4-16 7-20 6-22 5-26 3"/><path stroke="#ffd40f" d="M12998 6482l-26 4-29 2-35 0-20-2-13-2-9-3-7-4-4-4-1-6 2-5 6-5 14-8 17-7 31-8 37-6 37-3 44 1 25 4 9 3 7 4 4 4 1 3-1 6-9 8-26 12-31 8-23 4"/><path stroke="#ffe910" d="M12984 6490l-26 4-24 2-49 1-41-6-14-7-4-5-1-4 2-6 3-4 5-5 13-8 25-11 41-11 36-6 41-4 33-1 36 2 26 5 16 6 5 4 2 5 0 5-8 10-13 8-35 13-44 10-25 3"/></g><g fill="url(#G20)" stroke="url(#G20)" stroke-width="5" stroke-linejoin="round"><path transform="translate(0 -1012)" d="M10925 6082l2178-493 17 7-2178 493z"/><path transform="translate(0 -1002)" d="M10942 6078l2178-493 16 7-2178 493z"/><path transform="translate(0 -992)" d="M10958 6075l2178-493 17 6-2178 493z"/><path transform="translate(0 -982)" d="M10975 6071l2178-493 17 6-2178 493z"/><path transform="translate(0 -971)" d="M10992 6067l2178-493 17 6-2178 493z"/><path transform="translate(0 -961)" d="M11009 6063l2178-493 16 7-2178 493z"/><path transform="translate(0 -951)" d="M11025 6059l2178-493 17 7-2178 493z"/><path transform="translate(0 -941)" d="M11042 6056l2178-493 17 6-2178 493z"/><path transform="translate(0 -931)" d="M11059 6052l2178-493 16 6-2178 493z"/><path transform="translate(0 -921)" d="M11075 6048l2178-493 17 7-2178 493z"/><path transform="translate(0 -910)" d="M11092 6044l2178-493 17 7-2178 493z"/><path transform="translate(0 -900)" d="M11109 6041l2178-493 17 6-2178 493z"/><path transform="translate(0 -890)" d="M11126 6037l2178-493 16 6-2178 493z"/><path transform="translate(0 -880)" d="M11142 6033l2178-493 17 6-2178 493z"/><path transform="translate(0 -870)" d="M11159 6029l2178-493 17 7-2178 493z"/><path transform="translate(0 -860)" d="M11176 6025l2178-493 16 7-2178 493z"/><path transform="translate(0 -849)" d="M11192 6022l2178-493 17 6-2178 493z"/><path transform="translate(0 -839)" d="M11209 6018l2178-493 17 6-2178 493z"/><path transform="translate(0 -829)" d="M11226 6014l2178-493 16 6-2178 493z"/><path transform="translate(0 -819)" d="M11242 6010l2178-493 17 7-2178 493z"/><path transform="translate(0 -809)" d="M11259 6007l2178-493 17 6-2178 493z"/><path transform="translate(0 -799)" d="M11276 6003l2178-493 17 6-2178 493z"/><path transform="translate(0 -788)" d="M11293 5999l2178-493 16 6-2178 493z"/><path transform="translate(0 -778)" d="M11309 5995l2178-493 17 7-2178 493z"/><path transform="translate(0 -768)" d="M11326 5991l2178-493 17 7-2178 493z"/><path transform="translate(0 -758)" d="M11343 5988l2178-493 16 6-2178 493z"/><path transform="translate(0 -748)" d="M11359 5984l2178-493 17 6-2178 493z"/><path transform="translate(0 -737)" d="M11376 5980l2178-493 17 6-2178 493z"/><path transform="translate(0 -727)" d="M11393 5976l2178-493 17 7-2178 493z"/><path transform="translate(0 -717)" d="M11410 5972l2178-493 16 7-2178 493z"/><path transform="translate(0 -707)" d="M11426 5969l2178-493 17 6-2178 493z"/><path transform="translate(0 -697)" d="M11443 5965l2178-493 17 6-2178 493z"/><path transform="translate(0 -687)" d="M11460 5961l2178-493 16 7-2178 493z"/><path transform="translate(0 -676)" d="M11476 5957l2178-493 17 7-2178 493z"/><path transform="translate(0 -666)" d="M11493 5954l2178-493 17 6-2178 493z"/><path transform="translate(0 -656)" d="M11510 5950l2178-493 17 6-2178 493z"/><path transform="translate(0 -646)" d="M11527 5946l2178-493 16 6-842 191-218 51-217 48-901 203z"/><path transform="translate(0 -636)" d="M11543 5942l901-204 217-47 218-51 842-191 17 7-835 189-225 54-218 46-900 204z"/><path transform="translate(0 -626)" d="M11560 5938l900-203 218-46 225-54 835-190 17 7-821 186-239 60-218 43-900 204z"/><path transform="translate(0 -615)" d="M11577 5935l900-204 218-43 239-60 821-186 16 6-776 176-284 74-145 25-72 15-901 203z"/><path transform="translate(0 -605)" d="M11593 5931l901-204 72-14 145-25 284-74 776-176 17 6-748 170-50 14-80 32-29 8-73 13-102 23-116 15-80 15-900 203z"/><path transform="translate(0 -595)" d="M11610 5927l900-203 80-15 116-15 102-23 73-13 29-9 80-31 50-14 748-170 17 6-683 155-65 16-29 12-22 13-22 17-50 51-15 10-14 6-22 0-51-19-29-5-22 1-72 12-88 6-50 7-109 23-835 188z"/><path transform="translate(0 -585)" d="M11627 5923l835-189 109-22 50-7 88-6 72-12 22-1 29 5 51 18 22 1 14-6 15-10 50-51 22-18 22-12 29-12 65-16 683-155 17 7-683 154-43 12-22 8-15 9-14 13-22 31-22 46-36 100-15 35-14 24-7 6-8 3-7-2-7-5-7-9-15-25-29-61-15-26-14-19-15-13-14-6-22-3-58 4-73 1-58 5-72 14-871 197z"/><path transform="translate(0 -575)" d="M11644 5920l871-197 72-14 58-5 73-1 58-4 22 3 14 6 15 13 14 19 15 26 29 61 15 25 7 9 7 5 7 2 8-3 7-6 14-24 15-35 36-100 22-47 22-30 14-13 15-9 22-8 43-12 683-154 16 6-682 155-44 13-22 14-14 16-15 25-14 39-7 25-22 100-36 218-15 76-14 50-8 12-7 2-7-6-8-15-7-24-14-64-37-191-21-84-15-36-14-22-15-12-14-5-138-6-37 2-43 7-908 204z"/><path transform="translate(0 -565)" d="M11660 5916l908-204 43-7 37-2 138 6 14 5 15 12 14 22 15 36 21 84 37 191 14 64 7 23 8 16 7 6 7-3 8-12 14-49 15-76 36-218 22-100 7-25 14-39 15-25 14-16 22-14 44-14 682-154 17 6-682 155-30 9-14 7-15 11-7 8-14 24-15 40-14 61-8 40-21 161-37 351-14 122-15 79-7 18-7 3-8-12-7-27-7-40-15-109-36-322-22-144-14-62-15-39-14-23-15-11-22-6-108-11-44 1-44 5-94 20-813 184z"/><path transform="translate(0 -554)" d="M11677 5912l813-184 94-20 44-6 44 0 108 11 22 6 15 11 14 22 15 40 14 62 22 144 36 322 15 109 7 40 7 27 8 12 7-3 7-19 15-78 14-122 37-352 21-161 8-40 14-60 15-40 14-24 7-8 15-11 14-7 30-9 682-155 17 6-683 155-29 10-14 7-15 13-7 9-15 28-14 45-15 70-7 47-22 187-36 409-15 141-14 91-7 21-8 4-7-15-7-31-7-47-15-128-36-377-22-169-14-74-15-46-15-27-14-13-22-8-109-17-43 0-44 5-94 19-813 184z"/><path transform="translate(0 -544)" d="M11694 5908l813-184 94-19 44-5 43 0 109 17 22 8 14 13 15 26 15 47 14 73 22 169 36 378 15 128 7 46 7 32 7 14 8-3 7-21 14-91 15-141 36-409 22-187 7-47 15-70 14-45 15-28 7-9 15-13 14-8 29-9 683-155 16 7-682 154-29 9-15 7-14 11-7 8-15 24-14 38-15 59-7 39-22 156-36 341-15 118-14 77-8 18-7 4-7-12-7-25-8-38-14-105-36-308-22-138-15-59-14-37-15-21-14-10-22-6-116-19-37-1-43 5-95 20-813 184z"/><path transform="translate(0 -534)" d="M11710 5904l813-184 95-19 43-5 37 1 116 19 22 6 14 10 15 21 14 37 15 59 22 137 36 309 14 105 8 38 7 25 7 12 7-4 8-18 14-77 15-118 36-341 22-157 7-38 15-59 14-39 15-23 7-8 14-11 15-7 29-9 682-155 17 7-682 154-44 14-22 13-14 15-15 24-14 37-8 23-21 95-37 206-14 72-15 47-7 12-7 3-7-5-8-14-7-20-14-59-37-173-22-75-7-18-14-24-15-14-22-8-50-4-66-13-29-3-36 0-44 6-94 19-806 183z"/><path transform="translate(0 -524)" d="M11727 5901l806-183 94-19 44-6 36 0 29 3 66 13 50 4 22 8 15 14 14 24 7 18 22 75 37 173 14 58 7 21 8 14 7 5 7-3 7-12 15-48 14-71 37-206 21-95 8-24 14-36 15-24 14-15 22-13 44-14 682-154 17 6-683 155-43 11-22 8-15 9-14 12-22 28-22 43-50 125-15 23-7 7-7 3-8 0-7-4-7-7-15-20-29-49-14-21-15-14-14-8-22-4-65 2-88-13-43-1-44 5-65 13-842 190z"/><path transform="translate(0 -514)" d="M11744 5897l842-191 65-13 44-5 43 1 88 14 65-2 22 4 14 8 15 14 14 21 29 49 15 20 7 7 7 3 8 1 7-3 7-7 15-23 50-125 22-43 22-28 14-12 15-9 22-8 43-12 683-154 17 6-683 155-65 16-29 11-22 12-22 16-58 54-14 8-15 5-15 2-43-5-22 0-65 16-29 4-29-1-58-8-29-2-37 2-36 5-94 19-814 184z"/><path transform="translate(0 -504)" d="M11760 5893l814-184 94-20 36-4 37-2 29 2 58 8 29 0 29-3 65-16 22 0 43 5 15-2 15-5 14-9 58-53 22-16 22-12 29-11 65-16 683-155 16 6-769 176-44 13-80 33-72 26-58 24-37 11-22 3-21 1-66-5-36 0-36 3-37 6-900 202z"/><path transform="translate(0 -493)" d="M11777 5889l900-202 37-6 36-3 36 0 66 4 21 0 22-3 37-11 58-25 72-25 80-33 44-14 769-175 17 7-813 185-95 28-108 46-44 14-44 5-101 1-73 11-900 203z"/><path transform="translate(0 -483)" d="M11794 5885l900-202 73-11 101-1 44-5 44-14 108-46 95-28 813-186 17 7-835 190-73 20-109 42-43 13-44 6-102 7-72 12-900 203z"/><path transform="translate(0 -473)" d="M11811 5882l900-203 72-12 102-7 44-6 43-13 109-42 73-21 835-189 16 6-842 191-72 20-102 35-44 12-43 7-102 11-72 14-901 203z"/><path transform="translate(0 -463)" d="M11827 5878l901-203 72-14 102-11 43-8 44-12 102-34 72-20 842-191 17 6-842 191-73 19-101 31-44 11-145 23-73 15-900 203z"/><path transform="translate(0 -453)" d="M11844 5874l900-203 73-15 145-23 44-12 101-30 73-19 842-191 17 7-842 190-218 57-218 42-900 204z"/><path transform="translate(0 -442)" d="M11861 5870l900-203 218-43 218-56 842-191 16 7-842 190-217 54-218 45-901 204z"/><path transform="translate(0 -432)" d="M11877 5867l901-204 218-45 217-54 842-190 17 6-842 191-218 51-218 47-900 204z"/><path transform="translate(0 -422)" d="M11894 5863l900-204 218-47 218-52 842-190 17 6-2178 493z"/><path transform="translate(0 -412)" d="M11911 5859l2178-493 17 6-2178 493z"/><path transform="translate(0 -402)" d="M11928 5855l2178-493 16 7-2178 493z"/><path transform="translate(0 -392)" d="M11944 5851l2178-493 17 7-2178 493z"/><path transform="translate(0 -381)" d="M11961 5848l2178-493 17 6-2178 493z"/><path transform="translate(0 -371)" d="M11978 5844l2178-493 16 6-2178 493z"/><path transform="translate(0 -361)" d="M11994 5840l2178-493 17 6-2178 493z"/><path transform="translate(0 -351)" d="M12011 5836l2178-493 17 7-2178 493z"/><path transform="translate(0 -341)" d="M12028 5833l2178-493 17 6-2178 493z"/><path transform="translate(0 -331)" d="M12045 5829l2178-493 16 6-2178 493z"/><path transform="translate(0 -320)" d="M12061 5825l2178-493 17 6-2178 493z"/><path transform="translate(0 -310)" d="M12078 5821l2178-493 17 7-2178 493z"/><path transform="translate(0 -300)" d="M12095 5817l2178-493 16 7-2178 493z"/><path transform="translate(0 -290)" d="M12111 5814l2178-493 17 6-2178 493z"/><path transform="translate(0 -280)" d="M12128 5810l2178-493 17 6-2178 493z"/><path transform="translate(0 -270)" d="M12145 5806l2178-493 17 6-2178 493z"/><path transform="translate(0 -259)" d="M12162 5802l2178-493 16 7-2178 493z"/><path transform="translate(0 -249)" d="M12178 5798l2178-493 17 7-2178 493z"/><path transform="translate(0 -239)" d="M12195 5795l2178-493 17 6-2178 493z"/><path transform="translate(0 -229)" d="M12212 5791l2178-493 16 6-2178 493z"/><path transform="translate(0 -219)" d="M12228 5787l2178-493 17 7-2178 493z"/><path transform="translate(0 -209)" d="M12245 5783l2178-493 17 7-2178 493z"/><path transform="translate(0 -198)" d="M12262 5780l2178-493 17 6-2178 493z"/><path transform="translate(0 -188)" d="M12279 5776l2178-493 16 6-2178 493z"/><path transform="translate(0 -178)" d="M12295 5772l2178-493 17 6-2178 493z"/><path transform="translate(0 -168)" d="M12312 5768l2178-493 17 7-2178 493z"/><path transform="translate(0 -158)" d="M12329 5764l2178-493 16 7-2178 493z"/><path transform="translate(0 -147)" d="M12345 5761l2178-493 17 6-2178 493z"/><path transform="translate(0 -137)" d="M12362 5757l2178-493 17 6-2178 493z"/><path transform="translate(0 -127)" d="M12379 5753l2178-493 16 6-2178 493z"/><path transform="translate(0 -117)" d="M12395 5749l2178-493 17 7-2178 493z"/><path transform="translate(0 -107)" d="M12412 5746l2178-493 17 6-2178 493z"/><path transform="translate(0 -97)" d="M12429 5742l2178-493 17 6-2178 493z"/><path transform="translate(0 -86)" d="M12446 5738l2178-493 16 6-2178 493z"/><path transform="translate(0 -76)" d="M12462 5734l2178-493 17 7-2178 493z"/><path transform="translate(0 -66)" d="M12479 5730l2178-493 17 7-2178 493z"/><path transform="translate(0 -56)" d="M12496 5727l2178-493 16 6-2178 493z"/><path transform="translate(0 -46)" d="M12512 5723l2178-493 17 6-2178 493z"/><path transform="translate(0 -36)" d="M12529 5719l2178-493 17 6-2178 493z"/><path transform="translate(0 -25)" d="M12546 5715l2178-493 17 7-2178 493z"/><path transform="translate(0 -15)" d="M12563 5711l2178-493 16 7-2178 493z"/><path transform="translate(0 -5)" d="M12579 5708l2178-493 17 6-2178 493z"/></g></g><path class="a" stroke-width="1.2" d="M1259.6 709.1L1477.4 659.8M1259.6 709.1L1092.5 645.2M1259.6 709.1l5.7 2.2M1281.4 704.2l5.7 2.2M1303.2 699.2l5.7 2.2M1324.9 694.3l5.7 2.2M1346.7 689.4l5.7 2.2M1368.5 684.5l5.7 2.2M1390.3 679.5l5.7 2.2M1412.1 674.6l5.7 2.2M1433.8 669.7l5.7 2.2M1455.6 664.7l5.7 2.2M1477.4 659.8l5.7 2.2M1259.6 709.1l-5.9 1.3M1242.9 702.7l-5.9 1.3M1226.2 696.3l-5.9 1.3M1209.5 689.9l-5.9 1.3M1192.8 683.5l-5.9 1.3M1176 677.2l-5.9 1.3M1159.3 670.8l-5.9 1.3M1142.6 664.4l-5.9 1.3M1125.9 658l-5.9 1.3M1109.2 651.6l-5.9 1.3M1092.5 645.2l-5.9 1.3"/><path fill="none" stroke="#333" stroke-width="1" d="M1092.5 645.2L1092.5 507"/><path class="t" d="M1092.5 645.2l-5.7 -2.2M1092.5 576.1l-5.7 -2.2"/><text transform="translate(1284.95 452.64) scale(.48 1)" font-size="11.06" text-anchor="middle" font-weight="bold">Parameter space</text><text transform="translate(1267.13 722.82) scale(.48 1)" font-size="10.06">-5</text><text transform="translate(1288.91 717.89) scale(.48 1)" font-size="10.06">-4</text><text transform="translate(1310.69 712.96) scale(.48 1)" font-size="10.06">-3</text><text transform="translate(1332.47 708.03) scale(.48 1)" font-size="10.06">-2</text><text transform="translate(1354.25 703.1) scale(.48 1)" font-size="10.06">-1</text><text transform="translate(1376.03 698.17) scale(.48 1)" font-size="10.06">0</text><text transform="translate(1397.81 693.24) scale(.48 1)" font-size="10.06">1</text><text transform="translate(1419.59 688.31) scale(.48 1)" font-size="10.06">2</text><text transform="translate(1441.37 683.38) scale(.48 1)" font-size="10.06">3</text><text transform="translate(1463.15 678.45) scale(.48 1)" font-size="10.06">4</text><text transform="translate(1484.93 673.52) scale(.48 1)" font-size="10.06">5</text><text transform="translate(1252.62 721.92) scale(.48 1)" font-size="10.06" text-anchor="end">-5</text><text transform="translate(1235.91 715.53) scale(.48 1)" font-size="10.06" text-anchor="end">-4</text><text transform="translate(1219.2 709.14) scale(.48 1)" font-size="10.06" text-anchor="end">-3</text><text transform="translate(1202.49 702.75) scale(.48 1)" font-size="10.06" text-anchor="end">-2</text><text transform="translate(1185.78 696.36) scale(.48 1)" font-size="10.06" text-anchor="end">-1</text><text transform="translate(1169.07 689.97) scale(.48 1)" font-size="10.06" text-anchor="end">0</text><text transform="translate(1152.36 683.58) scale(.48 1)" font-size="10.06" text-anchor="end">1</text><text transform="translate(1135.65 677.19) scale(.48 1)" font-size="10.06" text-anchor="end">2</text><text transform="translate(1118.94 670.8) scale(.48 1)" font-size="10.06" text-anchor="end">3</text><text transform="translate(1102.23 664.41) scale(.48 1)" font-size="10.06" text-anchor="end">4</text><text transform="translate(1085.52 658.02) scale(.48 1)" font-size="10.06" text-anchor="end">5</text><text transform="translate(1085.3 647.11) scale(.48 1)" font-size="10.06" text-anchor="end">-0.15</text><text transform="translate(1085.3 578.01) scale(.48 1)" font-size="10.06" text-anchor="end">-0.075</text><text transform="translate(1331.64 732.75) scale(.48 1)" font-size="11.06" text-anchor="middle">x<tspan dy="4.65" font-size="8.85">1</tspan></text><text transform="translate(1198.74 732.05) scale(.48 1)" font-size="11.06" text-anchor="middle">x<tspan dy="4.65" font-size="8.85">2</tspan></text><text transform="translate(1066.74 576) scale(.48 1) rotate(-90)" font-size="12.17" text-anchor="middle">F20( x<tspan dy="3.65" font-size="9.73">1</tspan><tspan dy="-3.65"> , x</tspan><tspan dy="3.65" font-size="9.73">2</tspan><tspan dy="-3.65"> )</tspan></text><text class="b" x="1199.4" y="840.9">F20</text></g>
<g id="F21"><path class="g" d="M1805.9 701.1L1641.4 639.1M1827.5 696.3L1663 634.3M1849 691.6L1684.5 629.6M1870.6 686.8L1706.1 624.8M1892.2 682L1727.7 620M1913.8 677.2L1749.2 615.2M1935.3 672.5L1770.8 610.5M1956.9 667.7L1792.4 605.7M1978.5 662.9L1814 600.9M2000 658.2L1835.5 596.2M2021.6 653.4L1857.1 591.4M1805.9 701.1L2021.6 653.4M1789.5 694.9L2005.1 647.2M1773 688.7L1988.7 641M1756.6 682.5L1972.2 634.8M1740.1 676.3L1955.8 628.6M1723.7 670.1L1939.3 622.4M1707.2 663.9L1922.9 616.2M1690.8 657.7L1906.4 610M1674.3 651.5L1890 603.8M1657.9 645.3L1873.5 597.6M1641.4 639.1L1857.1 591.4M1641.4 639.1L1857.1 591.4M1857.1 591.4L2021.6 653.4M1641.4 615.7L1857.1 568M1857.1 568L2021.6 630M1641.4 592.2L1857.1 544.5M1857.1 544.5L2021.6 606.5M1641.4 568.8L1857.1 521.1M1857.1 521.1L2021.6 583.1M1641.4 545.3L1857.1 497.6M1857.1 497.6L2021.6 559.6M1641.4 521.9L1857.1 474.2M1857.1 474.2L2021.6 536.2"/><path class="v" d="M1641.4 639.1L1641.4 504.9M1663 634.3L1663 500.1M1684.5 629.6L1684.5 495.4M1706.1 624.8L1706.1 490.6M1727.7 620L1727.7 485.8M1749.2 615.2L1749.2 481.1M1770.8 610.5L1770.8 476.3M1792.4 605.7L1792.4 471.5M1814 600.9L1814 466.7M1835.5 596.2L1835.5 462M1857.1 591.4L1857.1 457.2M2021.6 653.4L2021.6 519.2M2005.1 647.2L2005.1 513M1988.7 641L1988.7 506.8M1972.2 634.8L1972.2 500.6M1955.8 628.6L1955.8 494.4M1939.3 622.4L1939.3 488.2M1922.9 616.2L1922.9 482M1906.4 610L1906.4 475.8M1890 603.8L1890 469.6M1873.5 597.6L1873.5 463.4M1857.1 591.4L1857.1 457.2"/><g transform="scale(.1)"><g class="k"><path stroke="#ff250d" d="M18411 6389l-30 2-34 0-47-5-21-4-34-12-10-8-3-4-1-5-1 0 1-6 9-10 6-4 16-7 30-8 38-5 15-1 52 1 27 2 36 7 26 9 11 8 6 7 1 7-2 6-10 9-7 4-17 6-32 8-25 3"/><path stroke="#ff3f0e" d="M18468 6404l-25 4-22 2-54 2-56-2-1-1-15-1-53-8-21-5-26-9-7-4-2 0-16-10-8-9-4-9 1-10 7-9 11-9 22-11 18-6 54-12 62-6 39-1 62 3 50 7 26 6 19 6 16 6 13 7 8 6 9 10 2 7 0 7-7 12-9 7-22 12-27 9-44 9"/><path stroke="#ff590e" d="M18521 6417l-24 5-52 6-52 3-65-1-51-3-34-4-33-6-42-10-33-12-20-11-10-7-11-13-4-14 3-11 7-9 10-9 13-8 24-11 17-6 52-13 62-9 58-3 2-1 86 1 70 7 52 10 39 12 23 9 22 14 10 10 6 12 0 10-1 0-1 6-3 5-13 13-11 7-18 9-36 13-42 9"/><path stroke="#ff730e" d="M18529 6440l-80 9-45 2-80 0-53-3-30-3-67-10-48-11-33-11-23-9-20-11-13-9-10-10-6-9-3-9 0-12 2-6 6-10 9-10 23-15 25-12 24-9 31-9 21-5 71-12 34-4 63-4 89 0 83 6 0 1 15 1 39 6 40 8 26 7 35 12 22 10 23 15 12 12 6 8 3 10 0 9-7 17-7 8-23 17-22 11-34 12-31 9-21 5-46 8"/><path stroke="#ff8c0f" d="M18567 6461l-51 6-1 1-85 6-100 1-2-1-20 0-53-3-61-6-79-13-61-15-35-12-22-10-26-14-20-15-13-17-5-14 1-17 5-11 17-19 31-21 31-14 45-15 30-8 55-11 50-8 53-6 43-3 97-2 106 5 63 7 48 8 35 7 41 11 43 15 28 13 25 16 19 19 8 17 1 11-2 10-2 4-6 11-7 8-24 19-29 15-24 10-47 15-41 10-59 10"/><path stroke="#ffa60f" d="M18656 6481l-61 10-53 6-86 6-63 2-88-1-87-5-61-6-79-12-57-12-41-11-60-21-35-17-12-7-19-15-11-10-9-11-7-13-2-9-1-5 1-14 7-17 7-10 14-14 11-9 19-12 29-15 50-20 58-17 66-14 47-8 73-9 61-5 77-3 86 0 66 3 80 7 1 1 41 5 63 10 44 10 50 14 50 18 35 17 12 7 25 20 11 12 6 8 6 14 2 14-2 12-3 9-4 8-7 9-12 13-20 15-13 8-38 18-25 10-36 12-73 18-33 6"/><path stroke="#ffc00f" d="M18735 6518l-73 11-94 10-117 7-118 1-38-1-124-7-91-10-89-14-58-12-61-16-43-14-35-13-36-17-41-25-23-20-7-8-14-22-3-9-3-14 1-17 6-17 8-14 2-1 8-11 21-19 16-12 19-12 29-15 31-14 34-13 46-15 60-16 65-14 83-14 7 0 31-5 53-6 78-6 100-4 86 0 96 4 70 6 30 3 118 18 35 7 53 13 38 12 10 2 34 12 45 19 34 18 37 26 13 12 10 12 9 14 5 11 4 16 0 15-4 16-7 15-11 15-14 14-22 17-24 15-24 13-48 20-69 23-78 19-45 8-11 3"/><path stroke="#ffda10" d="M19402 6227l10 23 4 13 2 15 0 24-4 20-9 23-13 20-16 20-14 14-23 19-22 16-33 20-29 15-47 21-33 13-47 16-45 14-61 16-98 21-94 16-129 16-142 11-108 4-103 1-138-4-136-10-59-6-70-9-102-17-101-22-79-22-85-30-30-13-53-28 0-1-11-6-22-15-28-24-15-16-12-17-11-22-4-14-2-22 4-24 5-15 13-23 20-25 11-11 30-25 24-17 26-16 43-23 20-9M18371 5958l54-2 3-1 26 0 2-1 92-1 8 1 74 1 59 4"/><path stroke="#fff410" d="M20084 6484l-60 29-9 3-39 18-75 30-88 31-113 35-100 27-84 20-65 14-137 26-120 19-89 12-24 2-1 1-161 17-98 8-133 8-184 6-200 0-161-5-154-9-97-8-150-16-110-15-128-21-105-21-88-20-81-21 0-1-58-16-115-39-56-22-37-16-70-34-67-39-42-30-33-28-5-3-20-20-26-29-21-30-7-13"/></g><g fill="url(#G21)" stroke="url(#G21)" stroke-width="5" stroke-linejoin="round"><path transform="translate(0 -979)" d="M16414 6058l209-29 201-23 208-20 453-37 130-14 122-18 158-30 180-42 216-58 280-81 16 8-287 85-216 59-180 43-158 29-115 17-129 14-446 33-209 19-201 23-216 29z"/><path transform="translate(0 -969)" d="M16430 6055l216-29 201-23 209-19 446-33 129-14 115-16 158-30 180-43 216-59 287-84 17 8-302 90-216 60-172 42-151 28-115 16-130 14-438 29-209 18-208 23-216 29z"/><path transform="translate(0 -959)" d="M16447 6052l216-29 208-23 209-18 438-29 130-13 115-17 151-28 172-42 216-60 302-90 16 8-316 96-209 60-172 42-151 29-115 15-122 12-432 26-208 16-209 22-223 30z"/><path transform="translate(0 -949)" d="M16463 6049l223-29 209-22 208-17 432-26 122-11 115-16 151-29 172-42 209-59 316-97 17 8-338 105-201 58-166 42-144 27-107 15-123 11-431 23-209 15-208 21-230 30z"/><path transform="translate(0 -940)" d="M16480 6046l230-30 208-21 209-15 431-23 123-11 107-15 144-27 166-41 201-59 338-104 16 8-359 113-187 56-158 40-144 28-108 15-122 10-424 19-209 13-216 22-230 29z"/><path transform="translate(0 -930)" d="M16496 6043l230-29 216-21 209-14 424-18 122-11 108-15 144-28 158-40 187-56 359-113 17 8-381 123-180 54-158 42-137 26-101 13-115 9-424 15-208 12-216 20-237 30z"/><path transform="translate(0 -920)" d="M16513 6040l237-30 216-20 208-12 424-14 115-10 101-13 137-26 158-41 180-55 381-123 16 8-417 138-158 49-151 40-129 25-101 13-115 8-410 10-216 11-223 20-237 29z"/><path transform="translate(0 -910)" d="M16529 6037l237-29 223-20 216-11 410-9 115-9 101-13 129-25 151-40 158-49 417-137 17 8-439 147-144 47-144 39-64 14-65 12-101 12-108 8-100 2-309 2-209 9-223 19-251 30z"/><path transform="translate(0 -900)" d="M16546 6034l251-30 223-19 209-8 309-3 100-2 108-7 101-13 65-12 64-14 144-39 144-46 439-148 16 8-474 164-123 40-136 38-65 15-58 10-100 13-108 6-94 1-309-2-208 7-115 8-115 10-252 30z"/><path transform="translate(0 -890)" d="M16562 6031l252-30 115-10 115-8 208-6 309 1 94-1 108-6 100-13 58-10 65-14 136-39 123-40 474-164 17 8-202 70-302 109-100 34-130 38-65 15-57 10-94 12-107 5-94 0-302-5-108 1-108 3-115 7-115 10-122 13-137 17z"/><path transform="translate(0 -880)" d="M16578 6028l137-17 122-13 115-9 115-7 108-4 108-1 302 6 94-1 107-5 94-12 57-10 65-15 130-38 100-34 302-109 202-70 16 8-194 69-317 118-107 38-65 21-65 18-57 13-58 10-93 11-101 4-93-2-295-10-108 0-101 2-115 6-122 10-129 13-137 17z"/><path transform="translate(0 -871)" d="M16595 6025l137-17 129-13 122-9 115-6 101-3 108 0 295 10 93 2 101-4 93-11 58-10 57-13 65-18 65-20 107-39 317-118 194-69 16 8-215 79-309 120-108 40-65 21-58 16-57 13-50 9-87 10-100 3-94-3-287-15-108-2-108 2-115 5-122 9-130 12-144 18z"/><path transform="translate(0 -861)" d="M16611 6022l144-17 130-13 122-9 115-5 108-2 108 2 287 15 94 3 100-3 87-10 50-9 57-13 58-16 65-21 108-40 309-120 215-79 17 8-230 86-317 128-93 36-58 20-57 17-58 14-50 9-86 9-94 2-86-4-295-21-108-3-107 0-116 5-122 8-136 13-144 16z"/><path transform="translate(0 -851)" d="M16628 6019l144-17 136-13 122-8 116-4 107-1 108 3 295 21 86 4 94-2 86-9 50-9 58-14 57-17 58-20 93-35 317-129 230-86 16 8-129 48-115 46-317 134-93 37-58 21-50 15-50 12-51 10-86 8-93 1-87-6-186-18-101-8-108-5-108-1-115 3-129 8-137 13-144 16z"/><path transform="translate(0 -841)" d="M16644 6016l144-17 137-13 129-8 115-3 108 1 108 5 101 8 186 18 87 6 93-1 86-8 51-10 50-12 50-15 58-20 93-38 317-134 115-45 129-49 17 8-137 52-122 50-316 141-87 36-57 21-51 16-50 12-43 8-43 6-43 3-87-1-86-8-187-22-93-10-108-7-108-2-115 2-129 7-144 12-151 17z"/><path transform="translate(0 -831)" d="M16661 6012l151-17 144-12 129-7 115-2 108 3 108 6 93 10 187 22 86 8 87 1 43-3 43-5 43-8 50-13 51-16 57-21 87-36 316-141 122-50 137-52 16 8-144 56-129 55-115 52-201 96-87 38-50 19-50 16-43 11-44 9-79 7-86-2-79-8-194-29-94-11-108-9-107-4-123 1-129 6-144 12-151 17z"/><path transform="translate(0 -821)" d="M16677 6009l151-16 144-12 129-7 123-1 107 4 108 9 94 11 194 29 79 8 86 2 79-7 44-8 43-11 50-17 50-19 87-38 201-96 115-52 129-55 144-56 17 8-144 57-137 60-115 55-208 105-79 36-51 21-43 14-43 12-43 8-36 5-43 2-43-1-44-3-79-11-179-31-94-14-108-12-108-6-122 0-129 5-144 11-165 18z"/><path transform="translate(0 -812)" d="M16694 6006l165-18 144-11 129-5 122 1 108 5 108 12 94 14 179 32 79 10 44 3 43 1 43-2 36-5 43-8 43-12 43-14 51-20 79-37 208-105 115-55 137-60 144-57 16 8-158 64-137 62-115 58-208 112-79 39-43 18-44 15-43 11-36 7-36 4-43 2-36-1-43-4-72-11-187-39-93-17-108-14-108-7-122-2-137 5-144 10-165 18z"/><path transform="translate(0 -802)" d="M16710 6003l165-18 144-10 137-5 122 2 108 8 108 13 93 17 187 39 72 11 43 4 36 1 43-1 36-5 36-7 43-11 44-15 43-18 79-39 208-112 115-58 137-62 158-64 17 7-159 66-143 68-123 65-208 119-72 37-43 19-36 13-43 13-36 7-36 4-36 1-36-1-43-5-72-14-180-44-93-20-108-16-108-10-122-4-137 4-151 10-172 18z"/><path transform="translate(0 -792)" d="M16727 6000l172-18 151-10 137-4 122 4 108 10 108 17 93 19 180 45 72 13 43 5 36 1 36-1 36-4 36-7 43-12 36-14 43-19 72-36 208-120 123-65 143-68 159-66 16 8-165 70-144 71-108 60-209 128-86 48-43 20-36 13-36 11-36 7-36 4-36 1-36-3-36-5-71-15-180-52-94-23-108-19-107-12-130-5-136 2-151 10-173 18z"/><path transform="translate(0 -782)" d="M16743 5997l173-18 151-10 136-2 130 5 107 12 108 19 94 23 180 52 71 16 36 5 36 2 36-1 36-4 36-7 36-11 36-13 43-20 86-48 209-128 108-60 144-71 165-70 16 7-86 37-79 35-79 39-72 38-108 64-215 141-80 47-35 18-36 15-36 11-36 7-36 4-36 0-36-3-36-7-65-17-172-57-94-27-108-23-108-14-129-8-137 1-158 9-180 18z"/><path transform="translate(0 -772)" d="M16759 5993l180-17 158-10 137-1 129 8 108 14 108 23 94 27 172 58 65 17 36 6 36 3 36 0 36-3 36-8 36-11 36-15 35-18 80-46 215-142 108-63 72-39 79-39 79-35 86-36 17 7-94 40-86 40-79 41-72 40-108 68-215 152-79 50-36 18-29 12-36 11-29 6-29 3-36 0-36-4-36-7-64-20-173-66-93-31-51-13-57-13-108-17-65-6-64-3-137-1-158 9-187 18z"/><path transform="translate(0 -762)" d="M16776 5990l187-18 158-8 137 0 64 3 65 6 108 17 57 13 51 13 93 31 173 66 64 20 36 7 36 4 36 0 29-3 29-6 36-11 29-12 36-18 79-49 215-153 108-67 72-41 79-41 86-40 94-40 16 7-79 34-79 38-72 36-64 37-72 44-72 49-72 53-144 111-65 44-36 22-36 17-36 13-35 8-29 3-36-1-29-3-36-9-65-22-172-76-86-33-51-15-57-15-51-11-57-9-65-8-65-4-71-2-72 0-166 8-187 18z"/><path transform="translate(0 -753)" d="M16792 5987l187-18 166-8 72 0 71 2 65 4 65 8 57 9 51 11 57 15 51 15 86 33 172 76 65 22 36 9 29 4 36 0 29-3 35-8 36-13 36-17 36-21 65-45 144-111 72-53 72-49 72-44 64-36 72-37 79-37 79-35 17 7-86 39-80 38-71 38-72 43-72 47-72 52-65 52-144 120-64 48-36 22-36 19-36 13-29 6-29 3-36-2-28-5-36-10-58-23-165-83-94-41-50-18-50-15-51-12-57-11-65-9-65-6-72-3-72-1-86 3-86 4-194 19z"/><path transform="translate(0 -743)" d="M16809 5984l194-18 86-5 86-3 72 1 72 3 65 6 65 9 57 11 51 12 50 15 50 18 94 41 165 83 58 23 36 10 28 5 36 2 29-3 29-6 36-13 36-18 36-23 64-48 144-120 65-52 72-52 72-47 72-43 71-38 80-38 86-38 16 7-93 42-79 39-79 44-72 45-72 51-72 56-65 56-136 124-58 47-36 24-36 20-36 14-29 7-28 3-29-2-29-5-36-12-57-26-166-95-86-43-50-20-58-20-50-14-58-12-64-10-65-7-72-4-79-1-86 2-87 4-194 18z"/><path transform="translate(0 -733)" d="M16825 5980l194-17 87-5 86-2 79 1 72 4 65 7 64 10 58 13 50 13 58 20 50 21 86 42 166 95 57 26 36 12 29 5 29 2 28-3 29-6 36-15 36-19 36-25 58-47 136-124 65-56 72-56 72-51 72-45 79-44 79-39 93-42 17 7-94 43-86 44-79 46-72 47-72 53-72 61-65 60-136 134-58 51-36 26-28 17-36 16-29 7-29 2-29-3-28-6-29-11-58-30-165-107-86-48-51-23-50-20-50-16-58-14-65-12-64-8-72-5-79-3-87 1-86 4-100 8-108 11z"/><path transform="translate(0 -723)" d="M16842 5977l108-11 100-7 86-4 87-2 79 3 72 5 64 8 65 12 58 15 50 15 50 20 51 23 86 48 165 107 58 30 29 11 28 6 29 3 29-2 29-7 36-16 28-17 36-26 58-51 136-134 65-60 72-61 72-53 72-47 79-46 86-44 94-43 16 7-101 47-86 45-79 48-79 55-72 57-72 66-64 65-130 139-57 55-36 28-29 17-29 13-29 7-28 2-29-3-29-9-29-12-28-16-36-24-159-116-79-49-50-26-50-21-51-18-57-16-65-14-65-9-71-6-80-3-86 0-93 4-101 8-108 10z"/><path transform="translate(0 -713)" d="M16858 5974l108-11 101-7 93-4 86-1 80 3 71 6 65 9 65 14 57 16 51 18 50 21 50 26 79 49 159 116 36 24 28 16 29 13 29 8 29 3 28-1 29-8 29-12 29-18 36-28 57-55 130-138 64-66 72-65 72-58 79-55 79-47 86-46 101-47 17 6-101 48-94 51-79 50-79 57-72 61-72 71-64 70-130 151-50 52-36 31-29 20-28 14-29 8-22 1-29-3-28-9-29-13-29-18-29-21-151-125-43-33-43-29-50-29-50-25-51-20-57-18-65-16-72-12-72-7-79-4-86 0-94 4-100 7-115 11z"/><path transform="translate(0 -703)" d="M16875 5970l115-11 100-7 94-3 86 0 79 3 72 8 72 11 65 16 57 18 51 20 50 25 50 29 43 29 43 33 151 125 29 21 29 18 29 14 28 8 29 3 22-1 29-8 28-14 29-19 36-31 50-53 130-150 64-71 72-70 72-61 79-58 79-50 94-51 101-47 16 6-108 52-93 53-87 57-79 61-72 66-71 76-65 78-122 155-51 56-28 27-29 21-29 15-29 9-21 1-29-4-22-7-28-15-29-20-29-23-151-140-43-37-43-32-51-32-50-28-50-22-58-20-64-17-65-12-79-9-79-5-87-1-93 3-108 8-115 11z"/><path transform="translate(0 -694)" d="M16891 5967l115-11 108-7 93-4 87 1 79 5 79 9 65 12 64 17 58 20 50 23 50 27 51 32 43 33 43 36 151 140 29 23 29 20 28 15 22 7 29 4 21-1 29-8 29-16 29-21 28-27 51-56 122-155 65-78 71-76 72-66 79-61 87-57 93-53 108-52 16 7-107 53-101 58-86 59-79 65-72 69-72 82-65 84-122 168-50 61-29 28-29 22-29 15-21 5-22 2-29-6-21-8-29-18-50-42-144-149-43-41-43-37-51-37-50-30-50-25-58-23-65-20-64-13-79-11-79-6-87-2-100 3-108 7-122 11z"/><path transform="translate(0 -684)" d="M16908 5963l122-11 108-7 100-3 87 2 79 6 79 11 64 13 65 20 58 23 50 25 50 31 51 36 43 37 43 41 144 149 50 42 29 18 21 9 29 5 22-1 21-6 29-15 29-22 29-28 50-61 122-168 65-84 72-81 72-70 79-65 86-59 101-58 107-53 17 6-115 58-101 59-86 62-79 68-72 74-72 88-65 90-115 172-50 67-29 31-29 24-28 16-22 6-21 1-22-4-22-9-28-18-22-18-29-28-151-173-43-45-36-33-50-41-50-33-51-28-57-25-65-21-65-15-79-12-79-6-93-3-101 3-108 6-122 12z"/><path transform="translate(0 -674)" d="M16924 5960l122-12 108-6 101-3 93 3 79 6 79 12 65 15 65 22 57 24 51 28 50 34 50 40 36 33 43 45 151 173 29 28 22 18 28 18 22 9 22 4 21-1 22-6 28-16 29-24 29-31 50-67 115-172 65-90 72-88 72-74 79-68 86-61 101-60 115-58 16 6-115 59-50 29-50 31-51 36-43 33-43 38-36 34-36 37-36 41-72 94-64 97-115 186-51 71-29 33-21 19-29 17-21 7-22 0-22-5-21-10-29-21-29-28-28-33-144-182-36-41-36-36-50-44-51-37-50-30-58-27-64-23-72-18-79-12-79-7-87-3-100 2-115 7-123 11z"/><path transform="translate(0 -664)" d="M16940 5956l123-11 115-7 100-2 87 3 79 7 79 12 72 18 64 23 58 27 50 30 51 37 50 44 36 37 36 40 144 182 28 33 29 28 29 21 21 10 22 5 22 0 21-7 29-17 21-19 29-33 51-71 115-186 64-97 72-94 36-41 36-37 36-34 43-38 43-33 51-35 50-32 50-29 115-58 17 6-65 31-57 31-51 30-50 33-50 37-44 35-43 39-36 36-36 39-36 44-35 47-36 53-65 104-108 188-50 77-29 36-22 21-28 18-22 7-22 1-14-4-14-6-22-13-29-26-21-25-29-36-101-142-43-57-50-59-43-44-43-38-43-32-44-26-50-25-65-25-72-19-71-13-87-9-93-3-101 2-115 6-122 12z"/><path transform="translate(0 -654)" d="M16957 5953l122-11 115-7 101-2 93 3 87 9 71 13 72 19 65 25 50 25 44 27 43 31 43 38 43 44 50 59 43 57 101 142 29 37 21 24 29 26 22 13 14 6 14 4 22-1 22-6 28-19 22-21 29-36 50-77 108-188 65-104 36-52 35-48 36-44 36-39 36-36 43-39 44-35 50-37 50-33 51-29 57-31 65-32 16 6-64 32-58 31-57 35-51 34-50 37-43 37-43 41-36 37-36 42-36 46-36 51-36 55-58 99-115 214-50 81-29 36-21 21-22 14-21 7-22 0-14-4-15-7-21-15-29-29-22-27-28-40-94-143-43-62-50-65-44-47-43-41-43-34-43-29-50-27-65-26-72-21-72-14-86-9-94-4-100 1-115 6-130 12z"/><path transform="translate(0 -644)" d="M16973 5949l130-12 115-6 100-1 94 4 86 10 72 13 72 21 65 27 50 27 43 28 43 34 43 41 44 47 50 65 43 62 94 143 28 40 22 27 29 29 21 15 15 7 14 4 22 0 21-7 22-14 21-21 29-36 50-81 115-214 58-99 36-55 36-51 36-46 36-42 36-37 43-41 43-36 50-38 51-34 57-35 58-31 64-32 17 5-65 33-57 31-58 35-50 35-51 38-43 37-43 42-43 47-36 44-36 48-65 100-64 117-115 227-44 74-28 39-22 22-21 15-22 8-22-1-14-4-14-8-22-17-29-32-43-61-93-154-43-67-51-69-43-52-43-43-43-37-43-30-51-29-64-28-72-22-72-15-86-11-94-4-108 0-115 7-129 11z"/><path transform="translate(0 -635)" d="M16990 5946l129-12 115-6 108-1 94 4 86 11 72 15 72 22 64 28 51 29 43 30 43 37 43 44 43 51 51 69 43 67 93 154 43 62 29 31 22 17 14 8 14 5 22 0 22-8 21-15 22-22 28-39 44-74 115-227 64-116 65-101 36-48 36-44 43-47 43-41 43-38 51-38 50-34 58-36 57-31 65-32 16 5-65 33-57 31-58 36-50 35-50 39-43 37-43 43-44 48-36 44-36 50-35 55-36 61-58 109-115 239-43 79-29 41-21 24-22 16-22 8-21-1-15-5-14-8-22-19-28-34-43-67-87-151-43-71-50-75-43-54-43-47-44-39-43-32-50-31-65-30-72-23-72-16-86-11-93-6-108 1-115 6-137 12z"/><path transform="translate(0 -625)" d="M17006 5942l137-12 115-6 108-1 93 6 86 11 72 16 72 24 65 30 50 30 43 32 44 39 43 47 43 54 50 75 43 71 87 152 43 66 28 34 22 19 14 8 15 5 21 1 22-8 22-16 21-23 29-42 43-78 115-239 58-109 36-61 35-56 36-49 36-45 44-48 43-42 43-38 50-39 50-35 58-35 57-32 65-33 17 6-65 32-65 37-57 36-51 35-50 41-43 39-43 43-43 50-36 47-36 52-36 58-36 64-58 114-108 234-43 82-28 44-22 25-22 17-21 8-22-1-21-10-22-17-29-34-43-68-93-171-43-75-51-77-43-56-36-41-43-41-43-34-50-33-65-31-72-25-72-17-86-12-94-6-108 0-122 6-136 12z"/><path transform="translate(0 -615)" d="M17023 5938l136-12 122-6 108 0 94 6 86 12 72 17 72 25 65 32 50 32 43 34 43 41 36 41 43 56 51 77 43 75 93 171 43 68 29 34 22 18 21 9 22 1 21-8 22-17 22-25 28-44 43-82 108-234 58-114 36-64 36-58 36-52 36-47 43-49 43-44 43-39 50-40 51-36 57-36 65-37 65-32 16 5-65 33-64 36-58 37-50 35-51 41-43 39-43 45-43 50-36 47-36 53-36 59-36 65-57 118-115 256-43 83-22 33-22 25-21 18-22 8-21-1-22-10-21-18-29-36-43-71-94-178-43-76-43-69-43-59-43-50-43-42-44-35-50-33-65-32-72-25-71-17-87-13-93-6-108 0-122 6-137 12z"/><path transform="translate(0 -605)" d="M17039 5934l137-12 122-6 108 0 93 6 87 13 71 17 72 25 65 32 50 33 44 35 43 42 43 50 43 59 43 69 43 77 94 177 43 71 29 36 21 18 22 10 21 1 22-8 21-17 22-26 22-33 43-83 115-256 57-117 36-66 36-59 36-52 36-48 43-50 43-45 43-39 51-40 50-36 58-37 64-36 65-33 17 5-65 33-65 37-57 36-51 36-50 41-43 39-43 45-43 51-36 48-36 53-36 60-36 66-58 119-115 261-43 84-22 34-21 27-22 17-21 9-22-1-21-11-22-19-29-36-43-73-93-182-43-78-44-70-43-60-43-51-43-42-43-35-51-33-64-32-72-26-72-17-86-12-94-6-108-1-122 6-136 12z"/><path transform="translate(0 -595)" d="M17056 5931l136-12 122-6 108 0 94 6 86 12 72 17 72 26 64 32 51 33 43 35 43 43 43 51 43 60 44 69 43 79 93 181 43 73 29 36 22 19 21 11 22 1 21-9 22-17 21-27 22-33 43-85 115-261 58-119 36-66 36-60 36-53 36-48 43-51 43-44 43-40 50-41 51-36 57-36 65-37 65-32 16 4-65 33-64 37-58 36-57 42-51 42-43 40-43 46-43 52-36 49-36 54-36 62-29 53-57 120-115 263-44 85-21 34-22 27-21 18-22 8-21-1-22-11-22-19-28-37-43-73-87-169-43-80-50-83-43-60-36-43-43-44-44-36-50-35-65-33-71-27-72-18-87-13-100-6-108 0-122 6-137 12z"/><path transform="translate(0 -585)" d="M17072 5927l137-12 122-6 108 0 100 7 87 13 72 17 71 27 65 34 50 34 44 36 43 44 36 43 43 61 50 82 43 80 87 169 43 73 28 37 22 20 22 10 21 1 22-8 21-18 22-27 21-34 44-85 115-263 57-120 29-53 36-61 36-55 36-49 43-52 43-46 43-40 51-42 57-41 58-37 64-37 65-32 16 4-64 33-65 37-57 36-51 36-50 41-43 40-43 44-44 51-36 48-35 53-36 60-36 66-58 119-115 262-43 84-22 34-21 26-22 18-21 9-22-1-21-11-22-19-29-36-43-73-93-181-44-79-43-69-43-60-43-51-43-42-43-35-51-33-64-33-72-25-72-17-86-12-94-6-108 0-122 6-137 12z"/><path transform="translate(0 -576)" d="M17088 5923l137-12 122-6 108 0 94 6 86 12 72 17 72 26 64 32 51 33 43 35 43 42 43 51 43 60 43 70 44 78 93 181 43 73 29 36 22 19 21 11 22 1 21-9 22-17 21-27 22-34 43-84 115-262 58-119 36-66 36-59 35-54 36-48 44-51 43-44 43-40 50-41 51-36 57-36 65-37 64-32 17 4-65 33-65 36-57 37-50 36-51 40-43 40-43 44-43 51-36 47-36 53-36 59-36 65-57 118-115 257-44 82-21 33-22 26-21 18-22 8-21-1-22-10-22-18-28-36-44-70-93-178-43-77-43-68-43-59-44-50-43-42-43-35-50-32-65-32-72-26-72-16-86-13-93-5-108 0-122 6-137 12z"/><path transform="translate(0 -566)" d="M17105 5919l137-12 122-6 108 0 93 6 86 12 72 17 72 25 65 32 50 32 43 35 43 42 44 50 43 59 43 69 43 76 93 178 44 70 28 36 22 18 22 10 21 1 22-8 21-18 22-26 21-33 44-82 115-257 57-118 36-65 36-59 36-53 36-47 43-51 43-44 43-40 51-40 50-36 57-37 65-36 65-33 16 5-64 32-65 37-58 36-50 36-50 40-43 39-44 44-43 50-36 47-36 52-36 58-35 64-58 115-108 234-43 83-29 44-21 24-22 17-21 9-22-1-22-9-21-18-29-34-43-67-94-171-43-75-50-77-43-56-36-40-43-41-43-34-51-32-64-32-72-24-72-17-86-12-94-6-108 0-122 7-137 12z"/><path transform="translate(0 -556)" d="M17121 5915l137-12 122-6 108 0 94 5 86 12 72 17 72 25 64 31 51 32 43 34 43 41 36 40 43 57 50 76 43 75 94 171 43 67 29 34 21 18 22 9 22 1 21-8 22-17 21-25 29-44 43-83 108-234 58-115 35-64 36-58 36-52 36-47 43-50 44-44 43-39 50-40 50-36 58-36 65-36 64-33 17 4-65 33-57 32-58 35-50 35-51 39-43 38-43 42-43 49-36 45-36 50-36 55-36 61-57 110-115 239-44 79-28 42-22 24-21 16-22 8-22-1-14-5-14-8-22-18-29-35-43-66-86-150-43-72-51-74-43-54-43-46-43-39-43-32-50-30-65-30-72-24-72-15-86-11-94-5-108 1-115 6-136 12z"/><path transform="translate(0 -546)" d="M17138 5911l136-12 115-6 108-1 94 5 86 11 72 16 72 23 65 30 50 30 43 32 43 39 43 46 43 54 51 74 43 72 86 150 43 66 29 35 22 18 14 9 14 4 22 1 22-8 21-16 22-24 28-42 44-79 115-239 57-110 36-61 36-55 36-50 36-45 43-48 43-43 43-38 51-39 50-35 58-35 57-32 65-32 16 4-64 32-58 32-57 35-51 34-50 39-43 37-43 42-44 47-36 44-35 49-65 101-65 117-115 228-43 74-29 39-21 23-22 15-22 8-21 0-15-5-14-7-21-17-29-32-43-61-94-153-43-67-50-69-43-51-44-43-43-36-43-31-50-28-65-28-72-22-72-14-86-10-93-5-108 2-115 6-130 12z"/><path transform="translate(0 -536)" d="M17154 5907l130-12 115-6 108-2 93 5 86 10 72 14 72 22 65 28 50 29 43 30 43 36 44 43 43 51 50 69 43 67 94 153 43 61 29 32 21 17 14 7 15 5 21 0 22-8 22-15 21-23 29-39 43-74 115-228 65-117 65-101 35-49 36-44 44-47 43-42 43-37 50-39 51-34 57-35 58-32 64-32 17 4-65 32-58 31-57 35-50 34-51 38-43 37-43 41-36 38-36 42-36 46-36 51-36 56-57 99-115 215-51 82-28 36-22 21-22 15-21 7-22 0-14-4-14-6-22-15-29-29-21-27-29-40-94-142-43-62-50-64-43-47-43-40-43-34-44-28-50-27-65-26-72-20-71-14-87-9-93-3-101 1-115 7-129 12z"/><path transform="translate(0 -526)" d="M17171 5903l129-12 115-7 101-1 93 3 87 10 71 13 72 20 65 26 50 27 44 28 43 34 43 40 43 47 50 64 43 62 94 143 29 40 21 26 29 29 22 15 14 7 14 3 22 0 21-7 22-15 22-20 28-37 51-82 115-215 57-99 36-56 36-51 36-46 36-42 36-38 43-41 43-37 51-38 50-34 57-35 58-31 65-32 16 4-65 32-57 31-50 30-51 33-50 36-43 36-43 39-36 36-36 40-36 44-36 48-36 53-58 92-122 214-43 66-29 36-21 21-29 19-22 7-21 1-15-3-14-6-22-14-28-25-22-24-29-36-100-141-43-57-51-59-43-43-43-37-43-32-43-26-51-24-64-25-72-19-72-12-86-8-94-3-101 2-115 7-122 12z"/><path transform="translate(0 -516)" d="M17187 5899l122-12 115-7 101-2 94 3 86 8 72 13 72 18 64 25 51 24 43 26 43 32 43 37 43 43 51 59 43 57 100 141 29 36 22 24 28 25 22 14 14 6 15 3 21-1 22-7 29-19 21-21 29-36 43-66 122-213 58-93 36-53 36-48 36-44 36-40 36-36 43-39 43-35 50-37 51-33 50-30 57-31 65-32 17 4-115 58-51 29-50 32-50 36-44 34-43 37-36 35-36 38-36 41-71 94-65 98-115 188-51 72-28 33-22 19-29 18-21 6-22 1-21-4-22-10-29-21-28-28-29-32-144-181-36-39-36-37-50-43-51-36-50-30-57-26-65-23-72-17-72-11-86-7-86-3-101 3-115 7-122 12z"/><path transform="translate(0 -507)" d="M17204 5895l122-12 115-7 101-2 86 2 86 7 72 11 72 18 65 22 57 26 50 30 51 36 50 44 36 36 36 40 144 180 29 33 28 27 29 21 22 10 21 5 22-1 21-7 29-18 22-19 28-33 51-72 115-187 65-98 71-95 36-41 36-38 36-35 43-37 44-34 50-36 50-32 51-29 115-58 16 4-115 57-50 29-51 31-86 63-43 35-36 33-72 75-72 89-65 91-115 174-50 67-29 32-28 24-29 17-22 6-21 2-22-4-21-9-29-18-22-17-29-28-151-171-43-44-36-33-50-40-50-33-51-27-57-24-65-21-65-14-79-12-79-6-86-1-101 2-115 8-122 12z"/><path transform="translate(0 -497)" d="M17220 5891l122-12 115-8 101-2 86 2 79 6 79 11 65 15 65 20 57 24 51 27 50 33 50 40 36 33 43 44 151 171 29 28 22 17 29 18 21 9 22 4 21-2 22-6 29-16 28-25 29-32 50-67 115-174 65-91 72-89 72-75 36-32 43-36 86-62 51-32 50-29 115-57 17 4-108 52-101 59-86 59-79 66-72 71-72 82-65 85-122 170-50 62-29 29-29 22-29 15-21 6-22 2-29-5-21-8-29-17-22-16-28-26-151-154-43-39-36-30-51-36-50-30-50-25-58-22-65-19-64-13-79-10-79-5-87-1-100 3-108 8-123 12z"/><path transform="translate(0 -487)" d="M17236 5887l123-12 108-8 100-3 87 1 79 5 79 10 64 14 65 18 58 23 50 24 50 30 51 36 36 30 43 40 151 153 28 26 22 16 29 17 21 8 29 5 22-1 21-7 29-15 29-22 29-29 50-61 122-171 65-84 72-83 72-71 79-65 86-60 101-58 108-53 16 3-108 52-93 53-87 58-79 62-72 67-72 77-64 78-122 158-51 57-29 27-28 22-29 16-29 9-21 2-29-4-29-10-29-16-28-20-29-23-158-144-72-55-51-32-50-26-50-22-58-20-65-16-64-11-79-9-79-4-87 0-93 4-108 8-115 11z"/><path transform="translate(0 -477)" d="M17253 5883l115-12 108-8 93-4 87 0 79 4 79 9 64 11 65 17 58 19 50 22 50 26 51 32 72 55 158 144 29 23 28 20 29 16 29 10 29 4 21-2 29-9 29-16 28-22 29-27 51-57 122-158 64-78 72-77 72-67 79-62 87-58 93-52 108-53 16 4-100 48-94 51-79 50-79 58-72 62-72 72-64 72-130 153-57 60-29 25-29 20-29 14-28 9-22 2-29-3-28-8-29-13-29-17-29-21-151-122-43-32-43-28-50-29-51-24-50-19-58-18-64-15-72-11-72-6-79-3-86 1-94 4-101 7-115 12z"/><path transform="translate(0 -467)" d="M17269 5878l115-11 101-8 94-4 86-1 79 3 72 7 72 11 64 14 58 18 50 19 51 24 50 29 43 28 43 32 151 122 29 21 29 17 29 13 28 9 29 2 22-2 28-8 29-15 29-20 29-25 57-60 130-153 64-72 72-72 72-61 79-59 79-50 94-51 100-48 17 3-101 47-86 46-79 49-79 55-72 59-72 66-65 67-129 141-58 56-36 29-28 18-29 14-29 8-29 2-28-3-29-7-29-12-29-16-36-23-158-113-79-47-50-25-51-21-50-17-57-16-65-12-65-9-72-5-79-2-86 1-94 5-100 8-108 11z"/><path transform="translate(0 -457)" d="M17286 5874l108-11 100-8 94-5 86-1 79 2 72 5 65 9 65 12 57 16 50 17 51 21 50 25 79 47 158 113 36 23 29 16 29 12 29 8 28 2 29-2 29-8 29-13 28-19 36-28 58-56 129-142 65-66 72-67 72-59 79-55 79-49 86-46 101-46 16 3-93 43-86 44-80 46-79 53-72 56-71 62-65 62-130 130-57 52-36 28-29 17-36 16-29 8-28 3-29-2-29-6-29-10-57-28-165-104-87-47-50-22-50-19-51-15-57-13-65-11-65-8-72-4-79-2-86 2-86 5-101 8-108 12z"/><path transform="translate(0 -448)" d="M17302 5870l108-12 101-8 86-5 86-2 79 2 72 4 65 8 65 11 57 13 51 16 50 18 50 22 87 47 165 104 57 28 29 10 29 6 29 2 28-3 29-7 36-17 29-17 36-27 57-53 130-130 65-62 71-62 72-55 79-53 80-47 86-44 93-43 17 3-94 42-79 40-79 44-72 46-72 52-72 58-64 57-137 127-57 48-36 26-36 20-36 15-29 8-29 3-29-1-28-5-36-10-58-25-165-91-94-44-50-20-50-16-51-13-57-11-65-9-65-6-71-4-80 0-79 3-86 5-201 19z"/><path transform="translate(0 -438)" d="M17319 5866l201-20 86-5 79-3 80 1 71 3 65 6 65 9 57 12 51 13 50 16 50 19 94 44 165 91 58 25 36 11 28 4 29 1 29-3 29-7 36-15 36-21 36-26 57-48 137-127 64-57 72-58 72-52 72-45 79-45 79-40 94-42 16 3-86 38-79 39-72 39-72 43-72 48-72 54-72 59-136 117-65 50-36 24-36 19-36 14-36 8-29 3-28-1-29-5-36-9-65-25-158-76-93-39-51-17-50-14-50-11-58-10-65-8-64-5-72-3-72 1-86 3-87 6-194 19z"/><path transform="translate(0 -428)" d="M17335 5861l194-19 87-6 86-3 72 0 72 2 64 5 65 8 58 10 50 11 50 15 51 16 93 39 158 76 65 25 36 10 29 4 28 1 29-3 36-8 36-14 36-19 36-24 65-50 136-117 72-59 72-54 72-48 72-43 72-39 79-38 86-38 17 3-79 34-80 37-71 37-65 37-79 51-72 50-65 49-144 115-64 47-43 26-36 17-36 13-36 9-29 3-36-1-29-4-36-8-64-22-166-68-86-31-50-15-58-14-50-10-58-8-65-7-64-3-72-1-72 1-165 9-187 20z"/><path transform="translate(0 -418)" d="M17352 5857l187-19 165-10 72-1 72 1 64 4 65 6 58 8 50 10 58 14 50 15 86 31 166 69 64 21 36 8 29 4 36 1 29-3 36-8 36-13 36-18 43-26 64-47 144-114 65-50 72-50 79-50 65-37 71-38 80-37 79-34 16 3-79 33-72 33-65 33-64 35-79 47-72 47-216 158-72 48-43 24-36 16-36 12-36 8-29 4-36 0-36-4-36-7-64-18-166-60-93-28-101-23-108-16-64-5-65-3-144 2-158 10-187 19z"/><path transform="translate(0 -408)" d="M17368 5853l187-20 158-10 144-2 65 3 64 5 108 16 101 23 93 29 166 59 64 19 36 7 36 3 36 0 29-3 36-8 36-13 36-16 43-24 72-48 216-158 72-47 79-47 64-35 65-32 72-33 79-34 17 3-87 36-86 40-79 39-72 40-108 66-216 147-79 48-36 19-36 15-35 12-36 7-29 4-36 1-36-2-36-6-72-17-173-53-93-24-101-19-107-13-130-5-137 3-158 11-179 19z"/><path transform="translate(0 -398)" d="M17385 5848l179-19 158-11 137-3 130 5 107 13 101 19 93 24 173 53 72 18 36 5 36 2 36-1 29-3 36-8 35-12 36-15 36-18 79-49 216-147 108-66 72-40 79-39 86-40 87-36 16 3-86 36-79 35-72 34-72 38-108 62-216 138-86 50-43 20-36 15-36 11-36 8-36 4-36 1-36-2-36-4-72-14-172-46-94-20-108-17-107-10-123-3-136 4-158 11-173 20z"/><path transform="translate(0 -389)" d="M17401 5844l173-19 158-12 136-4 123 3 107 10 108 17 94 21 172 45 72 14 36 4 36 2 36-1 36-4 36-8 36-11 36-14 43-21 86-50 216-138 108-62 72-37 72-35 79-35 86-36 16 3-158 66-144 70-107 59-216 129-86 47-43 20-36 14-44 13-36 8-35 4-36 2-36-1-44-4-71-12-180-39-94-17-100-13-108-8-122-2-137 6-151 12-173 19z"/><path transform="translate(0 -379)" d="M17417 5839l173-19 151-12 137-5 122 1 108 8 100 13 94 17 180 40 71 12 44 3 36 1 36-2 35-4 36-8 44-13 36-14 43-20 86-47 216-129 107-59 144-70 158-65 17 3-151 61-144 67-122 64-209 118-79 40-43 19-43 16-43 13-36 7-36 5-43 3-79-3-72-10-180-33-93-14-108-11-108-6-122 1-137 6-144 13-165 19z"/><path transform="translate(0 -369)" d="M17434 5835l165-19 144-13 137-6 122 0 108 5 108 11 93 15 180 32 72 10 79 3 43-2 36-5 36-8 43-13 43-16 43-19 79-40 209-118 122-64 144-67 151-61 16 3-151 60-136 61-115 58-216 115-79 38-43 18-43 16-44 13-43 9-36 5-43 3-43 1-43-2-72-8-187-28-93-11-108-9-108-3-122 2-130 7-143 13-159 19z"/><path transform="translate(0 -359)" d="M17450 5830l159-18 143-13 130-8 122-2 108 4 108 8 93 12 187 27 72 8 43 2 43 0 43-4 36-5 43-9 44-13 43-16 43-18 79-38 216-115 115-58 136-61 151-60 17 3-144 56-137 59-115 55-208 105-86 40-51 21-43 14-43 13-43 9-79 9-87 0-79-6-194-23-93-8-101-6-108-2-122 3-129 9-137 13-158 19z"/><path transform="translate(0 -349)" d="M17467 5826l158-19 137-13 129-8 122-4 108 2 101 6 93 9 194 23 79 6 87-1 79-9 43-9 43-12 43-15 51-20 86-40 208-106 115-55 137-59 144-56 16 3-136 52-130 54-115 52-216 104-86 38-50 20-50 16-44 12-43 9-43 7-43 4-86 1-87-5-187-17-93-6-108-5-108 1-115 4-129 9-137 14-151 18z"/><path transform="translate(0 -339)" d="M17483 5822l151-19 137-14 129-9 115-4 108 0 108 4 93 6 187 18 87 4 86-1 43-4 43-7 43-9 44-11 50-17 50-20 86-38 216-103 115-53 130-54 136-52 17 3-130 48-129 53-115 50-216 99-86 36-58 22-50 15-50 14-43 8-80 10-93 3-86-3-288-17-101-2-107 1-115 5-130 10-136 15-144 18z"/><path transform="translate(0 -330)" d="M17500 5817l144-18 136-14 130-11 115-5 107-1 101 2 288 17 86 3 93-3 80-10 43-8 50-13 50-16 58-22 86-36 216-99 115-50 129-53 130-48 16 3-129 48-122 48-324 139-94 38-107 37-51 13-50 10-86 11-94 4-86-1-295-12-101 0-107 3-115 6-123 11-129 14-144 18z"/><path transform="translate(0 -320)" d="M17516 5813l144-19 129-14 123-10 115-7 107-3 101 0 295 12 86 2 94-5 86-11 50-10 51-13 107-36 94-38 324-140 122-48 129-48 17 4-123 43-122 47-316 131-101 40-57 20-58 17-50 13-51 10-86 12-101 6-86 0-295-6-107 1-108 4-115 8-115 10-130 15-136 18z"/><path transform="translate(0 -310)" d="M17533 5808l136-18 130-15 115-10 115-8 108-4 107-1 295 6 86 0 101-6 86-12 51-10 50-13 58-17 57-20 101-40 316-131 122-47 123-43 16 3-230 83-324 129-100 38-115 36-58 15-50 10-94 13-100 7-94 1-295-1-107 3-108 6-108 8-115 11-259 32z"/><path transform="translate(0 -300)" d="M17549 5803l259-32 115-11 108-8 108-6 107-3 295 2 94-2 100-7 94-13 50-10 58-14 115-37 100-38 324-129 230-83 16 3-222 79-317 121-108 40-122 38-108 24-93 14-108 8-93 3-302 4-209 10-223 20-251 33z"/><path transform="translate(0 -290)" d="M17566 5799l251-32 223-21 209-10 302-4 93-3 108-8 93-14 108-24 122-38 108-39 317-122 222-79 17 3-209 72-323 121-108 38-122 37-115 26-101 15-108 9-395 12-216 13-216 21-244 32z"/><path transform="translate(0 -280)" d="M17582 5794l244-32 216-21 216-13 395-12 108-9 101-15 115-26 122-37 108-38 323-121 209-72 16 4-201 68-316 114-115 39-130 38-115 26-100 16-108 10-101 6-309 12-216 15-208 22-238 32z"/><path transform="translate(0 -271)" d="M17598 5790l238-32 208-22 216-15 309-12 101-6 108-10 100-16 115-25 130-39 115-39 316-114 201-68 17 3-187 62-324 113-115 38-136 40-123 27-100 15-115 12-410 22-209 17-208 23-230 31z"/><path transform="translate(0 -261)" d="M17615 5785l230-31 208-23 209-16 410-23 115-11 100-16 123-27 136-39 115-39 324-113 187-62 16 3-172 56-324 111-122 39-137 39-129 29-108 17-115 12-410 27-215 18-202 24-223 31z"/><path transform="translate(0 -251)" d="M17631 5781l223-31 202-23 215-19 410-27 115-12 108-17 129-29 137-38 122-40 324-110 172-56 17 3-611 199-144 40-130 28-107 17-116 14-424 32-208 19-202 24-215 31z"/><path transform="translate(0 -241)" d="M17648 5776l215-30 202-24 208-20 424-32 116-13 107-18 130-28 144-40 611-199 16 3-604 193-144 39-136 30-108 18-122 15-432 36-208 21-194 24-209 31z"/><path transform="translate(0 -231)" d="M17664 5772l209-30 194-25 208-21 432-36 122-15 108-18 136-30 144-39 604-192 17 3-597 186-151 41-137 30-115 19-122 15-439 41-208 22-187 24-201 30z"/><path transform="translate(0 -221)" d="M17681 5767l201-29 187-24 208-23 439-41 122-15 115-19 137-30 151-41 597-186 16 4-460 142-137 40-151 40-136 29-101 18-108 15-625 65-216 27-223 33z"/><path transform="translate(0 -212)" d="M17697 5763l223-33 216-28 625-65 108-15 101-17 136-30 151-40 137-40 460-142 17 3-446 135-144 42-158 41-144 31-101 18-115 16-618 68-209 27-222 34z"/><path transform="translate(0 -202)" d="M17714 5758l222-33 209-28 618-68 115-16 101-18 144-30 158-42 144-42 446-135 16 4-431 129-151 43-159 41-151 32-107 19-115 17-619 71-208 29-216 32z"/><path transform="translate(0 -192)" d="M17730 5754l216-33 208-29 619-71 115-17 107-19 151-32 159-41 151-43 431-129 16 4-417 122-165 47-158 40-151 32-108 19-122 19-619 75-201 28-216 33z"/><path transform="translate(0 -182)" d="M17746 5749l216-33 201-28 619-75 122-19 108-19 151-32 158-40 165-47 417-122 17 3-410 119-165 46-166 41-151 33-115 20-122 19-618 78-202 29-208 32z"/><path transform="translate(0 -172)" d="M17763 5745l208-33 202-29 618-78 122-19 115-20 151-32 166-42 165-46 410-118 16 3-395 113-173 47-165 42-158 33-115 21-130 20-618 82-201 29-202 32z"/><path transform="translate(0 -162)" d="M17779 5740l202-32 201-29 618-81 130-21 115-20 158-34 165-41 173-48 395-113 17 4-388 109-180 49-173 42-158 34-115 21-129 20-619 84-395 61z"/><path transform="translate(0 -152)" d="M17796 5735l395-61 619-84 129-20 115-21 158-33 173-43 180-48 388-110 16 4-374 104-187 50-172 42-166 35-122 23-129 20-626 88-381 60z"/><path transform="translate(0 -143)" d="M17812 5731l381-60 626-87 129-21 122-23 166-35 172-42 187-50 374-104 17 4-367 101-194 51-173 42-165 35-129 24-137 22-618 89-374 59z"/><path transform="translate(0 -133)" d="M17829 5726l374-59 618-89 137-22 129-24 165-35 173-42 194-51 367-101 16 4-359 98-194 51-180 43-166 35-129 24-144 24-618 91-367 59z"/><path transform="translate(0 -123)" d="M17845 5722l367-59 618-91 144-24 129-24 166-35 180-43 194-51 359-98 17 4-346 93-201 52-180 43-172 37-137 25-144 24-618 94-359 58z"/><path transform="translate(0 -113)" d="M17862 5717l359-58 618-93 144-25 137-25 172-37 180-43 201-52 346-93 16 4-345 92-201 52-187 44-173 36-137 26-143 24-619 96-352 58z"/><path transform="translate(0 -103)" d="M17878 5713l352-58 619-95 143-25 137-25 173-37 187-44 201-51 345-92 17 4-338 89-209 53-187 43-172 37-288 52-618 97-346 57z"/><path transform="translate(0 -93)" d="M17894 5708l346-57 618-97 288-52 172-36 187-44 209-53 338-89 16 4-331 86-208 53-187 44-180 38-295 53-618 99-338 57z"/><path transform="translate(0 -84)" d="M17911 5704l338-57 618-99 295-53 180-38 187-44 208-52 331-87 16 4-323 84-216 54-187 43-180 38-302 56-618 100-331 56z"/><path transform="translate(0 -74)" d="M17927 5700l331-57 618-100 302-56 180-38 187-43 216-54 323-84 17 5-532 134-194 45-180 38-309 57-619 102-323 56z"/><path transform="translate(0 -64)" d="M17944 5695l323-56 619-101 309-58 180-38 194-44 532-135 16 4-532 134-194 44-180 38-316 59-618 103-317 55z"/><path transform="translate(0 -54)" d="M17960 5691l317-55 618-104 316-58 180-38 194-45 532-134 17 4-532 133-194 45-187 39-317 59-618 105-309 54z"/><path transform="translate(0 -44)" d="M17977 5686l309-54 618-105 317-59 187-39 194-45 532-133 16 5-532 132-194 44-187 39-323 61-921 160z"/><path transform="translate(0 -34)" d="M17993 5682l921-160 323-60 187-40 194-44 532-132 17 4-525 130-202 45-186 40-331 63-913 159z"/><path transform="translate(0 -25)" d="M18010 5677l913-159 331-63 186-39 202-46 525-130 16 5-525 128-201 46-187 39-338 65-906 160z"/><path transform="translate(0 -15)" d="M18026 5673l906-160 338-64 187-40 201-45 525-129 17 4-518 127-201 45-195 41-345 66-898 160z"/><path transform="translate(0 -5)" d="M18043 5668l898-159 345-67 195-41 201-45 518-126 16 4-525 127-201 46-194 40-345 67-892 160z"/></g></g><path class="a" stroke-width="1.2" d="M1805.9 701.1L2021.6 653.4M1805.9 701.1L1641.4 639.1M1805.9 701.1l5.6 2.1M1827.5 696.3l5.6 2.1M1849 691.6l5.6 2.1M1870.6 686.8l5.6 2.1M1892.2 682l5.6 2.1M1913.8 677.2l5.6 2.1M1935.3 672.5l5.6 2.1M1956.9 667.7l5.6 2.1M1978.5 662.9l5.6 2.1M2000 658.2l5.6 2.1M2021.6 653.4l5.6 2.1M1805.9 701.1l-5.9 1.3M1789.5 694.9l-5.9 1.3M1773 688.7l-5.9 1.3M1756.6 682.5l-5.9 1.3M1740.1 676.3l-5.9 1.3M1723.7 670.1l-5.9 1.3M1707.2 663.9l-5.9 1.3M1690.8 657.7l-5.9 1.3M1674.3 651.5l-5.9 1.3M1657.9 645.3l-5.9 1.3M1641.4 639.1l-5.9 1.3"/><path fill="none" stroke="#333" stroke-width="1" d="M1641.4 639.1L1641.4 504.9"/><path class="t" d="M1641.4 639.1l-5.6 -2.1M1641.4 615.7l-5.6 -2.1M1641.4 592.2l-5.6 -2.1M1641.4 568.8l-5.6 -2.1M1641.4 545.3l-5.6 -2.1M1641.4 521.9l-5.6 -2.1"/><text transform="translate(1831.5 452.29) scale(.49 1)" font-size="10.73" text-anchor="middle" font-weight="bold">Parameter space</text><text transform="translate(1813.34 714.41) scale(.49 1)" font-size="9.76">-5</text><text transform="translate(1834.91 709.64) scale(.49 1)" font-size="9.76">-4</text><text transform="translate(1856.48 704.87) scale(.49 1)" font-size="9.76">-3</text><text transform="translate(1878.05 700.1) scale(.49 1)" font-size="9.76">-2</text><text transform="translate(1899.62 695.33) scale(.49 1)" font-size="9.76">-1</text><text transform="translate(1921.19 690.56) scale(.49 1)" font-size="9.76">0</text><text transform="translate(1942.76 685.79) scale(.49 1)" font-size="9.76">1</text><text transform="translate(1964.33 681.02) scale(.49 1)" font-size="9.76">2</text><text transform="translate(1985.9 676.25) scale(.49 1)" font-size="9.76">3</text><text transform="translate(2007.47 671.48) scale(.49 1)" font-size="9.76">4</text><text transform="translate(2029.04 666.71) scale(.49 1)" font-size="9.76">5</text><text transform="translate(1799.01 713.54) scale(.49 1)" font-size="9.76" text-anchor="end">-5</text><text transform="translate(1782.56 707.34) scale(.49 1)" font-size="9.76" text-anchor="end">-4</text><text transform="translate(1766.11 701.14) scale(.49 1)" font-size="9.76" text-anchor="end">-3</text><text transform="translate(1749.66 694.94) scale(.49 1)" font-size="9.76" text-anchor="end">-2</text><text transform="translate(1733.21 688.74) scale(.49 1)" font-size="9.76" text-anchor="end">-1</text><text transform="translate(1716.76 682.54) scale(.49 1)" font-size="9.76" text-anchor="end">0</text><text transform="translate(1700.31 676.34) scale(.49 1)" font-size="9.76" text-anchor="end">1</text><text transform="translate(1683.86 670.14) scale(.49 1)" font-size="9.76" text-anchor="end">2</text><text transform="translate(1667.41 663.94) scale(.49 1)" font-size="9.76" text-anchor="end">3</text><text transform="translate(1650.96 657.74) scale(.49 1)" font-size="9.76" text-anchor="end">4</text><text transform="translate(1634.51 651.54) scale(.49 1)" font-size="9.76" text-anchor="end">5</text><text transform="translate(1634.29 640.96) scale(.49 1)" font-size="9.76" text-anchor="end">-0.6</text><text transform="translate(1634.29 617.51) scale(.49 1)" font-size="9.76" text-anchor="end">-0.5</text><text transform="translate(1634.29 594.06) scale(.49 1)" font-size="9.76" text-anchor="end">-0.4</text><text transform="translate(1634.29 570.61) scale(.49 1)" font-size="9.76" text-anchor="end">-0.3</text><text transform="translate(1634.29 547.16) scale(.49 1)" font-size="9.76" text-anchor="end">-0.2</text><text transform="translate(1634.29 523.71) scale(.49 1)" font-size="9.76" text-anchor="end">-0.1</text><text transform="translate(1877.64 724.54) scale(.49 1)" font-size="10.73" text-anchor="middle">x<tspan dy="4.51" font-size="8.59">1</tspan></text><text transform="translate(1745.74 720.14) scale(.49 1)" font-size="10.73" text-anchor="middle">x<tspan dy="4.51" font-size="8.59">2</tspan></text><text transform="translate(1620.52 569) scale(.49 1) rotate(-90)" font-size="11.8" text-anchor="middle">F21( x<tspan dy="3.54" font-size="9.44">1</tspan><tspan dy="-3.54"> , x</tspan><tspan dy="3.54" font-size="9.44">2</tspan><tspan dy="-3.54"> )</tspan></text><text class="b" x="1792.4" y="774">F21</text></g>
<g id="F22"><path class="g" d="M693.5 1191.7L538.4 1126.4M713.8 1186.7L558.7 1121.4M734.1 1181.6L579 1116.3M754.3 1176.6L599.2 1111.3M774.6 1171.5L619.5 1106.2M794.9 1166.5L639.8 1101.2M815.2 1161.5L660.1 1096.2M835.5 1156.4L680.4 1091.1M855.7 1151.4L700.6 1086.1M876 1146.3L720.9 1081M896.3 1141.3L741.2 1076M693.5 1191.7L896.3 1141.3M678 1185.2L880.8 1134.8M662.5 1178.6L865.3 1128.2M647 1172.1L849.8 1121.7M631.5 1165.6L834.3 1115.2M616 1159.1L818.8 1108.7M600.4 1152.5L803.2 1102.1M584.9 1146L787.7 1095.6M569.4 1139.5L772.2 1089.1M553.9 1132.9L756.7 1082.5M538.4 1126.4L741.2 1076M538.4 1126.4L741.2 1076M741.2 1076L896.3 1141.3M538.4 1101.1L741.2 1050.7M741.2 1050.7L896.3 1116M538.4 1075.7L741.2 1025.3M741.2 1025.3L896.3 1090.6M538.4 1050.4L741.2 1000M741.2 1000L896.3 1065.3M538.4 1025.1L741.2 974.7M741.2 974.7L896.3 1040M538.4 999.7L741.2 949.3M741.2 949.3L896.3 1014.6"/><path class="v" d="M538.4 1126.4L538.4 983.4M558.7 1121.4L558.7 978.3M579 1116.3L579 973.3M599.2 1111.3L599.2 968.2M619.5 1106.2L619.5 963.2M639.8 1101.2L639.8 958.2M660.1 1096.2L660.1 953.1M680.4 1091.1L680.4 948.1M700.6 1086.1L700.6 943M720.9 1081L720.9 938M741.2 1076L741.2 933M896.3 1141.3L896.3 998.3M880.8 1134.8L880.8 991.7M865.3 1128.2L865.3 985.2M849.8 1121.7L849.8 978.7M834.3 1115.2L834.3 972.1M818.8 1108.7L818.8 965.6M803.2 1102.1L803.2 959.1M787.7 1095.6L787.7 952.5M772.2 1089.1L772.2 946M756.7 1082.5L756.7 939.5M741.2 1076L741.2 933"/><g transform="scale(.1)"><g class="k"><path stroke="#ff190d" d="M7249 11248l-48 1-26-4-27-9-11-8-3-4 0-6 2-4 11-9 27-9 20-3 18-1 34 0 23 3 28 9 6 4 8 8 1 5-2 6-9 7-10 5-9 3-33 6"/><path stroke="#ff320d" d="M7285 11270l-26 3-54 1-47-4-36-7-28-9-14-6-12-8-10-13-1-10 3-8 4-5 11-9 23-11 28-8 46-8 26-2 50 0 19 1 57 9 36 12 18 11 8 9 4 9-2 11-6 8-7 6-12 7-16 7-28 8-34 6"/><path stroke="#ff4a0e" d="M7324 11286l-24 4-50 4-54 0-61-5-43-8-21-5-18-6-36-17-15-12-6-9-3-10 0-7 2-6 7-11 10-9 20-12 16-7 28-9 20-5 33-6 66-6 31-1 39 1 58 6 36 7 47 15 27 14 10 8 7 8 5 15-1 9-6 11-10 10-19 12-15 7-37 12-43 8"/><path stroke="#ff630e" d="M7351 11305l-37 5-36 3-88 1-65-5-63-10-22-5-29-9-32-12-19-11-11-8-15-16-6-16 0-7 2-8 5-10 4-5 15-14 26-15 35-14 28-8 21-5 57-10 39-4 43-2 54 0 51 3 42 5 48 9 48 14 23 10 23 13 17 14 6 8 5 10 2 8 0 7-4 11-7 11-9 9-26 17-28 12-42 13-55 11"/><path stroke="#ff7c0e" d="M7371 11327l-45 5-57 4-86 0-65-4-55-7-48-9-41-11-35-12-22-10-20-11-16-11-16-17 0-2-7-12-2-10 0-8 4-14 3-6 10-13 17-14 34-20 16-7 54-18 64-14 47-7 53-5 43-2 65 0 77 5 58 8 35 7 41 11 43 15 21 10 19 11 15 12 15 17 7 16 1 8-3 17-11 17-15 15-25 16-23 11-16 7-27 9-30 8-31 7-46 8"/><path stroke="#ff950f" d="M7434 11346l0 1-48 6-1 1-51 5-87 4-48 0-72-3-44-4-67-9-64-13-48-14-31-11-30-13-31-18-15-12-19-21-7-14-2-8-1-7 1-14 4-12 6-11 14-16 18-15 36-22 31-14 63-21 61-15 57-10 50-6 79-6 83-1 89 5 70 9 59 11 49 13 53 19 35 17 29 19 21 21 9 13 6 16 1 19-4 14-3 6-17 22-20 17-26 16-47 21-36 12-50 13-55 10"/><path stroke="#ffad0f" d="M7535 11368l-11 3-46 8-59 8-67 6-73 4-96 0-98-5-59-6-90-14-66-15-30-8-36-12-40-16-21-10-37-22-11-8-16-15-9-10-9-13-5-10-4-12-1-23 2-11 10-23 21-25 18-16 15-11 23-14 25-13 47-21 42-15 78-23 63-14 88-15 42-5 65-6 75-3 42 0 81 4 50 5 64 10 56 12 40 11 37 12 56 22 41 21 29 19 33 28 3 5 2 1 8 10 0 2 9 13 4 10 4 17 0 18-2 11-9 20-7 11-10 12-15 14-21 16-27 16-22 11-40 17-54 18-30 8-52 11"/><path stroke="#ffc60f" d="M8010 11012l12 22 13 28 10 29 0 4 4 15 2 11 1 25-2 18-7 26-8 18-16 25-17 20-15 14-22 18-18 12-48 28-8 3-12 7-27 12-37 14-71 23-37 10-62 14-115 20-89 10-96 7-60 2-113 0-117-6-89-9-115-18-35-7-53-13-30-8-55-18-33-12-7-4-16-6-54-28-23-15-25-20-15-15-15-19-8-14-8-19-3-14-1-21 4-22 6-17 16-28 16-20 15-16 25-22 29-21 5-5 44-29 40-24 7-3 0-1 104-56"/><path stroke="#ffdf10" d="M8475 11208l-50 40-24 17-45 29-61 35-91 43-58 23-117 39-89 24-21 4-31 8-58 12-130 22-103 13-86 8-91 6-103 4-139 0-109-4-122-9-107-12-91-14-72-13 0-1-67-14-81-21-72-23-52-19-53-23-55-28-36-22-17-12-35-27-29-29-18-22-9-13-13-23-12-29-4-15-5-34 0-26 2-21"/><path stroke="#fff810" d="M7581 11756l-25 2-152 4-193 0-5-1-46 0-68-2-1-1-71-2-1-1-74-3-140-10-178-18-123-17-14-1-91-15"/></g><g fill="url(#G22)" stroke="url(#G22)" stroke-width="5" stroke-linejoin="round"><path transform="translate(0 -1033)" d="M5384 10910l237-29 223-20 202-11 440-13 122-8 121-12 183-26 182-34 163-38 155-46 16 8-156 47-169 41-189 36-183 26-115 11-121 8-433 10-203 9-223 19-236 29z"/><path transform="translate(0 -1023)" d="M5400 10907l236-29 223-19 203-10 433-9 121-8 115-11 183-26 189-37 169-40 156-47 15 9-81 26-81 23-176 43-196 38-176 26-115 11-121 6-413 6-203 8-223 18-243 29z"/><path transform="translate(0 -1012)" d="M5415 10904l243-29 223-18 203-8 413-6 121-7 115-11 176-25 196-38 176-43 81-24 81-26 16 9-82 26-87 26-183 45-196 40-88 14-88 12-108 10-115 5-412 3-203 6-108 7-115 10-243 29z"/><path transform="translate(0 -1002)" d="M5431 10901l243-29 115-10 108-7 203-7 412-2 115-6 108-10 88-11 88-15 196-39 183-46 87-25 82-27 15 9-88 29-88 26-189 48-101 22-95 19-88 14-81 11-108 10-115 5-102 1-304-3-203 6-108 6-115 10-243 28z"/><path transform="translate(0 -992)" d="M5446 10898l243-29 115-9 108-7 203-5 304 2 102 0 115-5 108-10 81-11 88-15 95-18 101-22 189-49 88-26 88-29 16 8-88 30-88 27-102 28-101 25-101 23-95 19-88 15-81 11-108 9-108 4-399-6-203 4-108 6-115 9-122 13-121 15z"/><path transform="translate(0 -981)" d="M5462 10894l121-15 122-12 115-9 108-6 203-4 399 5 108-3 108-10 81-10 88-15 95-19 101-23 101-26 102-28 88-27 88-29 15 8-95 32-94 29-102 29-108 28-101 24-88 18-81 14-81 11-102 9-108 3-101-1-291-9-101 0-102 2-108 6-115 8-121 12-129 16z"/><path transform="translate(0 -971)" d="M5477 10891l129-15 121-12 115-9 108-5 102-2 101 0 291 8 101 2 108-4 102-8 81-11 81-14 88-19 101-24 108-27 102-29 94-29 95-33 16 8-95 33-101 32-109 31-115 31-94 23-88 19-81 15-75 10-101 9-101 2-95-2-297-13-102-1-101 2-108 4-115 8-122 12-128 15z"/><path transform="translate(0 -961)" d="M5493 10888l128-15 122-12 115-8 108-5 101-1 102 1 297 12 95 2 101-2 101-8 75-10 81-15 88-19 94-23 115-31 109-31 101-32 95-33 15 7-101 36-102 33-115 34-121 34-95 24-81 19-74 13-75 11-101 8-102 1-94-3-284-16-102-2-101 0-115 4-115 8-121 11-129 15z"/><path transform="translate(0 -950)" d="M5508 10885l129-15 121-11 115-8 115-4 101-1 102 3 284 15 94 4 102-2 101-8 75-10 74-14 81-18 95-24 121-34 115-35 102-32 101-36 16 7-102 37-115 38-250 75-88 23-81 19-67 13-68 9-95 7-101 1-88-4-291-21-101-3-101 0-115 3-115 7-122 11-128 15z"/><path transform="translate(0 -940)" d="M5524 10882l128-15 122-11 115-7 115-4 101 1 101 3 291 20 88 4 101 0 95-7 68-10 67-12 81-19 88-23 250-75 115-39 102-36 15 7-108 40-115 39-149 48-121 37-82 22-74 18-67 13-61 8-95 7-95-1-87-5-284-25-102-4-101-2-115 3-115 6-122 11-135 15z"/><path transform="translate(0 -929)" d="M5539 10878l135-15 122-10 115-7 115-2 101 1 102 5 284 24 87 6 95 1 95-7 61-9 67-13 74-17 82-23 121-37 149-47 115-40 108-39 16 7-237 85-162 55-122 39-74 21-68 17-61 12-61 8-87 6-95-2-88-7-277-28-102-7-101-2-115 1-115 6-128 11-135 15z"/><path transform="translate(0 -919)" d="M5555 10875l135-15 128-10 115-6 115-1 101 2 102 6 277 29 88 7 95 2 87-6 61-9 61-12 68-16 74-22 122-38 162-55 237-85 15 7-250 92-291 101-67 20-61 16-61 12-54 8-88 6-88-2-88-9-277-34-101-8-102-3-115 0-121 6-129 10-135 14z"/><path transform="translate(0 -909)" d="M5570 10872l135-15 129-10 121-5 115-1 102 4 101 8 277 34 88 8 88 3 88-6 54-8 61-13 61-15 67-21 291-100 250-93 16 7-392 148-169 61-68 21-54 15-54 11-54 8-81 5-88-4-81-9-190-28-88-12-101-9-101-5-115-1-122 5-128 9-142 15z"/><path transform="translate(0 -898)" d="M5586 10869l142-15 128-10 122-4 115 0 101 5 101 10 88 11 190 29 81 9 88 3 81-4 54-8 54-12 54-14 68-21 169-61 392-148 15 6-480 189-101 38-61 20-54 15-47 10-48 7-81 5-88-5-81-11-182-32-88-13-102-12-101-6-115-2-122 4-135 9-142 15z"/><path transform="translate(0 -888)" d="M5601 10865l142-14 135-10 122-3 115 1 101 7 102 11 88 14 182 32 81 11 88 4 81-4 48-7 47-11 54-14 61-20 101-38 480-189 16 7-264 106-250 105-81 32-54 19-54 16-48 10-47 7-41 3-40 1-81-6-75-12-182-37-88-16-101-13-102-8-115-3-121 3-136 8-148 15z"/><path transform="translate(0 -877)" d="M5617 10862l148-15 136-9 121-2 115 3 102 8 101 13 88 15 182 38 75 11 81 6 40 0 41-3 47-7 48-11 54-16 54-18 81-33 250-104 264-107 15 7-277 115-257 115-74 31-54 20-48 15-47 11-41 6-33 3-41 0-40-2-41-5-74-13-183-43-88-17-101-16-102-10-114-4-129 2-135 8-149 15z"/><path transform="translate(0 -867)" d="M5632 10859l149-15 135-8 129-2 114 4 102 10 101 15 88 18 183 43 74 13 41 5 40 2 41-1 33-2 41-7 47-11 48-14 54-20 74-31 257-115 277-116 16 6-284 123-264 126-74 34-48 18-47 16-40 9-41 7-34 3-40 0-41-3-40-5-75-16-176-47-87-21-102-18-101-11-115-6-129 1-135 8-155 15z"/><path transform="translate(0 -857)" d="M5648 10855l155-15 135-7 129-1 115 6 101 11 102 18 87 20 176 47 75 16 40 6 41 3 40 0 34-3 41-7 40-10 47-15 48-19 74-33 264-127 284-122 15 6-169 74-122 56-101 50-176 92-67 33-48 19-40 14-41 10-40 7-34 2-41-1-33-3-41-7-68-17-169-51-87-24-102-21-101-13-122-8-128-1-142 8-156 14z"/><path transform="translate(0 -846)" d="M5663 10852l156-15 142-7 128 0 122 8 101 14 102 21 87 23 169 52 68 17 41 6 33 4 41 1 34-3 40-6 41-10 40-14 48-20 67-32 176-92 101-51 122-56 169-73 16 6-169 75-129 62-101 54-183 103-67 35-41 18-40 14-41 11-34 5-34 2-33 0-34-4-41-8-67-19-169-58-88-27-102-24-101-15-122-10-128-1-142 6-162 15z"/><path transform="translate(0 -836)" d="M5679 10849l162-15 142-7 128 2 122 9 101 16 102 24 88 26 169 59 67 19 41 8 34 3 33 1 34-2 34-6 41-10 40-15 41-17 67-35 183-103 101-54 129-62 169-76 15 6-169 78-135 68-108 61-183 113-67 37-41 18-34 12-33 10-34 5-34 3-34-2-34-4-33-8-68-21-169-66-88-31-101-26-102-18-61-7-60-4-129-3-149 6-162 14z"/><path transform="translate(0 -826)" d="M5694 10845l162-14 149-6 129 2 60 5 61 6 102 18 101 27 88 30 169 67 68 21 33 7 34 5 34 1 34-2 34-6 33-9 34-12 41-19 67-37 183-112 108-61 135-69 169-77 16 6-176 82-135 72-95 57-189 126-75 45-33 17-34 13-34 11-34 6-34 2-33-2-34-6-34-8-68-25-155-69-88-35-47-16-54-15-102-21-61-8-60-5-68-4-68-1-148 5-169 15z"/><path transform="translate(0 -815)" d="M5710 10842l169-15 148-5 68 1 68 3 60 6 61 8 102 21 54 15 47 16 88 34 155 70 68 24 34 9 34 6 33 2 34-3 34-6 34-10 34-14 33-16 75-45 189-126 95-57 135-72 176-83 15 6-176 85-74 39-67 40-95 61-196 142-75 47-33 18-27 11-34 10-27 5-27 2-34-1-34-6-34-10-67-28-156-78-88-39-47-18-54-17-47-12-54-11-61-9-61-7-68-4-67-1-149 4-176 15z"/><path transform="translate(0 -805)" d="M5725 10838l176-14 149-5 67 2 68 4 61 6 61 10 54 11 47 12 54 17 47 18 88 38 156 79 67 28 34 9 34 6 34 2 27-2 27-5 34-10 27-12 33-17 75-48 196-142 95-61 67-39 74-40 176-84 16 5-102 49-81 41-74 42-68 42-101 70-189 150-41 30-34 22-34 18-27 12-33 10-27 5-28 1-33-3-27-6-34-12-61-28-155-89-88-43-48-20-47-17-47-14-54-13-61-11-61-7-68-5-67-3-75 0-81 3-182 15z"/><path transform="translate(0 -794)" d="M5741 10835l182-15 81-3 75 0 67 2 68 5 61 8 61 11 54 13 47 14 47 17 48 19 88 44 155 88 61 29 34 11 27 6 33 4 28-1 27-5 33-10 27-12 34-19 34-22 41-29 189-150 101-71 68-41 74-42 81-42 102-48 15 5-88 43-74 38-68 39-60 37-68 46-68 52-67 56-122 107-61 48-34 22-33 18-34 13-34 6-27 1-27-3-27-6-34-13-61-32-155-99-81-46-48-22-54-21-47-16-54-14-61-13-61-8-67-6-75-4-74 0-81 3-88 6-95 8z"/><path transform="translate(0 -784)" d="M5756 10831l95-9 88-5 81-3 74 0 75 3 67 6 61 9 61 12 54 15 47 15 54 22 48 22 81 45 155 100 61 32 34 12 27 7 27 3 27-1 34-7 34-12 33-18 34-23 61-48 122-106 67-57 68-51 68-46 60-38 68-38 74-39 88-42 16 5-88 44-81 43-68 40-67 44-68 50-68 56-60 55-129 123-54 46-34 25-34 18-33 13-27 5-27 1-28-4-27-8-33-14-54-33-156-111-81-51-47-25-54-24-48-17-54-16-61-13-61-10-67-7-74-4-82-1-81 3-88 5-94 9z"/><path transform="translate(0 -774)" d="M5772 10828l94-9 88-6 81-2 82 1 74 3 67 7 61 10 61 14 54 16 48 17 54 24 47 25 81 50 156 112 54 32 33 15 27 8 28 3 27 0 27-5 33-13 34-19 34-24 54-46 129-123 60-56 68-56 68-49 67-45 68-39 81-44 88-43 15 5-94 48-82 45-74 46-67 47-68 54-68 61-60 60-122 128-54 51-34 26-27 16-34 14-27 6-27 0-27-5-27-9-27-13-54-36-149-120-47-35-41-27-47-27-47-24-48-19-54-18-61-16-60-11-68-8-74-5-82-2-81 2-94 5-102 9z"/><path transform="translate(0 -763)" d="M5787 10824l102-9 94-5 81-2 82 1 74 5 68 9 60 11 61 15 54 19 48 19 47 23 47 28 41 27 47 34 149 121 54 35 27 14 27 9 27 5 27-1 27-5 34-14 27-17 34-26 54-50 122-128 60-61 68-61 68-53 67-48 74-46 82-45 94-47 16 5-102 52-81 46-74 49-68 50-67 57-68 66-61 66-121 140-55 55-33 28-27 17-27 12-27 5-21 1-27-4-27-10-27-14-27-19-27-21-149-134-40-34-41-30-47-31-54-30-47-21-55-20-60-17-61-13-68-9-74-6-81-2-88 2-95 5-101 9z"/><path transform="translate(0 -753)" d="M5803 10820l101-9 95-5 88-1 81 2 74 6 68 9 61 12 60 18 55 19 47 22 54 29 47 31 41 31 40 33 149 135 27 21 27 18 27 15 27 9 27 5 21-1 27-6 27-12 27-17 33-27 55-55 121-141 61-66 68-65 67-58 68-50 74-48 81-46 102-53 15 5-101 53-88 52-81 56-68 53-67 63-68 71-61 73-108 137-54 61-34 31-27 19-27 13-27 7-20 0-27-5-27-11-27-17-27-21-34-31-149-150-67-58-48-34-47-29-47-24-55-22-60-20-68-15-68-11-74-6-81-3-88 1-95 5-108 9z"/><path transform="translate(0 -742)" d="M5818 10817l108-10 95-4 88-2 81 3 74 7 68 10 68 16 60 19 55 22 47 25 47 28 48 35 67 58 149 150 34 30 27 22 27 16 27 12 27 5 20-1 27-6 27-13 27-19 34-31 54-61 108-137 61-73 68-72 67-62 68-54 81-55 88-52 101-53 16 5-108 57-88 54-81 58-68 57-68 66-67 78-61 79-108 150-54 67-27 27-27 21-27 14-27 7-21 1-27-7-20-9-27-18-27-23-27-27-142-160-41-41-40-37-48-38-47-31-47-27-54-24-61-21-68-17-67-11-75-8-81-3-88 0-101 5-108 9z"/><path transform="translate(0 -732)" d="M5834 10813l108-9 101-5 88-1 81 4 75 7 67 12 68 17 61 21 54 24 47 26 47 32 48 38 40 37 41 41 142 160 27 27 27 23 27 18 20 9 27 6 21 0 27-7 27-14 27-22 27-27 54-66 108-150 61-79 67-78 68-66 68-57 81-58 88-54 108-58 15 5-108 59-88 55-81 59-74 66-68 71-67 84-61 86-115 173-48 62-27 29-27 22-27 14-20 5-20 0-27-8-21-11-27-20-27-27-27-30-142-177-67-72-48-42-47-36-47-29-54-27-61-24-68-19-74-14-74-8-82-4-94 0-102 4-108 9z"/><path transform="translate(0 -722)" d="M5849 10809l108-9 102-5 94 0 82 4 74 9 74 14 68 19 61 23 54 27 47 30 47 35 48 43 67 72 142 177 27 30 27 26 27 21 21 11 27 7 20 0 20-5 27-14 27-21 27-29 48-62 115-174 61-86 67-83 68-71 74-66 81-60 88-55 108-58 16 4-108 60-95 61-81 62-41 36-33 33-68 76-68 90-61 93-108 179-47 68-27 32-27 25-27 15-20 5-21 0-20-6-20-11-27-21-21-21-27-32-135-187-40-51-41-45-47-46-48-39-47-32-54-29-61-26-67-20-75-15-74-10-81-5-95 0-101 4-115 10z"/><path transform="translate(0 -711)" d="M5865 10805l115-9 101-4 95 0 81 5 74 9 75 15 67 21 61 25 54 30 47 32 48 38 47 46 41 46 40 51 135 186 27 33 21 20 27 22 20 11 20 6 21 0 20-5 27-16 27-24 27-32 47-69 108-178 61-93 68-90 68-76 33-33 41-36 81-63 95-61 108-59 15 4-115 65-94 63-41 31-40 34-41 38-34 35-34 38-33 42-34 47-34 50-61 101-108 193-47 74-27 33-21 19-27 17-20 6-20 0-14-4-13-7-27-20-27-28-48-64-87-135-48-69-47-61-41-46-40-39-41-34-40-28-48-27-61-28-67-22-74-16-75-10-88-6-94-1-102 5-115 9z"/><path transform="translate(0 -701)" d="M5880 10801l115-9 102-4 94 1 88 5 75 10 74 17 67 22 61 27 48 27 40 29 41 33 40 40 41 45 47 62 48 68 87 136 48 63 27 29 27 20 13 6 14 4 20 1 20-6 27-17 21-19 27-33 47-74 108-194 61-100 34-51 34-46 33-42 34-39 34-35 41-38 40-34 41-31 94-63 115-64 16 4-115 65-47 31-48 33-47 38-41 35-40 40-34 37-34 41-34 45-33 49-34 54-61 109-101 196-48 81-27 36-20 22-14 10-13 8-20 6-21-1-13-4-14-7-20-16-27-30-47-68-95-159-41-64-47-67-40-49-41-43-41-36-40-30-47-29-61-30-68-23-74-18-75-11-87-6-95-1-108 4-115 9z"/><path transform="translate(0 -691)" d="M5896 10798l115-10 108-4 95 1 87 7 75 11 74 17 68 24 61 29 47 29 40 31 41 36 41 43 40 49 47 67 41 64 95 158 47 69 27 29 20 16 14 8 13 4 21 1 20-6 13-8 14-11 20-21 27-36 48-81 101-196 61-109 34-54 33-50 34-44 34-41 34-37 40-40 41-36 47-37 48-34 47-30 115-65 15 4-61 33-54 33-54 35-47 35-47 39-41 37-40 42-34 39-34 43-34 47-34 53-33 58-54 103-109 224-47 85-27 37-20 21-21 14-20 7-20-2-14-5-13-8-20-18-27-33-48-75-88-159-40-70-48-72-40-53-41-46-40-39-41-32-47-31-61-32-68-25-67-17-81-13-88-8-95-1-108 4-122 9z"/><path transform="translate(0 -680)" d="M5911 10794l122-10 108-4 95 2 88 7 81 13 67 18 68 25 61 31 47 31 41 33 40 39 41 46 40 53 48 72 40 69 88 160 48 75 27 33 20 18 13 8 14 5 20 1 20-6 21-14 20-21 27-38 47-85 109-224 54-102 33-58 34-53 34-48 34-43 34-38 40-42 41-38 47-38 47-35 54-36 54-32 61-33 16 4-61 33-61 37-54 37-47 36-48 40-40 39-41 43-33 41-34 46-34 50-34 56-34 61-54 110-108 238-40 77-28 41-20 23-20 15-20 6-21-1-13-6-14-9-20-19-27-36-41-69-87-171-41-75-47-77-41-57-40-49-41-42-41-35-47-33-61-33-67-26-68-19-81-14-88-8-101-2-108 4-122 9z"/><path transform="translate(0 -670)" d="M5927 10790l122-10 108-4 101 3 88 8 81 14 68 18 67 27 61 33 47 33 41 35 41 41 40 49 41 57 47 78 41 74 87 171 41 69 27 36 20 20 14 9 13 6 21 1 20-7 20-15 20-22 28-41 40-77 108-238 54-110 34-62 34-56 34-50 34-45 33-41 41-44 40-38 48-41 47-35 54-37 61-37 61-34 15 4-60 34-61 37-54 37-48 37-47 41-41 39-40 45-41 50-34 48-33 53-61 110-54 115-108 251-41 83-27 43-20 24-21 16-20 7-20-1-20-11-21-19-27-36-40-71-95-195-40-78-41-70-41-61-40-52-41-44-40-37-48-35-60-35-68-28-68-20-81-15-88-8-101-3-108 3-129 10z"/><path transform="translate(0 -659)" d="M5942 10786l129-10 108-3 101 2 88 9 81 15 68 19 68 29 60 35 48 35 40 36 41 44 40 52 41 61 41 70 40 79 95 194 40 72 27 36 21 19 20 10 20 2 20-7 21-16 20-25 27-43 41-82 108-252 54-114 61-110 33-53 34-48 41-51 40-44 41-40 47-41 48-36 54-37 61-37 60-34 16 4-61 34-61 37-54 38-47 36-48 42-40 40-41 45-40 52-34 48-34 55-34 60-33 67-54 121-102 246-40 87-27 45-21 26-20 17-20 8-21-2-20-12-20-20-27-38-41-76-88-189-40-83-48-86-40-63-34-45-40-46-41-39-47-37-61-37-68-29-74-22-81-16-88-8-102-3-108 3-128 10z"/><path transform="translate(0 -649)" d="M5958 10782l128-10 108-3 102 2 88 9 81 15 74 23 68 29 61 37 47 37 41 38 40 47 34 45 40 63 48 85 40 83 88 190 41 75 27 39 20 20 20 11 21 2 20-7 20-17 21-26 27-46 40-86 102-247 54-120 33-67 34-61 34-54 34-49 40-51 41-46 40-40 48-41 47-37 54-37 61-38 61-34 15 4-60 34-61 38-54 37-48 37-47 42-41 41-40 46-41 52-33 49-34 56-34 61-34 69-54 123-108 271-41 87-20 35-20 26-21 18-20 8-20-3-20-12-21-21-27-40-40-78-88-197-41-85-40-76-41-66-40-56-41-47-41-39-47-38-61-37-67-30-68-21-81-16-88-9-101-3-115 3-129 10z"/><path transform="translate(0 -639)" d="M5973 10778l129-10 115-4 101 4 88 9 81 16 68 21 67 30 61 37 47 37 41 40 41 47 40 56 41 66 40 76 41 85 88 196 40 79 27 40 21 21 20 12 20 2 20-8 21-17 20-27 20-34 41-87 108-271 54-123 34-69 34-62 34-55 33-49 41-53 40-46 41-40 47-42 48-37 54-38 61-37 60-35 16 4-68 38-61 39-54 38-47 38-47 43-41 41-40 48-41 54-34 51-34 57-33 64-27 56-54 125-109 277-40 89-20 35-21 27-20 18-20 8-21-2-20-12-20-22-27-41-41-80-81-186-40-88-48-91-40-67-41-56-40-48-41-40-47-37-61-38-68-30-67-21-81-16-88-9-102-3-115 3-128 10z"/><path transform="translate(0 -628)" d="M5989 10773l128-9 115-4 102 3 88 10 81 16 67 21 68 30 61 37 47 38 41 40 40 47 41 57 40 67 48 91 40 88 81 185 41 81 27 41 20 21 20 13 21 2 20-8 20-18 21-27 20-36 40-89 109-276 54-125 27-57 33-63 34-58 34-51 41-54 40-47 41-42 47-43 47-37 54-39 61-38 68-38 15 3-67 38-61 39-54 38-47 38-48 43-40 42-41 48-40 54-34 51-34 57-34 65-27 56-54 126-108 279-41 89-20 36-20 28-21 18-20 8-20-2-20-13-21-22-27-41-40-81-81-187-41-88-47-92-41-67-40-57-41-47-40-40-48-38-61-37-33-17-34-13-68-21-81-16-88-9-101-4-115 4-129 10z"/><path transform="translate(0 -618)" d="M6004 10769l129-10 115-3 101 3 88 9 81 16 68 21 34 14 33 16 61 38 48 38 40 39 41 48 40 57 41 67 47 91 41 89 81 187 40 81 27 41 21 22 20 12 20 3 20-9 21-18 20-27 20-36 41-90 108-278 54-126 27-57 34-64 34-57 34-52 40-54 41-47 40-42 48-43 47-38 54-39 61-38 67-38 16 3-68 38-61 39-54 38-47 38-47 43-41 42-40 47-41 55-34 51-34 57-33 64-27 56-54 126-109 277-40 89-20 35-21 28-20 18-20 8-21-2-20-12-20-22-27-41-41-80-81-185-40-88-48-91-40-67-41-56-40-48-41-39-47-38-61-37-68-30-67-21-81-16-88-9-102-3-115 3-128 10z"/><path transform="translate(0 -607)" d="M6020 10765l128-10 115-3 102 3 88 9 81 16 67 21 68 30 61 37 47 37 41 40 40 47 41 57 40 67 48 91 40 87 81 185 41 81 27 41 20 21 20 13 21 2 20-8 20-19 21-27 20-35 40-90 109-276 54-126 27-56 33-64 34-58 34-51 41-54 40-48 41-41 47-43 47-38 54-39 61-38 68-39 15 4-60 34-61 38-54 37-48 38-47 42-41 41-40 46-41 53-33 49-34 56-34 62-34 69-54 124-108 272-41 87-20 35-20 26-21 18-20 8-20-2-20-12-21-21-27-39-40-79-88-195-41-85-40-76-41-66-40-55-41-47-40-40-48-37-61-36-67-30-68-21-81-15-88-9-101-3-115 3-129 10z"/><path transform="translate(0 -597)" d="M6035 10761l129-10 115-4 101 3 88 9 81 16 68 21 67 29 61 37 48 37 40 39 41 47 40 56 41 66 40 75 41 85 88 196 40 78 27 40 21 21 20 12 20 2 20-8 21-18 20-27 20-35 41-87 108-272 54-124 34-69 34-62 34-55 33-50 41-53 40-46 41-41 47-42 48-37 54-38 61-38 60-34 16 3-61 34-61 38-54 38-47 37-47 41-41 41-41 46-40 52-34 49-34 55-34 61-33 67-54 121-102 249-40 87-27 46-21 26-20 17-20 8-21-2-20-11-20-20-27-38-41-75-88-189-40-82-47-85-41-62-34-45-40-46-41-39-47-36-61-36-68-30-67-20-81-15-88-9-102-3-115 4-128 10z"/><path transform="translate(0 -587)" d="M6051 10757l128-11 115-3 102 2 88 9 81 16 67 20 68 29 61 36 47 37 41 38 40 46 34 45 41 63 47 85 40 82 88 189 41 75 27 38 20 20 20 11 21 1 20-7 20-18 21-26 27-46 40-87 102-248 54-121 33-68 34-61 34-54 34-49 40-52 41-46 41-41 47-42 47-37 54-37 61-38 61-34 15 3-60 34-61 37-54 38-48 36-47 42-41 40-40 45-34 42-34 47-33 53-34 58-34 65-54 115-108 254-41 83-27 44-20 24-20 17-21 7-20-1-20-10-21-19-27-35-40-71-95-193-40-78-41-69-41-61-40-51-41-44-40-36-48-35-60-34-68-28-68-19-81-14-88-8-101-2-108 3-129 11z"/><path transform="translate(0 -576)" d="M6066 10752l129-10 108-4 101 2 88 8 81 15 68 19 68 27 60 35 48 34 40 37 41 43 40 52 41 60 41 70 40 77 95 194 40 70 27 36 21 18 20 11 20 1 21-8 20-16 20-25 27-43 41-84 108-253 54-116 34-64 34-58 33-53 34-47 34-42 40-46 41-40 47-41 48-37 54-37 61-38 60-34 16 3-61 34-61 37-54 37-47 36-47 41-41 40-41 44-33 42-34 46-34 51-61 106-61 124-108 241-40 78-27 41-21 23-20 16-20 7-21-1-13-5-14-9-20-19-27-35-40-69-88-169-41-74-47-76-41-57-40-48-41-41-40-34-48-33-61-32-67-26-68-18-81-13-88-8-101-1-108 4-122 10z"/><path transform="translate(0 -566)" d="M6082 10748l122-10 108-4 101 1 88 7 81 14 68 18 67 26 61 32 48 32 40 35 41 40 40 49 41 56 47 77 41 74 88 169 40 68 27 36 20 19 14 9 13 5 21 1 20-7 20-16 21-23 27-41 40-78 108-241 61-124 61-106 34-51 34-47 33-41 41-44 41-40 47-41 47-36 54-37 61-38 61-33 15 2-60 34-54 32-55 37-47 35-47 40-41 38-40 42-34 40-34 44-34 48-33 54-34 59-54 104-109 228-47 86-27 38-20 22-20 14-21 7-20 0-14-5-13-8-20-17-27-33-48-73-88-158-40-68-47-72-41-52-41-45-40-38-41-32-47-31-61-30-67-24-68-17-81-12-88-7-95-1-108 5-122 10z"/><path transform="translate(0 -556)" d="M6097 10743l122-10 108-4 95 1 88 6 81 13 68 16 67 25 61 30 47 30 41 32 40 38 41 45 41 53 47 71 40 69 88 157 48 74 27 32 20 18 13 8 14 4 20 1 21-7 20-15 20-21 27-39 47-86 109-227 54-104 34-59 33-54 34-48 34-44 34-40 40-43 41-38 47-39 47-36 55-36 54-33 60-33 16 2-61 34-54 32-47 31-48 34-47 39-40 36-41 41-34 38-34 42-33 46-34 50-34 56-61 110-101 200-48 82-27 38-20 22-27 19-20 7-21 0-13-4-14-7-20-16-27-29-47-67-95-156-40-63-48-65-40-49-41-42-40-35-41-30-47-28-61-28-68-23-67-15-81-12-88-5-95 0-108 5-115 9z"/><path transform="translate(0 -545)" d="M6113 10739l115-10 108-5 95 0 88 6 81 11 67 16 68 22 61 29 47 28 41 30 40 35 41 42 40 48 48 66 40 63 95 156 47 67 27 29 20 15 14 7 13 4 21 0 20-6 27-20 20-22 27-37 48-82 101-200 61-111 34-55 34-51 33-46 34-41 34-38 41-41 40-37 47-38 48-34 47-31 54-33 61-33 15 2-108 61-47 30-47 34-48 37-40 35-41 39-34 36-33 40-34 43-68 99-61 104-108 197-47 76-27 34-20 20-27 18-21 6-20 1-20-6-21-12-27-24-27-31-27-36-135-201-34-44-33-40-48-49-47-41-47-34-55-30-60-26-68-21-74-16-75-9-88-5-94 1-102 5-115 10z"/><path transform="translate(0 -535)" d="M6128 10735l115-11 102-5 94 0 88 5 75 9 74 15 68 21 60 26 55 31 47 34 47 40 48 49 33 41 34 44 135 201 27 36 27 31 27 23 21 12 20 6 20 0 21-6 27-18 20-20 27-35 47-75 108-198 61-103 68-99 34-44 33-39 34-36 41-39 40-36 48-37 47-33 47-30 108-61 16 2-108 60-47 30-48 33-81 65-40 37-34 34-68 79-67 92-61 96-108 184-48 70-27 33-27 26-27 16-20 6-20 1-21-5-20-10-27-21-20-20-27-31-142-190-41-49-34-37-47-45-47-37-48-31-54-28-61-25-67-19-75-14-74-8-81-4-95 1-101 5-115 10z"/><path transform="translate(0 -524)" d="M6144 10730l115-10 101-5 95-1 81 4 74 8 75 14 67 19 61 24 54 28 48 31 47 38 47 45 34 36 41 49 142 191 27 31 20 20 27 20 20 11 21 5 20-1 20-6 27-17 27-25 27-33 48-71 108-183 61-96 67-93 68-78 34-34 40-38 81-64 48-33 47-30 108-60 16 2-102 56-95 60-81 62-74 69-68 73-67 87-61 89-115 179-47 65-27 30-27 23-27 15-21 6-20 1-27-7-20-10-27-19-48-47-135-164-40-45-41-40-47-41-48-34-47-29-54-25-61-23-61-16-74-13-74-8-82-3-94 1-102 5-114 11z"/><path transform="translate(0 -514)" d="M6160 10726l114-11 102-5 94-1 82 3 74 8 74 13 61 16 61 22 54 26 47 28 48 34 47 41 41 41 40 45 135 164 48 47 27 19 20 10 27 6 20-1 21-5 27-16 27-23 27-30 47-64 115-179 61-89 67-87 68-74 74-68 81-62 95-61 102-55 15 2-101 55-88 54-81 60-75 65-67 70-68 81-61 82-115 165-47 60-27 29-27 22-27 16-27 8-20 2-28-5-20-9-27-16-27-22-27-26-142-154-40-40-41-36-47-36-48-30-47-25-54-23-61-20-61-14-74-11-74-6-82-3-87 2-102 6-108 10z"/><path transform="translate(0 -504)" d="M6175 10721l108-10 102-6 87-2 82 2 74 7 74 11 61 14 61 20 54 23 47 25 48 30 47 36 41 36 40 40 142 154 27 25 27 22 27 17 20 8 28 5 20-1 27-8 27-16 27-23 27-28 47-60 115-165 61-83 68-81 67-69 75-65 81-60 88-55 101-54 16 2-95 50-88 53-74 52-75 61-67 65-68 74-61 76-121 160-48 56-34 33-27 20-27 15-27 8-20 1-27-3-27-10-27-16-27-20-27-23-142-137-41-36-40-32-48-33-47-27-47-23-54-21-61-17-68-14-67-9-75-5-81-2-88 2-94 6-108 11z"/><path transform="translate(0 -493)" d="M6191 10716l108-10 94-6 88-2 81 1 75 5 67 9 68 14 61 18 54 21 47 23 47 27 48 33 40 32 41 35 142 138 27 23 27 20 27 15 27 10 27 4 20-1 27-8 27-15 27-20 34-33 48-56 121-161 61-75 68-75 67-64 75-61 74-53 88-53 95-50 15 3-95 49-81 47-74 51-74 58-68 60-68 70-60 70-122 148-54 58-34 30-27 19-27 13-27 8-27 1-27-4-27-9-27-14-27-18-34-26-149-128-74-54-48-29-47-24-47-20-54-18-61-15-61-11-68-8-74-5-81 0-88 3-95 6-101 10z"/><path transform="translate(0 -483)" d="M6206 10712l101-10 95-7 88-3 81 1 74 4 68 8 61 11 61 16 54 18 47 20 47 24 48 29 74 54 149 127 34 26 27 18 27 14 27 10 27 4 27-2 27-7 27-14 27-18 34-30 54-58 122-148 60-70 68-70 68-61 74-58 74-50 81-48 95-49 16 2-88 45-81 46-75 48-67 50-68 57-68 64-60 64-129 144-54 54-34 28-27 18-34 16-27 8-27 2-27-3-27-8-27-12-54-33-155-117-82-53-47-26-47-22-47-18-55-16-60-14-61-9-68-7-74-4-81 0-81 3-95 7-101 10z"/><path transform="translate(0 -472)" d="M6222 10707l101-10 95-7 81-3 81 0 74 3 68 7 61 10 60 14 55 16 47 18 47 22 47 25 82 53 155 118 54 33 27 12 27 7 27 3 27-2 27-7 34-16 27-18 34-28 54-54 129-144 60-64 68-64 68-57 67-50 75-48 81-47 88-44 15 2-88 44-74 41-75 46-67 48-68 54-67 60-61 59-129 133-54 50-34 26-33 22-34 14-27 7-27 3-27-2-27-6-34-13-54-29-156-104-81-47-47-23-54-22-47-15-55-14-60-12-61-8-68-6-74-2-81 1-81 4-183 17z"/><path transform="translate(0 -462)" d="M6237 10702l183-16 81-4 81-1 74 2 68 5 61 9 60 11 55 15 47 15 54 22 47 23 81 47 156 104 54 29 34 12 27 7 27 2 27-3 27-7 34-15 33-21 34-26 54-51 129-132 61-60 67-60 68-54 67-47 75-46 74-42 88-44 16 2-82 40-74 40-68 40-67 45-68 50-67 56-68 62-128 122-61 52-34 24-34 19-34 14-27 7-27 3-33-2-28-6-33-11-54-26-156-91-88-45-47-19-47-17-48-14-54-13-61-10-60-7-68-4-68-2-81 2-81 4-182 17z"/><path transform="translate(0 -452)" d="M6253 10698l182-18 81-4 81-1 68 1 68 5 60 7 61 10 54 13 48 13 47 17 47 20 88 45 156 91 54 25 33 12 28 5 33 2 27-3 27-6 34-14 34-20 34-24 61-52 128-122 68-61 67-56 68-50 67-45 68-40 74-40 82-40 15 2-74 35-75 39-67 39-68 43-67 48-68 52-61 51-135 119-61 49-34 22-34 19-33 14-34 9-27 3-34-1-27-4-34-10-61-24-162-83-81-36-47-18-54-16-48-12-54-11-61-8-60-6-68-3-68-1-74 2-81 5-176 17z"/><path transform="translate(0 -441)" d="M6268 10693l176-17 81-5 74-2 68 0 68 4 60 5 61 9 54 10 48 12 54 17 47 17 81 37 162 82 61 25 34 9 27 5 34 0 27-3 34-8 33-14 34-19 34-23 61-48 135-119 61-51 68-53 67-47 68-43 67-39 75-39 74-36 16 2-75 35-67 35-68 37-61 37-67 45-68 49-196 158-68 50-40 25-34 18-34 13-34 8-27 4-33 0-34-5-34-8-61-21-162-72-88-34-47-15-54-15-102-18-61-8-61-4-128-2-149 8-175 17z"/><path transform="translate(0 -431)" d="M6284 10688l175-18 149-7 128 2 61 4 61 7 102 19 54 14 47 15 88 34 162 72 61 22 34 8 34 4 33 0 27-3 34-9 34-13 34-17 40-25 68-51 196-158 68-49 67-44 61-37 68-38 67-34 75-35 15 2-81 37-81 41-75 42-67 41-102 68-196 148-81 54-33 19-34 15-34 12-34 7-27 3-34 0-34-4-33-7-68-20-155-60-88-30-102-25-101-17-61-6-61-3-128 0-149 8-169 18z"/><path transform="translate(0 -421)" d="M6299 10683l169-17 149-9 128 1 61 3 61 6 101 16 102 26 88 29 155 60 68 21 33 7 34 4 34 0 27-3 34-8 34-11 34-15 33-19 81-54 196-148 102-69 67-41 75-41 81-41 81-38 16 2-82 37-74 37-67 36-68 39-101 64-203 143-81 51-41 21-34 14-34 11-33 7-34 4-34 0-34-3-34-6-67-18-162-54-88-25-102-21-101-14-122-6-128 1-142 9-162 18z"/><path transform="translate(0 -410)" d="M6315 10678l162-17 142-9 128-2 122 7 101 13 102 22 88 25 162 54 67 18 34 5 34 4 34-1 34-3 33-7 34-11 34-15 41-20 81-52 203-142 101-65 68-39 67-36 74-36 82-37 15 2-149 69-135 71-115 70-196 130-74 43-41 21-33 13-41 13-34 7-34 4-33 1-34-2-41-5-67-15-163-46-88-22-101-18-101-11-115-5-129 2-142 10-162 18z"/><path transform="translate(0 -400)" d="M6330 10674l162-18 142-10 129-2 115 4 101 11 101 19 88 21 163 46 67 15 41 6 34 2 33-1 34-4 34-7 41-13 33-14 41-20 74-44 196-129 115-70 135-72 149-68 16 1-142 64-136 70-114 66-196 122-75 41-40 19-41 16-41 12-33 8-34 4-41 1-33-1-41-5-68-12-169-41-88-18-101-15-101-8-115-3-129 4-135 10-155 18z"/><path transform="translate(0 -389)" d="M6346 10669l155-18 135-10 129-4 115 2 101 9 101 15 88 18 169 40 68 13 41 5 33 1 41-2 34-4 33-7 41-12 41-16 40-19 75-42 196-121 114-67 136-69 142-64 15 2-142 63-128 63-108 60-196 114-82 43-40 19-41 15-40 13-41 8-34 5-40 2-75-3-74-11-176-36-88-14-101-12-101-7-115 0-122 5-135 11-149 17z"/><path transform="translate(0 -379)" d="M6361 10664l149-18 135-11 122-5 115 1 101 6 101 12 88 15 176 35 74 11 75 4 40-2 34-5 41-9 40-12 41-16 40-18 82-43 196-115 108-59 128-64 142-62 16 2-136 58-121 58-108 56-203 113-75 37-47 21-47 17-41 12-40 9-34 5-41 3-40 0-41-2-74-9-176-29-88-12-101-10-102-4-115 0-121 6-135 12-142 17z"/><path transform="translate(0 -369)" d="M6377 10659l142-17 135-12 121-6 115-1 102 5 101 9 88 12 176 29 74 9 41 3 40-1 41-3 34-4 40-9 41-12 47-17 47-21 75-38 203-112 108-57 121-58 136-58 15 2-128 54-122 56-108 55-196 103-81 39-48 20-47 17-47 14-41 8-40 6-41 3-81-1-74-7-183-24-88-10-101-7-102-2-108 2-121 7-129 12-142 17z"/><path transform="translate(0 -358)" d="M6392 10654l142-17 129-12 121-8 108-2 102 3 101 7 88 10 183 24 74 7 81 1 41-3 40-6 41-9 47-14 47-17 48-20 81-39 196-103 108-54 122-56 128-54 16 2-129 53-115 51-101 49-203 101-81 38-54 22-47 16-48 13-40 9-41 6-40 3-88 1-81-6-176-18-95-8-94-5-102-1-108 4-122 8-128 12-135 17z"/><path transform="translate(0 -348)" d="M6408 10649l135-17 128-13 122-8 108-3 102 1 94 5 95 8 176 18 81 6 88-1 40-4 41-6 40-8 48-13 47-17 54-22 81-37 203-101 101-49 115-51 129-53 15 2-115 46-115 50-304 143-88 39-54 21-47 16-47 13-48 11-81 10-95 2-81-3-270-20-101-3-102 0-108 5-115 9-122 12-135 18z"/><path transform="translate(0 -337)" d="M6423 10644l135-17 122-13 115-8 108-5 102-1 101 3 270 20 81 4 95-2 81-11 48-10 47-13 47-16 54-21 88-39 304-144 115-49 115-47 16 2-115 46-108 45-298 135-94 40-55 21-54 17-47 13-47 11-81 11-95 4-88-2-277-14-101-2-102 3-108 5-108 9-122 14-128 17z"/><path transform="translate(0 -327)" d="M6439 10639l128-17 122-13 108-9 108-6 102-2 101 1 277 14 88 2 95-4 81-11 47-10 47-13 54-18 55-20 94-40 298-135 108-46 115-45 15 2-209 83-305 133-94 39-108 37-54 14-48 11-88 12-94 5-88-1-284-8-101 1-95 3-108 7-108 9-115 13-129 18z"/><path transform="translate(0 -317)" d="M6454 10634l129-17 115-13 108-10 108-7 95-3 101 0 284 8 88 1 94-5 88-13 48-10 54-14 108-38 94-38 305-133 209-83 16 2-203 79-298 125-101 40-115 38-54 15-47 10-88 13-102 6-87 1-284-3-102 2-101 5-102 7-108 10-236 31z"/><path transform="translate(0 -306)" d="M6470 10629l236-30 108-10 102-8 101-4 102-2 284 3 87-1 102-7 88-13 47-10 54-14 115-38 101-41 298-124 203-79 15 2-189 72-298 121-108 41-121 40-54 14-55 11-87 13-102 8-88 2-290 1-196 9-210 19-230 31z"/><path transform="translate(0 -296)" d="M6485 10624l230-30 210-19 196-9 290-2 88-2 102-7 87-13 55-12 54-14 121-39 108-42 298-120 189-72 16 2-176 65-304 120-108 40-122 39-61 15-54 12-95 14-101 9-95 3-290 6-196 12-203 20-223 30z"/><path transform="translate(0 -286)" d="M6501 10619l223-30 203-20 196-11 290-6 95-4 101-8 95-15 54-11 61-16 122-38 108-40 304-120 176-65 15 2-155 57-311 118-115 42-129 40-114 26-95 15-108 10-386 15-196 13-202 22-217 30z"/><path transform="translate(0 -275)" d="M6516 10614l217-30 202-21 196-13 386-15 108-10 95-15 114-27 129-40 115-41 311-119 155-56 16 2-176 63-291 108-108 38-128 39-122 29-101 16-109 11-392 20-196 15-196 22-209 30z"/><path transform="translate(0 -265)" d="M6532 10609l209-29 196-22 196-15 392-21 109-10 101-17 122-28 128-39 108-38 291-108 176-63 15 2-453 163-115 39-135 41-121 28-102 16-108 12-406 26-196 17-189 22-203 30z"/><path transform="translate(0 -254)" d="M6547 10604l203-29 189-22 196-17 406-26 108-12 102-17 121-28 135-40 115-40 453-162 16 2-433 153-128 43-136 40-128 29-101 17-115 14-406 30-196 19-189 23-196 29z"/><path transform="translate(0 -244)" d="M6563 10599l196-29 189-23 196-18 406-30 115-14 101-17 128-30 136-40 128-43 433-152 15 3-419 144-135 45-142 41-128 29-109 19-115 14-412 35-196 20-182 23-190 29z"/><path transform="translate(0 -234)" d="M6578 10594l190-28 182-24 196-20 412-34 115-15 109-18 128-30 142-41 135-44 419-145 16 3-406 137-142 46-142 41-135 31-108 19-122 16-419 39-196 21-176 24-182 28z"/><path transform="translate(0 -223)" d="M6594 10589l182-28 176-23 196-22 419-39 122-15 108-19 135-32 142-40 142-46 406-137 15 3-392 130-149 47-148 42-142 32-108 19-122 17-419 42-196 23-169 23-183 29z"/><path transform="translate(0 -213)" d="M6609 10584l183-28 169-23 196-23 419-42 122-17 108-19 142-32 148-42 149-47 392-131 16 3-379 124-155 48-156 44-142 32-94 17-108 16-595 67-196 27-203 32z"/><path transform="translate(0 -202)" d="M6625 10579l203-31 196-27 595-67 108-16 94-18 142-32 156-43 155-48 379-124 15 3-365 117-169 52-155 43-142 32-102 18-108 17-595 71-189 26-203 33z"/><path transform="translate(0 -192)" d="M6640 10575l203-33 189-27 595-70 108-17 102-19 142-32 155-42 169-52 365-118 16 3-352 112-175 53-156 42-149 34-101 19-115 18-595 74-189 28-196 32z"/><path transform="translate(0 -182)" d="M6656 10570l196-32 189-28 595-74 115-18 101-19 149-34 156-42 175-53 352-112 15 3-344 108-176 52-162 44-149 34-108 20-115 19-595 77-189 29-190 31z"/><path transform="translate(0 -171)" d="M6671 10565l190-32 189-28 595-78 115-18 108-21 149-33 162-44 176-52 344-108 16 3-331 102-183 54-162 43-156 36-108 20-121 20-595 81-183 28-189 32z"/><path transform="translate(0 -161)" d="M6687 10560l189-32 183-28 595-81 121-20 108-21 156-35 162-43 183-54 331-103 15 4-324 99-189 55-163 43-155 35-115 22-122 20-595 84-182 29-183 31z"/><path transform="translate(0 -151)" d="M6702 10555l183-31 182-29 595-84 122-20 115-22 155-36 163-42 189-56 324-99 16 4-318 96-196 56-169 44-155 35-115 22-129 22-588 86-358 59z"/><path transform="translate(0 -140)" d="M6718 10550l358-60 588-86 129-21 115-23 155-34 169-44 196-57 318-96 15 4-311 92-196 56-169 44-162 37-122 23-128 23-588 88-352 59z"/><path transform="translate(0 -130)" d="M6733 10545l352-59 588-89 128-22 122-24 162-36 169-44 196-56 311-93 16 4-304 90-196 55-176 45-162 37-122 24-135 23-588 91-345 59z"/><path transform="translate(0 -119)" d="M6749 10540l345-59 588-91 135-24 122-24 162-36 176-46 196-55 304-90 15 4-297 87-203 56-176 45-162 37-128 26-135 24-582 92-345 59z"/><path transform="translate(0 -109)" d="M6764 10535l345-60 582-92 135-24 128-25 162-37 176-45 203-57 297-87 16 4-291 84-203 56-175 45-169 38-129 26-142 26-581 94-338 59z"/><path transform="translate(0 -99)" d="M6780 10530l338-59 581-95 142-25 129-26 169-38 175-45 203-56 291-85 15 4-290 84-203 55-176 45-169 38-128 26-142 26-588 98-332 58z"/><path transform="translate(0 -88)" d="M6795 10525l332-59 588-97 142-26 128-26 169-38 176-45 203-56 290-83 16 3-284 81-203 56-182 46-169 38-136 28-141 26-589 99-324 59z"/><path transform="translate(0 -78)" d="M6811 10520l324-58 589-99 141-27 136-27 169-39 182-46 203-55 284-81 15 4-277 78-209 57-183 46-169 38-284 56-588 101-318 58z"/><path transform="translate(0 -67)" d="M6826 10515l318-58 588-101 284-55 169-39 183-45 209-57 277-79 16 4-277 78-210 56-182 46-176 40-291 57-581 102-311 57z"/><path transform="translate(0 -57)" d="M6842 10510l311-57 581-101 291-58 176-39 182-46 210-56 277-78 15 4-270 75-210 56-189 47-176 40-290 58-588 104-305 57z"/><path transform="translate(0 -47)" d="M6857 10506l305-57 588-104 290-58 176-40 189-47 210-56 270-76 16 4-270 75-210 56-189 47-176 40-297 59-589 106-297 56z"/><path transform="translate(0 -36)" d="M6873 10501l297-56 589-106 297-60 176-40 189-47 210-55 270-75 15 4-263 73-210 55-189 47-183 41-304 62-588 107-291 55z"/><path transform="translate(0 -26)" d="M6888 10496l291-55 588-108 304-61 183-42 189-46 210-56 263-73 16 4-264 73-209 55-189 46-183 42-311 63-872 163z"/><path transform="translate(0 -16)" d="M6904 10491l872-163 311-63 183-42 189-47 209-55 264-72 15 4-256 70-217 57-189 46-183 42-317 65-866 164z"/><path transform="translate(0 -5)" d="M6919 10486l866-163 317-65 183-42 189-47 217-56 256-70 16 4-257 70-209 54-196 48-183 42-324 67-859 164z"/></g></g><path class="a" stroke-width="1.2" d="M693.5 1191.7L896.3 1141.3M693.5 1191.7L538.4 1126.4M693.5 1191.7l5.2 2.2M713.8 1186.7l5.2 2.2M734.1 1181.6l5.2 2.2M754.3 1176.6l5.2 2.2M774.6 1171.5l5.2 2.2M794.9 1166.5l5.2 2.2M815.2 1161.5l5.2 2.2M835.5 1156.4l5.2 2.2M855.7 1151.4l5.2 2.2M876 1146.3l5.2 2.2M896.3 1141.3l5.2 2.2M693.5 1191.7l-5.5 1.4M678 1185.2l-5.5 1.4M662.5 1178.6l-5.5 1.4M647 1172.1l-5.5 1.4M631.5 1165.6l-5.5 1.4M616 1159.1l-5.5 1.4M600.4 1152.5l-5.5 1.4M584.9 1146l-5.5 1.4M569.4 1139.5l-5.5 1.4M553.9 1132.9l-5.5 1.4M538.4 1126.4l-5.5 1.4"/><path fill="none" stroke="#333" stroke-width="1.2" d="M538.4 1126.4L538.4 983.4"/><path class="t" d="M538.4 1126.4l-5.2 -2.2M538.4 1101.1l-5.2 -2.2M538.4 1075.7l-5.2 -2.2M538.4 1050.4l-5.2 -2.2M538.4 1025.1l-5.2 -2.2M538.4 999.7l-5.2 -2.2"/><text transform="translate(717.35 927.75) scale(.43 1)" font-size="11.38" text-anchor="middle" font-weight="bold">Parameter space</text><text transform="translate(700.5 1205.82) scale(.43 1)" font-size="10.35">-5</text><text transform="translate(720.78 1200.78) scale(.43 1)" font-size="10.35">-4</text><text transform="translate(741.06 1195.74) scale(.43 1)" font-size="10.35">-3</text><text transform="translate(761.34 1190.7) scale(.43 1)" font-size="10.35">-2</text><text transform="translate(781.62 1185.66) scale(.43 1)" font-size="10.35">-1</text><text transform="translate(801.9 1180.62) scale(.43 1)" font-size="10.35">0</text><text transform="translate(822.18 1175.58) scale(.43 1)" font-size="10.35">1</text><text transform="translate(842.46 1170.54) scale(.43 1)" font-size="10.35">2</text><text transform="translate(862.74 1165.5) scale(.43 1)" font-size="10.35">3</text><text transform="translate(883.02 1160.46) scale(.43 1)" font-size="10.35">4</text><text transform="translate(903.3 1155.42) scale(.43 1)" font-size="10.35">5</text><text transform="translate(687.01 1204.89) scale(.43 1)" font-size="10.35" text-anchor="end">-5</text><text transform="translate(671.5 1198.36) scale(.43 1)" font-size="10.35" text-anchor="end">-4</text><text transform="translate(655.99 1191.83) scale(.43 1)" font-size="10.35" text-anchor="end">-3</text><text transform="translate(640.48 1185.3) scale(.43 1)" font-size="10.35" text-anchor="end">-2</text><text transform="translate(624.97 1178.77) scale(.43 1)" font-size="10.35" text-anchor="end">-1</text><text transform="translate(609.46 1172.24) scale(.43 1)" font-size="10.35" text-anchor="end">0</text><text transform="translate(593.95 1165.71) scale(.43 1)" font-size="10.35" text-anchor="end">1</text><text transform="translate(578.44 1159.18) scale(.43 1)" font-size="10.35" text-anchor="end">2</text><text transform="translate(562.93 1152.65) scale(.43 1)" font-size="10.35" text-anchor="end">3</text><text transform="translate(547.42 1146.12) scale(.43 1)" font-size="10.35" text-anchor="end">4</text><text transform="translate(531.91 1139.59) scale(.43 1)" font-size="10.35" text-anchor="end">5</text><text transform="translate(531.71 1128.37) scale(.43 1)" font-size="10.35" text-anchor="end">-0.6</text><text transform="translate(531.71 1103.04) scale(.43 1)" font-size="10.35" text-anchor="end">-0.5</text><text transform="translate(531.71 1077.71) scale(.43 1)" font-size="10.35" text-anchor="end">-0.4</text><text transform="translate(531.71 1052.38) scale(.43 1)" font-size="10.35" text-anchor="end">-0.3</text><text transform="translate(531.71 1027.05) scale(.43 1)" font-size="10.35" text-anchor="end">-0.2</text><text transform="translate(531.71 1001.71) scale(.43 1)" font-size="10.35" text-anchor="end">-0.1</text><text transform="translate(760.95 1217.57) scale(.43 1)" font-size="11.38" text-anchor="middle">x<tspan dy="4.78" font-size="9.11">1</tspan></text><text transform="translate(636.35 1210.77) scale(.43 1)" font-size="11.38" text-anchor="middle">x<tspan dy="4.78" font-size="9.11">2</tspan></text><text transform="translate(518.82 1052.2) scale(.43 1) rotate(-90)" font-size="12.52" text-anchor="middle">F22( x<tspan dy="3.76" font-size="10.02">1</tspan><tspan dy="-3.76"> , x</tspan><tspan dy="3.76" font-size="10.02">2</tspan><tspan dy="-3.76"> )</tspan></text><text class="b" x="649.2" y="1327.9">F22</text></g>
<g id="F23"><g clip-path="url(#gF23)"><path class="g" d="M1278.7 1186.8L1097.5 1122.2M1302.1 1181.8L1120.9 1117.2M1325.4 1176.8L1144.2 1112.2M1348.8 1171.8L1167.6 1107.2M1372.2 1166.8L1191 1102.2M1395.6 1161.8L1214.4 1097.2M1418.9 1156.8L1237.7 1092.2M1442.3 1151.8L1261.1 1087.2M1465.7 1146.8L1284.5 1082.2M1489 1141.8L1307.8 1077.2M1512.4 1136.8L1331.2 1072.2M1278.7 1186.8L1512.4 1136.8M1260.6 1180.3L1494.3 1130.3M1242.5 1173.9L1476.2 1123.9M1224.3 1167.4L1458 1117.4M1206.2 1161L1439.9 1111M1188.1 1154.5L1421.8 1104.5M1170 1148L1403.7 1098M1151.9 1141.6L1385.6 1091.6M1133.7 1135.1L1367.4 1085.1M1115.6 1128.7L1349.3 1078.7M1097.5 1122.2L1331.2 1072.2M1097.5 1122.2L1331.2 1072.2M1331.2 1072.2L1512.4 1136.8M1097.5 1096.9L1331.2 1046.9M1331.2 1046.9L1512.4 1111.5M1097.5 1071.6L1331.2 1021.6M1331.2 1021.6L1512.4 1086.2M1097.5 1046.3L1331.2 996.3M1331.2 996.3L1512.4 1060.9M1097.5 1021L1331.2 971M1331.2 971L1512.4 1035.6M1097.5 995.7L1331.2 945.7M1331.2 945.7L1512.4 1010.3"/><path class="v" d="M1097.5 1122.2L1097.5 982.4M1120.9 1117.2L1120.9 977.4M1144.2 1112.2L1144.2 972.4M1167.6 1107.2L1167.6 967.4M1191 1102.2L1191 962.4M1214.4 1097.2L1214.4 957.4M1237.7 1092.2L1237.7 952.4M1261.1 1087.2L1261.1 947.4M1284.5 1082.2L1284.5 942.4M1307.8 1077.2L1307.8 937.4M1331.2 1072.2L1331.2 932.4M1512.4 1136.8L1512.4 997M1494.3 1130.3L1494.3 990.5M1476.2 1123.9L1476.2 984.1M1458 1117.4L1458 977.6M1439.9 1111L1439.9 971.2M1421.8 1104.5L1421.8 964.7M1403.7 1098L1403.7 958.2M1385.6 1091.6L1385.6 951.8M1367.4 1085.1L1367.4 945.3M1349.3 1078.7L1349.3 938.9M1331.2 1072.2L1331.2 932.4"/></g><g clip-path="url(#sF23)"><g transform="scale(.1)"><g class="k"><path stroke="#ff100d" d="M13131 11191l-32 2-23-2-12-2-16-7-1-5 1-3 5-4 10-4 12-2 14-2 25 0 17 2 20 6 6 4 1 5-7 6-20 6"/><path stroke="#ff280d" d="M13158 11220l-49 3-19 0-65-5-26-5-31-9-15-7-11-8-5-7-1-8 8-12 20-11 41-12 39-6 49-3 45 1 46 5 15 3 23 5 26 10 7 4 9 8 3 5 1 10-4 6-9 8-15 8-31 9-24 5-27 3"/><path stroke="#ff400e" d="M13205 11237l-51 5-83 1-46-3-27-3-35-6-24-5-21-6-25-10-14-8-10-8-7-9-2-4 0-11 4-8 10-10 14-9 16-7 51-15 51-8 42-4 57-2 38 1 40 3 45 6 35 7 32 10 24 10 17 12 7 9 2 5 0 10-2 6-12 13-26 14-18 7-21 6-23 5-38 6"/><path stroke="#ff580e" d="M13249 11253l-54 6-90 4-83-3-34-3-45-6-61-13-29-9-32-14-13-8-14-12-8-14-1-10 6-15 15-14 14-9 33-15 41-12 35-7 68-10 37-3 58-2 61 1 75 6 28 4 52 10 41 12 25 10 19 10 1 2 6 3 10 9 6 8 4 10 0 5-1 6-5 12-10 10-19 13-25 11-21 7-41 11-49 9"/><path stroke="#ff6f0e" d="M13282 11271l-57 7-63 4-91 1-51-2-69-6-44-6-39-7-35-8-31-9-27-10-30-14-23-16-9-10-5-8-3-8-1-12 3-11 8-12 6-6 18-14 23-12 35-14 41-12 34-8 50-8 42-6 61-5 47-1 3-1 56 0 53 2 69 6 71 11 36 8 42 12 27 9 16 7 20 11 17 12 12 13 7 14 1 5-1 11-4 11-12 15-16 12-33 17-36 13-44 12-23 5-51 8"/><path stroke="#ff870f" d="M13349 11288l-54 8-58 5-1 1-48 3-96 2-50-1-71-4-51-5-73-10-50-10-65-17-36-13-37-18-21-14-12-10-9-11-5-8-3-8-2-11 1-9 4-12 1 0 6-11 2-1 5-7 17-14 23-15 21-10 26-11 47-15 39-10 60-12 39-6 71-8 63-4 68-1 2-1 59 1 43 2 88 8 83 13 49 11 41 12 36 12 32 14 30 18 24 22 10 17 2 7 0 15-1 6-5 11-4 6-12 13-20 15-37 20-46 17-31 9-57 13-37 6"/><path stroke="#ff9f0f" d="M13389 11316l-69 9-60 5-64 4-70 2-48 0-70-2-52-3-69-6-90-12-39-7-60-13-41-11-40-13-26-10-31-14-26-15-26-21-8-8-9-12-6-11-4-15 1-21 4-11 8-14 24-25 25-18 44-24 43-18 58-19 43-12 93-20 79-12 57-6 112-7 93 0 65 3 76 7 58 8 40 7 61 13 83 24 59 22 31 15 26 15 23 16 22 21 9 13 7 15 3 15 0 10-4 17-6 11-10 13-13 13-10 8-20 13-22 12-61 25-72 21-70 15-51 8"/><path stroke="#ffb70f" d="M13729 10871l61 59 32 29 38 38 32 38 12 18 13 25 6 20 2 15 0 15-3 18-7 18-6 11-21 26-16 14-25 18-26 16-17 8 0 1-45 20-71 25-75 20-83 17-55 9-113 14-112 8-108 4-121-1-117-6-112-11-77-11-53-9-106-24-50-15-46-16-33-14-29-14-32-19-27-20-18-17-11-13-14-25-4-13-2-15 1-21 1 0 4-18 11-22 24-32 25-25 34-28 30-22 27-17 6-5 2 0 25-17 66-39"/><path stroke="#ffce0f" d="M14309 11077l-21 31-2 1-18 24-36 37-36 30-42 29-29 17-29 15-32 16-37 16-79 29-92 27-90 22-59 12-63 11-121 17-86 9-92 7-99 5-69 2-150 0-148-6-83-6-90-9-112-15-94-16-85-18-56-14-52-15-75-25-51-20-68-32-33-19-24-16-47-36-35-35-17-21-18-27-10-19-12-27-9-25-2-10"/><path stroke="#ffe610" d="M14769 11241l-49 23-51 22-89 35-56 20-102 33-165 45-114 26-133 26-210 32-162 18-147 12-129 7-120 4-53 1-214-1-118-4-111-6-152-12-113-12-177-24-95-16-118-23-101-23-88-23-140-42-109-39-50-20-80-35-66-32-69-37-75-46"/><path stroke="#fffe10" d="M12916 11840l-81-1-144-5"/></g><g fill="url(#G23)" stroke="url(#G23)" stroke-width="5" stroke-linejoin="round"><path transform="translate(0 -1029)" d="M10975 10934l249-17 242-8 233 0 367 8 140 1 148-3 140-8 101-9 109-14 109-17 102-18 101-22 101-24 102-28 93-29 18 8-93 30-102 28-101 25-109 23-109 20-109 17-101 13-102 10-140 8-148 2-132-2-366-10-234-1-242 8-249 16z"/><path transform="translate(0 -1018)" d="M10993 10931l249-17 242-7 234 0 366 11 132 2 148-2 140-8 102-10 101-13 109-17 109-20 109-24 101-24 102-29 93-29 18 8-101 32-101 28-102 26-109 23-109 21-109 18-101 13-101 10-133 7-148 2-132-3-366-13-234-1-241 7-250 16z"/><path transform="translate(0 -1008)" d="M11011 10927l250-16 241-7 234 2 366 13 132 3 148-2 133-8 101-9 101-14 109-17 109-21 109-24 102-25 101-28 101-32 18 7-101 33-109 31-109 27-109 24-109 21-109 18-101 14-102 9-132 7-140 1-125-3-358-16-234-3-242 6-257 16z"/><path transform="translate(0 -997)" d="M11029 10924l257-16 242-6 234 3 358 15 125 4 140-1 132-7 102-10 101-13 109-18 109-21 109-24 109-28 109-31 101-32 18 8-101 32-109 32-109 28-117 27-109 22-109 18-101 14-101 10-125 6-140 1-125-5-350-17-234-5-125 1-124 4-258 16z"/><path transform="translate(0 -987)" d="M11047 10920l258-15 124-4 125-1 234 4 350 18 125 4 140 0 125-6 101-10 101-14 109-19 109-22 117-26 109-28 109-32 101-33 19 8-109 35-110 32-116 31-117 27-109 23-109 19-102 14-93 9-125 6-132-1-117-4-358-21-234-6-117 1-125 3-132 6-132 9z"/><path transform="translate(0 -977)" d="M11066 10917l132-9 132-6 125-4 117-1 234 6 358 21 117 5 132 1 125-7 93-9 102-14 109-19 109-22 117-28 116-30 110-32 109-36 18 7-109 36-117 35-117 32-125 30-117 24-101 18-93 14-94 9-124 6-125-1-117-6-350-24-117-5-117-2-125 0-124 3-133 6-132 9z"/><path transform="translate(0 -966)" d="M11084 10913l132-8 133-6 124-4 125 0 117 3 117 5 350 24 117 5 125 2 124-6 94-10 93-13 101-18 117-25 125-30 117-31 117-35 109-36 18 7-117 39-117 35-125 35-124 31-109 24-101 19-94 13-93 10-117 5-125-2-117-6-343-27-116-6-117-4-125 0-125 3-132 5-140 9z"/><path transform="translate(0 -956)" d="M11102 10910l140-9 132-6 125-2 125 0 117 3 116 6 343 27 117 7 125 2 117-5 93-10 94-14 101-19 109-24 124-31 125-34 117-35 117-39 18 6-117 40-125 39-132 37-132 34-109 25-94 18-93 14-86 8-117 5-117-2-117-8-335-30-116-7-117-5-125-1-132 3-133 5-140 9z"/><path transform="translate(0 -946)" d="M11120 10906l140-8 133-6 132-2 125 1 117 4 116 7 335 30 117 8 117 3 117-5 86-9 93-14 94-18 109-24 132-34 132-38 125-38 117-40 18 6-125 43-124 40-140 41-133 35-109 26-93 18-86 14-78 8-117 5-117-4-109-8-342-35-117-8-117-5-125-1-124 1-141 6-140 8z"/><path transform="translate(0 -935)" d="M11138 10903l140-9 141-5 124-2 125 2 117 5 117 8 342 34 109 9 117 3 117-4 78-9 86-13 93-19 109-25 133-36 140-41 124-39 125-43 18 7-124 43-141 45-148 45-132 37-101 25-86 18-86 13-78 9-109 4-117-4-109-10-335-39-116-9-117-6-125-2-132 1-133 5-148 9z"/><path transform="translate(0 -925)" d="M11156 10899l148-8 133-5 132-1 125 2 117 6 116 9 335 38 109 10 117 5 109-5 78-8 86-14 86-18 101-25 132-36 148-45 141-45 124-44 18 6-132 47-140 47-164 51-132 38-94 24-86 19-77 13-78 8-55 3-54 1-109-5-102-11-335-43-117-11-116-6-125-4-132 1-141 4-148 9z"/><path transform="translate(0 -915)" d="M11174 10896l148-9 141-4 132-1 125 3 116 7 117 11 335 43 102 10 109 6 54-1 55-3 78-8 77-13 86-19 94-24 132-39 164-51 140-46 132-47 18 6-132 48-156 53-171 55-133 41-93 25-78 17-70 12-70 8-101 4-110-6-101-12-226-34-109-14-117-12-116-8-125-4-133 0-140 4-156 8z"/><path transform="translate(0 -904)" d="M11192 10892l156-9 140-4 133 0 125 5 116 8 117 11 109 15 226 34 101 12 110 6 101-4 70-8 70-12 78-18 93-25 133-40 171-55 156-53 132-48 19 6-148 54-172 60-187 63-117 37-85 24-70 16-71 12-62 7-47 2-54 1-101-7-102-14-210-36-109-16-117-14-117-9-132-6-133-1-148 4-155 9z"/><path transform="translate(0 -894)" d="M11211 10888l155-8 148-4 133 1 132 5 117 10 117 14 109 16 210 36 102 13 101 7 54 0 47-2 62-7 71-12 70-17 85-24 117-36 187-64 172-60 148-54 18 6-405 148-234 81-78 23-70 17-62 12-63 7-46 3-55-1-101-8-94-14-210-40-109-18-117-16-117-11-132-6-141-2-148 4-155 8z"/><path transform="translate(0 -884)" d="M11229 10885l155-9 148-3 141 1 132 7 117 11 117 15 109 19 210 40 94 14 101 8 55 0 46-2 63-8 62-11 70-18 78-23 234-80 405-148 18 5-530 200-132 47-78 24-63 16-62 12-54 6-47 2-47-1-47-3-54-6-86-15-210-45-109-20-117-18-117-12-132-8-141-2-148 3-163 8z"/><path transform="translate(0 -873)" d="M11247 10881l163-8 148-3 141 2 132 8 117 12 117 17 109 21 210 45 86 14 54 7 47 3 47 1 47-3 54-6 62-11 63-16 78-24 132-47 530-200 18 5-327 127-265 106-94 35-62 20-62 17-55 11-54 6-47 2-47 0-47-4-46-7-86-16-210-50-109-23-117-19-117-14-132-9-141-3-155 2-164 9z"/><path transform="translate(0 -863)" d="M11265 10877l164-8 155-2 141 3 132 9 117 13 117 20 109 23 210 50 86 16 46 6 47 4 47 1 47-2 54-7 55-10 62-17 62-20 94-35 265-106 327-127 18 5-312 124-296 126-93 38-62 21-55 15-54 11-47 6-39 2-47 0-47-5-46-6-86-19-210-56-102-24-116-22-117-15-133-11-148-4-156 2-171 8z"/><path transform="translate(0 -853)" d="M11283 10874l171-9 156-2 148 5 133 11 117 15 116 22 102 24 210 56 86 18 46 7 47 4 47 1 39-2 47-6 54-11 55-15 62-22 93-37 296-126 312-124 18 5-319 131-117 52-195 90-86 36-54 20-55 16-54 12-47 5-39 2-47-2-38-4-47-8-86-21-195-58-109-29-117-25-116-17-133-12-148-5-156 1-179 8z"/><path transform="translate(0 -842)" d="M11301 10870l179-8 156-2 148 6 133 12 116 17 117 25 109 28 195 58 86 21 47 9 38 4 47 2 39-2 47-6 54-11 55-16 54-20 86-37 195-90 117-51 319-131 18 5-194 80-141 62-117 55-202 100-78 35-55 21-46 15-47 10-47 7-39 1-46-2-39-5-47-10-78-21-195-65-101-30-117-28-117-19-140-15-148-6-164 0-179 8z"/><path transform="translate(0 -832)" d="M11319 10866l179-8 164-1 148 7 140 14 117 20 117 27 101 30 195 65 78 22 47 9 39 5 46 3 39-2 47-6 47-10 46-15 55-21 78-35 202-101 117-55 141-61 194-81 18 5-194 82-148 68-125 63-203 108-77 38-47 19-47 16-47 11-39 5-39 1-39-2-38-5-47-11-78-24-195-72-101-34-117-30-117-22-70-9-70-7-148-8-164 0-187 8z"/><path transform="translate(0 -822)" d="M11337 10862l187-8 164 0 148 8 70 7 70 9 117 22 117 30 101 33 195 73 78 24 47 10 38 6 39 2 39-2 39-5 47-11 47-15 47-19 77-38 203-109 125-62 148-68 194-82 19 4-203 88-148 71-125 67-218 126-70 36-47 20-39 14-39 9-38 6-39 1-39-2-39-7-39-10-78-26-187-78-101-38-55-17-62-17-117-25-70-10-70-8-78-6-78-4-172 0-186 8z"/><path transform="translate(0 -811)" d="M11356 10858l186-8 172 1 78 4 78 6 70 8 70 10 117 25 62 17 55 17 101 37 187 78 78 27 39 10 39 6 39 3 39-2 38-5 39-10 39-13 47-20 70-36 218-127 125-66 148-71 203-88 18 5-203 89-78 38-78 40-117 67-210 133-86 48-39 19-38 14-39 11-39 6-39 1-39-3-39-7-39-12-70-27-187-87-102-42-54-19-62-18-55-14-62-13-70-12-70-9-78-7-78-4-172-1-194 8z"/><path transform="translate(0 -801)" d="M11374 10854l194-7 172 1 78 4 78 7 70 9 70 11 62 13 55 14 62 19 54 19 102 42 187 87 70 27 39 11 39 8 39 3 39-1 39-6 39-11 38-15 39-18 86-49 210-133 117-66 78-40 78-38 203-90 18 5-117 51-94 44-85 43-78 43-109 67-218 150-47 30-39 22-39 19-39 15-39 9-31 4-31 1-39-4-31-7-39-12-70-31-180-93-101-47-54-21-63-21-54-16-63-15-70-13-70-10-78-7-78-5-85-3-94 0-202 8z"/><path transform="translate(0 -791)" d="M11392 10850l202-7 94 0 85 2 78 5 78 8 70 10 70 13 63 15 54 15 63 21 54 22 101 47 180 93 70 30 39 13 31 6 39 5 31-1 31-4 39-10 39-14 39-19 39-23 47-30 218-149 109-67 78-43 85-43 94-44 117-51 18 4-117 52-101 49-86 45-78 46-117 77-218 163-78 51-39 20-31 13-39 11-31 4-31 1-31-4-31-7-39-13-70-34-180-104-101-52-54-24-63-23-54-17-63-16-70-14-70-11-78-9-85-6-86-2-94-1-202 8z"/><path transform="translate(0 -780)" d="M11410 10846l202-7 94 0 86 3 85 6 78 9 70 10 70 15 63 16 54 17 63 23 54 24 101 52 180 104 70 33 39 14 31 7 31 3 31 0 31-4 39-11 31-13 39-20 78-51 218-164 117-77 78-45 86-45 101-49 117-52 18 4-109 49-86 42-78 41-70 41-78 50-78 56-70 55-148 123-70 52-39 24-39 18-39 12-31 5-31 0-31-4-31-9-39-15-63-34-179-116-93-54-55-26-62-26-55-19-62-18-70-16-70-12-78-10-86-7-93-4-94-1-101 3-109 5z"/><path transform="translate(0 -770)" d="M11428 10842l109-5 101-2 94 1 93 4 86 6 78 10 70 12 70 17 62 18 55 19 62 25 55 27 93 53 179 117 63 34 39 15 31 8 31 5 31 0 31-5 39-12 39-19 39-23 70-52 148-123 70-55 78-56 78-50 70-41 78-41 86-42 109-50 18 5-109 50-93 47-78 43-78 48-78 54-78 60-70 61-140 127-70 57-39 26-32 16-39 13-31 5-31 0-31-5-31-10-31-14-63-37-179-130-93-59-55-29-62-29-55-20-62-20-70-17-70-14-78-10-86-8-93-4-94-2-101 2-117 6z"/><path transform="translate(0 -760)" d="M11446 10838l117-5 101-2 94 1 93 5 86 7 78 11 70 13 70 18 62 19 55 21 62 28 55 29 93 60 179 129 63 38 31 14 31 9 31 6 31 0 31-5 39-14 32-16 39-25 70-57 140-128 70-60 78-61 78-54 78-47 78-43 93-47 109-51 18 4-117 55-93 49-86 49-78 51-78 58-77 67-71 66-132 132-62 56-39 28-31 18-39 15-32 6-31-1-31-6-31-11-31-16-31-20-39-29-172-138-85-60-55-32-54-27-55-24-62-21-70-20-78-16-78-12-86-8-93-5-94-1-109 1-117 5z"/><path transform="translate(0 -749)" d="M11464 10834l117-5 109-2 94 2 93 5 86 8 78 12 78 16 70 19 62 22 55 23 54 28 55 32 85 59 172 139 39 28 31 20 31 16 31 12 31 6 31 0 32-5 39-15 31-18 39-28 62-56 132-133 71-66 77-66 78-58 78-51 86-50 93-48 117-55 18 4-116 56-102 53-85 52-78 54-78 62-78 71-70 72-133 145-62 61-39 31-31 18-31 13-31 6-24 0-31-6-31-12-31-17-31-22-32-25-163-147-47-39-47-35-54-35-55-31-54-26-63-24-70-22-78-18-78-13-85-9-94-6-101-2-109 1-125 5z"/><path transform="translate(0 -739)" d="M11482 10830l125-5 109-2 101 2 94 6 85 10 78 13 78 18 70 22 63 24 54 26 55 30 54 36 47 35 47 38 163 148 32 25 31 22 31 17 31 12 31 6 24-1 31-6 31-12 31-19 39-30 62-61 133-145 70-72 78-71 78-62 78-54 85-52 102-54 116-56 18 4-124 61-101 55-94 60-78 57-78 68-78 77-62 70-132 159-63 66-31 27-31 20-31 15-31 6-24 0-31-7-23-10-31-18-32-24-31-27-163-164-47-42-47-39-54-39-55-33-54-28-63-26-70-23-78-20-78-14-85-10-94-7-109-2-109 1-125 5z"/><path transform="translate(0 -729)" d="M11500 10826l125-5 109-2 109 3 94 7 85 10 78 14 78 19 70 23 63 27 54 28 55 33 54 39 47 38 47 43 163 163 31 28 32 24 31 18 23 10 31 7 24 0 31-7 31-14 31-21 31-26 63-66 132-159 62-70 78-78 78-67 78-58 94-59 101-56 124-60 19 4-125 61-101 57-94 61-85 66-78 72-78 84-70 86-125 163-55 63-31 30-31 23-31 16-31 7-24 0-31-8-23-12-31-21-31-26-32-31-124-140-47-49-39-38-39-35-54-42-55-37-54-30-63-28-70-25-70-19-86-17-85-11-94-7-109-3-117 1-124 5z"/><path transform="translate(0 -718)" d="M11519 10822l124-6 117-1 109 3 94 8 85 11 86 17 70 19 70 24 63 29 54 30 55 36 54 43 39 35 39 38 47 49 124 139 32 31 31 27 31 21 23 11 31 8 24 1 31-7 31-16 31-23 31-30 55-63 125-164 70-86 78-84 78-71 85-67 94-61 101-56 125-62 18 4-125 62-109 63-93 63-47 37-39 33-78 77-78 90-70 93-125 178-54 68-31 31-32 24-31 15-23 5-23 0-24-6-23-12-31-22-24-21-31-33-163-198-47-52-39-38-55-48-54-40-55-33-62-32-70-27-78-23-86-18-85-12-94-8-109-4-117 1-132 6z"/><path transform="translate(0 -708)" d="M11537 10817l132-5 117-1 109 4 94 8 85 12 86 18 78 23 70 27 62 31 55 34 54 40 55 47 39 39 47 51 163 199 31 33 24 21 31 22 23 11 24 6 23 1 23-5 31-15 32-24 31-31 54-69 125-177 70-93 78-91 78-76 39-33 47-37 93-64 109-63 125-62 18 4-133 67-109 64-46 32-47 35-47 38-39 36-39 38-39 43-39 46-39 51-62 89-132 204-55 73-31 33-23 19-32 17-23 5-23-1-24-7-23-13-31-25-31-32-32-38-155-208-39-46-39-42-55-52-54-43-55-36-62-33-70-30-78-24-86-19-86-13-101-9-109-4-117 1-132 5z"/><path transform="translate(0 -698)" d="M11555 10813l132-5 117-1 109 4 101 9 86 13 86 19 78 24 70 29 62 34 55 36 54 43 55 52 39 42 39 46 155 208 32 37 31 33 31 25 23 13 24 7 23 1 23-6 32-16 23-19 31-33 55-73 132-205 62-89 39-50 39-47 39-42 39-39 39-35 47-38 47-35 46-32 109-65 133-67 18 4-132 67-55 32-55 34-54 38-47 37-47 40-38 37-39 41-39 45-39 50-39 54-63 96-124 208-55 80-31 36-23 21-16 11-15 7-24 6-23-1-16-5-15-8-24-16-31-30-23-28-31-41-109-161-47-65-55-68-47-50-46-44-47-38-47-31-54-31-70-31-78-26-86-20-86-14-101-9-109-5-125 1-132 5z"/><path transform="translate(0 -687)" d="M11573 10809l132-6 125 0 109 4 101 10 86 13 86 21 78 25 70 32 54 30 47 32 47 38 46 43 47 51 55 68 47 65 109 160 31 42 23 28 31 30 24 16 15 8 16 4 23 2 24-6 15-8 16-10 23-21 31-37 55-80 124-208 63-96 39-54 39-49 39-45 39-41 38-37 47-41 47-36 54-38 55-35 55-31 132-68 18 3-132 69-63 36-54 36-55 39-46 38-47 42-39 39-39 44-39 47-39 53-39 58-62 103-125 223-47 74-31 39-23 23-16 11-15 9-24 6-23-2-16-5-15-8-24-19-31-33-23-30-31-46-102-161-46-71-55-73-47-54-46-47-47-40-47-34-54-33-70-33-78-27-78-20-94-16-101-10-109-5-125 0-140 6z"/><path transform="translate(0 -677)" d="M11591 10804l140-5 125 0 109 4 101 11 94 16 78 19 78 28 70 33 54 33 47 33 47 40 46 47 47 55 55 73 46 70 102 162 31 45 23 31 31 33 24 18 15 9 16 5 23 2 24-7 15-8 16-11 23-23 31-40 47-73 125-224 62-102 39-58 39-53 39-48 39-43 39-39 47-42 46-38 55-39 54-36 63-37 132-68 18 3-70 35-70 38-62 38-55 36-54 41-47 40-47 44-39 41-39 45-39 51-39 56-31 48-70 123-125 237-46 77-31 40-24 22-23 15-24 7-23-2-16-6-15-9-23-20-32-37-46-69-102-173-46-76-55-78-47-58-46-51-47-42-47-36-54-35-71-35-77-28-78-21-94-17-101-11-117-6-125 1-140 5z"/><path transform="translate(0 -667)" d="M11609 10800l140-6 125 0 117 6 101 11 94 16 78 21 77 29 71 35 54 35 47 36 47 42 46 50 47 59 55 78 46 76 102 172 46 70 32 36 23 20 15 10 16 5 23 2 24-6 23-15 24-23 31-40 46-76 125-238 70-122 31-49 39-56 39-50 39-46 39-41 47-44 47-39 54-41 55-36 62-38 70-38 70-35 18 3-70 35-70 38-62 38-55 37-54 42-47 40-47 45-47 51-38 47-39 53-39 59-32 52-62 114-124 251-47 82-31 42-24 24-23 16-23 7-24-2-15-6-16-10-23-22-32-39-46-75-94-169-46-80-55-84-47-62-47-53-46-45-47-38-55-37-70-37-78-30-77-22-94-17-101-12-117-6-132 0-141 6z"/><path transform="translate(0 -656)" d="M11627 10795l141-5 132 0 117 6 101 11 94 18 77 22 78 30 70 37 55 36 47 38 46 45 47 54 47 62 55 83 46 81 94 169 46 74 32 40 23 21 16 10 15 7 24 2 23-7 23-16 24-24 31-43 47-82 124-250 62-114 32-52 39-59 39-53 38-48 47-51 47-45 47-40 54-41 55-37 62-38 70-39 70-35 18 3-70 35-70 39-62 38-55 38-54 42-47 40-47 46-46 52-39 49-39 54-39 61-39 67-63 120-116 246-47 86-31 45-24 25-23 17-23 7-24-2-23-12-23-20-32-39-46-76-102-191-46-84-55-87-47-63-39-47-46-47-47-40-55-38-70-39-78-31-85-25-94-18-101-11-117-6-132 0-141 5z"/><path transform="translate(0 -646)" d="M11645 10791l141-6 132 0 117 6 101 12 94 18 85 24 78 32 70 39 55 38 47 40 46 47 39 46 47 64 55 87 46 83 102 192 46 76 32 38 23 21 23 12 24 2 23-7 23-17 24-25 31-46 47-86 116-246 63-120 39-67 39-60 39-55 39-48 46-52 47-46 47-41 54-42 55-37 62-38 70-39 70-35 19 2-71 36-70 39-62 38-55 38-54 42-47 41-47 46-46 53-39 50-39 55-39 62-39 68-62 123-125 270-47 87-23 34-24 26-23 18-23 7-24-2-23-13-23-21-32-40-46-80-102-198-46-86-47-77-47-66-46-58-47-48-47-40-54-39-71-39-77-32-86-25-94-18-101-11-117-6-132 0-140 6z"/><path transform="translate(0 -636)" d="M11664 10786l140-5 132 0 117 5 101 12 94 18 86 25 77 32 71 39 54 38 47 41 47 48 46 57 47 67 47 77 46 86 102 198 46 79 32 41 23 21 23 12 24 3 23-8 23-17 24-27 23-34 47-86 125-270 62-123 39-69 39-61 39-56 39-49 46-53 47-46 47-41 54-43 55-37 62-39 70-39 71-35 18 2-78 40-70 39-63 40-54 38-55 44-46 42-47 47-47 55-39 51-39 57-39 64-31 56-62 125-125 276-47 88-23 35-23 27-24 18-23 8-23-3-24-13-23-21-31-42-47-81-101-202-47-88-47-78-47-67-46-58-47-49-47-41-54-39-32-18-38-21-39-17-39-15-86-25-94-17-101-12-117-6-132 0-140 6z"/><path transform="translate(0 -625)" d="M11682 10782l140-6 132 0 117 6 101 11 94 18 86 25 39 15 39 17 38 20 32 19 54 39 47 41 47 49 46 57 47 68 47 78 47 87 101 203 47 81 31 41 23 22 24 13 23 2 23-7 24-18 23-27 23-35 47-89 125-275 62-125 31-56 39-64 39-58 39-51 47-54 47-48 46-42 55-43 54-39 63-39 70-39 78-40 18 2-78 40-70 40-63 39-54 38-55 44-46 42-47 48-47 54-39 52-39 57-39 65-31 56-62 126-125 277-47 89-23 36-23 27-24 18-23 8-23-2-24-13-23-22-31-42-47-82-93-188-47-89-55-92-47-68-46-58-47-49-47-41-54-39-31-19-39-20-39-17-39-15-78-23-94-18-101-12-117-7-132 0-148 6z"/><path transform="translate(0 -615)" d="M11700 10777l148-6 132 0 117 6 101 12 94 19 78 23 39 14 39 18 39 20 31 19 54 39 47 41 47 48 46 58 47 68 55 93 47 89 93 188 47 82 31 41 23 22 24 13 23 3 23-8 24-18 23-27 23-36 47-89 125-277 62-126 31-57 39-64 39-57 39-52 47-54 47-48 46-42 55-44 54-39 63-39 70-39 78-40 18 2-78 40-70 39-62 40-55 38-54 44-47 42-47 48-47 54-39 51-39 58-39 64-31 56-62 125-125 276-46 89-24 35-23 27-24 18-23 8-23-2-24-13-23-22-31-41-47-81-101-202-47-87-47-78-46-67-47-58-47-48-47-41-54-39-31-18-39-21-39-17-39-14-78-23-94-19-101-11-117-7-132 1-148 6z"/><path transform="translate(0 -605)" d="M11718 10772l148-6 132 0 117 6 101 12 94 18 78 23 39 15 39 17 39 20 31 19 54 39 47 40 47 49 47 57 46 68 47 78 47 87 101 202 47 81 31 41 23 22 24 12 23 3 23-8 24-18 23-27 24-35 46-89 125-276 62-125 31-57 39-64 39-57 39-51 47-55 47-47 47-43 54-43 55-39 62-39 70-40 78-39 18 2-70 35-70 39-62 39-55 38-55 42-46 41-47 47-47 53-39 50-39 55-39 62-39 69-62 124-125 271-46 87-24 34-23 27-23 17-24 8-23-2-23-12-24-21-31-41-47-78-101-198-47-85-47-77-46-66-47-57-47-48-46-40-55-38-70-39-78-31-86-25-93-17-101-11-117-6-133 1-140 6z"/><path transform="translate(0 -594)" d="M11736 10768l140-6 133-1 117 5 101 12 93 17 86 24 78 32 70 38 55 39 46 40 47 48 47 56 46 67 47 76 47 86 101 197 47 79 31 40 24 21 23 12 23 3 24-8 23-18 23-26 24-35 46-86 125-271 62-124 39-69 39-62 39-56 39-49 47-53 47-47 46-41 55-43 55-38 62-38 70-39 70-35 18 2-70 35-70 39-62 38-55 38-54 42-47 41-47 46-47 52-39 49-39 55-39 61-38 68-63 121-117 247-46 87-32 45-23 26-23 17-24 8-23-2-23-12-24-20-31-38-47-76-101-190-47-83-54-86-47-63-39-46-47-47-46-39-55-38-70-38-78-31-86-24-93-17-101-11-117-5-133 1-140 6z"/><path transform="translate(0 -584)" d="M11754 10763l140-6 133-1 117 5 101 11 93 17 86 24 78 31 70 38 55 38 46 39 47 47 39 46 47 63 54 86 47 83 101 190 47 76 31 38 24 20 23 11 23 2 24-7 23-17 23-26 32-46 46-86 117-248 63-121 38-67 39-61 39-55 39-49 47-52 47-47 47-40 54-43 55-37 62-39 70-38 70-36 18 2-70 35-70 39-62 38-55 37-54 42-47 40-47 46-39 42-39 48-39 52-39 59-39 64-62 115-125 253-46 83-31 43-24 25-23 16-24 7-23-2-15-6-16-9-23-22-32-38-46-74-94-168-47-79-54-83-47-62-47-52-46-44-47-38-55-35-70-36-78-30-77-21-94-16-101-11-117-5-133 1-140 7z"/><path transform="translate(0 -574)" d="M11772 10758l140-6 133-1 117 5 101 10 94 17 77 21 78 29 70 36 55 36 47 37 46 45 47 52 47 61 54 83 47 80 94 168 46 73 32 39 23 21 16 10 15 6 23 2 24-8 23-16 24-24 31-44 46-82 125-253 62-115 39-65 39-58 39-53 39-47 39-42 47-46 47-40 54-42 55-38 62-38 70-38 70-35 18 2-70 34-70 39-62 37-55 37-54 42-47 40-47 44-39 42-39 46-39 51-38 57-32 49-70 124-124 240-47 78-31 41-24 23-23 15-23 7-24-1-15-6-16-9-23-19-31-36-47-68-101-171-47-75-55-77-46-58-47-49-47-42-47-35-54-33-70-34-78-28-78-20-94-15-101-10-117-4-124 1-141 7z"/><path transform="translate(0 -563)" d="M11790 10753l141-6 124-2 117 5 101 9 94 16 78 20 78 27 70 34 54 34 47 35 47 42 47 49 46 58 55 77 47 75 101 170 47 69 31 35 23 20 16 9 15 5 24 2 23-7 23-16 24-23 31-40 47-78 124-240 70-124 32-50 38-56 39-51 39-46 39-42 47-45 47-40 54-41 55-37 62-38 70-38 70-35 19 2-71 34-62 34-62 37-55 36-54 40-47 38-47 43-39 40-39 44-39 49-39 53-39 59-62 104-124 227-47 75-31 40-24 23-15 12-16 9-23 7-24-1-15-5-16-8-23-17-31-33-24-30-31-45-101-158-47-70-54-72-47-53-47-46-47-39-46-33-55-31-70-32-78-26-78-19-93-14-102-9-109-4-124 2-140 7z"/><path transform="translate(0 -553)" d="M11809 10748l140-6 124-2 109 3 102 9 93 15 78 18 78 26 70 32 55 32 46 33 47 39 47 46 47 53 54 72 47 69 101 159 31 45 24 30 31 32 23 18 16 8 15 5 24 1 23-7 16-9 15-12 24-23 31-41 47-75 124-226 62-104 39-59 39-54 39-48 39-44 39-40 47-43 47-39 54-40 55-36 62-36 62-34 71-34 18 1-70 34-63 33-54 32-55 35-54 39-47 37-47 41-39 38-39 42-39 46-39 50-39 56-62 97-125 212-54 82-31 37-24 22-15 11-16 8-23 7-24-1-15-4-16-7-23-16-31-29-24-27-31-41-109-157-47-64-54-66-47-50-47-42-46-36-47-31-55-30-70-29-78-25-77-17-94-13-101-8-109-3-125 2-132 7z"/><path transform="translate(0 -543)" d="M11827 10744l132-7 125-2 109 2 101 8 94 14 77 17 78 24 70 30 55 30 47 30 46 36 47 43 47 49 54 67 47 63 109 158 31 41 24 27 31 29 23 15 16 8 15 4 24 0 23-6 16-8 15-11 24-22 31-37 54-82 125-212 62-98 39-55 39-51 39-46 39-41 39-38 47-42 47-37 54-38 55-35 54-32 63-33 70-34 18 1-125 63-54 30-55 34-54 38-47 35-47 40-39 36-39 40-39 43-39 48-39 51-70 103-124 197-55 75-31 34-24 20-31 18-23 6-23 0-24-6-23-12-31-24-31-31-32-37-155-203-39-45-39-41-55-50-54-41-55-35-62-32-70-27-78-23-86-17-86-11-101-7-109-3-117 3-132 7z"/><path transform="translate(0 -532)" d="M11845 10739l132-7 117-3 109 2 101 7 86 11 86 18 78 22 70 28 62 32 55 34 54 42 55 50 39 41 39 45 155 203 32 36 31 32 31 23 23 12 24 7 23 0 23-6 31-18 24-20 31-34 55-75 124-197 70-103 39-52 39-47 39-44 39-39 39-37 47-39 47-36 54-37 55-34 54-31 125-62 18 1-125 62-54 30-55 33-47 32-46 34-47 37-39 35-39 37-39 41-78 93-70 96-125 183-54 70-31 33-31 25-32 16-23 6-23 0-24-5-23-10-31-21-24-20-31-32-163-192-47-50-39-37-55-46-54-39-55-31-62-30-70-25-78-21-86-16-85-10-94-6-109-2-117 3-132 7z"/><path transform="translate(0 -522)" d="M11863 10734l132-8 117-2 109 1 94 6 85 10 86 16 78 21 70 26 62 29 55 32 54 39 55 45 39 38 47 49 163 193 31 32 24 20 31 21 23 10 24 5 23 0 23-6 32-16 31-25 31-33 54-71 125-182 70-96 78-93 39-41 39-37 39-35 47-38 46-34 47-31 55-33 54-30 125-62 18 1-125 61-101 58-93 62-86 69-78 74-78 87-70 89-125 168-31 39-31 36-31 29-31 23-31 15-24 6-23 0-31-6-24-11-31-19-31-26-31-30-125-134-47-47-39-37-38-33-55-41-55-34-54-29-62-26-70-23-71-17-85-14-86-9-93-5-110-2-116 4-125 7z"/><path transform="translate(0 -512)" d="M11881 10729l125-8 116-3 110 1 93 5 86 9 85 15 71 17 70 23 62 26 54 29 55 34 55 41 38 33 39 36 47 48 125 134 31 30 31 25 31 20 24 10 31 7 23-1 24-5 31-15 31-23 31-30 31-35 31-39 125-168 70-89 78-87 78-74 86-69 93-63 101-57 125-61 18 1-117 56-101 56-93 60-86 66-78 70-78 81-70 82-125 155-62 69-31 28-31 23-32 15-31 8-23 1-31-5-31-12-32-19-31-23-31-27-171-163-78-63-55-37-54-31-55-26-62-25-70-20-70-16-86-13-86-8-93-5-109 0-109 3-125 8z"/><path transform="translate(0 -501)" d="M11899 10724l125-8 109-3 109 0 93 4 86 8 86 14 70 15 70 21 62 24 55 26 54 32 55 37 78 63 171 163 31 27 31 23 32 18 31 13 31 5 23-1 31-8 32-16 31-22 31-28 62-69 125-156 70-82 78-81 78-70 86-65 93-60 101-56 117-56 18 1-109 51-101 54-86 53-85 62-78 64-78 75-70 75-133 152-62 64-39 33-31 20-31 14-32 8-23 1-31-4-31-10-31-16-32-20-31-24-163-139-47-37-47-32-54-34-55-28-54-24-63-22-70-19-78-16-78-10-85-7-94-4-101 0-109 4-125 8z"/><path transform="translate(0 -491)" d="M11917 10719l125-8 109-4 101 0 94 3 85 7 78 11 78 16 70 19 63 22 54 23 55 29 54 33 47 33 47 36 163 140 31 24 32 20 31 15 31 11 31 4 23-1 32-8 31-14 31-21 39-32 62-64 133-152 70-75 78-75 78-65 85-61 86-53 101-54 109-51 18 1-109 50-93 49-86 51-86 58-77 61-78 70-70 70-141 147-62 58-39 30-31 18-31 13-31 8-32 1-31-4-31-10-31-15-31-18-39-26-172-130-85-56-55-29-54-25-55-21-62-19-70-17-70-13-78-9-86-6-93-3-102 1-109 4-117 8z"/><path transform="translate(0 -481)" d="M11935 10713l117-7 109-4 102-1 93 2 86 7 78 9 70 12 70 17 62 20 55 21 54 25 55 29 85 56 172 129 39 27 31 18 31 14 31 10 31 5 32-2 31-7 31-13 31-19 39-29 62-58 141-148 70-69 78-70 77-61 86-59 86-50 93-49 109-50 18 1-101 45-93 48-86 48-78 51-78 57-78 64-70 64-148 144-62 53-39 28-31 18-39 16-31 7-31 2-32-4-31-8-31-12-62-33-179-120-94-55-54-26-63-26-54-18-63-17-70-15-70-11-78-8-85-4-94-2-93 1-102 5-117 8z"/><path transform="translate(0 -470)" d="M11953 10708l117-8 102-4 93-1 94 1 85 5 78 8 70 11 70 14 63 17 54 19 63 25 54 27 94 54 179 120 62 34 31 12 31 8 32 3 31-2 31-6 39-16 31-18 39-28 62-54 148-143 70-64 78-65 78-57 78-50 86-49 93-47 101-46 19 1-102 45-85 42-86 47-78 48-78 54-78 61-70 59-140 126-70 56-39 26-39 21-39 15-31 7-31 2-32-2-31-7-39-13-62-30-179-106-55-29-46-23-55-23-54-20-55-16-62-16-70-13-71-9-77-7-86-4-94-1-93 2-210 12z"/><path transform="translate(0 -460)" d="M11972 10703l210-12 93-2 94 1 86 4 77 6 71 10 70 13 62 15 55 17 54 20 55 23 46 23 55 29 179 106 62 30 39 13 31 6 32 2 31-2 31-6 39-15 39-21 39-26 70-57 140-125 70-60 78-60 78-54 78-48 86-47 85-42 102-45 18 1-94 41-85 41-78 40-78 46-78 50-78 56-70 55-148 122-70 53-39 25-39 20-39 14-39 9-31 3-39-3-31-6-39-11-70-30-172-90-101-46-55-21-62-20-54-14-63-13-70-12-70-8-78-5-78-3-85 0-94 2-210 13z"/><path transform="translate(0 -450)" d="M11990 10698l210-13 94-2 85 0 78 3 78 5 70 8 70 11 63 14 54 14 62 20 55 21 101 46 172 89 70 30 39 12 31 6 39 2 31-2 39-9 39-15 39-20 39-25 70-52 148-122 70-55 78-56 78-51 78-45 78-41 85-41 94-40 18 1-86 36-86 40-77 39-71 39-77 47-78 53-78 56-156 119-70 48-39 23-39 18-39 14-39 8-31 3-39-1-39-6-39-11-70-26-179-82-94-37-54-19-63-18-54-12-62-12-71-10-70-7-78-4-77-2-86 0-94 3-202 13z"/><path transform="translate(0 -439)" d="M12008 10693l202-13 94-3 86-1 77 2 78 5 70 7 71 10 62 11 54 13 63 18 54 18 94 38 179 82 70 26 39 10 39 6 39 2 31-3 39-9 39-13 39-19 39-22 70-48 156-119 78-57 78-52 77-47 71-39 77-39 86-40 86-37 18 1-101 43-86 39-86 43-78 44-116 72-234 163-47 31-47 27-39 19-39 15-38 11-32 6-31 2-39-1-39-6-39-9-70-23-179-71-101-36-55-15-62-16-117-21-70-8-70-6-148-4-172 4-202 14z"/><path transform="translate(0 -429)" d="M12026 10688l202-14 172-4 148 4 70 6 70 8 117 21 62 15 55 16 101 35 179 72 70 23 39 9 39 6 39 1 31-3 32-5 38-11 39-15 39-19 47-28 47-30 234-164 116-72 78-43 86-43 86-39 101-43 18 1-93 39-86 38-86 41-78 41-117 69-233 152-47 28-47 26-39 18-39 15-39 12-39 7-31 2-39 0-39-4-39-7-77-22-187-65-102-30-109-26-117-18-70-7-70-5-148-3-171 6-195 14z"/><path transform="translate(0 -419)" d="M12044 10682l195-14 171-5 148 3 70 5 70 7 117 18 109 25 102 31 187 65 77 21 39 8 39 4 39 0 31-3 39-7 39-11 39-15 39-18 47-26 47-28 233-153 117-68 78-41 86-42 86-38 93-38 18 1-93 38-86 37-78 36-78 40-132 74-226 137-86 47-47 20-38 14-39 11-39 7-39 3-39 0-39-3-39-7-78-18-187-56-101-27-117-23-117-15-140-10-148-1-164 6-187 14z"/><path transform="translate(0 -408)" d="M12062 10677l187-14 164-6 148 1 140 9 117 15 117 24 101 26 187 56 78 19 39 6 39 4 39 0 39-3 39-7 39-11 38-14 47-21 86-46 226-138 132-74 78-39 78-36 86-38 93-37 18 1-171 70-156 73-132 70-226 129-78 40-47 20-47 17-46 12-39 7-39 4-39 1-39-3-47-6-78-16-195-50-101-23-117-19-116-13-133-6-148 0-164 7-179 14z"/><path transform="translate(0 -398)" d="M12080 10672l179-14 164-7 148-1 133 7 116 13 117 19 101 23 195 50 78 16 47 6 39 2 39 0 39-4 39-7 46-12 47-17 47-21 78-39 226-130 132-70 156-73 171-70 18 1-163 66-156 70-125 62-225 122-86 42-47 19-47 16-46 13-47 9-39 4-47 1-39-2-47-5-77-13-203-45-101-19-117-16-117-10-132-5-141 2-155 7-180 15z"/><path transform="translate(0 -388)" d="M12098 10666l180-14 155-8 141-1 132 4 117 10 117 17 101 19 203 44 77 14 47 5 39 1 47-1 39-4 47-8 46-13 47-16 47-20 86-41 225-122 125-63 156-70 163-65 19 1-156 61-148 64-125 59-234 119-85 39-55 22-47 15-46 12-47 9-39 4-47 2-46-1-47-4-86-13-195-36-101-16-117-14-117-8-132-3-140 3-156 8-171 14z"/><path transform="translate(0 -377)" d="M12117 10661l171-14 156-9 140-2 132 3 117 8 117 13 101 17 195 36 86 12 47 4 46 2 47-2 39-5 47-8 46-12 47-16 55-21 85-39 234-119 125-59 148-64 156-61 18 1-156 59-140 59-125 57-226 109-93 41-55 20-54 17-47 12-47 8-39 5-47 3-46-1-55-3-86-10-202-32-101-13-117-11-117-6-125-1-140 3-156 10-163 14z"/><path transform="translate(0 -367)" d="M12135 10656l163-15 156-9 140-4 125 2 117 6 117 11 101 13 202 31 86 11 55 3 46 0 47-2 39-5 47-8 47-12 54-17 55-21 93-41 226-108 125-57 140-59 156-59 18 1-148 55-133 54-124 54-226 103-101 42-55 20-55 17-54 13-47 9-47 5-46 3-94-2-93-8-203-26-109-12-117-8-117-4-124 0-140 5-148 10-156 14z"/><path transform="translate(0 -357)" d="M12153 10650l156-14 148-9 140-6 124 0 117 4 117 9 109 11 203 26 93 9 94 2 46-3 47-6 47-8 54-13 55-17 55-20 101-42 226-103 124-55 133-53 148-55 18 1-140 51-133 52-117 49-225 98-102 41-62 22-55 16-54 14-55 10-46 5-47 4-101-1-94-6-311-31-117-6-117-3-125 2-132 6-148 10-156 14z"/><path transform="translate(0 -346)" d="M12171 10645l156-14 148-11 132-5 125-2 117 3 117 6 311 30 94 7 101 0 47-3 46-6 55-10 54-13 55-17 62-22 102-40 225-99 117-48 133-52 140-52 18 2-132 47-133 50-343 141-101 39-62 22-62 18-55 13-55 10-93 9-109 2-94-5-319-24-117-5-117 0-124 3-133 6-140 11-148 14z"/><path transform="translate(0 -336)" d="M12189 10640l148-15 140-10 133-7 124-3 117 1 117 5 319 24 94 4 109-1 93-10 55-10 55-13 62-18 62-21 101-39 343-141 133-50 132-48 18 2-249 89-343 136-109 40-62 20-63 18-62 15-54 10-102 11-109 2-101-3-319-18-117-2-117 0-125 4-124 8-133 10-148 15z"/><path transform="translate(0 -326)" d="M12207 10634l148-14 133-11 124-7 125-4 117-1 117 3 319 17 101 4 109-3 102-11 54-9 62-15 63-18 62-20 109-41 343-135 249-90 18 2-233 82-343 130-117 42-70 22-62 17-63 14-62 11-101 11-109 4-102-2-319-12-117-1-117 2-124 5-125 8-132 11-141 14z"/><path transform="translate(0 -315)" d="M12225 10629l141-14 132-11 125-8 124-5 117-2 117 1 319 12 102 2 109-4 101-11 62-11 63-14 62-17 70-23 117-41 343-131 233-81 18 1-218 75-350 128-117 40-70 22-70 19-63 14-62 11-101 11-117 6-101-1-328-7-116 1-117 3-117 6-125 8-265 26z"/><path transform="translate(0 -305)" d="M12243 10624l265-26 125-9 117-5 117-4 116 0 328 7 101 0 117-5 101-12 62-11 63-14 70-18 70-22 117-40 350-129 218-74 19 1-203 68-351 124-124 42-70 21-70 18-71 16-62 11-109 13-117 6-101 1-335-2-234 6-233 16-257 26z"/><path transform="translate(0 -295)" d="M12262 10618l257-25 233-16 234-6 335 2 101-1 117-7 109-12 62-11 71-16 70-18 70-21 124-42 351-124 203-68 18 2-211 69-342 117-117 38-78 23-70 18-70 15-63 11-109 14-124 7-109 3-335 2-226 9-234 16-249 26z"/><path transform="translate(0 -284)" d="M12280 10613l249-26 234-17 226-8 335-3 109-2 124-8 109-13 63-11 70-16 70-18 78-22 117-38 342-118 211-69 18 2-203 65-335 112-124 39-148 40-71 15-70 13-116 15-125 9-444 10-234 10-226 18-241 26z"/><path transform="translate(0 -274)" d="M12298 10607l241-25 226-18 234-11 444-10 125-9 116-15 70-12 71-15 148-40 124-39 335-112 203-65 18 1-514 166-133 41-155 41-78 17-71 12-116 16-125 10-117 5-350 11-226 12-218 19-234 25z"/><path transform="translate(0 -264)" d="M12316 10602l234-25 218-19 226-13 350-10 117-5 125-10 116-16 71-12 78-17 155-42 133-40 514-166 18 2-491 154-148 45-163 43-78 16-70 13-117 16-133 11-467 21-234 15-210 19-226 25z"/><path transform="translate(0 -253)" d="M12334 10597l226-26 210-19 234-14 467-21 133-12 117-16 70-12 78-17 163-42 148-45 491-154 18 1-475 147-156 46-163 42-78 16-78 15-125 17-132 12-476 26-233 16-203 20-218 25z"/><path transform="translate(0 -243)" d="M12352 10591l218-25 203-19 233-17 476-25 132-12 125-18 78-14 78-17 163-41 156-46 475-147 18 2-459 139-172 49-171 43-156 30-125 18-132 13-483 30-226 17-202 20-211 25z"/><path transform="translate(0 -233)" d="M12370 10586l211-25 202-20 226-18 483-30 132-13 125-17 156-30 171-43 172-49 459-139 18 2-444 132-179 50-171 42-164 32-109 16-125 14-148 12-358 24-171 14-226 22-242 29z"/><path transform="translate(0 -222)" d="M12388 10581l242-29 226-23 171-13 358-24 148-12 125-14 109-16 164-32 171-42 179-51 444-131 18 2-428 125-187 52-179 43-164 32-117 17-124 14-678 55-226 23-234 29z"/><path transform="translate(0 -212)" d="M12406 10575l234-28 226-24 678-54 124-14 117-18 164-31 179-44 187-52 428-125 19 3-413 118-195 53-179 43-172 33-116 18-133 16-678 59-218 23-233 29z"/><path transform="translate(0 -202)" d="M12425 10570l233-29 218-24 678-58 133-16 116-18 172-33 179-43 195-53 413-119 18 3-398 112-202 54-187 45-171 33-125 19-133 16-677 63-218 24-226 29z"/><path transform="translate(0 -191)" d="M12443 10564l226-28 218-24 677-63 133-16 125-20 171-33 187-44 202-54 398-113 18 3-390 108-210 56-187 43-171 33-125 20-140 18-678 66-218 25-218 28z"/><path transform="translate(0 -181)" d="M12461 10559l218-28 218-25 678-67 140-18 125-19 171-33 187-44 210-55 390-109 18 3-382 105-218 56-187 43-179 35-132 20-141 18-670 70-210 25-218 28z"/><path transform="translate(0 -171)" d="M12479 10554l218-29 210-25 670-69 141-18 132-21 179-34 187-43 218-57 382-105 18 3-366 99-226 58-195 45-179 34-132 21-148 20-670 72-211 26-210 28z"/><path transform="translate(0 -160)" d="M12497 10548l210-28 211-25 670-73 148-19 132-21 179-34 195-45 226-58 366-99 18 2-358 96-226 58-195 44-187 36-140 22-148 20-670 76-413 53z"/><path transform="translate(0 -150)" d="M12515 10543l413-54 670-75 148-20 140-23 187-35 195-45 226-57 358-96 18 3-350 93-226 56-203 46-187 36-140 22-156 22-677 79-398 53z"/><path transform="translate(0 -140)" d="M12533 10538l398-53 677-79 156-22 140-23 187-35 203-46 226-57 350-93 18 3-342 90-234 58-203 45-187 36-148 24-155 22-678 82-390 53z"/><path transform="translate(0 -129)" d="M12551 10533l390-53 678-82 155-22 148-24 187-36 203-45 234-58 342-90 19 3-335 86-234 58-203 45-194 37-148 25-164 23-678 85-381 53z"/><path transform="translate(0 -119)" d="M12570 10527l381-52 678-85 164-23 148-25 194-37 203-45 234-58 335-87 18 3-327 84-242 59-210 46-195 38-156 25-163 24-670 86-374 52z"/><path transform="translate(0 -109)" d="M12588 10522l374-52 670-86 163-24 156-26 195-37 210-46 242-59 327-84 18 3-327 83-242 58-210 46-195 37-156 27-171 25-670 88-366 52z"/><path transform="translate(0 -98)" d="M12606 10517l366-52 670-88 171-26 156-26 195-37 210-46 242-58 327-84 18 3-319 81-242 58-210 46-203 39-156 26-179 27-670 90-358 52z"/><path transform="translate(0 -88)" d="M12624 10511l358-51 670-90 179-27 156-27 203-39 210-46 242-57 319-81 18 3-319 80-242 57-210 46-203 39-163 28-179 27-670 92-351 52z"/><path transform="translate(0 -78)" d="M12642 10506l351-51 670-92 179-28 163-27 203-39 210-46 242-57 319-80 18 3-311 77-242 57-218 47-203 39-163 29-187 28-670 95-343 50z"/><path transform="translate(0 -67)" d="M12660 10501l343-51 670-94 187-29 163-28 203-39 218-47 242-57 311-77 18 3-311 77-242 56-218 47-202 39-172 30-187 29-670 96-335 50z"/><path transform="translate(0 -57)" d="M12678 10496l335-50 670-96 187-30 172-29 202-39 218-47 242-57 311-76 18 3-303 74-242 56-218 47-210 41-172 30-187 30-677 98-328 50z"/><path transform="translate(0 -47)" d="M12696 10491l328-50 677-99 187-30 172-29 210-41 218-47 242-56 303-74 19 3-304 74-250 57-218 47-210 40-171 30-195 32-670 99-319 49z"/><path transform="translate(0 -36)" d="M12715 10485l319-49 670-99 195-31 171-30 210-41 218-46 250-57 304-74 18 3-296 72-250 57-226 48-210 41-179 31-195 32-981 149z"/><path transform="translate(0 -26)" d="M12733 10480l981-149 195-31 179-32 210-40 226-49 250-57 296-71 18 3-296 71-250 57-225 48-211 41-179 32-202 33-974 149z"/><path transform="translate(0 -16)" d="M12751 10475l974-150 202-33 179-31 211-41 225-48 250-57 296-71 18 4-296 70-249 57-219 46-218 42-187 34-202 33-966 150z"/><path transform="translate(0 -5)" d="M12769 10470l966-150 202-34 187-33 218-42 219-47 249-56 296-71 18 4-288 68-250 57-225 47-219 43-389 67-966 152z"/></g></g></g><path class="a" stroke-width="1.2" d="M1278.7 1186.8L1512.4 1136.8M1278.7 1186.8L1097.5 1122.2M1278.7 1186.8l6.2 2.2M1302.1 1181.8l6.2 2.2M1325.4 1176.8l6.2 2.2M1348.8 1171.8l6.2 2.2M1372.2 1166.8l6.2 2.2M1395.6 1161.8l6.2 2.2M1418.9 1156.8l6.2 2.2M1442.3 1151.8l6.2 2.2M1465.7 1146.8l6.2 2.2M1489 1141.8l6.2 2.2M1278.7 1186.8l-6.4 1.4M1260.6 1180.3l-6.4 1.4M1242.5 1173.9l-6.4 1.4M1224.3 1167.4l-6.4 1.4M1206.2 1161l-6.4 1.4M1188.1 1154.5l-6.4 1.4M1170 1148l-6.4 1.4M1151.9 1141.6l-6.4 1.4M1133.7 1135.1l-6.4 1.4M1115.6 1128.7l-6.4 1.4M1097.5 1122.2l-6.4 1.4"/><path fill="none" stroke="#333" stroke-width="1.2" d="M1097.5 1122.2L1097.5 982.4"/><path class="t" d="M1097.5 1122.2l-6.2 -2.2M1097.5 1096.9l-6.2 -2.2M1097.5 1071.6l-6.2 -2.2M1097.5 1046.3l-6.2 -2.2M1097.5 1021l-6.2 -2.2M1097.5 995.7l-6.2 -2.2"/><text transform="translate(1304.95 927.28) scale(.51 1)" font-size="11.19" text-anchor="middle" font-weight="bold">Parameter space</text><text transform="translate(1286.82 1200.68) scale(.51 1)" font-size="10.18">-5</text><text transform="translate(1310.19 1195.68) scale(.51 1)" font-size="10.18">-4</text><text transform="translate(1333.56 1190.68) scale(.51 1)" font-size="10.18">-3</text><text transform="translate(1356.93 1185.68) scale(.51 1)" font-size="10.18">-2</text><text transform="translate(1380.3 1180.68) scale(.51 1)" font-size="10.18">-1</text><text transform="translate(1403.67 1175.68) scale(.51 1)" font-size="10.18">0</text><text transform="translate(1427.04 1170.68) scale(.51 1)" font-size="10.18">1</text><text transform="translate(1450.41 1165.68) scale(.51 1)" font-size="10.18">2</text><text transform="translate(1473.78 1160.68) scale(.51 1)" font-size="10.18">3</text><text transform="translate(1271.18 1199.77) scale(.51 1)" font-size="10.18" text-anchor="end">-5</text><text transform="translate(1253.06 1193.31) scale(.51 1)" font-size="10.18" text-anchor="end">-4</text><text transform="translate(1234.94 1186.85) scale(.51 1)" font-size="10.18" text-anchor="end">-3</text><text transform="translate(1216.82 1180.39) scale(.51 1)" font-size="10.18" text-anchor="end">-2</text><text transform="translate(1198.7 1173.93) scale(.51 1)" font-size="10.18" text-anchor="end">-1</text><text transform="translate(1180.58 1167.47) scale(.51 1)" font-size="10.18" text-anchor="end">0</text><text transform="translate(1162.46 1161.01) scale(.51 1)" font-size="10.18" text-anchor="end">1</text><text transform="translate(1144.34 1154.55) scale(.51 1)" font-size="10.18" text-anchor="end">2</text><text transform="translate(1126.22 1148.09) scale(.51 1)" font-size="10.18" text-anchor="end">3</text><text transform="translate(1108.1 1141.63) scale(.51 1)" font-size="10.18" text-anchor="end">4</text><text transform="translate(1089.98 1135.17) scale(.51 1)" font-size="10.18" text-anchor="end">5</text><text transform="translate(1089.74 1124.14) scale(.51 1)" font-size="10.18" text-anchor="end">-0.6</text><text transform="translate(1089.74 1098.84) scale(.51 1)" font-size="10.18" text-anchor="end">-0.5</text><text transform="translate(1089.74 1073.55) scale(.51 1)" font-size="10.18" text-anchor="end">-0.4</text><text transform="translate(1089.74 1048.25) scale(.51 1)" font-size="10.18" text-anchor="end">-0.3</text><text transform="translate(1089.74 1022.96) scale(.51 1)" font-size="10.18" text-anchor="end">-0.2</text><text transform="translate(1089.74 997.66) scale(.51 1)" font-size="10.18" text-anchor="end">-0.1</text><text transform="translate(1356.42 1211.16) scale(.51 1)" font-size="11.19" text-anchor="middle">x<tspan dy="4.7" font-size="8.95">1</tspan></text><text transform="translate(1212.62 1207.36) scale(.51 1)" font-size="11.19" text-anchor="middle">x<tspan dy="4.7" font-size="8.95">2</tspan></text><text transform="translate(1075.78 1052.8) scale(.51 1) rotate(-90)" font-size="12.31" text-anchor="middle">F23( x<tspan dy="3.69" font-size="9.85">1</tspan><tspan dy="-3.69"> , x</tspan><tspan dy="3.69" font-size="9.85">2</tspan><tspan dy="-3.69"> )</tspan></text><text class="b" x="1199.4" y="1319.9">F23</text></g>
</svg></body></html>
